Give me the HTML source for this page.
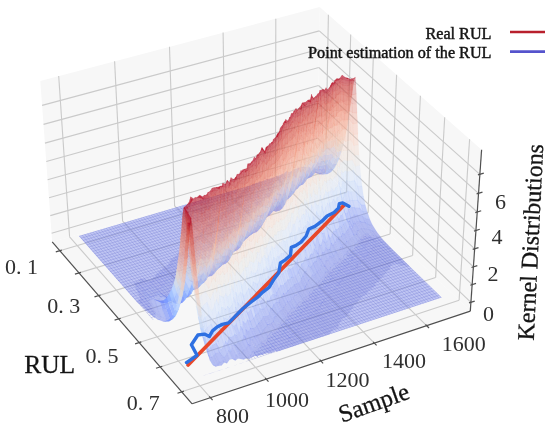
<!DOCTYPE html>
<html><head><meta charset="utf-8"><style>html,body{margin:0;padding:0;background:#fff;overflow:hidden}svg{display:block;filter:blur(0.35px)}</style></head>
<body><svg width="550" height="430" viewBox="0 0 550 430"><path d="M52.2 241.9 192.1 403.8 470.3 311.1 317.2 163.9Z" fill="#f7f7f7"/><path d="M52.2 241.9 317.2 163.9 319.7 7.1 40.3 80.9Z" fill="#f7f7f7"/><path d="M317.2 163.9 470.3 311.1 481.6 149.7 319.7 7.1Z" fill="#f7f7f7"/><g stroke="#cacaca" stroke-width="1.1"><path d="M69.6 236.8L210.4 397.7"/><path d="M69.6 236.8L58.7 76"/><path d="M122.6 221.2L266.2 379.1"/><path d="M122.6 221.2L114.6 61.3"/><path d="M174.6 205.9L320.8 360.9"/><path d="M174.6 205.9L169.5 46.8"/><path d="M225.5 190.9L374.3 343.1"/><path d="M225.5 190.9L223.1 32.6"/><path d="M275.5 176.2L426.6 325.6"/><path d="M275.5 176.2L275.8 18.7"/><path d="M59.8 250.7L325.6 171.9"/><path d="M325.6 171.9L328.4 14.8"/><path d="M79 272.9L346.6 192.1"/><path d="M346.6 192.1L350.7 34.4"/><path d="M98.6 295.6L368.1 212.8"/><path d="M368.1 212.8L373.4 54.4"/><path d="M118.7 318.8L390.1 233.9"/><path d="M390.1 233.9L396.6 74.8"/><path d="M139.2 342.6L412.6 255.5"/><path d="M412.6 255.5L420.4 95.8"/><path d="M160.2 366.9L435.6 277.6"/><path d="M435.6 277.6L444.7 117.2"/><path d="M181.8 391.8L459.1 300.2"/><path d="M459.1 300.2L469.6 139.1"/><path d="M51.6 233.2L317.4 155.3"/><path d="M317.4 155.3L470.9 302.3"/><path d="M50.3 215.6L317.6 138.2"/><path d="M317.6 138.2L472.2 284.7"/><path d="M49 197.8L317.9 120.8"/><path d="M317.9 120.8L473.4 266.9"/><path d="M47.6 179.8L318.2 103.2"/><path d="M318.2 103.2L474.7 248.8"/><path d="M46.3 161.5L318.5 85.5"/><path d="M318.5 85.5L475.9 230.5"/><path d="M44.9 143.1L318.8 67.5"/><path d="M318.8 67.5L477.2 212"/><path d="M43.5 124.4L319 49.3"/><path d="M319 49.3L478.5 193.3"/><path d="M42.1 105.4L319.3 30.9"/><path d="M319.3 30.9L479.9 174.3"/></g><g stroke="#505050" stroke-width="1.2"><path d="M52.2 241.9L192.1 403.8"/><path d="M192.1 403.8L470.3 311.1"/><path d="M470.3 311.1L481.6 149.7"/><path d="M61.8 250.1L55.8 251.9"/><path d="M81 272.3L74.9 274.1"/><path d="M100.6 295L94.5 296.9"/><path d="M120.7 318.2L114.6 320.1"/><path d="M141.3 341.9L135.1 343.9"/><path d="M162.3 366.2L156 368.3"/><path d="M183.9 391.1L177.5 393.2"/><path d="M209.3 396.4L212.6 400.2"/><path d="M265.1 377.9L268.5 381.6"/><path d="M319.7 359.7L323.1 363.3"/><path d="M373.1 341.9L376.6 345.4"/><path d="M425.5 324.5L429 328"/><path d="M469 302.9L474.7 301.1"/><path d="M470.3 285.3L476 283.4"/><path d="M471.5 267.5L477.3 265.6"/><path d="M472.7 249.4L478.5 247.6"/><path d="M474 231.1L479.8 229.3"/><path d="M475.3 212.6L481.2 210.8"/><path d="M476.6 193.9L482.5 192.1"/><path d="M477.9 174.9L483.8 173.1"/></g><defs><clipPath id="fc"><path d="M78.8 236.1 308.5 168.4 312.4 172.2 308.2 171.3 305 171.2 301.1 170.6 298.7 171.3 296.2 172 293.8 172.7 292.8 174.9 290.7 176 289.5 178 288 179.7 286.4 181.2 284.6 182.6 282.7 184 281.7 186.1 278.8 186.5 278.8 189.6 276.7 190.8 275 192.4 272.9 193.5 271.1 194.9 269.9 197 267.7 198 265.8 199.3 264.2 201 262.4 202.5 261.1 204.5 259.2 205.9 257.1 207.1 256.2 209.4 254.6 211.1 253.1 212.9 251.4 214.5 250.1 216.6 248.4 218.2 246 219.1 244.4 220.9 243 222.9 241.5 224.7 240.9 227.5 238.3 228.3 236 229.3 234.3 231 233 233.1 230.8 234.3 229.1 235.9 227.7 238 226.3 240 223.5 240.6 222 242.5 219.9 243.8 219.2 246.6 217.3 248.1 216 250.3 213.7 251.4 212.2 253.4 210.2 254.8 209.4 257.6 207.2 258.8 205.2 260.3 203.1 261.7 201.3 263.4 199.4 265 198.6 267.8 196.8 269.5 193.5 269.7 192.8 272.6 190.5 273.8 188.7 275.6 186.1 276.5 185.7 279.7 183.9 281.5 182.5 283.7 179.7 284.4 178 286.3 175.9 287.8 174.3 289.8 172.1 291.2 171 293.8 168.8 295.2 167.3 297.4 164.4 298 159.8 296.7 156 296.3 154.3 298.3 152 299.6 149.4 300.6 152.2 307.6 155.7 315.6 154.8 318.5 152.6 320ZM202.1 376.1 204.8 375.2 207.6 374.3 210.4 373.4 213.2 372.5 216 371.6 218.7 370.7 221.5 369.7 224.3 368.8 227.1 367.9 229.8 367 232.6 366.1 235.3 365.2 238.1 364.3 240.8 363.4 243.6 362.5 246.2 361.5 247.9 359.4 250.8 358.6 252.1 356.2 254 354.4 254.3 350.9 256.9 349.9 258.7 347.9 261.1 346.7 261.7 343.5 265.1 343.4 266.8 341.5 267.6 338.5 269.5 336.8 271.3 335 273.4 333.4 275.4 331.8 277.7 330.5 278.3 327.5 280.4 326 281.8 323.8 284.2 322.6 285.4 320.2 287.4 318.6 288 315.6 290.2 314.2 291.6 312.1 294.4 311.5 295.8 309.3 297.2 307.1 298.9 305.3 301.2 304.1 302.4 301.8 304.1 299.9 306.5 298.9 309.1 298 309.6 295 311.1 293 312.5 290.9 314 289 316.5 288 318.2 286.3 319.4 284.1 321.1 282.3 322.6 280.4 324.2 278.6 325.1 276 327.2 274.7 329.1 273.2 330.4 271.1 332.2 269.5 333.7 267.7 335.7 266.3 337.9 265.1 339.1 262.9 340.9 261.4 343 260.2 344.7 258.5 346.8 257.2 346.7 253.9 349.7 253.5 350.7 251.1 352.5 249.7 354.3 248.2 356 246.5 357.5 244.7 358.6 242.6 360.7 241.4 361.4 238.9 363 237.2 365 235.9 368.2 235.8 373.2 237.5 376.5 237.5 380.9 238.5 441.7 297.4 202.1 376.1Z"/></clipPath></defs><g fill="#7d8aee" fill-opacity="0.45"><path d="M78.8 236.1 308.5 168.4 308.5 168.4 306 169.1 303.6 169.8 301.1 170.6 298.7 171.3 296.2 172 293.8 172.7 291.3 173.5 288.9 174.2 286.4 174.9 283.9 175.6 281.5 176.4 279 177.1 276.5 177.8 274.1 178.6 271.6 179.3 269.1 180 266.6 180.7 264.1 181.5 261.7 182.2 259.2 182.9 256.7 183.7 254.2 184.4 251.7 185.2 249.2 185.9 246.8 186.7 245.5 188.7 243.6 190 241.5 191.2 240.6 193.5 238.9 195.2 237.4 197 235.7 198.5 234.4 200.6 232.7 202.1 230.3 203.1 228.8 204.8 227.4 206.7 225.8 208.5 225.2 211.3 222.7 212 220.3 213 218.6 214.7 217.3 216.8 215.2 217.9 213.4 219.6 212 221.6 210.6 223.5 207.9 224.1 206.4 226 204.3 227.3 203.5 230.1 201.6 231.5 200.3 233.7 198 234.7 196.6 236.8 194.5 238.1 193.7 240.9 191.5 242 189.5 243.5 187.5 244.9 185.6 246.6 183.7 248.1 182.9 250.9 181.1 252.6 177.9 252.7 177.2 255.6 174.8 256.7 173.1 258.5 170.5 259.4 170.1 262.6 168.2 264.3 166.8 266.5 164 267.1 162.3 269 160.3 270.5 158.6 272.4 156.5 273.8 155.4 276.4 153.2 277.8 151.6 279.9 148.8 280.5 144.2 279.2 140.4 278.8 138.8 280.8 136.4 282.1 133.8 283 136.6 290 140 297.8 139.1 300.7 136.9 302.1Z"/><path d="M202.1 376.1 204.8 375.2 207.6 374.3 210.4 373.4 213.2 372.5 216 371.6 218.7 370.7 221.5 369.7 224.3 368.8 227.1 367.9 229.8 367 232.6 366.1 235.3 365.2 238.1 364.3 240.8 363.4 243.6 362.5 246.3 361.6 249.1 360.7 251.8 359.8 254.5 358.9 257.3 358 260 357.1 262.7 356.2 265.5 355.3 268.2 354.4 270.9 353.5 273.6 352.6 276.3 351.7 279 350.8 281.7 349.9 284.5 349.1 287.2 348.2 289.9 347.3 292.5 346.4 295.2 345.5 297.9 344.6 300.6 343.7 303.3 342.9 306 342 308.7 341.1 311.3 340.2 314 339.3 316.7 338.5 319.4 337.6 322 336.7 324.7 335.8 327.3 335 329.9 334 331.1 331.6 332.8 329.7 335.2 328.6 337.8 327.7 338.3 324.6 339.8 322.6 341.2 320.4 342.7 318.5 345.2 317.4 346.9 315.7 348.1 313.3 349.8 311.6 351.3 309.6 352.9 307.7 353.7 305.1 355.8 303.7 357.7 302.2 359 300 360.8 298.4 362.4 296.5 364.3 295 366.6 293.8 367.7 291.6 369.5 290 371.7 288.7 373.3 286.9 375.4 285.7 375.3 282.2 378.3 281.8 379.2 279.4 381.1 277.9 382.9 276.4 384.6 274.7 386 272.8 387.1 270.6 389.3 269.4 389.9 266.8 391.5 265 393.6 263.8 396.8 263.6 401.9 265.3 405.2 265.3 409.6 266.3 441.7 297.4 202.1 376.1Z"/></g><g clip-path="url(#fc)" stroke="#5560c8" stroke-opacity="0.45" stroke-width="0.5"><path d="M78.8 236.1L308.5 168.4"/><path d="M80.8 238.3L310.6 170.4"/><path d="M82.7 240.5L312.6 172.4"/><path d="M84.6 242.7L314.7 174.5"/><path d="M86.5 244.9L316.8 176.5"/><path d="M88.5 247.1L318.9 178.5"/><path d="M90.4 249.3L321 180.6"/><path d="M92.4 251.5L323.1 182.6"/><path d="M94.3 253.7L325.3 184.6"/><path d="M96.3 255.9L327.4 186.7"/><path d="M98.2 258.2L329.5 188.7"/><path d="M100.2 260.4L331.6 190.8"/><path d="M102.2 262.6L333.7 192.9"/><path d="M104.1 264.9L335.9 194.9"/><path d="M106.1 267.1L338 197"/><path d="M108.1 269.4L340.2 199.1"/><path d="M110.1 271.6L342.3 201.2"/><path d="M112.1 273.9L344.5 203.2"/><path d="M114 276.1L346.6 205.3"/><path d="M116 278.4L348.8 207.4"/><path d="M118 280.7L351 209.5"/><path d="M120.1 283L353.1 211.6"/><path d="M122.1 285.3L355.3 213.7"/><path d="M124.1 287.5L357.5 215.8"/><path d="M126.1 289.8L359.7 218"/><path d="M128.1 292.1L361.9 220.1"/><path d="M130.2 294.5L364.1 222.2"/><path d="M132.2 296.8L366.3 224.3"/><path d="M134.2 299.1L368.5 226.5"/><path d="M136.3 301.4L370.7 228.6"/><path d="M138.3 303.7L372.9 230.8"/><path d="M140.4 306.1L375.1 232.9"/><path d="M142.4 308.4L377.3 235.1"/><path d="M144.5 310.7L379.6 237.2"/><path d="M146.6 313.1L381.8 239.4"/><path d="M148.6 315.5L384 241.6"/><path d="M150.7 317.8L386.3 243.7"/><path d="M152.8 320.2L388.5 245.9"/><path d="M154.9 322.5L390.8 248.1"/><path d="M157 324.9L393.1 250.3"/><path d="M159.1 327.3L395.3 252.5"/><path d="M161.2 329.7L397.6 254.7"/><path d="M163.3 332.1L399.9 256.9"/><path d="M165.4 334.5L402.1 259.1"/><path d="M167.5 336.9L404.4 261.3"/><path d="M169.6 339.3L406.7 263.5"/><path d="M171.8 341.7L409 265.7"/><path d="M173.9 344.1L411.3 268"/><path d="M176 346.6L413.6 270.2"/><path d="M178.2 349L415.9 272.4"/><path d="M180.3 351.4L418.2 274.7"/><path d="M182.5 353.9L420.6 276.9"/><path d="M184.6 356.3L422.9 279.2"/><path d="M186.8 358.8L425.2 281.4"/><path d="M189 361.2L427.6 283.7"/><path d="M191.1 363.7L429.9 286"/><path d="M193.3 366.2L432.2 288.2"/><path d="M195.5 368.7L434.6 290.5"/><path d="M197.7 371.2L437 292.8"/><path d="M199.9 373.6L439.3 295.1"/><path d="M202.1 376.1L441.7 297.4"/><path d="M76.7 236.8L199.8 376.9"/><path d="M79.4 236L202.6 376"/><path d="M82.1 235.2L205.4 375"/><path d="M84.7 234.4L208.2 374.1"/><path d="M87.4 233.6L211.1 373.2"/><path d="M90.1 232.8L213.9 372.3"/><path d="M92.8 232L216.7 371.3"/><path d="M95.5 231.2L219.5 370.4"/><path d="M98.1 230.5L222.3 369.5"/><path d="M100.8 229.7L225 368.6"/><path d="M103.5 228.9L227.8 367.7"/><path d="M106.1 228.1L230.6 366.8"/><path d="M108.8 227.3L233.4 365.8"/><path d="M111.5 226.5L236.2 364.9"/><path d="M114.1 225.7L239 364"/><path d="M116.8 225L241.7 363.1"/><path d="M119.4 224.2L244.5 362.2"/><path d="M122.1 223.4L247.3 361.3"/><path d="M124.7 222.6L250 360.4"/><path d="M127.3 221.8L252.8 359.5"/><path d="M130 221.1L255.6 358.6"/><path d="M132.6 220.3L258.3 357.6"/><path d="M135.3 219.5L261.1 356.7"/><path d="M137.9 218.7L263.8 355.8"/><path d="M140.5 217.9L266.6 354.9"/><path d="M143.1 217.2L269.3 354"/><path d="M145.8 216.4L272.1 353.1"/><path d="M148.4 215.6L274.8 352.2"/><path d="M151 214.9L277.5 351.3"/><path d="M153.6 214.1L280.3 350.4"/><path d="M156.2 213.3L283 349.5"/><path d="M158.9 212.5L285.7 348.6"/><path d="M161.5 211.8L288.5 347.7"/><path d="M164.1 211L291.2 346.9"/><path d="M166.7 210.2L293.9 346"/><path d="M169.3 209.5L296.6 345.1"/><path d="M171.9 208.7L299.3 344.2"/><path d="M174.5 207.9L302 343.3"/><path d="M177.1 207.2L304.7 342.4"/><path d="M179.7 206.4L307.4 341.5"/><path d="M182.2 205.6L310.1 340.6"/><path d="M184.8 204.9L312.8 339.7"/><path d="M187.4 204.1L315.5 338.8"/><path d="M190 203.4L318.2 338"/><path d="M192.6 202.6L320.9 337.1"/><path d="M195.1 201.8L323.6 336.2"/><path d="M197.7 201.1L326.3 335.3"/><path d="M200.3 200.3L329 334.4"/><path d="M202.9 199.6L331.7 333.5"/><path d="M205.4 198.8L334.3 332.7"/><path d="M208 198L337 331.8"/><path d="M210.5 197.3L339.7 330.9"/><path d="M213.1 196.5L342.3 330"/><path d="M215.7 195.8L345 329.2"/><path d="M218.2 195L347.7 328.3"/><path d="M220.8 194.3L350.3 327.4"/><path d="M223.3 193.5L353 326.5"/><path d="M225.9 192.8L355.6 325.7"/><path d="M228.4 192L358.3 324.8"/><path d="M230.9 191.3L360.9 323.9"/><path d="M233.5 190.5L363.6 323"/><path d="M236 189.8L366.2 322.2"/><path d="M238.5 189L368.9 321.3"/><path d="M241.1 188.3L371.5 320.4"/><path d="M243.6 187.5L374.1 319.6"/><path d="M246.1 186.8L376.8 318.7"/><path d="M248.7 186.1L379.4 317.8"/><path d="M251.2 185.3L382 317"/><path d="M253.7 184.6L384.7 316.1"/><path d="M256.2 183.8L387.3 315.3"/><path d="M258.7 183.1L389.9 314.4"/><path d="M261.2 182.3L392.5 313.5"/><path d="M263.7 181.6L395.1 312.7"/><path d="M266.2 180.9L397.7 311.8"/><path d="M268.7 180.1L400.3 311"/><path d="M271.2 179.4L402.9 310.1"/><path d="M273.7 178.6L405.5 309.3"/><path d="M276.2 177.9L408.1 308.4"/><path d="M278.7 177.2L410.7 307.5"/><path d="M281.2 176.4L413.3 306.7"/><path d="M283.7 175.7L415.9 305.8"/><path d="M286.2 175L418.5 305"/><path d="M288.7 174.2L421.1 304.1"/><path d="M291.2 173.5L423.7 303.3"/><path d="M293.7 172.8L426.3 302.4"/><path d="M296.1 172L428.8 301.6"/><path d="M298.6 171.3L431.4 300.8"/><path d="M301.1 170.6L434 299.9"/><path d="M303.5 169.9L436.6 299.1"/><path d="M306 169.1L439.1 298.2"/><path d="M308.5 168.4L441.7 297.4"/></g><g fill-opacity="0.45" stroke-opacity="0.12" stroke-width="0.5"><path d="M306.1 167.2l2.4-.7 4 2.9-4.2-.6z" fill="#5b6ae1" stroke="#5b6ae1"/><path d="M303.6 166.7l2.4 .5 2.2 1.6-3.2-1.2z" fill="#5c6ce2" stroke="#5c6ce2"/><path d="M301.2 167.4l2.5-.7 1.4 1-3.9-.3z" fill="#5d6de4" stroke="#5d6de4"/><path d="M298.7 167.9l2.5-.5 4.6 2.5-3.1 .2z" fill="#5e70e6" stroke="#5e70e6"/><path d="M291.3 171.5l2.5-2.2-0 .1-1 3.2z" fill="#5c6ce2" stroke="#5c6ce2"/><path d="M301.2 167.3l3.9 .3 5.5 2.9-4.8-.7z" fill="#6072e8" stroke="#6072e8"/><path d="M308.3 168.8l4.2 .6 5.5 3.2-4.2-.4z" fill="#5e6fe5" stroke="#5e6fe5"/><path d="M305.1 167.7l3.2 1.2 5.5 3.4-3.2-1.7z" fill="#5e70e6" stroke="#5e70e6"/><path d="M296.3 169.1l2.5-1.3 3.9 2.2-2 1.8z" fill="#5f70e6" stroke="#5f70e6"/><path d="M288.9 172l2.5-.5 1.5 1.1-2.2 .7z" fill="#5b6ae1" stroke="#5b6ae1"/><path d="M293.8 169.4l2.5-.3 4.4 2.7-1.6 .4z" fill="#5e70e6" stroke="#5e70e6"/><path d="M286.4 171.5l2.5 .5 1.8 1.4-1.1 .1z" fill="#5d6de4" stroke="#5d6de4"/><path d="M292.8 172.7l1-3.3 5.2 2.8-.7 4z" fill="#5d6fe5" stroke="#5d6fe5"/><path d="M284 173.6l2.5-2.1 3.1 2-1.5 3.1z" fill="#5d6de4" stroke="#5d6de4"/><path d="M290.7 173.4l2.1-.7 5.5 3.5-2.1 .6z" fill="#5c6de4" stroke="#5c6de4"/><path d="M281.5 174.4l2.5-.8 4.1 2.9-1.7 1.5z" fill="#5c6ce2" stroke="#5c6ce2"/><path d="M274.1 177.2l2.5-1.2-0-0-1.6 2z" fill="#5a69e0" stroke="#5a69e0"/><path d="M302.7 170.1l3.1-.2 5.3 1.7-3.1-.3z" fill="#647aee" stroke="#647aee"/><path d="M279 175.8l2.5-1.4 4.9 3.6-1.8 2.2z" fill="#5b6ae1" stroke="#5b6ae1"/><path d="M271.6 178l2.5-.8 .9 .8-2.9 .5z" fill="#5967de" stroke="#5967de"/><path d="M300.7 171.8l2-1.8 5.4 1.3-2.1 2.3z" fill="#6378ec" stroke="#6378ec"/><path d="M305.8 169.9l4.8 .6 5.4 1.1-4.9-0z" fill="#657bef" stroke="#657bef"/><path d="M313.8 172.2l4.2 .4 5.4 1.6-4.2-.1z" fill="#6276eb" stroke="#6276eb"/><path d="M310.6 170.5l3.2 1.7 5.4 2-3.2-2.6z" fill="#647aee" stroke="#647aee"/><path d="M276.5 176l2.5-.2 5.5 4.4-1.8 .4z" fill="#5b6ae1" stroke="#5b6ae1"/><path d="M269.1 178.9l2.5-.9 .5 .4-.1 3z" fill="#5967de" stroke="#5967de"/><path d="M289.6 173.5l1.1-.1 5.5 3.4-1.1-.8z" fill="#5f72e8" stroke="#5f72e8"/><path d="M299.1 172.2l1.6-.4 5.3 1.7-1.6 .1z" fill="#6378ec" stroke="#6378ec"/><path d="M275 177.9l1.6-2 6.2 4.6-1.1 2.6z" fill="#5b6ae1" stroke="#5b6ae1"/><path d="M266.6 179.2l2.5-.3 2.9 2.5-2.1 .6z" fill="#5a69e0" stroke="#5a69e0"/><path d="M288.1 176.5l1.5-3.1 5.5 2.5-1.5 3.6z" fill="#6073e9" stroke="#6073e9"/><path d="M272.1 178.4l2.8-.5 6.8 5.2-2.9 .6z" fill="#5b6ae1" stroke="#5b6ae1"/><path d="M298.3 176.2l.8-3.9 5.3 1.4-.8 4.5z" fill="#6378ec" stroke="#6378ec"/><path d="M264.1 180.5l2.5-1.2 3.3 2.7-1.6 2.2z" fill="#5967de" stroke="#5967de"/><path d="M286.4 178l1.6-1.5 5.5 3-1.6 1.6z" fill="#5e70e6" stroke="#5e70e6"/><path d="M261.7 181.6l2.5-1.1 4.2 3.7-2.1 1.5z" fill="#5967df" stroke="#5967df"/><path d="M254.2 184.4l2.5-.7-0-.5-2.4 .7z" fill="#5764dc" stroke="#5764dc"/><path d="M296.2 176.8l2.1-.6 5.4 2-2.2 .4z" fill="#6277eb" stroke="#6277eb"/><path d="M272 181.4l.1-3 6.7 5.3-.1 2.9z" fill="#5b6ae1" stroke="#5b6ae1"/><path d="M284.6 180.2l1.8-2.2 5.5 3.1-1.8 2.6z" fill="#5d6fe5" stroke="#5d6fe5"/><path d="M251.7 185.2l2.5-.7 .1-.5-1.9 .8z" fill="#5764dc" stroke="#5764dc"/><path d="M259.2 181.6l2.5-.1 4.6 4.2-1.9 .3z" fill="#5967df" stroke="#5967df"/><path d="M308 171.3l3.1 .2 4.1-.4-3.1 0z" fill="#6d86f6" stroke="#6d86f6" fill-opacity=".6"/><path d="M306 173.6l2-2.3 4.1-.2-2 2.4z" fill="#6b84f5" stroke="#6b84f5" fill-opacity=".6"/><path d="M319.2 174.2l4.2 .1 4.2-.3-4.3 0z" fill="#6a83f4" stroke="#6a83f4" fill-opacity=".5"/><path d="M249.2 185.9l2.5-.7 .7-.4-1.6 2.1z" fill="#5764dc" stroke="#5764dc"/><path d="M311.1 171.5l4.8 .1 4.2-.9-4.9 .4z" fill="#6d87f7" stroke="#6d87f7" fill-opacity=".6"/><path d="M282.7 180.5l1.8-.3 5.5 3.5-1.8-.2z" fill="#5d6fe5" stroke="#5d6fe5"/><path d="M256.7 183.2l2.5-1.5 5.2 4.4-1.2 3.1z" fill="#5967df" stroke="#5967df"/><path d="M316 171.6l3.2 2.6 4.1-.2-3.2-3.2z" fill="#6d85f6" stroke="#6d85f6" fill-opacity=".6"/><path d="M269.9 182l2.1-.6 6.7 5.2-2.1 .3z" fill="#5c6ce3" stroke="#5c6ce3"/><path d="M295.1 175.9l1.1 .8 5.4 1.8-1.2-1.8z" fill="#667df0" stroke="#667df0"/><path d="M254.3 183.9l2.4-.8 6.5 6-2.2 .9z" fill="#5865dd" stroke="#5865dd"/><path d="M246.8 186.7l2.4-.8 1.7 1-1.9 1.1z" fill="#5764dc" stroke="#5764dc"/><path d="M304.4 173.6l1.6-.1 4-.1-1.5-.5z" fill="#6b84f5" stroke="#6b84f5" fill-opacity=".6"/><path d="M281.7 183.1l1-2.6 5.5 3-1 2.8z" fill="#5e70e6" stroke="#5e70e6"/><path d="M268.3 184.1l1.6-2.1 6.8 4.8-1.7 2.5z" fill="#5c6ce3" stroke="#5c6ce3"/><path d="M252.4 184.8l1.9-.8 6.7 6.1-1.9 .4z" fill="#5967df" stroke="#5967df"/><path d="M245.5 188.7l1.3-1.9 2.2 1.3-1.3 2.6z" fill="#5764dc" stroke="#5764dc"/><path d="M293.5 179.5l1.5-3.5 5.4 .8-1.6 4.1z" fill="#677ef1" stroke="#677ef1"/><path d="M303.7 178.2l.8-4.5 4-.8-.7 5.5z" fill="#6b84f5" stroke="#6b84f5" fill-opacity=".6"/><path d="M266.2 185.7l2.1-1.6 6.7 5.2-2.1 2z" fill="#5a69e0" stroke="#5a69e0"/><path d="M278.9 183.7l2.8-.6 5.5 3.2-2.8 .6z" fill="#5d6fe5" stroke="#5d6fe5"/><path d="M291.9 181.1l1.6-1.6 5.4 1.4-1.7 1.6z" fill="#657bef" stroke="#657bef"/><path d="M250.8 186.9l1.6-2.2 6.6 5.7-1.5 2.6z" fill="#5967df" stroke="#5967df"/><path d="M301.5 178.6l2.1-.4 4.1 .2-2.1-.1z" fill="#6981f3" stroke="#6981f3" fill-opacity=".5"/><path d="M243.6 190l1.9-1.4 2.2 2.1-1.9 1z" fill="#5764dc" stroke="#5764dc"/><path d="M264.4 186l1.8-.3 6.8 5.5-1.9-.4z" fill="#5b6ae1" stroke="#5b6ae1"/><path d="M278.8 186.6l.1-2.9 5.5 3.1-.1 3z" fill="#5d6fe5" stroke="#5d6fe5"/><path d="M290 183.7l1.9-2.6 5.3 1.3-1.9 3.3z" fill="#6378ec" stroke="#6378ec"/><path d="M312.1 171.1l3.1-0 3.7-2-3.1-0z" fill="#7794ff" stroke="#7794ff" fill-opacity=".8"/><path d="M249 188l1.8-1.1 6.7 6.1-1.8 .8z" fill="#5967df" stroke="#5967df"/><path d="M241.5 191.2l2.1-1.2 2.2 1.7-2.1 .8z" fill="#5764dc" stroke="#5764dc"/><path d="M310.1 173.4l2-2.3 3.8-2.1-2.1 2.5z" fill="#7692fe" stroke="#7692fe" fill-opacity=".8"/><path d="M323.3 174l4.2 0 3.9-2.3-4.3 .5z" fill="#748ffc" stroke="#748ffc" fill-opacity=".7"/><path d="M315.2 171.1l4.9-.3 3.8-2.8-5 1.1z" fill="#7997ff" stroke="#7997ff" fill-opacity=".8"/><path d="M263.2 189.2l1.2-3.1 6.7 4.7-1.2 4z" fill="#5b6ae1" stroke="#5b6ae1"/><path d="M288.2 183.6l1.8 .2 5.3 2-1.8-.9z" fill="#6378ec" stroke="#6378ec"/><path d="M320.1 170.8l3.2 3.3 3.8-1.9-3.2-4.1z" fill="#7794ff" stroke="#7794ff" fill-opacity=".8"/><path d="M247.7 190.7l1.3-2.7 6.7 5.9-1.3 3.2z" fill="#5865dd" stroke="#5865dd"/><path d="M300.4 176.8l1.1 1.8 4.1-.3-1.1-2.6z" fill="#6e88f8" stroke="#6e88f8" fill-opacity=".6"/><path d="M276.7 186.9l2.1-.2 5.5 3.2-2.1-.3z" fill="#5f72e8" stroke="#5f72e8"/><path d="M308.5 172.9l1.6 .5 3.7-1.8-1.6-1z" fill="#7794ff" stroke="#7794ff" fill-opacity=".8"/><path d="M240.6 193.5l.9-2.3 2.3 1.2-1 2.8z" fill="#5764dc" stroke="#5764dc"/><path d="M261 190l2.2-.9 6.7 5.6-2.2 .7z" fill="#5a69e0" stroke="#5a69e0"/><path d="M245.8 191.7l1.9-1 6.7 6.4-1.9 .8z" fill="#5866dd" stroke="#5866dd"/><path d="M287.2 186.4l1-2.8 5.4 1.3-1.1 3.1z" fill="#6479ed" stroke="#6479ed"/><path d="M275.1 189.3l1.6-2.5 5.5 2.7-1.6 2.9z" fill="#5f72e8" stroke="#5f72e8"/><path d="M307.7 178.3l.8-5.4 3.7-2.4-.8 6.3z" fill="#7693fe" stroke="#7693fe" fill-opacity=".8"/><path d="M259.1 190.5l1.9-.4 6.7 5.4-1.9-.1z" fill="#5b6ae1" stroke="#5b6ae1"/><path d="M238.9 195.2l1.6-1.7 2.3 1.7-1.7 1.4z" fill="#5764dc" stroke="#5764dc"/><path d="M298.9 180.9l1.5-4.1 4.1-1.2-1.5 5z" fill="#718bfa" stroke="#718bfa" fill-opacity=".7"/><path d="M272.9 191.3l2.1-1.9 5.5 3.1-2.1 2.5z" fill="#5e6fe5" stroke="#5e6fe5"/><path d="M284.3 186.9l2.9-.5 5.3 1.6-2.9 .6z" fill="#6378ec" stroke="#6378ec"/><path d="M243.7 192.5l2.1-.8 6.7 6.2-2.1 .5z" fill="#5967df" stroke="#5967df"/><path d="M305.6 178.3l2.1 .1 3.7-1.6-2.1-.4z" fill="#738efb" stroke="#738efb" fill-opacity=".7"/><path d="M297.2 182.5l1.6-1.6 4.1-.3-1.6 1.4z" fill="#6e87f7" stroke="#6e87f7" fill-opacity=".6"/><path d="M257.5 193l1.6-2.6 6.7 4.9-1.6 3.2z" fill="#5b6ae1" stroke="#5b6ae1"/><path d="M237.4 197l1.5-1.8 2.2 1.5-1.5 1.6z" fill="#5764dc" stroke="#5764dc"/><path d="M271.1 190.8l1.8 .5 5.5 3.6-1.8-1.3z" fill="#5e70e6" stroke="#5e70e6"/><path d="M295.4 185.8l1.9-3.3 4-.5-1.9 3.7z" fill="#6b84f5" stroke="#6b84f5" fill-opacity=".6"/><path d="M315.8 169.1l3.1 .1 2.8-3.5-3.1-0z" fill="#87a7ff" stroke="#87a7ff" fill-opacity=".8"/><path d="M284.3 189.8l.1-3 5.3 1.8-.1 2.8z" fill="#6378ec" stroke="#6378ec"/><path d="M313.8 171.6l2.1-2.5 2.7-3.4-2 2.7z" fill="#84a4ff" stroke="#84a4ff" fill-opacity=".8"/><path d="M242.8 195.2l.9-2.8 6.7 5.9-.9 3.1z" fill="#5967df" stroke="#5967df"/><path d="M327 172.2l4.3-.5 2.8-3.4-4.3 .5z" fill="#83a3ff" stroke="#83a3ff" fill-opacity=".8"/><path d="M255.7 193.9l1.8-.8 6.7 5.4-1.8 .6z" fill="#5b6ae1" stroke="#5b6ae1"/><path d="M319 169.1l4.9-1.1 2.8-3.6-4.9 1.2z" fill="#8aabff" stroke="#8aabff" fill-opacity=".8"/><path d="M323.9 168.1l3.2 4.1 2.8-3.3-3.2-4.5z" fill="#88a8ff" stroke="#88a8ff" fill-opacity=".8"/><path d="M235.7 198.5l1.7-1.6 2.3 1.4-1.8 1.9z" fill="#5764dc" stroke="#5764dc"/><path d="M293.6 184.9l1.8 .9 4.1-.1-1.8-1.5z" fill="#6b84f5" stroke="#6b84f5" fill-opacity=".6"/><path d="M269.9 194.8l1.2-4 5.5 2.8-1.2 4.9z" fill="#5e70e6" stroke="#5e70e6"/><path d="M312.2 170.6l1.6 1 2.7-3.1-1.5-1.3z" fill="#87a7ff" stroke="#87a7ff" fill-opacity=".8"/><path d="M254.4 197.1l1.3-3.3 6.7 5.2-1.3 4.2z" fill="#5a69e0" stroke="#5a69e0"/><path d="M304.5 175.7l1.1 2.6 3.7-1.8-1.1-3.7z" fill="#7a98ff" stroke="#7a98ff" fill-opacity=".8"/><path d="M241.2 196.6l1.6-1.4 6.7 6.1-1.6 1.3z" fill="#5967df" stroke="#5967df"/><path d="M267.7 195.5l2.2-.7 5.5 3.7-2.2 .5z" fill="#5d6de4" stroke="#5d6de4"/><path d="M282.2 189.6l2.1 .3 5.3 1.6-2.1-.9z" fill="#657bef" stroke="#657bef"/><path d="M234.4 200.6l1.3-2.1 2.2 1.7-1.3 1.7z" fill="#5764dc" stroke="#5764dc"/><path d="M252.5 197.9l1.9-.7 6.7 6-1.9 .2z" fill="#5967de" stroke="#5967de"/><path d="M292.5 187.9l1-3.1 4.1-.7-1 3.4z" fill="#6c85f6" stroke="#6c85f6" fill-opacity=".6"/><path d="M311.4 176.8l.8-6.2 2.8-3.5-.8 6.6z" fill="#84a4ff" stroke="#84a4ff" fill-opacity=".8"/><path d="M280.5 192.5l1.6-2.9 5.4 1-1.7 3.6z" fill="#657bef" stroke="#657bef"/><path d="M239.7 198.3l1.5-1.7 6.7 6-1.5 1.6z" fill="#5967df" stroke="#5967df"/><path d="M265.8 195.4l1.9 .1 5.5 3.5-1.9-.8z" fill="#5e70e6" stroke="#5e70e6"/><path d="M278.4 194.9l2.1-2.5 5.3 1.8-2.1 2.8z" fill="#6276eb" stroke="#6276eb"/><path d="M289.7 188.6l2.9-.6 4-.5-2.9 1z" fill="#6b84f5" stroke="#6b84f5" fill-opacity=".6"/><path d="M302.9 180.6l1.5-4.9 3.8-3-1.6 5.7z" fill="#7c9bff" stroke="#7c9bff" fill-opacity=".8"/><path d="M309.3 176.4l2.1 .4 2.8-3.1-2.1-.6z" fill="#81a0ff" stroke="#81a0ff" fill-opacity=".8"/><path d="M232.7 202.1l1.7-1.6 2.3 1.4-1.8 .9z" fill="#5866dd" stroke="#5866dd"/><path d="M301.3 182l1.6-1.4 3.8-2.2-1.7 1.3z" fill="#7997ff" stroke="#7997ff" fill-opacity=".8"/><path d="M250.4 198.3l2.1-.4 6.7 5.5-2.1-.1z" fill="#5b6ae1" stroke="#5b6ae1"/><path d="M237.9 200.2l1.7-1.9 6.7 5.9-1.7 2.2z" fill="#5967df" stroke="#5967df"/><path d="M264.2 198.5l1.6-3.1 5.4 2.8-1.5 3.8z" fill="#5e70e6" stroke="#5e70e6"/><path d="M318.6 165.7l3.1-0 2.7-5-3.1 .2z" fill="#9bbcff" stroke="#9bbcff" fill-opacity=".8"/><path d="M299.4 185.6l1.9-3.7 3.7-2.3-1.9 4.6z" fill="#7693fe" stroke="#7693fe" fill-opacity=".8"/><path d="M230.3 203.1l2.4-.9 2.2 .7-2.4 1.8z" fill="#5866dd" stroke="#5866dd"/><path d="M289.6 191.5l.1-2.9 4-0-0 2.4z" fill="#6b84f5" stroke="#6b84f5" fill-opacity=".6"/><path d="M276.6 193.6l1.8 1.3 5.3 2.2-1.8-2.6z" fill="#647aed" stroke="#647aed"/><path d="M316.6 168.4l2.1-2.8 2.7-4.8-2.1 2.7z" fill="#99baff" stroke="#99baff" fill-opacity=".8"/><path d="M329.9 168.8l4.3-.6 2.8-4.7-4.4 .7z" fill="#97b7ff" stroke="#97b7ff" fill-opacity=".8"/><path d="M249.5 201.4l.9-3.1 6.7 5-.9 3.6z" fill="#5b6ae1" stroke="#5b6ae1"/><path d="M262.4 199l1.8-.5 5.5 3.5-1.8-0z" fill="#5d6fe5" stroke="#5d6fe5"/><path d="M321.7 165.6l4.9-1.3 2.8-5.1-5 1.5z" fill="#9fbfff" stroke="#9fbfff" fill-opacity=".8"/><path d="M326.7 164.4l3.2 4.5 2.7-4.6-3.1-5z" fill="#9dbdff" stroke="#9dbdff" fill-opacity=".8"/><path d="M228.8 204.8l1.6-1.7 2.2 1.5-1.6 1.6z" fill="#5764dc" stroke="#5764dc"/><path d="M236.7 201.9l1.3-1.7 6.6 6.2-1.2 1.5z" fill="#5967df" stroke="#5967df"/><path d="M297.6 184.2l1.8 1.5 3.7-1.4-1.8-2.8z" fill="#7692fe" stroke="#7692fe" fill-opacity=".8"/><path d="M275.4 198.5l1.2-4.9 5.3 .9-1.2 6.1z" fill="#647aee" stroke="#647aee"/><path d="M315 167.1l1.6 1.3 2.7-4.9-1.6-.9z" fill="#9abbff" stroke="#9abbff" fill-opacity=".8"/><path d="M308.2 172.7l1.1 3.7 2.7-3.3-1-4.2z" fill="#8bacff" stroke="#8bacff" fill-opacity=".8"/><path d="M261.1 203.2l1.3-4.2 5.5 3-1.3 5.4z" fill="#5d6de4" stroke="#5d6de4"/><path d="M273.2 198.9l2.2-.5 5.3 2.2-2.2 .3z" fill="#6175ea" stroke="#6175ea"/><path d="M247.8 202.6l1.6-1.2 6.7 5.5-1.6 .9z" fill="#5b6ae1" stroke="#5b6ae1"/><path d="M287.5 190.6l2.1 .9 4.1-.5-2.1-1.3z" fill="#6d87f7" stroke="#6d87f7" fill-opacity=".6"/><path d="M227.4 206.7l1.4-1.9 2.2 1.4-1.4 2.3z" fill="#5764dc" stroke="#5764dc"/><path d="M314.2 173.7l.8-6.6 2.7-4.4-.8 6.3z" fill="#98b8ff" stroke="#98b8ff" fill-opacity=".8"/><path d="M234.9 202.9l1.7-1 6.7 6-1.7 .5z" fill="#5a69e0" stroke="#5a69e0"/><path d="M259.2 203.4l1.9-.2 5.5 4.2-1.9-.4z" fill="#5c6ce3" stroke="#5c6ce3"/><path d="M296.6 187.5l1-3.3 3.8-2.7-1.1 3.5z" fill="#7895ff" stroke="#7895ff" fill-opacity=".8"/><path d="M285.9 194.2l1.6-3.6 4.1-1-1.7 4z" fill="#6f88f8" stroke="#6f88f8" fill-opacity=".6"/><path d="M312.1 173.2l2.1 .6 2.7-4.7-2.1-.5z" fill="#94b5ff" stroke="#94b5ff" fill-opacity=".8"/><path d="M283.7 197l2.1-2.8 4.1-.7-2.2 3.4z" fill="#6b83f4" stroke="#6b83f4" fill-opacity=".5"/><path d="M293.7 188.5l2.9-1 3.7-2.6-2.9 1.2z" fill="#7692fe" stroke="#7692fe" fill-opacity=".8"/><path d="M306.7 178.4l1.6-5.6 2.7-3.8-1.5 5.7z" fill="#8fafff" stroke="#8fafff" fill-opacity=".8"/><path d="M232.6 204.6l2.4-1.8 6.6 5.5-2.3 2.4z" fill="#5a69e0" stroke="#5a69e0"/><path d="M271.3 198.2l1.9 .8 5.3 2-1.9-1.8z" fill="#6479ed" stroke="#6479ed"/><path d="M225.8 208.5l1.6-1.8 2.2 1.8-1.6 1.8z" fill="#5764dc" stroke="#5764dc"/><path d="M246.3 204.3l1.5-1.6 6.7 5.2-1.5 1.5z" fill="#5b6ae1" stroke="#5b6ae1"/><path d="M305 179.7l1.6-1.3 2.8-3.7-1.6 1.7z" fill="#89a9ff" stroke="#89a9ff" fill-opacity=".8"/><path d="M231 206.2l1.6-1.6 6.6 6.2-1.5 1.4z" fill="#5967df" stroke="#5967df"/><path d="M257.1 203.3l2.1 .1 5.5 3.6-2.1-.8z" fill="#5f70e6" stroke="#5f70e6"/><path d="M303.1 184.2l1.9-4.6 2.8-3.3-1.9 4.5z" fill="#84a4ff" stroke="#84a4ff" fill-opacity=".8"/><path d="M269.7 202l1.6-3.9 5.3 1.1-1.6 4.6z" fill="#6479ed" stroke="#6479ed"/><path d="M244.6 206.4l1.7-2.1 6.7 5.1-1.7 2.5z" fill="#5b6ae1" stroke="#5b6ae1"/><path d="M293.6 191l0-2.4 3.8-2.5-.1 2.6z" fill="#7692fe" stroke="#7692fe" fill-opacity=".8"/><path d="M321.3 160.9l3.1-.2 2.6-5.7-3.1-.7z" fill="#b6d0ff" stroke="#b6d0ff" fill-opacity=".8"/><path d="M281.9 194.5l1.8 2.5 4-0-1.8-3.3z" fill="#6d86f6" stroke="#6d86f6" fill-opacity=".6"/><path d="M319.3 163.5l2.1-2.6 2.6-6.7-2.1 3z" fill="#b3cfff" stroke="#b3cfff" fill-opacity=".8"/><path d="M225.2 211.3l.6-2.8 2.2 1.8-.6 2.7z" fill="#5764dc" stroke="#5764dc"/><path d="M332.6 164.3l4.3-.7 2.7-5.8-4.4 .8z" fill="#b0ccff" stroke="#b0ccff" fill-opacity=".8"/><path d="M301.3 181.5l1.8 2.8 2.7-3.4-1.8-2.4z" fill="#86a5ff" stroke="#86a5ff" fill-opacity=".8"/><path d="M229.6 208.5l1.4-2.3 6.7 6-1.4 2.6z" fill="#5967df" stroke="#5967df"/><path d="M256.2 206.9l.9-3.6 5.5 3-.9 4.1z" fill="#5e70e6" stroke="#5e70e6"/><path d="M267.9 202l1.8 0 5.3 1.8-1.8-.7z" fill="#6378ec" stroke="#6378ec"/><path d="M329.4 159.3l3.2 5 2.6-5.7-3.2-5z" fill="#b6d0ff" stroke="#b6d0ff" fill-opacity=".8"/><path d="M324.5 160.7l5-1.4 2.6-5.8-5 1.5z" fill="#b9d2ff" stroke="#b9d2ff" fill-opacity=".8"/><path d="M243.4 207.9l1.3-1.5 6.7 5.6-1.3 1z" fill="#5b6ae1" stroke="#5b6ae1"/><path d="M280.7 200.6l1.2-6.1 4.1-.7-1.3 6.8z" fill="#6b84f5" stroke="#6b84f5" fill-opacity=".6"/><path d="M311 169l1.1 4.2 2.7-4.7-1.1-4.8z" fill="#a1c1ff" stroke="#a1c1ff" fill-opacity=".8"/><path d="M317.7 162.7l1.6 .8 2.6-6.3-1.6-.5z" fill="#b5cfff" stroke="#b5cfff" fill-opacity=".8"/><path d="M266.6 207.4l1.3-5.4 5.3 1.1-1.3 7.4z" fill="#6175ea" stroke="#6175ea"/><path d="M222.7 212l2.5-.8 2.3 1.7-2.6 1z" fill="#5764dc" stroke="#5764dc"/><path d="M278.5 200.9l2.2-.3 4.1-0-2.3 .1z" fill="#687ff2" stroke="#687ff2" fill-opacity=".5"/><path d="M228 210.3l1.6-1.8 6.6 6.3-1.5 1.8z" fill="#5865dd" stroke="#5865dd"/><path d="M254.6 207.8l1.6-.9 5.5 3.5-1.6 .6z" fill="#5d6fe5" stroke="#5d6fe5"/><path d="M291.5 189.6l2.1 1.3 3.7-2.3-2.1-1.7z" fill="#7a98ff" stroke="#7a98ff" fill-opacity=".8"/><path d="M220.3 213l2.3-1 2.3 1.9-2.4 1z" fill="#5764dc" stroke="#5764dc"/><path d="M264.7 207l1.9 .4 5.3 3.1-1.9-1.6z" fill="#5f72e8" stroke="#5f72e8"/><path d="M316.9 169l.8-6.4 2.6-6-.8 6.3z" fill="#b3ceff" stroke="#b3ceff" fill-opacity=".8"/><path d="M300.3 184.9l1-3.5 2.8-2.9-1.1 3.2z" fill="#88a8ff" stroke="#88a8ff" fill-opacity=".8"/><path d="M241.6 208.4l1.7-.5 6.8 5.1-1.8-0z" fill="#5d6de4" stroke="#5d6de4"/><path d="M297.4 186.1l2.9-1.1 2.7-3.2-2.9 1.3z" fill="#86a5ff" stroke="#86a5ff" fill-opacity=".8"/><path d="M287.8 197l2.1-3.4 3.7-2.2-2.1 3.9z" fill="#7490fc" stroke="#7490fc" fill-opacity=".8"/><path d="M309.4 174.7l1.6-5.7 2.7-5.3-1.6 6.8z" fill="#a5c4ff" stroke="#a5c4ff" fill-opacity=".8"/><path d="M289.9 193.6l1.6-3.9 3.8-2.7-1.7 4.4z" fill="#7a98ff" stroke="#7a98ff" fill-opacity=".8"/><path d="M218.6 214.7l1.7-1.7 2.2 1.9-1.7 1.5z" fill="#5764dc" stroke="#5764dc"/><path d="M314.8 168.5l2.1 .5 2.6-6.1-2.1-.9z" fill="#aecbff" stroke="#aecbff" fill-opacity=".8"/><path d="M307.8 176.3l1.7-1.7 2.6-4.2-1.6 1.3z" fill="#9ebeff" stroke="#9ebeff" fill-opacity=".8"/><path d="M276.6 199.2l1.9 1.7 4-.2-1.9-2.5z" fill="#6c85f6" stroke="#6c85f6" fill-opacity=".6"/><path d="M227.4 213l.6-2.7 6.7 6.4-.6 2.6z" fill="#5865dd" stroke="#5865dd"/><path d="M253.1 209.4l1.5-1.6 5.5 3.2-1.5 1.5z" fill="#5e70e6" stroke="#5e70e6"/><path d="M239.2 210.8l2.4-2.4 6.7 4.6-2.4 3.2z" fill="#5d6de4" stroke="#5d6de4"/><path d="M305.9 180.8l1.9-4.5 2.7-4.6-1.9 4.3z" fill="#98b8ff" stroke="#98b8ff" fill-opacity=".8"/><path d="M262.6 206.3l2.1 .7 5.3 2-2.1-1.4z" fill="#647aee" stroke="#647aee"/><path d="M297.4 188.7l0-2.6 2.8-3-.1 2.2z" fill="#86a5ff" stroke="#86a5ff" fill-opacity=".8"/><path d="M237.7 212.2l1.6-1.4 6.7 5.4-1.6 1.3z" fill="#5b6ae1" stroke="#5b6ae1"/><path d="M217.3 216.8l1.3-2.1 2.2 1.7-1.3 2.1z" fill="#5764dc" stroke="#5764dc"/><path d="M275 203.8l1.6-4.6 4-1-1.6 5.5z" fill="#6c85f6" stroke="#6c85f6" fill-opacity=".6"/><path d="M251.3 211.9l1.7-2.5 5.5 3-1.7 3.1z" fill="#5f70e6" stroke="#5f70e6"/><path d="M286 193.8l1.8 3.2 3.7-1.6-1.8-5z" fill="#7794ff" stroke="#7794ff" fill-opacity=".8"/><path d="M224.9 213.9l2.5-1 6.7 6.3-2.5 1.2z" fill="#5865dd" stroke="#5865dd"/><path d="M323.9 154.2l3.1 .7 2.2-6.7-3.2-.1z" fill="#cedbf3" stroke="#cedbf3" fill-opacity=".8"/><path d="M321.8 157.2l2.1-2.9 2.1-6.1-2.1 2.7z" fill="#cddbf4" stroke="#cddbf4" fill-opacity=".8"/><path d="M304.1 178.5l1.8 2.3 2.7-4.8-1.8-2.8z" fill="#99baff" stroke="#99baff" fill-opacity=".8"/><path d="M335.2 158.6l4.3-.9 2.2-7.3-4.3 1.6z" fill="#cadaf7" stroke="#cadaf7" fill-opacity=".8"/><path d="M222.6 214.9l2.3-1 6.7 6.5-2.3 .9z" fill="#5865dd" stroke="#5865dd"/><path d="M261.7 210.4l.9-4.2 5.3 1.3-.9 4.9z" fill="#647aee" stroke="#647aee"/><path d="M236.3 214.8l1.4-2.6 6.7 5.3-1.4 3z" fill="#5b6ae1" stroke="#5b6ae1"/><path d="M273.2 203.1l1.8 .7 4-.1-1.8-1.6z" fill="#6b84f5" stroke="#6b84f5" fill-opacity=".6"/><path d="M332 153.5l3.2 5.1 2.1-6.7-3.1-5.2z" fill="#cedbf3" stroke="#cedbf3" fill-opacity=".8"/><path d="M327.1 155l5-1.4 2.1-6.8-5 1.5z" fill="#d1dcef" stroke="#d1dcef" fill-opacity=".8"/><path d="M215.2 217.9l2.2-1.2 2.2 1.8-2.2 1z" fill="#5764dc" stroke="#5764dc"/><path d="M250.1 212.9l1.3-1 5.4 3.6-1.2 .5z" fill="#5f70e6" stroke="#5f70e6"/><path d="M284.7 200.6l1.2-6.8 3.7-3.5-1.2 8.5z" fill="#7794ff" stroke="#7794ff" fill-opacity=".8"/><path d="M271.9 210.5l1.3-7.4 4-1-1.3 9.3z" fill="#6880f2" stroke="#6880f2" fill-opacity=".5"/><path d="M282.5 200.7l2.2-.1 3.7-1.9-2.2 .1z" fill="#738efb" stroke="#738efb" fill-opacity=".7"/><path d="M320.3 156.7l1.6 .5 2.1-6.3-1.6-1.5z" fill="#cedbf3" stroke="#cedbf3" fill-opacity=".8"/><path d="M313.7 163.7l1.1 4.8 2.5-6.4-1-5.2z" fill="#bcd4ff" stroke="#bcd4ff" fill-opacity=".8"/><path d="M220.9 216.4l1.7-1.5 6.7 6.4-1.7 1.4z" fill="#5865dd" stroke="#5865dd"/><path d="M270 208.9l1.9 1.6 4 1-1.9-2.6z" fill="#657bef" stroke="#657bef"/><path d="M234.7 216.6l1.6-1.8 6.7 5.7-1.6 1.9z" fill="#5a69e0" stroke="#5a69e0"/><path d="M295.3 186.9l2.1 1.8 2.7-3.4-2.1-2.5z" fill="#8bacff" stroke="#8bacff" fill-opacity=".8"/><path d="M213.4 219.6l1.7-1.6 2.3 1.6-1.8 1.7z" fill="#5764dc" stroke="#5764dc"/><path d="M260 211l1.6-.6 5.3 2.1-1.6-.1z" fill="#6378ec" stroke="#6378ec"/><path d="M303 181.8l1-3.3 2.7-5.2-1 3.3z" fill="#9dbdff" stroke="#9dbdff" fill-opacity=".8"/><path d="M319.5 162.9l.8-6.3 2.1-7.3-.8 7.6z" fill="#ccdbf5" stroke="#ccdbf5" fill-opacity=".8"/><path d="M300.1 183.1l2.9-1.3 2.7-5.3-2.9 2.3z" fill="#99baff" stroke="#99baff" fill-opacity=".8"/><path d="M291.5 195.3l2.1-3.9 2.8-3.2-2.2 4.3z" fill="#82a2ff" stroke="#82a2ff" fill-opacity=".8"/><path d="M293.6 191.4l1.7-4.5 2.7-4-1.7 5.4z" fill="#8aaaff" stroke="#8aaaff" fill-opacity=".8"/><path d="M219.6 218.5l1.3-2.1 6.7 6.3-1.3 2.1z" fill="#5865dd" stroke="#5865dd"/><path d="M248.3 213l1.8-0 5.4 3.1-1.7-.5z" fill="#6175ea" stroke="#6175ea"/><path d="M212 221.6l1.4-2 2.2 1.7-1.4 1.8z" fill="#5764dc" stroke="#5764dc"/><path d="M312.1 170.5l1.6-6.8 2.6-6.8-1.6 6.9z" fill="#c0d6ff" stroke="#c0d6ff" fill-opacity=".8"/><path d="M280.6 198.2l1.9 2.5 3.7-1.9-1.9-3.3z" fill="#7895ff" stroke="#7895ff" fill-opacity=".8"/><path d="M317.3 162.1l2.1 .9 2.1-6-2.1-1.6z" fill="#c8d9f9" stroke="#c8d9f9" fill-opacity=".8"/><path d="M310.5 171.8l1.6-1.3 2.6-6.7-1.6 1.5z" fill="#b8d1ff" stroke="#b8d1ff" fill-opacity=".8"/><path d="M234.1 219.2l.6-2.6 6.7 5.8-.6 2.4z" fill="#5a69e0" stroke="#5a69e0"/><path d="M258.5 212.5l1.5-1.5 5.3 1.4-1.5 1.5z" fill="#6479ed" stroke="#6479ed"/><path d="M246 216.2l2.4-3.2 5.4 2.5-2.3 4.2z" fill="#6073e9" stroke="#6073e9"/><path d="M308.6 176l1.9-4.2 2.6-6.6-2 4.9z" fill="#b2ceff" stroke="#b2ceff" fill-opacity=".8"/><path d="M300.1 185.3l0-2.2 2.7-4.3-0 1.3z" fill="#99baff" stroke="#99baff" fill-opacity=".8"/><path d="M267.9 207.5l2.1 1.4 4 0-2.1-2.2z" fill="#6b84f5" stroke="#6b84f5" fill-opacity=".6"/><path d="M217.4 219.5l2.2-1 6.7 6.3-2.2 .9z" fill="#5967df" stroke="#5967df"/><path d="M354.1 214.9l3.1 .3 3 6.6-3.2-.2z" fill="#667df0" stroke="#667df0"/><path d="M244.4 217.5l1.6-1.3 5.4 3.6-1.5 .9z" fill="#5e70e6" stroke="#5e70e6"/><path d="M351.5 207l3.1 .6 2.6 7.6-3.1-.3z" fill="#6e88f8" stroke="#6e88f8" fill-opacity=".4"/><path d="M279 203.7l1.6-5.5 3.7-2.8-1.6 6.7z" fill="#7895ff" stroke="#7895ff" fill-opacity=".8"/><path d="M289.7 190.3l1.8 5 2.7-2.8-1.8-5.9z" fill="#87a7ff" stroke="#87a7ff" fill-opacity=".8"/><path d="M362.8 211.6l4.4-.1 2.6 7.7-4.4-.5z" fill="#6a82f4" stroke="#6a82f4" fill-opacity=".4"/><path d="M256.8 215.5l1.7-3 5.3 1.3-1.7 3.6z" fill="#6378ec" stroke="#6378ec"/><path d="M210.6 223.5l1.4-2 2.3 1.6-1.5 2z" fill="#5764dc" stroke="#5764dc"/><path d="M326 148.1l3.2 .1 1.8-7.6-3.2 .8z" fill="#e0dbd8" stroke="#e0dbd8" fill-opacity=".8"/><path d="M365.4 218.7l4.4 .5 2.9 6.2-4.4-.6z" fill="#6276eb" stroke="#6276eb"/><path d="M231.6 220.4l2.5-1.2 6.8 5.6-2.6 1.5z" fill="#5a69e0" stroke="#5a69e0"/><path d="M323.9 150.9l2.1-2.7 1.8-6.8-2.1 3.2z" fill="#dedcdb" stroke="#dedcdb" fill-opacity=".8"/><path d="M357.2 215.2l5 .7 2.9 6.7-5-.7z" fill="#667df0" stroke="#667df0"/><path d="M352 217l2.1-2.1 2.9 6.7-2.1 1.7z" fill="#657bef" stroke="#657bef"/><path d="M359.6 207.9l3.2 3.7 2.6 7.1-3.2-2.8z" fill="#6e87f7" stroke="#6e87f7" fill-opacity=".4"/><path d="M354.6 207.7l5 .2 2.6 8-5-.7z" fill="#708af9" stroke="#708af9" fill-opacity=".4"/><path d="M362.2 215.9l3.2 2.8 3 6.1-3.3-2.1z" fill="#6479ed" stroke="#6479ed"/><path d="M349.4 209.1l2.1-2.1 2.6 8-2.1 2z" fill="#6e88f8" stroke="#6e88f8" fill-opacity=".4"/><path d="M360.9 204.8l4.4 .1 1.8 6.5-4.3 .1z" fill="#7591fd" stroke="#7591fd" fill-opacity=".4"/><path d="M349.6 200l3.1 .5 1.9 7.2-3.1-.7z" fill="#7a98ff" stroke="#7a98ff" fill-opacity=".3"/><path d="M357 221.6l3.1 .2 4 6.7-3.1-.1z" fill="#5f72e8" stroke="#5f72e8"/><path d="M337.4 152l4.4-1.6 1.8-6.7-4.3 .8z" fill="#dcdddd" stroke="#dcdddd" fill-opacity=".8"/><path d="M215.7 221.3l1.7-1.8 6.7 6.2-1.7 2z" fill="#5967df" stroke="#5967df"/><path d="M306.8 173.2l1.8 2.8 2.5-5.9-1.8-3.2z" fill="#b4cfff" stroke="#b4cfff" fill-opacity=".8"/><path d="M229.2 221.3l2.3-.9 6.8 5.9-2.4 .9z" fill="#5967de" stroke="#5967de"/><path d="M277.2 202.1l1.8 1.6 3.7-1.6-1.8-2.3z" fill="#7794ff" stroke="#7794ff" fill-opacity=".8"/><path d="M357.8 200.3l3.2 4.5 1.8 6.7-3.2-3.6z" fill="#7895ff" stroke="#7895ff" fill-opacity=".3"/><path d="M267 212.5l.9-5 4-.8-.9 5.5z" fill="#6d86f6" stroke="#6d86f6" fill-opacity=".6"/><path d="M243 220.5l1.4-3.1 5.5 3.3-1.4 3.5z" fill="#5d6fe5" stroke="#5d6fe5"/><path d="M347.5 202.1l2.1-2.1 1.8 7-2 2z" fill="#7a98ff" stroke="#7a98ff" fill-opacity=".3"/><path d="M207.9 224.1l2.7-.6 2.2 1.6-2.7 .4z" fill="#5764dc" stroke="#5764dc"/><path d="M352.7 200.5l5-.2 1.9 7.6-5-.2z" fill="#7b99ff" stroke="#7b99ff" fill-opacity=".3"/><path d="M334.2 146.8l3.2 5.2 1.9-7.5-3.2-5.4z" fill="#e0dbd8" stroke="#e0dbd8" fill-opacity=".8"/><path d="M360.1 221.8l5 .8 4 6.9-5-1z" fill="#5f72e7" stroke="#5f72e7"/><path d="M329.2 148.3l5-1.5 1.9-7.7-5.1 1.6z" fill="#e3d9d4" stroke="#e3d9d4" fill-opacity=".7"/><path d="M275.9 211.5l1.3-9.3 3.7-2.3-1.3 10.7z" fill="#728dfb" stroke="#728dfb" fill-opacity=".7"/><path d="M354.9 223.3l2.1-1.7 3.9 6.8-2 1.6z" fill="#5f72e8" stroke="#5f72e8"/><path d="M368.4 224.8l4.4 .6 3.9 6.4-4.3-.8z" fill="#5e6fe5" stroke="#5e6fe5"/><path d="M286.2 198.8l2.2-0 2.8-2.9-2.3-0z" fill="#809fff" stroke="#809fff" fill-opacity=".8"/><path d="M288.4 198.8l1.2-8.4 2.8-3.8-1.3 9.3z" fill="#87a7ff" stroke="#87a7ff" fill-opacity=".8"/><path d="M365.1 222.6l3.2 2.2 4 6.2-3.2-1.4z" fill="#5e70e6" stroke="#5e70e6"/><path d="M255.6 216l1.3-.5 5.2 1.9-1.2-.2z" fill="#647aee" stroke="#647aee"/><path d="M350.4 216.7l1.5 .3 3 6.3-1.6 .2z" fill="#667cf0" stroke="#667cf0"/><path d="M322.4 149.4l1.6 1.5 1.8-6.3-1.6-2z" fill="#e0dbd8" stroke="#e0dbd8" fill-opacity=".8"/><path d="M274 208.9l1.9 2.5 3.7-.8-1.9-3.8z" fill="#6f88f8" stroke="#6f88f8" fill-opacity=".6"/><path d="M359.2 196.3l4.4 .2 1.7 8.4-4.4-.1z" fill="#83a3ff" stroke="#83a3ff" fill-opacity=".3"/><path d="M347.8 208.5l1.5 .6 2.6 7.9-1.5-.3z" fill="#6f8af9" stroke="#6f8af9" fill-opacity=".4"/><path d="M347.8 191.1l3.1 .6 1.8 8.8-3.2-.5z" fill="#8bacff" stroke="#8bacff" fill-opacity=".3"/><path d="M316.3 156.8l1 5.2 2.2-6.7-1.1-3.9z" fill="#d3dcec" stroke="#d3dcec" fill-opacity=".8"/><path d="M227.6 222.7l1.7-1.4 6.7 5.9-1.7 1.2z" fill="#5a69e0" stroke="#5a69e0"/><path d="M206.4 226l1.5-1.9 2.2 1.4-1.5 2.1z" fill="#5764dc" stroke="#5764dc"/><path d="M214.3 223.1l1.4-1.8 6.7 6.4-1.4 1.6z" fill="#5967df" stroke="#5967df"/><path d="M298 182.9l2.1 2.4 2.7-5.1-2.1-2.2z" fill="#a0c0ff" stroke="#a0c0ff" fill-opacity=".8"/><path d="M241.4 222.4l1.6-1.9 5.4 3.7-1.5 2z" fill="#5d6de4" stroke="#5d6de4"/><path d="M265.3 212.4l1.6 0 4-.3-1.6-.3z" fill="#6a82f4" stroke="#6a82f4" fill-opacity=".6"/><path d="M356 191.2l3.2 5.2 1.7 8.5-3.2-4.5z" fill="#89a9ff" stroke="#89a9ff" fill-opacity=".3"/><path d="M360.9 228.4l3.2 .1 4.1 5.6-3.1-0z" fill="#5c6ce3" stroke="#5c6ce3"/><path d="M345.8 193.4l2.1-2.3 1.7 8.8-2 2.2z" fill="#8bacff" stroke="#8bacff" fill-opacity=".3"/><path d="M353.4 223.5l1.6-.2 3.9 6.7-1.6 .7z" fill="#6073e9" stroke="#6073e9"/><path d="M346 200.7l1.5 1.5 1.9 6.9-1.5-.6z" fill="#7c9bff" stroke="#7c9bff" fill-opacity=".3"/><path d="M351 191.7l5-.5 1.8 9.1-5.1 .2z" fill="#8eaeff" stroke="#8eaeff" fill-opacity=".3"/><path d="M294.2 192.5l2.2-4.2 2.6-5.7-2.1 4.8z" fill="#96b6ff" stroke="#96b6ff" fill-opacity=".8"/><path d="M364.1 228.5l5 1.1 4.2 5.8-5-1.3z" fill="#5c6ce2" stroke="#5c6ce2"/><path d="M305.7 176.6l1-3.3 2.6-6.4-1.1 3.3z" fill="#b8d1ff" stroke="#b8d1ff" fill-opacity=".8"/><path d="M358.9 230l2.1-1.6 4.1 5.7-2 1.4z" fill="#5c6ce3" stroke="#5c6ce3"/><path d="M321.6 156.9l.8-7.6 1.8-6.7-.8 6.2z" fill="#dedcdb" stroke="#dedcdb" fill-opacity=".8"/><path d="M369.1 229.6l3.3 1.4 4.1 5.3-3.2-.9z" fill="#5b6ae1" stroke="#5b6ae1"/><path d="M372.3 231l4.4 .8 4.2 5.4-4.4-.9z" fill="#5a69e0" stroke="#5a69e0"/><path d="M296.3 188.3l1.7-5.4 2.6-4.9-1.6 4.7z" fill="#a0c0ff" stroke="#a0c0ff" fill-opacity=".8"/><path d="M349.7 221.2l.7-4.5 3 6.8-.8 4.2z" fill="#667cf0" stroke="#667cf0"/><path d="M204.3 227.3l2.1-1.3 2.2 1.7-2.1 1.5z" fill="#5764dc" stroke="#5764dc"/><path d="M347.1 213.7l.8-5.2 2.6 8.2-.8 4.5z" fill="#708af9" stroke="#708af9" fill-opacity=".4"/><path d="M302.8 178.8l2.9-2.3 2.6-6.4-3 1.8z" fill="#b4cfff" stroke="#b4cfff" fill-opacity=".8"/><path d="M226.3 224.8l1.3-2.1 6.7 5.6-1.3 2.2z" fill="#5a68e0" stroke="#5a68e0"/><path d="M284.3 195.5l1.9 3.3 2.7-2.9-1.9-4.1z" fill="#88a8ff" stroke="#88a8ff" fill-opacity=".8"/><path d="M212.8 225.1l1.4-2 6.7 6.2-1.4 2.1z" fill="#5967df" stroke="#5967df"/><path d="M319.4 155.3l2.1 1.6 1.8-8.1-2.1-.1z" fill="#dbdddf" stroke="#dbdddf" fill-opacity=".8"/><path d="M357.6 186.2l4.4-.1 1.5 10.4-4.3-.2z" fill="#9abbff" stroke="#9abbff" fill-opacity=".3"/><path d="M253.8 215.5l1.8 .5 5.3 1.2-1.8-1.2z" fill="#6880f2" stroke="#6880f2" fill-opacity=".5"/><path d="M240.9 224.8l.6-2.4 5.5 3.7-.6 2.3z" fill="#5d6de4" stroke="#5d6de4"/><path d="M314.7 163.8l1.6-6.9 2.1-5.4-1.6 4.9z" fill="#d7dde7" stroke="#d7dde7" fill-opacity=".8"/><path d="M344.2 192l1.5 1.4 1.8 8.7-1.5-1.5z" fill="#8fafff" stroke="#8fafff" fill-opacity=".3"/><path d="M352.6 227.7l.7-4.2 4 7.2-.7 3.6z" fill="#6073e9" stroke="#6073e9"/><path d="M345.2 206.6l.8-5.9 1.8 7.8-.7 5.2z" fill="#7d9bff" stroke="#7d9bff" fill-opacity=".3"/><path d="M346.3 180.5l3.1 .9 1.6 10.2-3.1-.6z" fill="#a5c4ff" stroke="#a5c4ff" fill-opacity=".3"/><path d="M357.3 230.6l1.6-.6 4.1 5.5-1.5 1.1z" fill="#5c6ce2" stroke="#5c6ce2"/><path d="M263.8 213.8l1.5-1.4 4-.6-1.5 1.2z" fill="#6e87f7" stroke="#6e87f7" fill-opacity=".6"/><path d="M313 165.2l1.7-1.5 2.1-7.4-1.7 1.9z" fill="#d1dcee" stroke="#d1dcee" fill-opacity=".8"/><path d="M347.6 221l2.1 .1 3 6.5-2.2 .2z" fill="#667df0" stroke="#667df0"/><path d="M345 213.2l2.1 .5 2.6 7.5-2.1-.1z" fill="#6e88f8" stroke="#6e88f8" fill-opacity=".4"/><path d="M251.4 219.7l2.4-4.2 5.3 .5-2.4 5.4z" fill="#667cf0" stroke="#667cf0"/><path d="M311.1 170.2l1.9-4.9 2.1-7-1.9 5.9z" fill="#ccdbf5" stroke="#ccdbf5" fill-opacity=".8"/><path d="M354.5 180.6l3.2 5.6 1.5 10.1-3.1-5.2z" fill="#a1c1ff" stroke="#a1c1ff" fill-opacity=".3"/><path d="M271.9 206.7l2.1 2.2 3.7-2.1-2.1-2.9z" fill="#7794ff" stroke="#7794ff" fill-opacity=".8"/><path d="M210.1 225.6l2.7-.5 6.7 6.3-2.7 .3z" fill="#5967df" stroke="#5967df"/><path d="M302.8 180.1l0-1.3 2.6-6.9-.1 1.8z" fill="#b4cfff" stroke="#b4cfff" fill-opacity=".8"/><path d="M292.4 186.6l1.8 5.9 2.6-5-1.7-5.8z" fill="#9cbcff" stroke="#9cbcff" fill-opacity=".8"/><path d="M344.2 183l2.1-2.4 1.6 10.5-2.1 2.4z" fill="#a5c4ff" stroke="#a5c4ff" fill-opacity=".3"/><path d="M203.5 230.1l.7-2.7 2.3 1.9-.8 2.7z" fill="#5764dc" stroke="#5764dc"/><path d="M282.7 202.1l1.6-6.6 2.7-3.7-1.6 6.7z" fill="#88a8ff" stroke="#88a8ff" fill-opacity=".8"/><path d="M224.1 225.7l2.2-.9 6.7 5.8-2.2 .6z" fill="#5b6ae1" stroke="#5b6ae1"/><path d="M349.4 181.4l5.1-.8 1.5 10.5-5 .5z" fill="#a7c6ff" stroke="#a7c6ff" fill-opacity=".3"/><path d="M327.8 141.4l3.2-.8 1.6-6.8-3.2-.3z" fill="#eed0c2" stroke="#eed0c2" fill-opacity=".6"/><path d="M365.1 234.1l3.2 0 5.2 6-3.2 .1z" fill="#5967df" stroke="#5967df"/><path d="M249.8 220.7l1.6-1 5.3 1.7-1.6 .5z" fill="#647aed" stroke="#647aed"/><path d="M325.7 144.6l2.1-3.2 1.6-7.9-2.1 3.7z" fill="#edd1c4" stroke="#edd1c4" fill-opacity=".6"/><path d="M262.1 217.5l1.7-3.6 4-.9-1.7 4.3z" fill="#6b84f5" stroke="#6b84f5" fill-opacity=".6"/><path d="M238.3 226.3l2.5-1.5 5.5 3.6-2.5 1.9z" fill="#5d6de4" stroke="#5d6de4"/><path d="M343.1 205.5l2.1 1.1 1.9 7.1-2.1-.5z" fill="#7a98ff" stroke="#7a98ff" fill-opacity=".3"/><path d="M350.5 227.9l2.1-.2 4 6.6-2.1 .5z" fill="#5f72e8" stroke="#5f72e8"/><path d="M368.3 234.2l5 1.2 5.2 6.3-5-1.5z" fill="#5967de" stroke="#5967de"/><path d="M339.3 144.5l4.4-.9 1.6-7.9-4.4 2.2z" fill="#ecd3c7" stroke="#ecd3c7" fill-opacity=".6"/><path d="M343.4 197.9l.8-5.9 1.7 8.7-.7 5.9z" fill="#8daeff" stroke="#8daeff" fill-opacity=".3"/><path d="M363.1 235.5l2-1.4 5.3 6.1-2.1 1.3z" fill="#5967df" stroke="#5967df"/><path d="M208.6 227.7l1.5-2.1 6.7 6.1-1.5 2.3z" fill="#5967df" stroke="#5967df"/><path d="M373.3 235.4l3.3 .9 5.2 5.8-3.3-.5z" fill="#5967df" stroke="#5967df"/><path d="M280.9 199.9l1.8 2.2 2.7-3.6-1.8-2.3z" fill="#85a5ff" stroke="#85a5ff" fill-opacity=".8"/><path d="M356.6 234.3l.7-3.6 4.2 6-.7 3.2z" fill="#5c6ce2" stroke="#5c6ce2"/><path d="M236 227.2l2.3-.9 5.5 4-2.3 .9z" fill="#5c6ce2" stroke="#5c6ce2"/><path d="M376.5 236.3l4.4 .9 5.2 5.8-4.4-.9z" fill="#5865dd" stroke="#5865dd"/><path d="M279.5 210.6l1.3-10.7 2.7-3.8-1.3 12.2z" fill="#7e9cff" stroke="#7e9cff" fill-opacity=".8"/><path d="M336.1 139.1l3.2 5.4 1.6-6.6-3.2-5.1z" fill="#eed0c2" stroke="#eed0c2" fill-opacity=".6"/><path d="M288.9 195.9l2.2 0 2.7-4.7-2.3-.1z" fill="#92b3ff" stroke="#92b3ff" fill-opacity=".8"/><path d="M222.3 227.7l1.7-1.9 6.7 5.5-1.7 2.1z" fill="#5b6ae1" stroke="#5b6ae1"/><path d="M331 140.6l5-1.6 1.6-6.3-5 1.1z" fill="#efcec0" stroke="#efcec0" fill-opacity=".6"/><path d="M309.3 166.9l1.8 3.3 2.1-6-1.8-4.9z" fill="#cddbf4" stroke="#cddbf4" fill-opacity=".8"/><path d="M291.2 195.9l1.3-9.3 2.6-4.9-1.3 9.5z" fill="#9abbff" stroke="#9abbff" fill-opacity=".8"/><path d="M271 212.1l.9-5.4 3.7-2.8-.9 6.5z" fill="#7794ff" stroke="#7794ff" fill-opacity=".8"/><path d="M248.5 224.2l1.4-3.5 5.3 1.2-1.4 4.4z" fill="#6378ec" stroke="#6378ec"/><path d="M277.7 206.8l1.9 3.8 2.7-2.3-1.9-4.4z" fill="#7997ff" stroke="#7997ff" fill-opacity=".8"/><path d="M201.6 231.5l2-1.4 2.2 1.8-2 1.3z" fill="#5764dc" stroke="#5764dc"/><path d="M342.7 180.9l1.5 2.1 1.6 10.5-1.5-1.5z" fill="#a8c6ff" stroke="#a8c6ff" fill-opacity=".3"/><path d="M324.2 142.6l1.6 2 1.6-7.4-1.6-3.1z" fill="#eed0c2" stroke="#eed0c2" fill-opacity=".6"/><path d="M260.9 217.2l1.3 .3 4-.2-1.3-.7z" fill="#6b84f5" stroke="#6b84f5" fill-opacity=".6"/><path d="M356.4 176l4.4-.3 1.2 10.4-4.4 .1z" fill="#b6d0ff" stroke="#b6d0ff" fill-opacity=".3"/><path d="M341.3 196.8l2.1 1.1 1.8 8.7-2.1-1.1z" fill="#8cadff" stroke="#8cadff" fill-opacity=".3"/><path d="M206.5 229.2l2.1-1.5 6.7 6.3-2.1 1.7z" fill="#5865dd" stroke="#5865dd"/><path d="M361.5 236.6l1.6-1.1 5.2 6-1.6 1.4z" fill="#5967de" stroke="#5967de"/><path d="M346.6 218.4l1 2.6 2.9 6.8-1-1.7z" fill="#6b84f5" stroke="#6b84f5" fill-opacity=".4"/><path d="M345 170.9l3.2 .5 1.2 10-3.2-.8z" fill="#c1d6ff" stroke="#c1d6ff" fill-opacity=".3"/><path d="M318.4 151.5l1.1 3.9 1.8-6.6-1.1-5.5z" fill="#e4d9d3" stroke="#e4d9d3" fill-opacity=".7"/><path d="M234.3 228.4l1.7-1.1 5.4 3.9-1.6 .8z" fill="#5d6de4" stroke="#5d6de4"/><path d="M354.5 234.8l2.1-.5 4.2 5.5-2.1 .8z" fill="#5c6ce3" stroke="#5c6ce3"/><path d="M246.9 226.2l1.6-2 5.2 2.1-1.5 2.2z" fill="#6175ea" stroke="#6175ea"/><path d="M344 209.3l1 3.9 2.6 7.9-1-2.7z" fill="#7692fe" stroke="#7692fe" fill-opacity=".3"/><path d="M220.9 229.3l1.4-1.6 6.7 5.7-1.4 1.4z" fill="#5b6ae1" stroke="#5b6ae1"/><path d="M269.4 211.8l1.6 .3 3.7-1.7-1.6-1.1z" fill="#7591fd" stroke="#7591fd" fill-opacity=".8"/><path d="M342.9 173l2.1-2.1 1.2 9.6-2.1 2.4z" fill="#c1d6ff" stroke="#c1d6ff" fill-opacity=".3"/><path d="M353.3 170.1l3.2 5.9 1.2 10.3-3.2-5.6z" fill="#bdd4ff" stroke="#bdd4ff" fill-opacity=".3"/><path d="M300.7 178l2.1 2.2 2.5-6.4-2.1-2.3z" fill="#bad3ff" stroke="#bad3ff" fill-opacity=".8"/><path d="M349.5 226.1l1 1.8 4 6.9-1.1-.4z" fill="#6378ec" stroke="#6378ec"/><path d="M348.2 171.4l5.1-1.3 1.2 10.6-5.1 .8z" fill="#c3d7fd" stroke="#c3d7fd" fill-opacity=".3"/><path d="M200.3 233.7l1.3-2.2 2.2 1.7-1.3 1.8z" fill="#5764dc" stroke="#5764dc"/><path d="M341.8 188.1l.8-7.2 1.6 11.1-.8 5.9z" fill="#a7c6ff" stroke="#a7c6ff" fill-opacity=".3"/><path d="M323.4 148.8l.8-6.2 1.6-8.5-.8 8.3z" fill="#edd1c4" stroke="#edd1c4" fill-opacity=".6"/><path d="M370.3 240.2l3.2-.1 5.2 5.6-3.2 .1z" fill="#5866dd" stroke="#5866dd"/><path d="M205.8 231.9l.7-2.7 6.7 6.5-.7 2.7z" fill="#5865dd" stroke="#5865dd"/><path d="M296.8 187.5l2.2-4.8 2.5-6.7-2.2 6z" fill="#afcbff" stroke="#afcbff" fill-opacity=".8"/><path d="M342.1 201.1l1 4.4 1.8 7.7-.9-3.9z" fill="#85a5ff" stroke="#85a5ff" fill-opacity=".3"/><path d="M360.8 239.9l.7-3.2 5.2 6.2-.7 3z" fill="#5967de" stroke="#5967de"/><path d="M308.3 170.1l1-3.3 2.2-7.6-1.1 4.1z" fill="#d1dcef" stroke="#d1dcef" fill-opacity=".8"/><path d="M287 191.8l1.9 4.1 2.6-4.8-1.9-4.6z" fill="#9dbdff" stroke="#9dbdff" fill-opacity=".8"/><path d="M373.5 240.2l5 1.5 5.3 5.6-5-1.6z" fill="#5866dd" stroke="#5866dd"/><path d="M233 230.6l1.3-2.2 5.5 3.6-1.3 2.3z" fill="#5e6fe5" stroke="#5e6fe5"/><path d="M299 182.6l1.7-4.7 2.5-6.5-1.7 4.6z" fill="#bad3ff" stroke="#bad3ff" fill-opacity=".8"/><path d="M321.2 148.7l2.2 .1 1.5-6.4-2.1-1.4z" fill="#ecd3c7" stroke="#ecd3c7" fill-opacity=".7"/><path d="M368.3 241.6l2-1.3 5.3 5.5-2.1 1.3z" fill="#5866dd" stroke="#5866dd"/><path d="M305.3 172l2.9-1.8 2.1-6.8-2.9 1.6z" fill="#cddbf4" stroke="#cddbf4" fill-opacity=".8"/><path d="M345 222.9l1.6-4.5 2.9 7.7-1.6 3.9z" fill="#6d87f7" stroke="#6d87f7" fill-opacity=".4"/><path d="M339.7 186.4l2.1 1.7 1.6 9.8-2.1-1.1z" fill="#a5c4ff" stroke="#a5c4ff" fill-opacity=".3"/><path d="M378.5 241.6l3.3 .5 5.3 5.4-3.3-.3z" fill="#5866dd" stroke="#5866dd"/><path d="M219.5 231.4l1.4-2.1 6.8 5.5-1.5 2.2z" fill="#5b6ae1" stroke="#5b6ae1"/><path d="M353.4 234.4l1 .4 4.2 5.8-1.1 .5z" fill="#5d6fe5" stroke="#5d6fe5"/><path d="M246.3 228.5l.6-2.3 5.3 2.3-.6 2.1z" fill="#6175ea" stroke="#6175ea"/><path d="M198 234.7l2.3-1.1 2.3 1.3-2.4 1.3z" fill="#5866dd" stroke="#5866dd"/><path d="M316.8 156.4l1.6-4.9 1.8-8.3-1.6 6.6z" fill="#e7d7cf" stroke="#e7d7cf" fill-opacity=".7"/><path d="M381.8 242.1l4.4 .9 5.3 5.5-4.4-1z" fill="#5764dc" stroke="#5764dc"/><path d="M341.4 170.4l1.5 2.6 1.3 9.9-1.6-2z" fill="#c5d8fb" stroke="#c5d8fb" fill-opacity=".3"/><path d="M342.4 214.5l1.6-5.2 2.6 9.2-1.6 4.5z" fill="#7997ff" stroke="#7997ff" fill-opacity=".3"/><path d="M347.9 230l1.6-3.9 3.9 8.2-1.5 3.3z" fill="#657bef" stroke="#657bef"/><path d="M259.1 216l1.8 1.2 4-.6-1.8-2.2z" fill="#728dfa" stroke="#728dfa" fill-opacity=".7"/><path d="M267.8 213l1.5-1.2 3.7-2.4-1.5 1z" fill="#7997ff" stroke="#7997ff" fill-opacity=".8"/><path d="M315.1 158.3l1.7-1.9 1.8-6.5-1.7 1.2z" fill="#e4d9d3" stroke="#e4d9d3" fill-opacity=".7"/><path d="M275.6 203.9l2.1 2.9 2.7-2.9-2.1-3.9z" fill="#87a7ff" stroke="#87a7ff" fill-opacity=".8"/><path d="M329.5 133.5l3.2 .3 1.4-7.9-3.2 1.1z" fill="#f5c1ad" stroke="#f5c1ad"/><path d="M285.4 198.5l1.6-6.7 2.6-5.4-1.6 8z" fill="#9dbdff" stroke="#9dbdff" fill-opacity=".8"/><path d="M343.4 224l1.6-1.1 3 7.2-1.7 1.3z" fill="#6b84f5" stroke="#6b84f5" fill-opacity=".4"/><path d="M358.6 240.6l2.1-.8 5.3 6.1-2.2 .9z" fill="#5967de" stroke="#5967de"/><path d="M355.4 166.4l4.4-1.1 1 10.5-4.4 .2z" fill="#d0dcf1" stroke="#d0dcf1" fill-opacity=".3"/><path d="M327.3 137.2l2.1-3.7 1.4-6.5-2.1 1.9z" fill="#f5c2ae" stroke="#f5c2ae"/><path d="M313.2 164.1l1.9-5.9 1.8-7.2-1.9 4.6z" fill="#dfdbd9" stroke="#dfdbd9" fill-opacity=".8"/><path d="M203.8 233.2l2-1.2 6.6 6.5-1.9 1.1z" fill="#5865dd" stroke="#5865dd"/><path d="M366.7 242.9l1.6-1.3 5.2 5.5-1.6 1.5z" fill="#5865dd" stroke="#5865dd"/><path d="M230.8 231.3l2.2-.7 5.5 3.7-2.2 .5z" fill="#5d6fe5" stroke="#5d6fe5"/><path d="M340.8 215.5l1.6-1 2.6 8.5-1.6 1z" fill="#7692fe" stroke="#7692fe" fill-opacity=".4"/><path d="M256.7 221.4l2.4-5.4 4-1.6-2.4 6.4z" fill="#718bfa" stroke="#718bfa" fill-opacity=".7"/><path d="M340.4 191.1l1 5.7 1.7 8.7-1-4.4z" fill="#9abbff" stroke="#9abbff" fill-opacity=".3"/><path d="M216.8 231.7l2.7-.3 6.8 5.6-2.8 .1z" fill="#5b6ae1" stroke="#5b6ae1"/><path d="M344 159.7l3.2 1.3 .9 10.3-3.1-.4z" fill="#d7dde6" stroke="#d7dde6" fill-opacity=".3"/><path d="M305.3 173.7l0-1.8 2.1-7-0 3.2z" fill="#ccdaf5" stroke="#ccdaf5" fill-opacity=".8"/><path d="M295.1 181.7l1.8 5.8 2.5-5.5-1.8-7.9z" fill="#b5cfff" stroke="#b5cfff" fill-opacity=".8"/><path d="M196.6 236.8l1.4-2 2.2 1.4-1.4 2.4z" fill="#5764dc" stroke="#5764dc"/><path d="M243.8 230.4l2.6-1.9 5.2 2.1-2.5 2.3z" fill="#6175ea" stroke="#6175ea"/><path d="M255.1 221.9l1.6-.5 4-.6-1.6 .6z" fill="#6c85f6" stroke="#6c85f6" fill-opacity=".6"/><path d="M346.3 231.4l1.6-1.3 4 7.6-1.6 1.3z" fill="#6378ec" stroke="#6378ec"/><path d="M266.1 217.3l1.7-4.3 3.7-2.6-1.7 4.5z" fill="#7794ff" stroke="#7794ff" fill-opacity=".8"/><path d="M340.9 137.8l4.4-2.2 1.5-7.1-4.4 .1z" fill="#f5c4af" stroke="#f5c4af"/><path d="M340.5 206.4l1.6-5.3 1.9 8.2-1.6 5.1z" fill="#8aaaff" stroke="#8aaaff" fill-opacity=".3"/><path d="M352.3 160l3.2 6.4 .9 9.6-3.1-5.9z" fill="#d5dde9" stroke="#d5dde9" fill-opacity=".3"/><path d="M282.2 208.3l1.3-12.2 2.7-4.8-1.4 12.9z" fill="#90b1ff" stroke="#90b1ff" fill-opacity=".8"/><path d="M341.5 227.4l1.9-3.4 2.9 7.4-1.9 3z" fill="#6981f3" stroke="#6981f3" fill-opacity=".4"/><path d="M341.9 162.5l2.1-2.7 1 11.1-2.1 2.2z" fill="#d7dde5" stroke="#d7dde5" fill-opacity=".3"/><path d="M283.6 196.1l1.8 2.4 2.6-4.1-1.8-3.2z" fill="#99baff" stroke="#99baff" fill-opacity=".8"/><path d="M351.9 237.7l1.5-3.3 4.2 6.7-1.5 2.8z" fill="#5e70e6" stroke="#5e70e6"/><path d="M340.6 177.4l.8-7 1.3 10.5-.9 7.1z" fill="#c4d8fc" stroke="#c4d8fc" fill-opacity=".3"/><path d="M241.4 231.2l2.3-.8 5.3 2.5-2.3 .8z" fill="#6073e9" stroke="#6073e9"/><path d="M332.6 133.8l5-1.1 1.5-8.5-5 1.7z" fill="#f6bfaa" stroke="#f6bfaa"/><path d="M337.7 132.7l3.2 5.1 1.5-9.2-3.2-4.4z" fill="#f5c1ad" stroke="#f5c1ad"/><path d="M347.2 161l5.1-1.1 1 10.1-5.1 1.3z" fill="#d8dde4" stroke="#d8dde4" fill-opacity=".3"/><path d="M338.9 219.1l1.9-3.7 2.6 8.6-1.9 3.4z" fill="#748ffc" stroke="#748ffc" fill-opacity=".4"/><path d="M280.4 203.9l1.9 4.4 2.6-4.1-1.9-5.1z" fill="#8aabff" stroke="#8aabff" fill-opacity=".8"/><path d="M215.3 234l1.5-2.3 6.7 5.4-1.5 2.6z" fill="#5b6ae1" stroke="#5b6ae1"/><path d="M338.9 207.4l1.6-.9 1.9 8-1.6 1z" fill="#85a5ff" stroke="#85a5ff" fill-opacity=".3"/><path d="M274.6 210.4l.9-6.5 2.7-3.9-.9 6.6z" fill="#87a7ff" stroke="#87a7ff" fill-opacity=".8"/><path d="M229.1 233.4l1.7-2.1 5.5 3.5-1.7 2.4z" fill="#5d6fe5" stroke="#5d6fe5"/><path d="M291.6 191.1l2.2 .1 2.5-5.6-2.2-.5z" fill="#abc8ff" stroke="#abc8ff" fill-opacity=".8"/><path d="M344.4 234.4l1.9-3 4 7.6-1.9 2.5z" fill="#6276eb" stroke="#6276eb"/><path d="M311.4 159.2l1.8 4.9 1.8-8.5-1.8-3z" fill="#dfdbd9" stroke="#dfdbd9" fill-opacity=".8"/><path d="M357.6 241l1.1-.4 5.2 6.2-1.1 1.1z" fill="#5b6ae1" stroke="#5b6ae1"/><path d="M253.7 226.3l1.4-4.4 4-.5-1.4 5.1z" fill="#6b84f5" stroke="#6b84f5" fill-opacity=".6"/><path d="M202.5 235l1.3-1.8 6.7 6.4-1.3 1.5z" fill="#5967de" stroke="#5967de"/><path d="M325.8 134.1l1.5 3.1 1.5-8.3-1.6-1.3z" fill="#f5c1ad" stroke="#f5c1ad"/><path d="M194.5 238.1l2.1-1.4 2.2 1.8-2.1 1.1z" fill="#5764dc" stroke="#5764dc"/><path d="M293.8 191.1l1.3-9.4 2.5-7.6-1.3 11.4z" fill="#b5cfff" stroke="#b5cfff" fill-opacity=".8"/><path d="M366 245.9l.7-3 5.2 5.7-.6 2.9z" fill="#5865dd" stroke="#5865dd"/><path d="M338.5 175.4l2.1 2.1 1.2 10.6-2.1-1.6z" fill="#c1d6ff" stroke="#c1d6ff" fill-opacity=".3"/><path d="M350.3 239l1.6-1.3 4.2 6.2-1.6 1.4z" fill="#5d6fe5" stroke="#5d6fe5"/><path d="M264.9 216.6l1.2 .7 3.7-2.4-1.2-1.3z" fill="#7794ff" stroke="#7794ff" fill-opacity=".8"/><path d="M337 211.7l1.9-4.3 1.9 8.1-1.9 3.7z" fill="#83a3ff" stroke="#83a3ff" fill-opacity=".3"/><path d="M320.2 143.2l1 5.5 1.6-7.7-1-4.5z" fill="#f1cdbd" stroke="#f1cdbd" fill-opacity=".6"/><path d="M339.7 225.8l1.8 1.7 2.9 7-1.8-1.2z" fill="#6a82f4" stroke="#6a82f4" fill-opacity=".4"/><path d="M213.2 235.8l2.1-1.7 6.7 5.6-2.1 2.1z" fill="#5a69e0" stroke="#5a69e0"/><path d="M239.7 232l1.7-.8 5.3 2.5-1.7 .4z" fill="#6175ea" stroke="#6175ea"/><path d="M252.2 228.5l1.6-2.2 4 .2-1.6 2.1z" fill="#6880f2" stroke="#6880f2" fill-opacity=".5"/><path d="M338.8 197.6l1.6-6.5 1.8 10-1.6 5.3z" fill="#a0c0ff" stroke="#a0c0ff" fill-opacity=".3"/><path d="M340.4 160.9l1.5 1.6 1 10.5-1.5-2.6z" fill="#dadde1" stroke="#dadde1" fill-opacity=".3"/><path d="M337.1 216.8l1.8 2.4 2.6 8.3-1.8-1.7z" fill="#7693fe" stroke="#7693fe" fill-opacity=".4"/><path d="M338.8 181.4l1 5 1.6 10.4-1-5.7z" fill="#b5cfff" stroke="#b5cfff" fill-opacity=".3"/><path d="M273 209.4l1.6 1.1 2.7-3.8-1.6-1.6z" fill="#84a4ff" stroke="#84a4ff" fill-opacity=".8"/><path d="M342.6 233.3l1.8 1.1 3.9 7.1-1.7-.3z" fill="#6378ec" stroke="#6378ec"/><path d="M227.7 234.8l1.4-1.4 5.5 3.7-1.4 1.1z" fill="#5d6fe5" stroke="#5d6fe5"/><path d="M200.2 236.2l2.3-1.2 6.7 6.1-2.3 1.3z" fill="#5967de" stroke="#5967de"/><path d="M325 142.5l.8-8.4 1.4-6.4-.8 6.2z" fill="#f5c2ae" stroke="#f5c2ae"/><path d="M348.4 241.5l1.9-2.5 4.1 6.3-1.8 2.2z" fill="#5e6fe5" stroke="#5e6fe5"/><path d="M337.1 197.6l1.6 .1 1.8 8.8-1.6 .9z" fill="#9cbcff" stroke="#9cbcff" fill-opacity=".3"/><path d="M303.2 171.5l2.1 2.3 2.1-5.7-2.1-4z" fill="#d1dcee" stroke="#d1dcee" fill-opacity=".8"/><path d="M363.8 246.8l2.1-.9 5.3 5.5-2.2 1.1z" fill="#5866dd" stroke="#5866dd"/><path d="M356.1 243.9l1.5-2.9 5.2 7-1.5 2.4z" fill="#5b6ae1" stroke="#5b6ae1"/><path d="M193.7 240.9l.8-2.8 2.2 1.5-.8 3.1z" fill="#5764dc" stroke="#5764dc"/><path d="M354.7 155.4l4.4-.2 .8 10.1-4.4 1.1z" fill="#e2dad6" stroke="#e2dad6" fill-opacity=".3"/><path d="M335.2 208.5l1.7 3.2 1.9 7.5-1.7-2.4z" fill="#84a4ff" stroke="#84a4ff" fill-opacity=".3"/><path d="M212.5 238.5l.7-2.7 6.7 6-.7 2.7z" fill="#5a69e0" stroke="#5a69e0"/><path d="M343.2 150.5l3.2-0 .8 10.6-3.2-1.3z" fill="#ead5cb" stroke="#ead5cb" fill-opacity=".3"/><path d="M322.8 141l2.1 1.5 1.5-8.7-2.2 .5z" fill="#f4c6b2" stroke="#f4c6b2" fill-opacity=".5"/><path d="M310.4 163.3l1.1-4.1 1.7-6.6-1 3.9z" fill="#e2dad6" stroke="#e2dad6" fill-opacity=".7"/><path d="M335.2 202.7l1.9-5.1 1.8 9.8-1.9 4.3z" fill="#97b7ff" stroke="#97b7ff" fill-opacity=".3"/><path d="M299.4 182l2.2-6 2.1-6.5-2.2 4.8z" fill="#cadaf7" stroke="#cadaf7" fill-opacity=".8"/><path d="M238.4 234.3l1.3-2.3 5.3 2.1-1.3 2.4z" fill="#6276eb" stroke="#6276eb"/><path d="M198.8 238.5l1.4-2.4 6.7 6.3-1.4 2.6z" fill="#5967df" stroke="#5967df"/><path d="M339.6 167.4l.8-6.5 1 9.6-.8 7z" fill="#d9dde3" stroke="#d9dde3" fill-opacity=".3"/><path d="M289.7 186.4l1.9 4.6 2.5-5.9-1.9-5z" fill="#b6d0ff" stroke="#b6d0ff" fill-opacity=".8"/><path d="M351.5 149.8l3.2 5.6 .8 10.9-3.2-6.4z" fill="#e7d7cf" stroke="#e7d7cf" fill-opacity=".3"/><path d="M338.7 228.5l1-2.7 2.9 7.5-1 2.9z" fill="#6c85f6" stroke="#6c85f6" fill-opacity=".4"/><path d="M341.1 152.4l2.1-2 .8 9.3-2.1 2.7z" fill="#ead5cb" stroke="#ead5cb" fill-opacity=".3"/><path d="M251.6 230.5l.6-2.1 4 .1-.6 2.1z" fill="#687ff2" stroke="#687ff2" fill-opacity=".5"/><path d="M307.4 164.9l2.9-1.6 1.8-6.8-2.9 1z" fill="#dfdbd9" stroke="#dfdbd9" fill-opacity=".8"/><path d="M318.6 149.8l1.6-6.6 1.6-6.7-1.6 5.6z" fill="#f2cab8" stroke="#f2cab8" fill-opacity=".6"/><path d="M346.6 241.2l1.8 .3 4.2 6-1.8 .3z" fill="#5d6fe5" stroke="#5d6fe5"/><path d="M354.4 245.3l1.6-1.4 5.2 6.4-1.6 1.6z" fill="#5b6ae1" stroke="#5b6ae1"/><path d="M346.4 150.4l5.1-.6 .8 10.1-5.1 1.1z" fill="#ead5cb" stroke="#ead5cb" fill-opacity=".3"/><path d="M226.2 237l1.4-2.2 5.5 3.5-1.4 2.3z" fill="#5e70e6" stroke="#5e70e6"/><path d="M301.5 176l1.7-4.5 2.1-7.4-1.7 5.4z" fill="#d2dced" stroke="#d2dced" fill-opacity=".8"/><path d="M316.9 151l1.7-1.2 1.5-7.7-1.6 2.1z" fill="#f0cdbe" stroke="#f0cdbe" fill-opacity=".6"/><path d="M341.6 236.2l1-2.9 4 7.9-1 2.8z" fill="#6479ed" stroke="#6479ed"/><path d="M362.8 248l1.1-1.2 5.2 5.7-1.1 1.6z" fill="#5967df" stroke="#5967df"/><path d="M330.9 127l3.2-1.1 1.3-8.5-3.2 1.4z" fill="#f7af96" stroke="#f7af96"/><path d="M336.1 219.8l1-3 2.6 9-1 2.7z" fill="#7895ff" stroke="#7895ff" fill-opacity=".3"/><path d="M191.5 242l2.3-1.2 2.2 1.9-2.3 1.3z" fill="#5764dc" stroke="#5764dc"/><path d="M278.3 200l2.1 3.9 2.6-4.7-2.1-3.7z" fill="#9abbff" stroke="#9abbff" fill-opacity=".8"/><path d="M328.8 128.9l2.1-2 1.3-8.1-2.1 2.4z" fill="#f7b097" stroke="#f7b097"/><path d="M337.2 186.8l1.6-5.4 1.6 9.7-1.6 6.5z" fill="#bad3ff" stroke="#bad3ff" fill-opacity=".3"/><path d="M271.5 210.4l1.5-1 2.7-4.3-1.5 1.7z" fill="#89a9ff" stroke="#89a9ff" fill-opacity=".8"/><path d="M335.8 229.5l2.9-1 3 7.7-3 .5z" fill="#6d86f6" stroke="#6d86f6" fill-opacity=".4"/><path d="M263.1 214.4l1.8 2.2 3.6-2.9-1.7-2.5z" fill="#809fff" stroke="#809fff" fill-opacity=".8"/><path d="M337.5 165.9l2.1 1.5 1 10.1-2.1-2.1z" fill="#d7dde5" stroke="#d7dde5" fill-opacity=".3"/><path d="M315 155.7l1.9-4.6 1.6-6.9-1.9 3.3z" fill="#eed0c2" stroke="#eed0c2" fill-opacity=".6"/><path d="M333.5 199l1.7 3.6 1.8 9-1.7-3.2z" fill="#99baff" stroke="#99baff" fill-opacity=".3"/><path d="M196.7 239.6l2.1-1.1 6.7 6.6-2.1 .8z" fill="#5967df" stroke="#5967df"/><path d="M288 194.4l1.6-8 2.5-6.2-1.6 7.2z" fill="#b6d0ff" stroke="#b6d0ff" fill-opacity=".8"/><path d="M210.5 239.6l2-1.1 6.7 6-2 .8z" fill="#5a69e0" stroke="#5a69e0"/><path d="M236.2 234.8l2.2-.5 5.3 2.2-2.2 .3z" fill="#6378ec" stroke="#6378ec"/><path d="M249.1 232.8l2.6-2.3 4 .1-2.6 2.6z" fill="#6880f2" stroke="#6880f2"/><path d="M335.5 187.5l1.6-.7 1.6 10.8-1.6-0z" fill="#b6d0ff" stroke="#b6d0ff" fill-opacity=".3"/><path d="M352.6 247.5l1.9-2.2 5.2 6.7-1.9 1.8z" fill="#5a69e0" stroke="#5a69e0"/><path d="M342.4 128.7l4.4-.1 1.4-8.5-4.5 1.6z" fill="#f7b199" stroke="#f7b199"/><path d="M333.1 220.4l2.9-.6 2.6 8.7-2.9 1z" fill="#7794ff" stroke="#7794ff" fill-opacity=".3"/><path d="M338.7 236.7l2.9-.5 4 7.8-2.9 .5z" fill="#6378ec" stroke="#6378ec"/><path d="M307.4 168.1l0-3.2 1.8-7.4-0 2.1z" fill="#dfdbd9" stroke="#dfdbd9" fill-opacity=".8"/><path d="M337.5 170l1 5.4 1.2 11-1-5z" fill="#cfdbf2" stroke="#cfdbf2" fill-opacity=".3"/><path d="M223.5 237.1l2.7-.1 5.5 3.6-2.8-.2z" fill="#5e70e6" stroke="#5e70e6"/><path d="M269.8 214.9l1.7-4.6 2.7-3.6-1.7 5.2z" fill="#85a5ff" stroke="#85a5ff" fill-opacity=".8"/><path d="M260.7 220.9l2.4-6.5 3.7-3.2-2.4 7.4z" fill="#7e9cff" stroke="#7e9cff" fill-opacity=".8"/><path d="M259.1 221.4l1.6-.5 3.6-2.3-1.6 .3z" fill="#7895ff" stroke="#7895ff" fill-opacity=".8"/><path d="M189.5 243.5l1.9-1.5 2.3 2-2 1.3z" fill="#5764dc" stroke="#5764dc"/><path d="M339.6 150.4l1.5 2.1 .9 10-1.6-1.6z" fill="#ead4c9" stroke="#ead4c9" fill-opacity=".3"/><path d="M246.7 233.6l2.4-.8 4 .4-2.4 .7z" fill="#677ef1" stroke="#677ef1"/><path d="M297.6 174.1l1.8 7.9 2-7.8-1.8-5.7z" fill="#cedbf3" stroke="#cedbf3" fill-opacity=".8"/><path d="M334.2 211.6l1-3.2 1.9 8.4-1 3z" fill="#89a9ff" stroke="#89a9ff" fill-opacity=".3"/><path d="M334.1 125.9l5.1-1.7 1.3-7.3-5.1 .5z" fill="#f7ac93" stroke="#f7ac93"/><path d="M339.2 124.2l3.2 4.5 1.4-7.1-3.3-4.8z" fill="#f7ad94" stroke="#f7ad94"/><path d="M375.6 245.8l3.2-.1 18 17.9-3.2 .2z" fill="#5764dc" stroke="#5764dc"/><path d="M345.6 244l1-2.8 4.2 6.6-1 2.6z" fill="#5e70e6" stroke="#5e70e6"/><path d="M284.9 204.2l1.4-12.9 2.5-7.2-1.4 14.4z" fill="#a8c6ff" stroke="#a8c6ff" fill-opacity=".8"/><path d="M361.3 250.4l1.5-2.4 5.3 6.1-1.6 2.2z" fill="#5967df" stroke="#5967df"/><path d="M333.6 191.4l1.9-3.9 1.7 10-2 5.1z" fill="#b1cdff" stroke="#b1cdff" fill-opacity=".3"/><path d="M378.7 245.7l5 1.6 18.1 18-5-1.7z" fill="#5764dc" stroke="#5764dc"/><path d="M277.3 206.6l.9-6.6 2.6-4.5-.9 6.4z" fill="#9cbcff" stroke="#9cbcff" fill-opacity=".8"/><path d="M327.2 127.6l1.6 1.3 1.3-7.7-1.6-1.8z" fill="#f7af96" stroke="#f7af96"/><path d="M286.2 191.3l1.8 3.1 2.5-7-1.8-3.2z" fill="#b4cfff" stroke="#b4cfff" fill-opacity=".8"/><path d="M283 199.2l1.9 5 2.5-5.6-1.9-6z" fill="#a1c1ff" stroke="#a1c1ff" fill-opacity=".8"/><path d="M234.5 237.2l1.7-2.4 5.3 2-1.7 2.5z" fill="#6378ec" stroke="#6378ec"/><path d="M335.8 231.8l-0-2.3 2.9 7.2 0 2.8z" fill="#6c85f6" stroke="#6c85f6" fill-opacity=".4"/><path d="M373.5 247.1l2-1.3 18.1 18-2.1 1.2z" fill="#5764dc" stroke="#5764dc"/><path d="M222 239.7l1.5-2.6 5.4 3.3-1.5 2.9z" fill="#5e70e6" stroke="#5e70e6"/><path d="M257.7 226.5l1.4-5.1 3.6-2.5-1.4 5.6z" fill="#7692fe" stroke="#7692fe" fill-opacity=".8"/><path d="M331.3 212.2l2.9-.6 1.9 8.2-2.9 .6z" fill="#88a8ff" stroke="#88a8ff" fill-opacity=".3"/><path d="M350.7 247.8l1.8-.3 5.2 6.3-1.8 .8z" fill="#5b6ae1" stroke="#5b6ae1"/><path d="M313.2 152.6l1.8 3 1.6-8.2-1.8-2.4z" fill="#eed0c2" stroke="#eed0c2" fill-opacity=".6"/><path d="M383.8 247.3l3.3 .2 18.2 17.8-3.4 0z" fill="#5764dc" stroke="#5764dc"/><path d="M321.8 136.5l1.1 4.5 1.4-6.7-1.1-4.7z" fill="#f6bea8" stroke="#f6bea8"/><path d="M196 242.7l.7-3.1 6.7 6.3-.7 3.4z" fill="#5967df" stroke="#5967df"/><path d="M187.5 244.9l2.1-1.4 2.2 1.9-2.1 1.1z" fill="#5764dc" stroke="#5764dc"/><path d="M354 145.4l4.4-.7 .7 10.4-4.4 .2z" fill="#f0cdbe" stroke="#f0cdbe" fill-opacity=".3"/><path d="M294.1 185.1l2.2 .4 2.1-7.1-2.2-1.1z" fill="#c5d8fb" stroke="#c5d8fb" fill-opacity=".8"/><path d="M342.7 244.5l2.9-.5 4.2 6.4-2.9 .5z" fill="#5f70e6" stroke="#5f70e6"/><path d="M387.1 247.5l4.4 1 18.2 17.9-4.5-1.1z" fill="#5764dc" stroke="#5764dc"/><path d="M333.2 222.8l-0-2.4 2.6 9.1 0 2.3z" fill="#7895ff" stroke="#7895ff" fill-opacity=".3"/><path d="M342.5 139.5l3.2 1.9 .7 9-3.2 0z" fill="#f3c8b5" stroke="#f3c8b5" fill-opacity=".3"/><path d="M338.7 239.5l-0-2.7 3.9 7.7 .1 3z" fill="#647aed" stroke="#647aed"/><path d="M268.5 213.6l1.2 1.3 2.7-3-1.2-1.6z" fill="#87a7ff" stroke="#87a7ff" fill-opacity=".8"/><path d="M209.2 241.1l1.3-1.5 6.7 5.7-1.3 1.2z" fill="#5c6ce3" stroke="#5c6ce3"/><path d="M296.3 185.5l1.3-11.4 2-5.6-1.2 9.9z" fill="#cddbf4" stroke="#cddbf4" fill-opacity=".8"/><path d="M256.2 228.6l1.6-2.1 3.6-2-1.6 2.3z" fill="#728dfb" stroke="#728dfb" fill-opacity=".7"/><path d="M245 234.1l1.7-.4 4 .3-1.7 .4z" fill="#687ff2" stroke="#687ff2" fill-opacity=".5"/><path d="M338.8 156.2l.8-5.8 .8 10.5-.8 6.5z" fill="#ead4c9" stroke="#ead4c9" fill-opacity=".3"/><path d="M219.9 241.8l2.1-2.1 5.4 3.6-2.1 2.5z" fill="#5c6de4" stroke="#5c6de4"/><path d="M359.6 252l1.6-1.6 5.3 5.9-1.6 1.6z" fill="#5967df" stroke="#5967df"/><path d="M350.8 139.8l3.2 5.6 .7 10-3.2-5.6z" fill="#f2cab8" stroke="#f2cab8" fill-opacity=".3"/><path d="M332.4 202.1l1-3 1.8 9.4-1 3.1z" fill="#9ebeff" stroke="#9ebeff" fill-opacity=".3"/><path d="M340.4 141.6l2.1-2.1 .7 11-2.1 1.9z" fill="#f3c7b4" stroke="#f3c7b4" fill-opacity=".3"/><path d="M326.4 133.8l.8-6.2 1.3-8.2-.8 7.4z" fill="#f7b097" stroke="#f7b097"/><path d="M371.9 248.6l1.6-1.5 18 17.9-1.6 1.7z" fill="#5764dc" stroke="#5764dc"/><path d="M275.7 205.1l1.6 1.6 2.6-4.8-1.6-1.4z" fill="#98b8ff" stroke="#98b8ff" fill-opacity=".8"/><path d="M335.9 176.5l1.6-6.5 1.3 11.4-1.6 5.5z" fill="#d3dcec" stroke="#d3dcec" fill-opacity=".3"/><path d="M345.7 141.4l5.1-1.6 .7 10-5.1 .7z" fill="#f3c7b4" stroke="#f3c7b4" fill-opacity=".3"/><path d="M331.8 187.8l1.8 3.6 1.6 11.2-1.8-3.6z" fill="#b3cfff" stroke="#b3cfff" fill-opacity=".3"/><path d="M233.1 238.3l1.4-1.1 5.3 2.1-1.4 .7z" fill="#6378ec" stroke="#6378ec"/><path d="M185.6 246.6l1.8-1.6 2.2 1.6-1.8 2z" fill="#5764dc" stroke="#5764dc"/><path d="M193.7 244.1l2.3-1.3 6.6 6.5-2.2 1.5z" fill="#5865dd" stroke="#5865dd"/><path d="M331.3 214.5l-0-2.3 1.8 8.2 .1 2.4z" fill="#89a9ff" stroke="#89a9ff" fill-opacity=".3"/><path d="M349.7 250.4l1-2.6 5.2 6.8-1 2.5z" fill="#5b6ae1" stroke="#5b6ae1"/><path d="M334.3 177.3l1.6-.9 1.3 10.4-1.6 .7z" fill="#cfdbf2" stroke="#cfdbf2" fill-opacity=".3"/><path d="M305.3 164.1l2.1 4 1.8-8.4-2.1-2.4z" fill="#e3d9d4" stroke="#e3d9d4" fill-opacity=".7"/><path d="M336.6 156.3l2.2-.2 .8 11.3-2.1-1.5z" fill="#e9d5cc" stroke="#e9d5cc" fill-opacity=".3"/><path d="M342.7 247.5l-0-3 4.1 6.4 .1 3.2z" fill="#5e70e6" stroke="#5e70e6"/><path d="M324.2 134.4l2.2-.5 1.3-7-2.2-1.2z" fill="#f7b49c" stroke="#f7b49c"/><path d="M206.9 242.4l2.3-1.3 6.7 5.3-2.3 1.5z" fill="#5c6ce2" stroke="#5c6ce2"/><path d="M329.5 202.9l2.9-.9 1.8 9.6-2.9 .6z" fill="#9dbdff" stroke="#9dbdff" fill-opacity=".3"/><path d="M357.8 253.8l1.9-1.9 5.2 5.9-1.8 1.7z" fill="#5865dd" stroke="#5865dd"/><path d="M312.1 156.5l1.1-3.9 1.5-7.5-1 3.3z" fill="#efcebf" stroke="#efcebf" fill-opacity=".6"/><path d="M219.2 244.5l.7-2.7 5.5 4-.7 2.7z" fill="#5d6de4" stroke="#5d6de4"/><path d="M336.5 160.3l1 5.6 1 9.4-1-5.3z" fill="#e2dad5" stroke="#e2dad5" fill-opacity=".3"/><path d="M320.2 142.2l1.6-5.6 1.4-6.9-1.6 5.8z" fill="#f7baa3" stroke="#f7baa3"/><path d="M333.7 230.8l2.1 1 2.9 7.7-2.1-.7z" fill="#708af9" stroke="#708af9" fill-opacity=".4"/><path d="M243.7 236.5l1.3-2.4 4 .3-1.3 2.2z" fill="#6a83f4" stroke="#6a83f4" fill-opacity=".5"/><path d="M301.4 174.3l2.2-4.8 1.8-7.3-2.2 5z" fill="#dcdddd" stroke="#dcdddd" fill-opacity=".8"/><path d="M332.3 181l1.9-3.6 1.3 10.1-1.9 4z" fill="#ccdaf5" stroke="#ccdaf5" fill-opacity=".3"/><path d="M255.6 230.6l.6-2 3.6-1.8-.6 1.6z" fill="#738efb" stroke="#738efb" fill-opacity=".7"/><path d="M336.7 238.8l2.1 .7 4 8-2.1-.2z" fill="#667df0" stroke="#667df0"/><path d="M191.8 245.4l2-1.3 6.6 6.7-1.9 1.2z" fill="#5865dd" stroke="#5865dd"/><path d="M183.7 248.1l1.9-1.6 2.2 2-1.9 1.5z" fill="#5764dc" stroke="#5764dc"/><path d="M332.2 118.8l3.2-1.4 1.2-6.9-3.2 .9z" fill="#f49a80" stroke="#f49a80"/><path d="M346.8 250.9l2.9-.5 5.2 6.7-2.9 .5z" fill="#5b6ae1" stroke="#5b6ae1"/><path d="M371.3 251.4l.7-2.8 18 18.1-.7 2.7z" fill="#5764dc" stroke="#5764dc"/><path d="M309.2 157.5l2.9-1 1.6-8.1-2.9 1.3z" fill="#eed0c2" stroke="#eed0c2" fill-opacity=".6"/><path d="M318.5 144.2l1.7-2 1.4-6.7-1.7 .9z" fill="#f6bea8" stroke="#f6bea8"/><path d="M330.1 121.3l2.1-2.5 1.2-7.3-2.1 2.1z" fill="#f59c82" stroke="#f59c82"/><path d="M205.5 245l1.4-2.6 6.7 5.5-1.4 2.9z" fill="#5b6ae1" stroke="#5b6ae1"/><path d="M338.9 139.7l1.6 1.9 .6 10.8-1.5-2.1z" fill="#f4c5b1" stroke="#f4c5b1" fill-opacity=".3"/><path d="M331.1 221.5l2.1 1.3 2.6 9-2.1-1z" fill="#7b99ff" stroke="#7b99ff" fill-opacity=".3"/><path d="M292.2 180.2l1.9 4.9 2.1-7.8-2-4.1z" fill="#cfdcf2" stroke="#cfdcf2" fill-opacity=".8"/><path d="M303.6 169.5l1.7-5.4 1.7-6.8-1.6 4.9z" fill="#e4d9d3" stroke="#e4d9d3" fill-opacity=".7"/><path d="M231.7 240.6l1.4-2.3 5.3 1.6-1.4 2.6z" fill="#6479ed" stroke="#6479ed"/><path d="M355.9 254.6l1.8-.8 5.3 5.7-1.9 1.1z" fill="#5865dd" stroke="#5865dd"/><path d="M274.2 206.8l1.5-1.7 2.6-4.6-1.5 .9z" fill="#9ebeff" stroke="#9ebeff" fill-opacity=".8"/><path d="M316.6 147.5l1.9-3.3 1.4-7.8-1.9 4.3z" fill="#f5c1ac" stroke="#f5c1ac"/><path d="M332 234.7l1.7-3.9 2.9 8-1.7 3.6z" fill="#708af9" stroke="#708af9" fill-opacity=".4"/><path d="M329.5 205.2l-0-2.2 1.8 9.3-0 2.3z" fill="#9ebeff" stroke="#9ebeff" fill-opacity=".3"/><path d="M340.5 116.8l3.2 4.8 1.3-7.5-3.3-3.1z" fill="#f59c82" stroke="#f59c82"/><path d="M343.7 121.6l4.4-1.6 1.3-8.3-4.5 2.3z" fill="#f59d83" stroke="#f59d83"/><path d="M329.9 238.3l2.2-3.6 2.9 7.7-2.1 3.1z" fill="#6c84f5" stroke="#6c84f5" fill-opacity=".4"/><path d="M335.4 117.3l5.1-.5 1.2-5.8-5.1-.6z" fill="#f4987f" stroke="#f4987f"/><path d="M280.9 195.5l2.1 3.6 2.5-6.6-2.1-4.2z" fill="#b5cfff" stroke="#b5cfff" fill-opacity=".8"/><path d="M330.8 191l1-3.2 1.7 11.3-1.1 3z" fill="#b9d2ff" stroke="#b9d2ff" fill-opacity=".3"/><path d="M253.1 233.2l2.6-2.6 3.6-2.2-2.6 3.4z" fill="#728dfb" stroke="#728dfb" fill-opacity=".7"/><path d="M266.8 211.1l1.8 2.5 2.6-3.3-1.7-3.1z" fill="#92b3ff" stroke="#92b3ff" fill-opacity=".8"/><path d="M335 242.3l1.7-3.6 3.9 8.5-1.6 3.1z" fill="#667df0" stroke="#667df0"/><path d="M340.6 247.3l2.1 .2 4.2 6.6-2.1 .2z" fill="#5f72e8" stroke="#5f72e8"/><path d="M189.7 246.5l2.1-1.2 6.7 6.6-2.1 1z" fill="#5967df" stroke="#5967df"/><path d="M241.5 236.7l2.2-.3 4 .1-2.2-0z" fill="#6c84f5" stroke="#6c84f5" fill-opacity=".5"/><path d="M272.5 211.9l1.7-5.1 2.7-5.4-1.8 5.9z" fill="#9abbff" stroke="#9abbff" fill-opacity=".8"/><path d="M217.2 245.2l2-.8 5.4 4-2 .5z" fill="#5e6fe5" stroke="#5e6fe5"/><path d="M353.4 134.4l4.4-.4 .6 10.7-4.5 .8z" fill="#f7bca5" stroke="#f7bca5" fill-opacity=".3"/><path d="M329.4 225.5l1.7-4 2.6 9.3-1.7 3.9z" fill="#7b99ff" stroke="#7b99ff" fill-opacity=".3"/><path d="M327.2 229.6l2.2-4.1 2.6 9.1-2.2 3.6z" fill="#7692fe" stroke="#7692fe" fill-opacity=".3"/><path d="M250.7 234l2.4-.7 3.6-1.4-2.4 .5z" fill="#718bfa" stroke="#718bfa" fill-opacity=".7"/><path d="M262.8 218.9l1.6-.3 2.7-2.7-1.6-.4z" fill="#87a7ff" stroke="#87a7ff" fill-opacity=".8"/><path d="M369.1 252.5l2.2-1 18 18-2.2 1.1z" fill="#5764dc" stroke="#5764dc"/><path d="M203.4 245.9l2.1-.9 6.7 5.9-2.1 .5z" fill="#5b6ae1" stroke="#5b6ae1"/><path d="M341.9 130l3.2-.9 .6 12.3-3.2-1.9z" fill="#f7b59d" stroke="#f7b59d" fill-opacity=".3"/><path d="M346.9 254.1l-0-3.2 5.2 6.7 0 3.3z" fill="#5b6ae1" stroke="#5b6ae1"/><path d="M332.8 245.5l2.2-3.1 3.9 7.9-2.1 2.6z" fill="#6378ec" stroke="#6378ec"/><path d="M264.4 218.6l2.4-7.4 2.7-3.9-2.4 8.6z" fill="#8fafff" stroke="#8fafff" fill-opacity=".8"/><path d="M309.2 159.6l0-2.1 1.6-7.8-0 2.3z" fill="#eed0c2" stroke="#eed0c2" fill-opacity=".6"/><path d="M329.2 212.8l2.1 1.7 1.9 8.3-2.1-1.3z" fill="#8eaeff" stroke="#8eaeff" fill-opacity=".3"/><path d="M330.6 178l1.8 3 1.2 10.5-1.7-3.6z" fill="#cfdcf2" stroke="#cfdcf2" fill-opacity=".3"/><path d="M228.9 240.4l2.8 .2 5.2 1.9-2.7-.5z" fill="#6479ed" stroke="#6479ed"/><path d="M182.9 250.9l.8-2.7 2.3 1.9-.9 2.5z" fill="#5764dc" stroke="#5764dc"/><path d="M328.5 119.4l1.6 1.8 1.2-7.7-1.6-.9z" fill="#f49a80" stroke="#f49a80"/><path d="M334.9 166.5l1.6-6.2 1.1 9.6-1.7 6.5z" fill="#e5d8d2" stroke="#e5d8d2" fill-opacity=".3"/><path d="M327.8 192.2l3-1.2 1.6 11-3 .9z" fill="#b7d1ff" stroke="#b7d1ff" fill-opacity=".3"/><path d="M338 146.7l.8-6.9 .7 10.6-.8 5.8z" fill="#f4c5b1" stroke="#f4c5b1" fill-opacity=".3"/><path d="M290.5 187.4l1.6-7.2 2.1-7-1.7 6.4z" fill="#d0dcf1" stroke="#d0dcf1" fill-opacity=".8"/><path d="M350.2 130.8l3.3 3.5 .5 11.1-3.2-5.6z" fill="#f7b8a0" stroke="#f7b8a0" fill-opacity=".3"/><path d="M339.8 133.8l2.1-3.8 .7 9.5-2.1 2.1z" fill="#f7b59d" stroke="#f7b59d" fill-opacity=".3"/><path d="M299.6 168.5l1.8 5.8 1.7-7.1-1.7-7.2z" fill="#e0dbd8" stroke="#e0dbd8" fill-opacity=".7"/><path d="M323.2 129.7l1 4.7 1.3-8.7-1-2.2z" fill="#f7ac93" stroke="#f7ac93"/><path d="M355 257.2l1-2.5 5.2 6-.9 2.5z" fill="#5967df" stroke="#5967df"/><path d="M345.1 129.1l5 1.7 .7 9-5.2 1.6z" fill="#f7b59d" stroke="#f7b59d" fill-opacity=".3"/><path d="M333.2 167.1l1.6-.6 1.1 9.9-1.7 .9z" fill="#e1dad7" stroke="#e1dad7" fill-opacity=".3"/><path d="M187.9 248.5l1.8-2 6.7 6.4-1.8 2.3z" fill="#5865dd" stroke="#5865dd"/><path d="M339 250.3l1.6-3 4.2 7-1.6 2.6z" fill="#5f72e8" stroke="#5f72e8"/><path d="M314.8 145.1l1.8 2.4 1.4-6.8-1.8-3.6z" fill="#f5c0ab" stroke="#f5c0ab"/><path d="M261.4 224.5l1.4-5.6 2.7-3.4-1.4 6.1z" fill="#84a4ff" stroke="#84a4ff" fill-opacity=".8"/><path d="M239.8 239.2l1.7-2.5 4-.2-1.7 2.9z" fill="#6b84f5" stroke="#6b84f5" fill-opacity=".5"/><path d="M287.3 198.5l1.4-14.4 2-7.3-1.4 15.1z" fill="#c3d7fd" stroke="#c3d7fd" fill-opacity=".8"/><path d="M325.3 222.1l2.2-4.7 1.9 8-2.2 4.2z" fill="#86a5ff" stroke="#86a5ff" fill-opacity=".3"/><path d="M335.6 150.7l1 5.6 .8 9.6-.9-5.6z" fill="#efcfc1" stroke="#efcfc1" fill-opacity=".3"/><path d="M280 201.9l.9-6.4 2.5-7.1-.9 7.3z" fill="#b5cfff" stroke="#b5cfff" fill-opacity=".8"/><path d="M285.5 192.5l1.9 6 2-6.6-1.9-5.7z" fill="#bbd3ff" stroke="#bbd3ff" fill-opacity=".8"/><path d="M328.1 234.6l1.7 3.7 3 7.2-1.8-2.6z" fill="#6e87f7" stroke="#6e87f7" fill-opacity=".4"/><path d="M227.4 243.3l1.5-2.9 5.2 1.6-1.4 3.4z" fill="#6479ed" stroke="#6479ed"/><path d="M335.9 145.1l2.1 1.6 .8 9.5-2.2 .2z" fill="#f3c7b4" stroke="#f3c7b4" fill-opacity=".3"/><path d="M327.5 217.4l1.7-4.7 1.9 8.8-1.7 3.9z" fill="#8eaeff" stroke="#8eaeff" fill-opacity=".3"/><path d="M271.2 210.4l1.2 1.5 2.6-4.6-1.2-2.1z" fill="#9abbff" stroke="#9abbff" fill-opacity=".8"/><path d="M368 254.1l1.1-1.6 18 18.1-1.1 2.2z" fill="#5764dc" stroke="#5764dc"/><path d="M259.8 226.8l1.6-2.3 2.6-2.8-1.5 2.2z" fill="#7f9dff" stroke="#7f9dff" fill-opacity=".8"/><path d="M249 234.3l1.7-.4 3.6-1.5-1.7-0z" fill="#738efb" stroke="#738efb" fill-opacity=".7"/><path d="M288.7 184.1l1.8 3.3 2.1-7.9-1.9-2.7z" fill="#cedbf3" stroke="#cedbf3" fill-opacity=".8"/><path d="M336.8 252.9l2.2-2.5 4.1 6.6-2.1 2.1z" fill="#5d6fe5" stroke="#5d6fe5"/><path d="M331.1 242.9l1.7 2.6 4 7.4-1.7-1.4z" fill="#6479ed" stroke="#6479ed"/><path d="M202.7 249.3l.7-3.4 6.7 5.6-.7 3.8z" fill="#5b6ae1" stroke="#5b6ae1"/><path d="M327.7 126.9l.8-7.4 1.2-6.8-.8 5.3z" fill="#f59c82" stroke="#f59c82"/><path d="M331.3 170.9l1.9-3.7 1.1 10.2-2 3.6z" fill="#dfdbd9" stroke="#dfdbd9" fill-opacity=".3"/><path d="M352 257.6l2.9-.4 5.3 5.9-3 .5z" fill="#5967df" stroke="#5967df"/><path d="M296.1 177.3l2.2 1.1 1.8-7.7-2.3-1z" fill="#dadde1" stroke="#dadde1" fill-opacity=".8"/><path d="M325.5 224.7l1.7 4.9 2.7 8.7-1.8-3.8z" fill="#7997ff" stroke="#7997ff" fill-opacity=".3"/><path d="M215.9 246.5l1.3-1.2 5.4 3.6-1.3 .7z" fill="#5f72e8" stroke="#5f72e8"/><path d="M298.4 178.4l1.3-9.9 1.7-8.5-1.3 10.7z" fill="#dfdbd9" stroke="#dfdbd9" fill-opacity=".7"/><path d="M225.3 245.8l2.1-2.5 5.3 2.1-2.1 3z" fill="#6277eb" stroke="#6277eb"/><path d="M327.9 194.4l-0-2.1 1.6 10.7 0 2.2z" fill="#b8d1ff" stroke="#b8d1ff" fill-opacity=".3"/><path d="M181.1 252.6l1.8-1.7 2.2 1.6-1.8 1.9z" fill="#5764dc" stroke="#5764dc"/><path d="M344.8 254.3l2.1-.2 5.2 6.8-2.1 .6z" fill="#5c6ce2" stroke="#5c6ce2"/><path d="M327.4 202.9l2.1 2.2 1.8 9.4-2.1-1.8z" fill="#a4c3ff" stroke="#a4c3ff" fill-opacity=".3"/><path d="M186 250.1l1.9-1.5 6.7 6.7-1.9 1.5z" fill="#5865dd" stroke="#5865dd"/><path d="M338.2 130.2l1.5 3.6 .7 7.7-1.6-1.8z" fill="#f7b39a" stroke="#f7b39a" fill-opacity=".3"/><path d="M321.6 135.5l1.6-5.8 1.3-6.3-1.6 6z" fill="#f7aa91" stroke="#f7aa91"/><path d="M325.5 125.7l2.2 1.2 1.2-8.9-2.2 .6z" fill="#f59f85" stroke="#f59f85"/><path d="M238.4 239.9l1.4-.7 4 .2-1.4 .3z" fill="#6b84f5" stroke="#6b84f5" fill-opacity=".6"/><path d="M326.9 242l1.3-7.4 2.9 8.3-1.2 6.5z" fill="#6e87f7" stroke="#6e87f7" fill-opacity=".4"/><path d="M278.3 200.5l1.6 1.4 2.5-6.2-1.6-2.3z" fill="#b1cdff" stroke="#b1cdff" fill-opacity=".8"/><path d="M177.9 252.7l3.3-.1 2.2 1.8-3.3 .4z" fill="#5764dc" stroke="#5764dc"/><path d="M329.5 180.3l1-2.3 1.3 9.9-1 3.1z" fill="#d2dced" stroke="#d2dced" fill-opacity=".3"/><path d="M200.4 250.8l2.3-1.5 6.7 6-2.3 1.7z" fill="#5a69e0" stroke="#5a69e0"/><path d="M307.1 157.3l2.1 2.4 1.6-7.6-2.1-2.6z" fill="#f0cdbe" stroke="#f0cdbe" fill-opacity=".6"/><path d="M323.5 212.4l2.2-5 1.8 10.1-2.2 4.7z" fill="#99baff" stroke="#99baff" fill-opacity=".3"/><path d="M324.6 242.3l2.2-.3 3 7.4-2.2 .2z" fill="#6981f3" stroke="#6981f3" fill-opacity=".4"/><path d="M335 251.5l1.8 1.4 4.1 6.2-1.7-.5z" fill="#5e70e6" stroke="#5e70e6"/><path d="M366.5 256.2l1.5-2.2 18 18.8-1.5 1.8z" fill="#5764dc" stroke="#5764dc"/><path d="M329.8 249.4l1.3-6.5 3.9 8.6-1.2 5.2z" fill="#6479ed" stroke="#6479ed"/><path d="M333.4 111.4l3.2-1 1.2-7.8-3.3 .7z" fill="#ee846c" stroke="#ee846c"/><path d="M323.6 216l1.7 6.1 1.9 7.5-1.7-4.9z" fill="#8aaaff" stroke="#8aaaff" fill-opacity=".3"/><path d="M319.9 136.4l1.7-.9 1.2-6.1-1.6-.1z" fill="#f7ad94" stroke="#f7ad94"/><path d="M224.6 248.5l.7-2.7 5.3 2.6-.7 2.6z" fill="#6073e9" stroke="#6073e9"/><path d="M331.3 113.5l2.1-2.1 1.1-8.2-2.1 3.2z" fill="#ee866e" stroke="#ee866e"/><path d="M352.1 260.9l-.1-3.3 5.3 6 .1 3.3z" fill="#5967df" stroke="#5967df"/><path d="M324.2 233.5l1.3-8.8 2.6 9.8-1.3 7.4z" fill="#7997ff" stroke="#7997ff" fill-opacity=".3"/><path d="M343.1 257l1.6-2.7 5.2 7.2-1.6 2.4z" fill="#5c6ce2" stroke="#5c6ce2"/><path d="M213.6 248l2.3-1.5 5.5 3.1-2.4 1.7z" fill="#5f72e7" stroke="#5f72e7"/><path d="M325.7 207.4l1.7-4.5 1.8 9.9-1.7 4.6z" fill="#a4c3ff" stroke="#a4c3ff" fill-opacity=".3"/><path d="M313.7 148.4l1.1-3.4 1.4-8-1.1 2.1z" fill="#f6bfaa" stroke="#f6bfaa"/><path d="M322 233.3l2.2 .3 2.7 8.4-2.3 .3z" fill="#7490fc" stroke="#7490fc" fill-opacity=".4"/><path d="M247.7 236.5l1.3-2.2 3.6-1.9-1.3 2.4z" fill="#7490fc" stroke="#7490fc" fill-opacity=".7"/><path d="M329.5 167.1l1.8 3.8 1 10.1-1.8-3z" fill="#e1dad7" stroke="#e1dad7" fill-opacity=".3"/><path d="M259.3 228.4l.6-1.6 2.6-2.9-.5 1.6z" fill="#809fff" stroke="#809fff" fill-opacity=".8"/><path d="M334 156.3l1.6-5.6 .9 9.6-1.6 6.3z" fill="#f1ccbb" stroke="#f1ccbb" fill-opacity=".3"/><path d="M326.6 180.7l2.9-.5 1.3 10.8-2.9 1.2z" fill="#d0dcef" stroke="#d0dcef" fill-opacity=".3"/><path d="M327.6 249.5l2.2-.2 4 7.3-2.2 .6z" fill="#6277eb" stroke="#6277eb"/><path d="M303.2 167.2l2.2-5 1.6-8.6-2.3 6.8z" fill="#ecd3c7" stroke="#ecd3c7" fill-opacity=".6"/><path d="M310.7 149.7l3-1.3 1.4-9.3-3 4.1z" fill="#f5c1ad" stroke="#f5c1ad"/><path d="M177.2 255.6l.7-2.9 2.2 2.1-.7 2.5z" fill="#5764dc" stroke="#5764dc"/><path d="M185.1 252.5l.8-2.4 6.7 6.6-.8 2.3z" fill="#5865dd" stroke="#5865dd"/><path d="M341.4 120l3.2-.6 .6 9.7-3.3 .9z" fill="#f59f85" stroke="#f59f85" fill-opacity=".3"/><path d="M339.2 122.7l2.1-2.7 .6 9.9-2.2 3.9z" fill="#f6a288" stroke="#f6a288" fill-opacity=".3"/><path d="M337.4 136.3l.8-6 .6 9.5-.8 6.9z" fill="#f7b39a" stroke="#f7b39a" fill-opacity=".3"/><path d="M336.6 110.4l5.1 .5 1.1-8.6-5.1 .3z" fill="#ed836b" stroke="#ed836b"/><path d="M318 140.7l1.9-4.3 1.3-7-1.9 4.4z" fill="#f7b199" stroke="#f7b199"/><path d="M198.4 251.9l2-1.2 6.7 6.2-2 1z" fill="#5a69e0" stroke="#5a69e0"/><path d="M353 124l4.5-1.2 .4 11.2-4.4 .4z" fill="#f7a68d" stroke="#f7a68d" fill-opacity=".3"/><path d="M341 259.1l2.2-2.1 5.2 6.9-2.2 1.7z" fill="#5b6ae1" stroke="#5b6ae1"/><path d="M341.7 111l3.3 3.1 1.2-9.1-3.3-2.7z" fill="#ee846c" stroke="#ee846c"/><path d="M332.4 157.3l1.7-1 .8 10.3-1.6 .6z" fill="#efcec0" stroke="#efcec0" fill-opacity=".3"/><path d="M212.2 250.9l1.4-2.9 5.4 3.3-1.4 3.5z" fill="#5e70e6" stroke="#5e70e6"/><path d="M344.9 114.1l4.5-2.4 1.1-7-4.4 .3z" fill="#ee866e" stroke="#ee866e"/><path d="M305.4 162.2l1.7-4.9 1.5-7.9-1.6 4.2z" fill="#f1cdbd" stroke="#f1cdbd" fill-opacity=".6"/><path d="M349.7 119.4l3.2 4.5 .5 10.4-3.2-3.5z" fill="#f6a389" stroke="#f6a389" fill-opacity=".3"/><path d="M236.9 242.5l1.4-2.6 4-.2-1.4 2.7z" fill="#6c85f6" stroke="#6c85f6" fill-opacity=".6"/><path d="M364.9 257.9l1.6-1.6 18.1 18.4-1.7 1.7z" fill="#5764dc" stroke="#5764dc"/><path d="M333.8 256.7l1.2-5.2 4.2 7.1-1.2 4.2z" fill="#5e70e6" stroke="#5e70e6"/><path d="M320.1 225.4l2.2 .5 1.9 7.6-2.2-.2z" fill="#82a1ff" stroke="#82a1ff" fill-opacity=".3"/><path d="M322.3 225.9l1.3-9.9 1.9 8.7-1.3 8.8z" fill="#8aabff" stroke="#8aabff" fill-opacity=".3"/><path d="M294.2 173.2l1.9 4.1 1.8-7.6-2-3.8z" fill="#e1dad7" stroke="#e1dad7" fill-opacity=".7"/><path d="M329.7 112.6l1.6 .9 1.1-7-1.6-.6z" fill="#ee866e" stroke="#ee866e"/><path d="M256.7 231.9l2.6-3.5 2.6-2.8-2.5 3.4z" fill="#7f9dff" stroke="#7f9dff" fill-opacity=".8"/><path d="M344.6 119.4l5.1 0 .5 11.4-5.1-1.7z" fill="#f59f85" stroke="#f59f85" fill-opacity=".3"/><path d="M334.9 141.1l1 4 .7 11.2-1-5.6z" fill="#f6bfa9" stroke="#f6bfa9" fill-opacity=".3"/><path d="M254.3 232.4l2.4-.5 2.6-2.9-2.3 1.3z" fill="#7d9bff" stroke="#7d9bff" fill-opacity=".8"/><path d="M325.8 190.6l2.1 3.8 1.6 10.8-2.1-2.2z" fill="#bed5ff" stroke="#bed5ff" fill-opacity=".3"/><path d="M335.3 136.6l2.2-.3 .6 10.4-2.1-1.6z" fill="#f7b59d" stroke="#f7b59d" fill-opacity=".3"/><path d="M269.5 207.3l1.8 3.1 2.6-5.2-1.8-3.3z" fill="#a8c6ff" stroke="#a8c6ff" fill-opacity=".8"/><path d="M276.8 201.4l1.5-.9 2.5-7.1-1.5 2.1z" fill="#b8d1ff" stroke="#b8d1ff" fill-opacity=".8"/><path d="M245.5 236.5l2.2 0 3.6-1.7-2.2-.3z" fill="#7692fe" stroke="#7692fe" fill-opacity=".8"/><path d="M330.4 160.5l1.9-3.2 .9 9.9-1.9 3.7z" fill="#eed0c2" stroke="#eed0c2" fill-opacity=".3"/><path d="M321.8 205.7l1.7 6.7 1.8 9.8-1.7-6.1z" fill="#a0c0ff" stroke="#a0c0ff" fill-opacity=".3"/><path d="M350 261.5l2.1-.6 5.3 6-2.2 .9z" fill="#5967de" stroke="#5967de"/><path d="M322.8 239.4l1.9 2.9 2.9 7.2-1.8-1.8z" fill="#6d87f7" stroke="#6d87f7" fill-opacity=".4"/><path d="M310.7 152l0-2.3 1.4-6.5-0 .5z" fill="#f5c1ac" stroke="#f5c1ac"/><path d="M265.5 215.5l1.6 .3 2.6-5.7-1.6 .3z" fill="#9cbcff" stroke="#9cbcff" fill-opacity=".8"/><path d="M222.7 248.9l2-.5 5.3 2.6-2-.1z" fill="#6276eb" stroke="#6276eb"/><path d="M326.6 182.9l-0-2.1 1.2 11.5 .1 2.1z" fill="#d1dcee" stroke="#d1dcee" fill-opacity=".3"/><path d="M324.4 123.4l1.1 2.3 1.2-7.1-1.1-3.2z" fill="#f4987f" stroke="#f4987f"/><path d="M331.6 257.2l2.2-.5 4.2 6.1-2.2 .7z" fill="#5c6de4" stroke="#5c6de4"/><path d="M267 215.8l2.4-8.6 2.6-5.4-2.4 8.3z" fill="#a3c3ff" stroke="#a3c3ff" fill-opacity=".8"/><path d="M283.4 188.4l2.1 4.2 2-6.4-2.1-5.1z" fill="#cedbf3" stroke="#cedbf3" fill-opacity=".8"/><path d="M196.4 253l2.1-1 6.7 6-2.1 .7z" fill="#5b6ae1" stroke="#5b6ae1"/><path d="M339.2 258.6l1.8 .5 5.2 6.4-1.8 .4z" fill="#5b6ae1" stroke="#5b6ae1"/><path d="M316.2 137.1l1.8 3.6 1.3-6.8-1.9-2.7z" fill="#f7b097" stroke="#f7b097"/><path d="M174.8 256.7l2.3-1.1 2.3 1.7-2.4 .9z" fill="#5764dc" stroke="#5764dc"/><path d="M275.1 207.3l1.8-5.9 2.4-5.9-1.7 5.4z" fill="#b4cfff" stroke="#b4cfff" fill-opacity=".8"/><path d="M325.7 247.7l1.9 1.9 4 7.6-1.9-.8z" fill="#657bef" stroke="#657bef"/><path d="M210.1 251.4l2.1-.5 5.4 3.8-2.1-.1z" fill="#5e70e6" stroke="#5e70e6"/><path d="M234.2 242l2.8 .5 3.9-.1-2.7-.7z" fill="#6e87f7" stroke="#6e87f7" fill-opacity=".6"/><path d="M337.7 120.9l1.6 1.8 .5 11.1-1.5-3.6z" fill="#f59f85" stroke="#f59f85" fill-opacity=".3"/><path d="M363 259.6l1.9-1.7 18 18.5-1.8 1.5z" fill="#5764dc" stroke="#5764dc"/><path d="M301.4 160l1.8 7.1 1.5-6.8-1.8-6.9z" fill="#eed0c2" stroke="#eed0c2" fill-opacity=".6"/><path d="M183.3 254.4l1.8-1.9 6.7 6.5-1.8 2z" fill="#5967df" stroke="#5967df"/><path d="M320.1 230.5l1.9 2.7 2.6 9-1.8-2.8z" fill="#7997ff" stroke="#7997ff" fill-opacity=".3"/><path d="M321.9 201.6l2.2-5.6 1.7 11.4-2.3 5z" fill="#b5cfff" stroke="#b5cfff" fill-opacity=".3"/><path d="M292.6 179.6l1.6-6.4 1.8-7.3-1.7 6.7z" fill="#e2dad5" stroke="#e2dad5" fill-opacity=".7"/><path d="M328.5 169.3l1-2.3 1.1 10.9-1.1 2.3z" fill="#e5d8d2" stroke="#e5d8d2" fill-opacity=".3"/><path d="M264.1 221.7l1.4-6.1 2.6-5.1-1.4 6.6z" fill="#98b9ff" stroke="#98b9ff" fill-opacity=".8"/><path d="M243.8 239.5l1.7-3 3.7-2-1.8 3.4z" fill="#7692fe" stroke="#7692fe" fill-opacity=".8"/><path d="M328.9 118l.8-5.4 1.1-6.6-.8 4.4z" fill="#ee866e" stroke="#ee866e"/><path d="M324.1 196l1.7-5.4 1.6 12.3-1.7 4.5z" fill="#c1d6ff" stroke="#c1d6ff" fill-opacity=".3"/><path d="M348.3 263.8l1.6-2.3 5.3 6.3-1.6 2.1z" fill="#5967de" stroke="#5967de"/><path d="M318.3 215.5l2.2 .7 1.8 9.7-2.2-.5z" fill="#96b6ff" stroke="#96b6ff" fill-opacity=".3"/><path d="M180.1 254.8l3.2-.4 6.7 6.6-3.2 .7z" fill="#5865dd" stroke="#5865dd"/><path d="M262.5 223.9l1.6-2.3 2.5-4.6-1.5 2.5z" fill="#91b2ff" stroke="#91b2ff" fill-opacity=".8"/><path d="M321.1 245.2l1.6-5.8 3 8.2-1.6 5.2z" fill="#6f88f8" stroke="#6f88f8" fill-opacity=".4"/><path d="M252.6 232.4l1.7 0 2.7-2.1-1.7-.8z" fill="#809fff" stroke="#809fff" fill-opacity=".8"/><path d="M320.5 216.2l1.3-10.5 1.8 10.3-1.3 9.9z" fill="#9fbfff" stroke="#9fbfff" fill-opacity=".3"/><path d="M194.5 255.2l1.8-2.3 6.7 5.7-1.8 2.8z" fill="#5a69e0" stroke="#5a69e0"/><path d="M232.7 245.4l1.5-3.4 4-.3-1.5 3.4z" fill="#6c85f6" stroke="#6c85f6" fill-opacity=".6"/><path d="M289.4 191.9l1.4-15.1 1.7-7.1-1.4 13.8z" fill="#d8dde4" stroke="#d8dde4" fill-opacity=".8"/><path d="M173.1 258.5l1.8-1.8 2.2 1.5-1.8 2.1z" fill="#5764dc" stroke="#5764dc"/><path d="M287.5 186.2l1.9 5.7 1.7-8.3-1.9-5z" fill="#d3dcec" stroke="#d3dcec" fill-opacity=".8"/><path d="M324.1 252.8l1.6-5.1 4 8.7-1.6 4z" fill="#657bef" stroke="#657bef"/><path d="M361.2 260.7l1.8-1.1 18.1 18.3-1.9 1.5z" fill="#5764dc" stroke="#5764dc"/><path d="M338 262.8l1.2-4.2 5.2 7.3-1.2 3.4z" fill="#5b6ae1" stroke="#5b6ae1"/><path d="M328.6 157.7l1.8 2.8 .9 10.4-1.8-3.8z" fill="#efcfc1" stroke="#efcfc1" fill-opacity=".3"/><path d="M329.7 256.4l1.9 .8 4.2 6.4-1.9-.1z" fill="#6072e8" stroke="#6072e8"/><path d="M322.8 129.4l1.6-5.9 1.2-8-1.6 5.9z" fill="#f3977d" stroke="#f3977d"/><path d="M318.5 236.5l1.6-6 2.7 8.9-1.6 5.8z" fill="#7a98ff" stroke="#7a98ff" fill-opacity=".3"/><path d="M333.3 145.9l1.6-4.8 .7 9.6-1.6 5.5z" fill="#f7bca5" stroke="#f7bca5" fill-opacity=".3"/><path d="M318.2 221.4l1.9 4 1.9 7.8-1.9-2.7z" fill="#8aaaff" stroke="#8aaaff" fill-opacity=".3"/><path d="M325.5 170.6l3-1.3 1 10.9-2.9 .5z" fill="#e4d9d3" stroke="#e4d9d3" fill-opacity=".3"/><path d="M230.6 248.4l2.1-3 4-.3-2.1 3.8z" fill="#6981f3" stroke="#6981f3" fill-opacity=".5"/><path d="M209.4 255.2l.7-3.8 5.5 3.2-.7 4.6z" fill="#5f70e6" stroke="#5f70e6"/><path d="M290.8 176.9l1.8 2.7 1.7-7.1-1.8-2.8z" fill="#e0dbd8" stroke="#e0dbd8" fill-opacity=".7"/><path d="M282.4 195.7l.9-7.3 2.1-7.3-1 6.8z" fill="#cedbf3" stroke="#cedbf3" fill-opacity=".8"/><path d="M273.8 205.2l1.2 2.1 2.5-6.4-1.2-2.8z" fill="#b5cfff" stroke="#b5cfff" fill-opacity=".8"/><path d="M297.9 169.7l2.3 1 1.5-8.3-2.3-.7z" fill="#ebd3c8" stroke="#ebd3c8" fill-opacity=".6"/><path d="M346.2 265.5l2.1-1.7 5.3 6-2.1 1.5z" fill="#5865dd" stroke="#5865dd"/><path d="M300.1 170.7l1.3-10.6 1.5-6.6-1.3 9z" fill="#eed0c2" stroke="#eed0c2" fill-opacity=".6"/><path d="M332.4 106.5l2.1-3.2 1-5.8-2.1 2.1z" fill="#e5705c" stroke="#e5705c"/><path d="M221.4 249.6l1.3-.7 5.2 2-1.2 .1z" fill="#657bef" stroke="#657bef"/><path d="M326.7 118.6l2.2-.6 1.1-7.7-2.2-.9z" fill="#ef886f" stroke="#ef886f"/><path d="M321.2 129.4l1.7 0 1.1-7.9-1.7 2.3z" fill="#f59c82" stroke="#f59c82"/><path d="M319.3 244.2l1.8 1.1 3 7.5-1.8-.7z" fill="#6c85f6" stroke="#6c85f6" fill-opacity=".4"/><path d="M334.5 103.3l3.2-.6 1.1-8.6-3.3 3.4z" fill="#e36c59" stroke="#e36c59"/><path d="M340.9 110.5l3.2-.4 .5 9.4-3.2 .6z" fill="#ef886f" stroke="#ef886f" fill-opacity=".3"/><path d="M179.4 257.3l.7-2.5 6.7 6.8-.7 2.2z" fill="#5865dd" stroke="#5865dd"/><path d="M336.9 125.6l.8-4.6 .5 9.3-.8 6z" fill="#f59d83" stroke="#f59d83" fill-opacity=".3"/><path d="M192.6 256.7l1.9-1.5 6.7 6.2-1.9 1.5z" fill="#5a69e0" stroke="#5a69e0"/><path d="M331.6 147.5l1.7-1.5 .7 10.3-1.7 1z" fill="#f6bfaa" stroke="#f6bfaa" fill-opacity=".3"/><path d="M242.4 239.7l1.4-.3 3.6-1.6-1.4-.2z" fill="#7692fe" stroke="#7692fe" fill-opacity=".8"/><path d="M170.5 259.4l2.6-.9 2.2 1.8-2.6 .3z" fill="#5764dc" stroke="#5764dc"/><path d="M320.2 195l1.7 6.6 1.7 10.8-1.7-6.8z" fill="#bad3ff" stroke="#bad3ff" fill-opacity=".3"/><path d="M335.7 263.5l2.2-.8 5.3 6.6-2.3 .9z" fill="#5a69e0" stroke="#5a69e0"/><path d="M338.8 112.1l2.1-1.6 .5 9.5-2.1 2.8z" fill="#ef886f" stroke="#ef886f" fill-opacity=".3"/><path d="M322.3 252.1l1.8 .7 4 7.7-1.8 .1z" fill="#6479ed" stroke="#6479ed"/><path d="M317.9 253.4l1.4-9.2 3 7.9-1.4 7.7z" fill="#687ff2" stroke="#687ff2" fill-opacity=".4"/><path d="M316.7 234.7l1.8 1.9 2.6 8.7-1.8-1.1z" fill="#7895ff" stroke="#7895ff" fill-opacity=".3"/><path d="M308.6 149.4l2.1 2.6 1.4-8.3-2.1-1.5z" fill="#f6bea8" stroke="#f6bea8"/><path d="M315.1 139.1l1-2.1 1.3-5.8-1.1 1.9z" fill="#f7ad94" stroke="#f7ad94"/><path d="M352.6 112.5l4.4 .5 .5 9.8-4.5 1.2z" fill="#f18d74" stroke="#f18d74" fill-opacity=".3"/><path d="M328.1 260.4l1.6-4 4.2 7.1-1.6 3.3z" fill="#6072e8" stroke="#6072e8"/><path d="M207.1 257l2.3-1.7 5.4 3.9-2.2 2.1z" fill="#5d6de4" stroke="#5d6de4"/><path d="M324.5 180.2l2.1 2.6 1.3 11.5-2.1-3.8z" fill="#d7dde7" stroke="#d7dde7" fill-opacity=".3"/><path d="M334.3 130.3l1 6.3 .6 8.5-1-4z" fill="#f7ac93" stroke="#f7ac93" fill-opacity=".3"/><path d="M316.6 228.5l1.7-7.1 1.8 9.1-1.6 6z" fill="#8aaaff" stroke="#8aaaff" fill-opacity=".3"/><path d="M315.3 245.6l1.4-11 2.7 9.5-1.4 9.2z" fill="#738efb" stroke="#738efb" fill-opacity=".4"/><path d="M229.9 251l.7-2.6 4 .5-.7 2.5z" fill="#677ef1" stroke="#677ef1"/><path d="M344.1 110.1l5.1 .6 .5 8.8-5.1-0z" fill="#ef886f" stroke="#ef886f" fill-opacity=".3"/><path d="M349.2 110.7l3.3 1.8 .4 11.5-3.2-4.5z" fill="#f08a71" stroke="#f08a71" fill-opacity=".3"/><path d="M360.2 263.1l1-2.4 18 18.7-.9 2.4z" fill="#5764dc" stroke="#5764dc"/><path d="M319.2 133.8l1.9-4.5 1.2-5.6-1.9 1.9z" fill="#f59f85" stroke="#f59f85"/><path d="M251.3 234.8l1.3-2.4 2.7-2.9-1.3 2.6z" fill="#82a1ff" stroke="#82a1ff" fill-opacity=".8"/><path d="M344.4 265.9l1.8-.4 5.3 5.9-1.9 .9z" fill="#5967df" stroke="#5967df"/><path d="M261.9 225.5l.6-1.6 2.5-4.5-.5 .9z" fill="#92b3ff" stroke="#92b3ff" fill-opacity=".8"/><path d="M280.8 193.4l1.6 2.3 2-7.8-1.6-1.7z" fill="#ccdbf5" stroke="#ccdbf5" fill-opacity=".8"/><path d="M330.8 105.9l1.6 .5 1-6.9-1.6 .4z" fill="#e5705c" stroke="#e5705c"/><path d="M329.7 150.1l1.9-2.6 .8 9.8-2 3.2z" fill="#f5c0ab" stroke="#f5c0ab" fill-opacity=".3"/><path d="M325.5 173.2l-0-2.5 1 10.1 .1 2.1z" fill="#e4d9d3" stroke="#e4d9d3" fill-opacity=".3"/><path d="M312.1 143.2l3-4 1.2-6-2.9 1.8z" fill="#f7b097" stroke="#f7b097"/><path d="M337.7 102.6l5.1-.3 1.1-7.7-5.1-.5z" fill="#e36b58" stroke="#e36b58"/><path d="M334.7 125.3l2.2 .3 .5 10.7-2.2 .3z" fill="#f5a086" stroke="#f5a086" fill-opacity=".3"/><path d="M320.9 259.7l1.4-7.7 3.9 8.5-1.3 5.8z" fill="#6175ea" stroke="#6175ea"/><path d="M316.1 250.7l1.8 2.6 3 6.4-1.8-1.6z" fill="#667df0" stroke="#667df0"/><path d="M320.6 191.7l2.2-6.2 1.3 10.5-2.2 5.6z" fill="#cfdcf2" stroke="#cfdcf2" fill-opacity=".3"/><path d="M346.1 105l4.4-.3 1.1-7.7-4.4-0z" fill="#e46e5b" stroke="#e46e5b"/><path d="M313.4 241.9l1.8 3.7 2.7 7.7-1.8-2.6z" fill="#708af9" stroke="#708af9" fill-opacity=".4"/><path d="M342.8 102.3l3.3 2.7 1.1-8.1-3.3-2.3z" fill="#e36b58" stroke="#e36b58"/><path d="M304.7 160.4l2.2-6.8 1.4-7.7-2.2 6.1z" fill="#f5c4af" stroke="#f5c4af"/><path d="M316.6 204.7l2.2 .9 1.7 10.6-2.2-.6z" fill="#b0ccff" stroke="#b0ccff" fill-opacity=".3"/><path d="M219 251.3l2.3-1.7 5.3 1.4-2.3 2.1z" fill="#667df0" stroke="#667df0"/><path d="M316.4 211.4l1.9 4.1 1.8 9.9-1.9-4z" fill="#a1c1ff" stroke="#a1c1ff" fill-opacity=".3"/><path d="M318.8 205.6l1.3-10.6 1.7 10.6-1.3 10.6z" fill="#bad3ff" stroke="#bad3ff" fill-opacity=".3"/><path d="M333.8 263.5l1.9 .1 5.2 6.6-1.9 .5z" fill="#5c6ce3" stroke="#5c6ce3"/><path d="M205.1 257.9l2-.9 5.4 4.2-2 .7z" fill="#5d6de4" stroke="#5d6de4"/><path d="M337.2 112.9l1.6-.9 .5 10.7-1.6-1.8z" fill="#ef886f" stroke="#ef886f" fill-opacity=".3"/><path d="M177 258.2l2.3-.9 6.7 6.6-2.3 .7z" fill="#5967df" stroke="#5967df"/><path d="M170.1 262.6l.4-3.2 2.2 1.2-.4 3.9z" fill="#5764dc" stroke="#5764dc"/><path d="M326.3 260.5l1.8-.1 4.2 6.4-1.8 .5z" fill="#5e70e6" stroke="#5e70e6"/><path d="M314.8 225.6l1.8 2.9 1.9 8.1-1.8-1.9z" fill="#89a9ff" stroke="#89a9ff" fill-opacity=".3"/><path d="M313.3 238.4l1.4-12.9 2 9.1-1.5 11z" fill="#81a0ff" stroke="#81a0ff" fill-opacity=".3"/><path d="M357.3 263.6l2.9-.4 18.1 18.6-3 .5z" fill="#5764dc" stroke="#5764dc"/><path d="M306.9 153.6l1.7-4.1 1.4-7.3-1.7 3.7z" fill="#f6bda6" stroke="#f6bda6"/><path d="M191.8 259l.8-2.3 6.7 6.2-.8 1.8z" fill="#5a69e0" stroke="#5a69e0"/><path d="M327.6 159.4l1-1.7 .9 9.4-1 2.2z" fill="#f1ccbb" stroke="#f1ccbb" fill-opacity=".3"/><path d="M322.8 185.5l1.7-5.2 1.3 10.3-1.7 5.4z" fill="#d7dde6" stroke="#d7dde6" fill-opacity=".3"/><path d="M319.1 258.1l1.9 1.6 4 6.6-1.9-.5z" fill="#5f72e7" stroke="#5f72e7"/><path d="M259.4 229l2.6-3.5 2.6-5.1-2.6 4.5z" fill="#91b2ff" stroke="#91b2ff" fill-opacity=".8"/><path d="M257 230.3l2.4-1.3 2.5-4-2.3 .9z" fill="#8eaeff" stroke="#8eaeff" fill-opacity=".8"/><path d="M217.6 254.8l1.4-3.5 5.2 1.8-1.3 3.9z" fill="#647aed" stroke="#647aed"/><path d="M240.9 242.5l1.4-2.7 3.6-2.1-1.4 2.7z" fill="#7895ff" stroke="#7895ff" fill-opacity=".8"/><path d="M325.6 115.5l1.1 3.1 1.1-9.2-1.2 1z" fill="#ed836b" stroke="#ed836b"/><path d="M311.5 233.8l1.8 4.6 2 7.2-1.9-3.7z" fill="#7b99ff" stroke="#7b99ff" fill-opacity=".3"/><path d="M295.9 165.9l1.9 3.8 1.5-8-1.9-3.2z" fill="#efcfc1" stroke="#efcfc1" fill-opacity=".6"/><path d="M343.2 269.3l1.2-3.4 5.2 6.4-1.1 2.9z" fill="#5967df" stroke="#5967df"/><path d="M317.4 131.2l1.8 2.6 1.2-8.2-1.8-2.4z" fill="#f59d83" stroke="#f59d83"/><path d="M312.1 143.8l-0-.6 1.2-8.2 .1 1.4z" fill="#f7b097" stroke="#f7b097"/><path d="M249.1 234.4l2.2 .4 2.7-2.7-2.2-1z" fill="#84a4ff" stroke="#84a4ff" fill-opacity=".8"/><path d="M327.9 148.6l1.8 1.5 .8 10.3-1.8-2.7z" fill="#f5c0ab" stroke="#f5c0ab" fill-opacity=".3"/><path d="M314.7 218.7l1.7-7.3 1.8 10-1.7 7.1z" fill="#a1c1ff" stroke="#a1c1ff" fill-opacity=".3"/><path d="M330 110.4l.8-4.4 1-6.1-.8 3.3z" fill="#e5705c" stroke="#e5705c"/><path d="M324.9 266.3l1.3-5.8 4.2 6.8-1.3 4.6z" fill="#5d6de4" stroke="#5d6de4"/><path d="M227.9 250.9l2 .1 4 .4-2-.6z" fill="#6981f3" stroke="#6981f3" fill-opacity=".5"/><path d="M175.3 260.2l1.8-2 6.6 6.3-1.7 2.3z" fill="#5967df" stroke="#5967df"/><path d="M332.3 266.8l1.6-3.4 5.2 7.3-1.6 2.8z" fill="#5c6ce3" stroke="#5c6ce3"/><path d="M324.6 160.4l3-1 .9 9.9-3 1.3z" fill="#f1cdbd" stroke="#f1cdbd" fill-opacity=".3"/><path d="M332.6 136.4l1.6-6.1 .6 10.8-1.6 4.8z" fill="#f7a88e" stroke="#f7a88e" fill-opacity=".3"/><path d="M203.1 258.6l2.1-.7 5.4 4-2.1 .3z" fill="#5d6fe5" stroke="#5d6fe5"/><path d="M272.1 201.9l1.8 3.3 2.4-7.1-1.7-3z" fill="#c3d7fd" stroke="#c3d7fd" fill-opacity=".8"/><path d="M318.9 183.8l1.7 7.9 1.3 9.9-1.7-6.6z" fill="#d2dced" stroke="#d2dced" fill-opacity=".3"/><path d="M285.4 181.1l2.1 5.1 1.7-7.6-2.1-5z" fill="#e0dbd8" stroke="#e0dbd8" fill-opacity=".7"/><path d="M279.3 195.4l1.5-2 2-7.2-1.5 1.2z" fill="#d1dcef" stroke="#d1dcef" fill-opacity=".8"/><path d="M357.3 266.9l-.1-3.3 18.1 18.6 .1 3.5z" fill="#5764dc" stroke="#5764dc"/><path d="M302.9 153.5l1.8 6.9 1.4-8.4-1.8-9z" fill="#f5c1ad" stroke="#f5c1ad"/><path d="M238.1 241.7l2.8 .8 3.6-2.1-2.8-1.1z" fill="#7997ff" stroke="#7997ff" fill-opacity=".8"/><path d="M215.5 254.7l2.1 .1 5.3 2.2-2.2-.5z" fill="#647aed" stroke="#647aed"/><path d="M294.3 172.5l1.6-6.6 1.5-7.4-1.6 7.4z" fill="#efcfc1" stroke="#efcfc1" fill-opacity=".6"/><path d="M341 270.2l2.2-.9 5.3 5.8-2.2 1.1z" fill="#5865dd" stroke="#5865dd"/><path d="M268.1 210.5l1.6-.3 2.4-6.6-1.6-.5z" fill="#b6d0ff" stroke="#b6d0ff" fill-opacity=".8"/><path d="M340.5 99.9l3.2 1.5 .4 8.6-3.2 .4z" fill="#e46e5b" stroke="#e46e5b" fill-opacity=".3"/><path d="M336.4 115.8l.7-2.9 .6 8-.8 4.6z" fill="#ef886f" stroke="#ef886f" fill-opacity=".3"/><path d="M311.5 230.2l1.5-14.5 1.8 9.9-1.5 12.8z" fill="#93b4ff" stroke="#93b4ff" fill-opacity=".3"/><path d="M324 121.4l1.6-5.9 1.1-5.1-1.6 4.5z" fill="#ed836b" stroke="#ed836b"/><path d="M331 137.5l1.7-1.1 .6 9.5-1.7 1.6z" fill="#f7ac93" stroke="#f7ac93" fill-opacity=".3"/><path d="M168.2 264.3l1.9-1.7 2.2 1.9-1.9 1z" fill="#5764dc" stroke="#5764dc"/><path d="M247.4 237.9l1.7-3.4 2.7-3.3-1.8 3.7z" fill="#84a4ff" stroke="#84a4ff" fill-opacity=".8"/><path d="M190 261l1.8-2 6.7 5.7-1.8 2.3z" fill="#5b6ae1" stroke="#5b6ae1"/><path d="M269.6 210.1l2.4-8.3 2.5-6.8-2.5 8.6z" fill="#bfd5ff" stroke="#bfd5ff" fill-opacity=".8"/><path d="M255.3 229.5l1.7 .7 2.6-4.3-1.7-.8z" fill="#92b3ff" stroke="#92b3ff" fill-opacity=".8"/><path d="M323.1 265.8l1.9 .5 4.2 5.5-1.9 .3z" fill="#5c6ce2" stroke="#5c6ce2"/><path d="M313 215.7l1.8 3 1.8 9.8-1.8-2.9z" fill="#9fbfff" stroke="#9fbfff" fill-opacity=".3"/><path d="M309.7 224.1l1.8 6.1 1.9 8.2-1.9-4.6z" fill="#8cadff" stroke="#8cadff" fill-opacity=".3"/><path d="M277.5 200.8l1.8-5.4 2-8-1.8 5.8z" fill="#cddbf4" stroke="#cddbf4" fill-opacity=".8"/><path d="M335.5 97.5l3.3-3.4 .9-5.5-3.2 2z" fill="#d85649" stroke="#d85649"/><path d="M333.4 99.5l2.1-2.1 1-6.8-2.1 .5z" fill="#d9584b" stroke="#d9584b"/><path d="M314 248.4l2.1 2.3 2.9 7.4-2-1.7z" fill="#6e87f7" stroke="#6e87f7" fill-opacity=".4"/><path d="M323.4 170.5l2.1 2.7 1.1 9.7-2.1-2.6z" fill="#e8d6cd" stroke="#e8d6cd" fill-opacity=".3"/><path d="M338.3 103.7l2.2-3.8 .4 10.5-2.1 1.6z" fill="#e46e5b" stroke="#e46e5b" fill-opacity=".3"/><path d="M172.7 260.6l2.6-.4 6.7 6.6-2.6 0z" fill="#5967de" stroke="#5967de"/><path d="M322.3 123.7l1.7-2.3 1.1-6.6-1.7 1.4z" fill="#ef886f" stroke="#ef886f"/><path d="M330.5 267.3l1.8-.4 5.2 6.6-1.8 1z" fill="#5b6ae1" stroke="#5b6ae1"/><path d="M333.7 122.7l1.1 2.6 .5 11.3-1-6.3z" fill="#f3977d" stroke="#f3977d" fill-opacity=".3"/><path d="M186.8 261.7l3.3-.6 6.7 6-3.3 1z" fill="#5a69e0" stroke="#5a69e0"/><path d="M327.8 109.4l2.2 1 1-7.2-2.2 .4z" fill="#e5705c" stroke="#e5705c"/><path d="M343.7 101.5l5.2-1.3 .3 10.5-5.1-.6z" fill="#e46e5b" stroke="#e46e5b" fill-opacity=".3"/><path d="M314.7 199.5l1.9 5.1 1.6 10.9-1.8-4.1z" fill="#bcd4ff" stroke="#bcd4ff" fill-opacity=".3"/><path d="M266.7 217.1l1.4-6.6 2.4-7.4-1.4 7.9z" fill="#b3ceff" stroke="#b3ceff" fill-opacity=".8"/><path d="M352.2 103.7l4.5 .2 .4 9.1-4.5-.5z" fill="#e7745f" stroke="#e7745f" fill-opacity=".3"/><path d="M201.3 261.4l1.8-2.8 5.4 3.6-1.8 3.4z" fill="#5e6fe5" stroke="#5e6fe5"/><path d="M317 256.4l2.1 1.7 3.9 7.7-2-.9z" fill="#6479ed" stroke="#6479ed"/><path d="M236.7 245.1l1.5-3.4 3.6-2.4-1.5 4z" fill="#7895ff" stroke="#7895ff" fill-opacity=".8"/><path d="M265.1 219.5l1.6-2.4 2.4-6.2-1.6 2.5z" fill="#a9c7ff" stroke="#a9c7ff" fill-opacity=".8"/><path d="M311.4 239.2l2.1 2.8 2.6 8.7-2-2.3z" fill="#7895ff" stroke="#7895ff" fill-opacity=".3"/><path d="M315.3 194.2l2.2 .8 1.4 10.6-2.3-.9z" fill="#cbdaf6" stroke="#cbdaf6" fill-opacity=".3"/><path d="M324.7 162l-0-1.6 .9 10.2-0 2.6z" fill="#f1cdbd" stroke="#f1cdbd" fill-opacity=".3"/><path d="M348.9 100.2l3.3 3.5 .4 8.8-3.3-1.8z" fill="#e5705c" stroke="#e5705c" fill-opacity=".3"/><path d="M319.5 180.9l2.3-6.1 1 10.6-2.2 6.3z" fill="#e1dad7" stroke="#e1dad7" fill-opacity=".3"/><path d="M291.1 183.6l1.4-13.9 1.5-8.3-1.4 14.5z" fill="#ead5cb" stroke="#ead5cb" fill-opacity=".6"/><path d="M329 140.6l1.9-3.1 .7 10-1.9 2.6z" fill="#f7ad94" stroke="#f7ad94" fill-opacity=".3"/><path d="M234.6 248.9l2.1-3.8 3.6-1.8-2.1 4.4z" fill="#738efb" stroke="#738efb" fill-opacity=".7"/><path d="M289.2 178.6l1.9 5 1.5-7.7-1.9-5.4z" fill="#e5d8d2" stroke="#e5d8d2" fill-opacity=".7"/><path d="M317.5 195l1.3-11.2 1.3 11.3-1.3 10.6z" fill="#d2dced" stroke="#d2dced" fill-opacity=".3"/><path d="M339 270.7l1.9-.5 5.3 6-1.9 .9z" fill="#5967de" stroke="#5967de"/><path d="M292.5 169.7l1.8 2.8 1.5-6.6-1.8-4.5z" fill="#eed0c2" stroke="#eed0c2" fill-opacity=".6"/><path d="M299.4 161.7l2.3 .8 1.3-7.8-2.3 0z" fill="#f4c6b2" stroke="#f4c6b2"/><path d="M334.2 117.1l2.2-1.3 .5 9.7-2.2-.2z" fill="#ef886f" stroke="#ef886f" fill-opacity=".3"/><path d="M316.4 133.1l1-2 1.2-8-1 2.3z" fill="#f59c82" stroke="#f59c82"/><path d="M214.8 259.2l.7-4.5 5.3 1.8-.7 5z" fill="#6378ec" stroke="#6378ec"/><path d="M301.6 162.5l1.3-9 1.4-10.5-1.3 11.7z" fill="#f5c0ab" stroke="#f5c0ab"/><path d="M166.8 266.5l1.4-2.2 2.2 1.2-1.4 2.8z" fill="#5764dc" stroke="#5764dc"/><path d="M338.8 94.1l5.1 .5 1-5.8-5.2-.2z" fill="#d65247" stroke="#d65247"/><path d="M355.2 267.8l2.1-.9 18.1 18.8-2.1 1.3z" fill="#5764dc" stroke="#5764dc"/><path d="M284.4 187.9l.9-6.8 1.8-7.5-1 7.2z" fill="#e0dbd8" stroke="#e0dbd8" fill-opacity=".7"/><path d="M321.7 174.8l1.7-4.4 1.1 9.8-1.7 5.2z" fill="#e9d5cc" stroke="#e9d5cc" fill-opacity=".3"/><path d="M331.7 99.9l1.6-.4 1-8.3-1.6 .8z" fill="#d9584b" stroke="#d9584b"/><path d="M226.6 251l1.3-.1 4-.1-1.3-.1z" fill="#6f88f8" stroke="#6f88f8" fill-opacity=".6"/><path d="M320.4 125.6l1.9-1.9 1.1-7.5-1.9 1z" fill="#f08a71" stroke="#f08a71"/><path d="M326.9 148.6l1 0 .8 9.1-1.1 1.7z" fill="#f6bda7" stroke="#f6bda7" fill-opacity=".3"/><path d="M246 237.6l1.4 .2 2.7-3-1.5-1z" fill="#85a5ff" stroke="#85a5ff" fill-opacity=".8"/><path d="M329.1 271.9l1.3-4.6 5.2 7.2-1.3 3.5z" fill="#5a69e0" stroke="#5a69e0"/><path d="M199.3 262.9l1.9-1.5 5.5 4.2-2 1.4z" fill="#5c6ce2" stroke="#5c6ce2"/><path d="M336.8 101.1l1.6 2.7 .4 8.3-1.6 .9z" fill="#e46e5a" stroke="#e46e5a" fill-opacity=".3"/><path d="M310 142.2l2.1 1.6 1.3-7.5-2.2-1.8z" fill="#f7ac93" stroke="#f7ac93"/><path d="M276.3 198l1.2 2.8 2-7.6-1.2-1.2z" fill="#cedbf3" stroke="#cedbf3" fill-opacity=".8"/><path d="M343.9 94.6l3.3 2.4 1-6.4-3.3-1.8z" fill="#d75448" stroke="#d75448"/><path d="M347.2 97l4.5 0 1-7.2-4.5 .8z" fill="#d85649" stroke="#d85649"/><path d="M186.1 263.9l.7-2.2 6.7 6.4-.7 1.7z" fill="#5a69e0" stroke="#5a69e0"/><path d="M313.1 254l.9-5.5 3 8-.9 5.1z" fill="#6e87f7" stroke="#6e87f7" fill-opacity=".4"/><path d="M313.1 207.7l1.7-8.1 1.6 11.8-1.6 7.3z" fill="#bcd4ff" stroke="#bcd4ff" fill-opacity=".3"/><path d="M172.3 264.5l.4-3.9 6.7 6.2-.4 4.4z" fill="#5967df" stroke="#5967df"/><path d="M233.9 251.4l.7-2.5 3.6-1.2-.7 2.4z" fill="#718bfa" stroke="#718bfa" fill-opacity=".7"/><path d="M309.5 230.7l2.1 3.1 1.9 8.2-2.1-2.8z" fill="#89a9ff" stroke="#89a9ff" fill-opacity=".3"/><path d="M321 265l2.1 .9 4.2 6.2-2.1 0z" fill="#5e70e6" stroke="#5e70e6"/><path d="M254 232.2l1.3-2.6 2.6-4.5-1.3 2.5z" fill="#96b6ff" stroke="#96b6ff" fill-opacity=".8"/><path d="M313.4 134.9l3-1.8 1.1-7.7-2.9 1.2z" fill="#f59d83" stroke="#f59d83"/><path d="M212.6 261.2l2.3-2 5.2 2.3-2.2 2.5z" fill="#6073e9" stroke="#6073e9"/><path d="M316.1 261.5l.9-5.1 4 8.5-.9 4.4z" fill="#6479ed" stroke="#6479ed"/><path d="M337.5 273.5l1.6-2.8 5.2 6.4-1.5 2.4z" fill="#5967de" stroke="#5967de"/><path d="M310.4 245.2l.9-6 2.7 9.2-.9 5.5z" fill="#7997ff" stroke="#7997ff" fill-opacity=".3"/><path d="M164 267.1l2.8-.7 2.2 1.9-2.8 .8z" fill="#5764dc" stroke="#5764dc"/><path d="M309.8 218.8l1.5-14.4 1.6 11.3-1.4 14.5z" fill="#adcaff" stroke="#adcaff" fill-opacity=".3"/><path d="M327.2 137.9l1.8 2.7 .7 9.6-1.9-1.5z" fill="#f7ad94" stroke="#f7ad94" fill-opacity=".3"/><path d="M332 128.1l1.6-5.5 .6 7.6-1.6 6.2z" fill="#f3947a" stroke="#f3947a" fill-opacity=".3"/><path d="M306.1 151.9l2.2-6.1 1.3-7.1-2.3 5.1z" fill="#f7b39a" stroke="#f7b39a"/><path d="M353.6 269.9l1.6-2.1 18.1 19.2-1.6 1.8z" fill="#5764dc" stroke="#5764dc"/><path d="M308 213.4l1.8 5.4 1.7 11.4-1.8-6.1z" fill="#a6c5ff" stroke="#a6c5ff" fill-opacity=".3"/><path d="M323.9 150.9l3-2.3 .7 10.8-2.9 1z" fill="#f6bda7" stroke="#f6bda7" fill-opacity=".3"/><path d="M326.7 110.4l1.2-1 .9-5.9-1.1-2.4z" fill="#e36c59" stroke="#e36c59"/><path d="M264.5 220.4l.6-.9 2.4-6.1-.6 1.4z" fill="#acc9ff" stroke="#acc9ff" fill-opacity=".8"/><path d="M327.3 272.1l1.9-.2 5.2 6-1.9 .9z" fill="#5967de" stroke="#5967de"/><path d="M311.3 204.4l1.8 3.3 1.7 11-1.8-3z" fill="#b9d2ff" stroke="#b9d2ff" fill-opacity=".3"/><path d="M282.8 186.3l1.6 1.6 1.7-7.1-1.6-2.5z" fill="#dedcdb" stroke="#dedcdb" fill-opacity=".7"/><path d="M308.3 145.8l1.7-3.6 1.2-7.7-1.7 4.2z" fill="#f7ac93" stroke="#f7ac93"/><path d="M317.8 172.8l1.7 8.1 1.1 10.8-1.7-8z" fill="#e5d8d2" stroke="#e5d8d2" fill-opacity=".3"/><path d="M210.6 261.9l2-.7 5.2 2.8-1.9 .4z" fill="#6073e9" stroke="#6073e9"/><path d="M224.3 253l2.3-2 4-.4-2.3 2.2z" fill="#708af9" stroke="#708af9" fill-opacity=".6"/><path d="M311.5 253.7l1.6 .3 3 7.6-1.6 .2z" fill="#6d86f6" stroke="#6d86f6" fill-opacity=".4"/><path d="M340.1 91.9l3.2 .5 .4 9.1-3.2-1.5z" fill="#d85649" stroke="#d85649" fill-opacity=".3"/><path d="M331 103.2l.7-3.3 1-7.9-.7 2.9z" fill="#d9584b" stroke="#d9584b"/><path d="M330.4 127.5l1.6 .6 .6 8.3-1.6 1.1z" fill="#f3977d" stroke="#f3977d" fill-opacity=".3"/><path d="M318.6 123.2l1.8 2.4 1.1-8.3-1.8-.6z" fill="#ef886f" stroke="#ef886f"/><path d="M162.3 269l1.7-1.9 2.2 2-1.7 1.6z" fill="#5764dc" stroke="#5764dc"/><path d="M320.1 269.4l.9-4.4 4.2 7.1-.9 3.8z" fill="#5e70e6" stroke="#5e70e6"/><path d="M308.5 237.3l.9-6.7 2 8.6-1 6z" fill="#89a9ff" stroke="#89a9ff" fill-opacity=".3"/><path d="M335.7 274.5l1.8-.9 5.3 5.9-1.8 1.3z" fill="#5967df" stroke="#5967df"/><path d="M313.4 136.3l-0-1.4 1.1-8.3 0 2.5z" fill="#f59c82" stroke="#f59c82"/><path d="M336 106.1l.8-5 .4 11.9-.8 2.9z" fill="#e46e5a" stroke="#e46e5a" fill-opacity=".3"/><path d="M333.1 115.3l1.1 1.8 .5 8.2-1.1-2.6z" fill="#ed836b" stroke="#ed836b" fill-opacity=".3"/><path d="M244.5 240.4l1.4-2.7 2.7-3.8-1.5 3.6z" fill="#88a8ff" stroke="#88a8ff" fill-opacity=".8"/><path d="M198.5 264.7l.8-1.9 5.5 4.2-.9 1.4z" fill="#5e6fe5" stroke="#5e6fe5"/><path d="M337.9 95l2.2-3.1 .4 8.1-2.2 3.8z" fill="#d85649" stroke="#d85649" fill-opacity=".3"/><path d="M322.6 159.9l2.1 2.1 .9 11.2-2.1-2.7z" fill="#f2c9b7" stroke="#f2c9b7" fill-opacity=".3"/><path d="M314.5 261.7l1.6-.2 4 7.8-1.6 .6z" fill="#647aee" stroke="#647aee"/><path d="M297.4 158.5l1.9 3.2 1.4-7-1.9-4.8z" fill="#f5c0ab" stroke="#f5c0ab"/><path d="M222.9 257l1.4-4 3.9-.2-1.3 4.4z" fill="#6d86f6" stroke="#6d86f6" fill-opacity=".6"/><path d="M183.7 264.6l2.4-.7 6.7 5.9-2.4 .4z" fill="#5b6ae1" stroke="#5b6ae1"/><path d="M308.9 244.5l1.6 .7 2.7 8.7-1.6-.3z" fill="#7794ff" stroke="#7794ff" fill-opacity=".3"/><path d="M170.4 265.5l1.9-1 6.7 6.7-1.9 .6z" fill="#5967df" stroke="#5967df"/><path d="M313.4 189l1.9 5.2 1.3 10.5-1.9-5.1z" fill="#d4dceb" stroke="#d4dceb" fill-opacity=".3"/><path d="M351.5 271.4l2.1-1.5 18.1 18.9-2.1 1.2z" fill="#5764dc" stroke="#5764dc"/><path d="M259.6 225.9l2.4-1 2.4-6.2-2.4 1.8z" fill="#a6c5ff" stroke="#a6c5ff" fill-opacity=".8"/><path d="M251.8 231.2l2.2 1 2.6-4.6-2.2-.7z" fill="#98b8ff" stroke="#98b8ff" fill-opacity=".8"/><path d="M343.3 92.3l5.1 .8 .4 7-5.1 1.3z" fill="#d85649" stroke="#d85649" fill-opacity=".3"/><path d="M261.9 224.9l2.6-4.6 2.4-5.6-2.6 4z" fill="#a9c7ff" stroke="#a9c7ff" fill-opacity=".8"/><path d="M307.6 220.8l2.1 3.3 1.8 9.7-2.1-3.1z" fill="#9ebeff" stroke="#9ebeff" fill-opacity=".3"/><path d="M336.5 90.6l3.3-2.1 .9-6.6-3.3 1.7z" fill="#cc403c" stroke="#cc403c"/><path d="M351.8 95.1l4.5-1.4 .3 10.1-4.4-.1z" fill="#dc5d4d" stroke="#dc5d4d" fill-opacity=".3"/><path d="M348.4 93.1l3.3 2 .4 8.6-3.3-3.6z" fill="#d9584b" stroke="#d9584b" fill-opacity=".3"/><path d="M314.2 182.9l2.2 2 1.1 10-2.2-.8z" fill="#dedcdb" stroke="#dedcdb" fill-opacity=".3"/><path d="M334.4 91.1l2.1-.5 .9-7-2.1 1.6z" fill="#cc403c" stroke="#cc403c"/><path d="M231.9 250.8l2 .6 3.6-1.3-2-.8z" fill="#7490fc" stroke="#7490fc" fill-opacity=".7"/><path d="M325.1 114.9l1.6-4.5 1-9.3-1.6 4.9z" fill="#e36b58" stroke="#e36b58"/><path d="M323.9 152.1l-0-1.2 .7 9.5 .1 1.6z" fill="#f7bca5" stroke="#f7bca5" fill-opacity=".3"/><path d="M325.2 272.1l2.1 0 5.2 6.7-2.1 .5z" fill="#5b6ae1" stroke="#5b6ae1"/><path d="M316.4 184.9l1.4-12.1 1 11-1.3 11.1z" fill="#e4d9d3" stroke="#e4d9d3" fill-opacity=".3"/><path d="M318.6 169.4l2.2-5 .9 10.5-2.2 6.1z" fill="#efcec0" stroke="#efcec0" fill-opacity=".3"/><path d="M304.3 143l1.8 8.9 1.2-8.1-1.8-4.6z" fill="#f7b097" stroke="#f7b097"/><path d="M333.8 107.8l2.2-1.8 .5 9.8-2.3 1.3z" fill="#e5705c" stroke="#e5705c" fill-opacity=".3"/><path d="M328.5 129.7l1.9-2.2 .6 10-1.9 3.1z" fill="#f4987f" stroke="#f4987f" fill-opacity=".3"/><path d="M328.8 103.5l2.2-.3 1-8.3-2.2 .6z" fill="#d9584b" stroke="#d9584b"/><path d="M241.8 239.3l2.8 1.1 2.6-3-2.8-1.2z" fill="#89a9ff" stroke="#89a9ff" fill-opacity=".8"/><path d="M160.3 270.5l2.1-1.5 2.2 1.7-2.1 1.6z" fill="#5764dc" stroke="#5764dc"/><path d="M295.8 165.9l1.6-7.4 1.4-8.6-1.7 7.9z" fill="#f5c0ab" stroke="#f5c0ab"/><path d="M334.4 278l1.3-3.5 5.3 6.3-1.3 2.9z" fill="#5865dd" stroke="#5865dd"/><path d="M181.9 266.8l1.8-2.3 6.6 5.6-1.7 2.6z" fill="#5b6ae1" stroke="#5b6ae1"/><path d="M339.7 88.5l5.1 .3 .9-5.1-5.1-1.9z" fill="#cb3e3a" stroke="#cb3e3a"/><path d="M208.5 262.3l2.1-.4 5.3 2.5-2.2-.1z" fill="#6378ec" stroke="#6378ec"/><path d="M349.6 272.3l1.8-.9 18.1 18.6-1.8 1.6z" fill="#5764dc" stroke="#5764dc"/><path d="M250 234.9l1.7-3.7 2.6-4.3-1.7 3.8z" fill="#99baff" stroke="#99baff" fill-opacity=".8"/><path d="M306.9 235.7l1.6 1.6 1.9 7.9-1.6-.7z" fill="#87a7ff" stroke="#87a7ff" fill-opacity=".3"/><path d="M323.4 116.2l1.7-1.3 1-9-1.7 1.7z" fill="#e46e5b" stroke="#e46e5b"/><path d="M320.9 164.4l1.7-4.6 .9 10.7-1.7 4.3z" fill="#f2c9b7" stroke="#f2c9b7" fill-opacity=".3"/><path d="M287.1 173.6l2.1 5 1.5-8.1-2.1-5z" fill="#eed0c2" stroke="#eed0c2" fill-opacity=".6"/><path d="M336.3 94.1l1.6 .8 .4 8.8-1.6-2.6z" fill="#d85649" stroke="#d85649" fill-opacity=".3"/><path d="M318.5 270l1.6-.6 4.2 6.5-1.6 1.1z" fill="#5f70e6" stroke="#5f70e6"/><path d="M220.8 256.5l2.1 .5 4 .2-2.1-1z" fill="#6d86f6" stroke="#6d86f6" fill-opacity=".6"/><path d="M311.7 197l1.7-8 1.3 10.6-1.7 8.1z" fill="#d4dcea" stroke="#d4dcea" fill-opacity=".3"/><path d="M310 254.9l1.5-1.2 3 8-1.5 1.4z" fill="#6f88f8" stroke="#6f88f8" fill-opacity=".4"/><path d="M169 268.3l1.4-2.8 6.7 6.3-1.4 3.2z" fill="#5967de" stroke="#5967de"/><path d="M281.3 187.4l1.5-1.1 1.7-8-1.5 2.1z" fill="#e2dad6" stroke="#e2dad6" fill-opacity=".7"/><path d="M326.2 138.3l1-.4 .6 10.8-.9-0z" fill="#f7a990" stroke="#f7a990" fill-opacity=".3"/><path d="M344.9 88.8l3.3 1.8 1-7.4-3.4 .5z" fill="#cb3e3a" stroke="#cb3e3a"/><path d="M274.5 195l1.8 3 2-6-1.8-4z" fill="#d7dde5" stroke="#d7dde5" fill-opacity=".8"/><path d="M196.7 267.1l1.8-2.3 5.4 3.7-1.8 2.5z" fill="#5d6fe5" stroke="#5d6fe5"/><path d="M257.9 225.1l1.7 .8 2.4-5.4-1.7-1.8z" fill="#acc9ff" stroke="#acc9ff" fill-opacity=".8"/><path d="M306.7 227.1l.9-6.3 1.9 9.9-1 6.6z" fill="#9ebeff" stroke="#9ebeff" fill-opacity=".3"/><path d="M313 263.1l1.5-1.3 4 8.2-1.5 1.7z" fill="#657bef" stroke="#657bef"/><path d="M332.7 92l1.6-.9 .9-5.8-1.6-.1z" fill="#cc403c" stroke="#cc403c"/><path d="M331.6 116.9l1.5-1.6 .6 7.4-1.6 5.4z" fill="#eb7d66" stroke="#eb7d66" fill-opacity=".3"/><path d="M270.5 203.1l1.6 .5 2-7.5-1.6 .5z" fill="#cfdbf2" stroke="#cfdbf2" fill-opacity=".8"/><path d="M279.5 193.2l1.8-5.8 1.7-7-1.8 6.2z" fill="#dfdbd9" stroke="#dfdbd9" fill-opacity=".7"/><path d="M308.5 208.2l1.5-15 1.3 11.2-1.5 14.4z" fill="#c9daf8" stroke="#c9daf8" fill-opacity=".3"/><path d="M317.5 125.4l1-2.2 1.1-6.5-1 .4z" fill="#ee866e" stroke="#ee866e"/><path d="M348.2 90.6l4.5-.9 .9-6.9-4.4 .4z" fill="#cb3e3a" stroke="#cb3e3a"/><path d="M193.5 268.1l3.3-1 5.4 3.9-3.3 1.6z" fill="#5c6ce2" stroke="#5c6ce2"/><path d="M240.3 243.3l1.5-4.1 2.6-3.1-1.5 4.1z" fill="#88a8ff" stroke="#88a8ff" fill-opacity=".8"/><path d="M238.2 247.7l2.1-4.4 2.6-3-2.1 4.8z" fill="#81a0ff" stroke="#81a0ff" fill-opacity=".8"/><path d="M272.1 203.6l2.5-8.5 2-7-2.5 8.1z" fill="#d5dde9" stroke="#d5dde9" fill-opacity=".8"/><path d="M324.3 275.9l.9-3.8 5.2 7.2-.9 3.3z" fill="#5b6ae1" stroke="#5b6ae1"/><path d="M307.4 245.4l1.5-.8 2.7 9.1-1.5 1.3z" fill="#7a98ff" stroke="#7a98ff" fill-opacity=".3"/><path d="M306.7 201.8l1.8 6.5 1.4 10.5-1.9-5.4z" fill="#c3d7fd" stroke="#c3d7fd" fill-opacity=".3"/><path d="M206.7 265.6l1.8-3.3 5.2 2-1.7 4.1z" fill="#6276eb" stroke="#6276eb"/><path d="M300.7 154.7l2.3-0 1.2-7.4-2.3-.8z" fill="#f7b59d" stroke="#f7b59d"/><path d="M292.6 175.8l1.4-14.5 1.3-7.5-1.4 14.2z" fill="#f3c8b5" stroke="#f3c8b5"/><path d="M179.3 266.8l2.6-0 6.7 5.9-2.6-.5z" fill="#5c6ce2" stroke="#5c6ce2"/><path d="M310 193.2l1.8 3.7 1.3 10.7-1.8-3.2z" fill="#d2dced" stroke="#d2dced" fill-opacity=".3"/><path d="M294 161.4l1.8 4.5 1.4-8-1.9-4z" fill="#f5c2ae" stroke="#f5c2ae"/><path d="M303 154.7l1.3-11.7 1.2-3.8-1.3 8.1z" fill="#f7b097" stroke="#f7b097"/><path d="M166.2 269.2l2.8-.9 6.6 6.7-2.7 1z" fill="#5865dd" stroke="#5865dd"/><path d="M332.5 278.8l1.9-.8 5.3 5.6-1.9 1.2z" fill="#5865dd" stroke="#5865dd"/><path d="M308.3 259.5l1.8-4.6 3 8.2-1.8 3.9z" fill="#6c85f6" stroke="#6c85f6" fill-opacity=".4"/><path d="M158.6 272.4l1.7-1.9 2.2 1.8-1.7 1.7z" fill="#5764dc" stroke="#5764dc"/><path d="M290.7 170.5l1.9 5.4 1.3-7.8-1.9-5.5z" fill="#f1ccbb" stroke="#f1ccbb" fill-opacity=".5"/><path d="M326.6 129.1l1.9 .6 .5 10.9-1.8-2.7z" fill="#f3977d" stroke="#f3977d" fill-opacity=".3"/><path d="M311.2 134.5l2.1 1.8 1.2-7.2-2.2-1.7z" fill="#f4987f" stroke="#f4987f"/><path d="M321.5 117.2l1.9-1 1-8.6-1.9 1.5z" fill="#e5705c" stroke="#e5705c"/><path d="M269.1 210.9l1.4-7.8 2-6.5-1.4 7.4z" fill="#ccdbf5" stroke="#ccdbf5" fill-opacity=".8"/><path d="M348.5 275.2l1.2-2.9 18 19.3-1.1 2.3z" fill="#5764dc" stroke="#5764dc"/><path d="M339.7 83l3.2 2.3 .4 7-3.2-.4z" fill="#ca3b39" stroke="#ca3b39" fill-opacity=".3"/><path d="M323.2 141.1l3-2.8 .7 10.4-3 2.2z" fill="#f7a990" stroke="#f7a990" fill-opacity=".3"/><path d="M267.5 213.3l1.6-2.4 1.9-6.9-1.5 2.1z" fill="#c4d7fc" stroke="#c4d7fc" fill-opacity=".8"/><path d="M311.3 267.1l1.8-4 4 8.6-1.8 3.2z" fill="#6479ed" stroke="#6479ed"/><path d="M220.1 261.5l.7-5 3.9-.2-.6 5.7z" fill="#6b84f5" stroke="#6b84f5" fill-opacity=".6"/><path d="M316.9 163.2l1.8 6.1 .8 11.6-1.7-8.1z" fill="#f1ccbb" stroke="#f1ccbb" fill-opacity=".3"/><path d="M305.9 209.1l2.1 4.3 1.7 10.7-2.1-3.3z" fill="#b9d2ff" stroke="#b9d2ff" fill-opacity=".3"/><path d="M342.9 85.3l5.1 .5 .4 7.3-5.1-.8z" fill="#cc403c" stroke="#cc403c" fill-opacity=".3"/><path d="M248.6 233.9l1.4 1 2.6-4.3-1.4-1z" fill="#9abbff" stroke="#9abbff" fill-opacity=".8"/><path d="M305.6 250.6l1.8-5.2 2.7 9.5-1.8 4.6z" fill="#7895ff" stroke="#7895ff" fill-opacity=".3"/><path d="M332.7 105.6l1.1 2.2 .4 9.4-1.1-1.9z" fill="#e36c59" stroke="#e36c59" fill-opacity=".3"/><path d="M327.7 101.1l1.1 2.4 1-7.9-1.2 1.3z" fill="#d75448" stroke="#d75448"/><path d="M237.5 250.1l.7-2.4 2.6-2.6-.7 2.3z" fill="#7e9cff" stroke="#7e9cff" fill-opacity=".8"/><path d="M204.8 267l1.9-1.5 5.3 2.8-2 1.5z" fill="#6073e9" stroke="#6073e9"/><path d="M317 271.7l1.5-1.7 4.2 7-1.5 1.6z" fill="#5f72e8" stroke="#5f72e8"/><path d="M314.5 126.6l3-1.2 1.1-8.3-3 1.8z" fill="#ee866e" stroke="#ee866e"/><path d="M286.2 180.8l.9-7.2 1.5-8.1-.9 7.1z" fill="#efcfc1" stroke="#efcfc1" fill-opacity=".6"/><path d="M230.6 250.7l1.3 .1 3.6-1.4-1.3-1.5z" fill="#7a98ff" stroke="#7a98ff" fill-opacity=".8"/><path d="M329.9 118.7l1.7-1.8 .5 11.3-1.7-.6z" fill="#ec7f68" stroke="#ec7f68" fill-opacity=".3"/><path d="M335.6 98.6l.8-4.5 .4 7-.8 5z" fill="#d75448" stroke="#d75448" fill-opacity=".3"/><path d="M305.1 225.6l1.6 1.5 1.8 10.2-1.6-1.6z" fill="#9bbcff" stroke="#9bbcff" fill-opacity=".3"/><path d="M337.4 83.6l3.3-1.7 .7-3.3-3.3 1z" fill="#c02830" stroke="#c02830"/><path d="M337.6 84.6l2.1-1.6 .4 8.9-2.2 3.1z" fill="#c83838" stroke="#c83838" fill-opacity=".3"/><path d="M312.3 179l1.9 4 1.1 11.2-1.9-5.2z" fill="#e6d7d0" stroke="#e6d7d0" fill-opacity=".3"/><path d="M192.8 269.8l.7-1.7 5.5 4.5-.8 1z" fill="#5d6de4" stroke="#5d6de4"/><path d="M278.3 192l1.2 1.2 1.7-6.6-1.2-2.3z" fill="#dfdbd9" stroke="#dfdbd9" fill-opacity=".7"/><path d="M321.8 151l2.1 1.1 .8 9.9-2.1-2.2z" fill="#f7b8a0" stroke="#f7b8a0" fill-opacity=".3"/><path d="M217.8 264l2.3-2.5 3.9 .4-2.2 2.8z" fill="#677ef1" stroke="#677ef1"/><path d="M164.5 270.7l1.7-1.5 6.7 6.8-1.7 1.3z" fill="#5865dd" stroke="#5865dd"/><path d="M332 94.9l.7-2.9 .9-6.8-.7 4.5z" fill="#cc403c" stroke="#cc403c"/><path d="M305.4 236.9l1.5-1.1 1.9 8.8-1.5 .8z" fill="#8cadff" stroke="#8cadff" fill-opacity=".3"/><path d="M348.1 85.8l3.5-2.3 .2 11.6-3.3-2z" fill="#cb3e3a" stroke="#cb3e3a" fill-opacity=".3"/><path d="M335.2 85.3l2.1-1.7 .7-4-2.1 .2z" fill="#c02830" stroke="#c02830"/><path d="M322.7 277l1.6-1.1 5.2 6.8-1.6 1.3z" fill="#5b6ae1" stroke="#5b6ae1"/><path d="M330.4 279.3l2.1-.5 5.3 6-2.1 .8z" fill="#5967df" stroke="#5967df"/><path d="M156.5 273.8l2.1-1.4 2.2 1.6-2.1 1.1z" fill="#5764dc" stroke="#5764dc"/><path d="M179 271.2l.4-4.4 6.7 5.4-.4 5.1z" fill="#5b6ae1" stroke="#5b6ae1"/><path d="M346.2 276.2l2.3-1 18 18.6-2.2 1.2z" fill="#5764dc" stroke="#5764dc"/><path d="M313.3 173.2l2.3 1 .9 10.7-2.3-1.9z" fill="#edd1c4" stroke="#edd1c4" fill-opacity=".3"/><path d="M307.1 259l1.2 .6 3 7.5-1.2-0z" fill="#6c85f6" stroke="#6c85f6" fill-opacity=".4"/><path d="M256.6 227.6l1.3-2.5 2.4-6.3-1.3 2.5z" fill="#b0ccff" stroke="#b0ccff" fill-opacity=".8"/><path d="M307.3 143.8l2.2-5.1 1.2-8.5-2.2 4.1z" fill="#f59d83" stroke="#f59d83"/><path d="M309.5 138.8l1.7-4.3 1.1-7.1-1.7 2.8z" fill="#f4987f" stroke="#f4987f"/><path d="M340.6 81.9l5.1 1.8 .7-3.7-5.1-1.3z" fill="#c02830" stroke="#c02830"/><path d="M351.5 83.5l4.4 1.5 .4 8.8-4.6 1.4z" fill="#cb3e3a" stroke="#cb3e3a" fill-opacity=".3"/><path d="M323.2 142.2l-0-1.1 .6 9.8 .1 1.2z" fill="#f7a990" stroke="#f7a990" fill-opacity=".3"/><path d="M315.5 174.2l1.3-11 1 9.6-1.4 12.1z" fill="#f1cdbd" stroke="#f1cdbd" fill-opacity=".3"/><path d="M319.6 116.7l1.9 .5 1-8.1-1.9-.1z" fill="#e5705c" stroke="#e5705c"/><path d="M315.3 274.9l1.8-3.2 4.1 6.9-1.7 2.7z" fill="#5e70e6" stroke="#5e70e6"/><path d="M333.4 98.5l2.2 0 .4 7.5-2.2 1.8z" fill="#d9584b" stroke="#d9584b" fill-opacity=".3"/><path d="M345.7 83.7l3.4-.5 .6-1.3-3.3-2z" fill="#c12b31" stroke="#c12b31"/><path d="M327.9 122.3l2-3.7 .5 8.9-1.9 2.2z" fill="#ec8169" stroke="#ec8169" fill-opacity=".3"/><path d="M335.9 88l1.7-3.4 .3 10.4-1.6-.9z" fill="#cb3e3a" stroke="#cb3e3a" fill-opacity=".3"/><path d="M303.6 242.4l1.8-5.6 1.9 8.5-1.8 5.3z" fill="#89a9ff" stroke="#89a9ff" fill-opacity=".3"/><path d="M310.1 267.1l1.2-0 4 7.8-1.2 .5z" fill="#6479ed" stroke="#6479ed"/><path d="M304.4 249.4l1.2 1.2 2.7 8.9-1.2-.5z" fill="#7895ff" stroke="#7895ff" fill-opacity=".3"/><path d="M314.5 129.1l0-2.5 1.1-7.8-0 2.6z" fill="#ee866e" stroke="#ee866e"/><path d="M317.8 158.8l2.2-3.9 .8 9.5-2.2 5z" fill="#f6bea8" stroke="#f6bea8" fill-opacity=".3"/><path d="M215.8 264.4l2-.3 3.9 .7-1.9-.2z" fill="#677ef1" stroke="#677ef1"/><path d="M284.5 178.3l1.6 2.5 1.5-8.2-1.6-1.9z" fill="#edd1c4" stroke="#edd1c4" fill-opacity=".6"/><path d="M326.1 106l1.6-4.8 .9-4.2-1.6 3.7z" fill="#d75448" stroke="#d75448"/><path d="M305 215.8l.9-6.7 1.7 11.7-.9 6.3z" fill="#b9d2ff" stroke="#b9d2ff" fill-opacity=".3"/><path d="M310.6 186.3l1.7-7.3 1.1 10-1.7 8z" fill="#e6d7d0" stroke="#e6d7d0" fill-opacity=".3"/><path d="M320.1 154.9l1.7-3.9 .8 8.8-1.7 4.6z" fill="#f7b8a0" stroke="#f7b8a0" fill-opacity=".3"/><path d="M339.3 81.4l3.3-1.9 .3 5.8-3.2-2.3z" fill="#c02830" stroke="#c02830" fill-opacity=".3"/><path d="M338 79.6l3.3-1 .4-.8-3.3 2.2z" fill="#bb1b2c" stroke="#bb1b2c"/><path d="M298.8 149.9l1.9 4.8 1.2-8.2-1.9-2.9z" fill="#f7af96" stroke="#f7af96"/><path d="M349.1 83.2l4.5-.4 .7-2.6-4.6 1.7z" fill="#c12b31" stroke="#c12b31"/><path d="M267 214.7l.6-1.4 1.9-7.2-.5 1.1z" fill="#c6d8fb" stroke="#c6d8fb" fill-opacity=".8"/><path d="M162.5 272.4l2.1-1.7 6.6 6.6-2 1.8z" fill="#5967df" stroke="#5967df"/><path d="M329.8 95.6l2.2-.6 .9-5.3-2.2 .5z" fill="#cd423d" stroke="#cd423d"/><path d="M247.2 237.4l1.4-3.5 2.6-4.4-1.5 3.2z" fill="#9ebeff" stroke="#9ebeff" fill-opacity=".8"/><path d="M228.2 252.8l2.3-2.1 3.6-2.8-2.3 2.3z" fill="#7d9bff" stroke="#7d9bff" fill-opacity=".8"/><path d="M344.3 277.1l1.9-.9 18.1 18.8-1.9 1.5z" fill="#5764dc" stroke="#5764dc"/><path d="M333.6 85.2l1.6 .1 .7-5.5-1.6 2.2z" fill="#c02830" stroke="#c02830"/><path d="M325.6 129l1 .1 .6 8.8-1 .4z" fill="#f3947a" stroke="#f3947a" fill-opacity=".3"/><path d="M331.1 110.5l1.6-4.9 .5 9.7-1.6 1.6z" fill="#e16755" stroke="#e16755" fill-opacity=".3"/><path d="M203.9 268.5l.8-1.5 5.3 2.8-.9 .7z" fill="#6276eb" stroke="#6276eb"/><path d="M342.6 79.5l5.1 1.4 .3 4.9-5.1-.5z" fill="#c12b31" stroke="#c12b31" fill-opacity=".3"/><path d="M335.9 79.8l2.1-.2 .4 .5-2.1 .2z" fill="#ba162b" stroke="#ba162b"/><path d="M226.9 257.2l1.4-4.4 3.6-2.6-1.4 5.3z" fill="#7794ff" stroke="#7794ff" fill-opacity=".8"/><path d="M155.4 276.4l1.1-2.6 2.2 1.3-1.1 3.2z" fill="#5764dc" stroke="#5764dc"/><path d="M329.5 282.6l.9-3.3 5.2 6.3-.8 3z" fill="#5967df" stroke="#5967df"/><path d="M307.4 198.1l1.5-15.1 1.1 10.2-1.5 15z" fill="#dcdddd" stroke="#dcdddd" fill-opacity=".3"/><path d="M321.2 278.6l1.5-1.6 5.2 7-1.5 1.8z" fill="#5c6ce3" stroke="#5c6ce3"/><path d="M235.5 249.3l2 .8 2.6-2.8-2-1.1z" fill="#81a0ff" stroke="#81a0ff" fill-opacity=".8"/><path d="M324.4 107.6l1.7-1.7 .9-5.2-1.7 1z" fill="#d9584b" stroke="#d9584b"/><path d="M339.1 78.7l3.2 .3 .4 .5-3.3 1.8z" fill="#bb1b2c" stroke="#bb1b2c" fill-opacity=".3"/><path d="M305.5 139.2l1.8 4.7 1.2-9.5-1.9-3.7z" fill="#f59d83" stroke="#f59d83"/><path d="M190.4 270.2l2.4-.4 5.4 3.8-2.4 .1z" fill="#5e70e6" stroke="#5e70e6"/><path d="M305.5 191.6l1.8 6.5 1.1 10.2-1.8-6.5z" fill="#d8dde4" stroke="#d8dde4" fill-opacity=".3"/><path d="M254.3 226.8l2.2 .8 2.4-6.3-2.2-.6z" fill="#b2ceff" stroke="#b2ceff" fill-opacity=".8"/><path d="M338.5 80.1l3.3-2.2 .4-2.8-3.4 4.1z" fill="#b8122a" stroke="#b8122a"/><path d="M303.6 227l1.5-1.4 1.8 10.1-1.5 1.2z" fill="#a3c2ff" stroke="#a3c2ff" fill-opacity=".3"/><path d="M337.3 80l2.1 1.4 .4 1.6-2.2 1.6z" fill="#bd1f2e" stroke="#bd1f2e" fill-opacity=".3"/><path d="M262 220.5l2.4-1.8 1.9-6.7-2.3 1.3z" fill="#c1d6ff" stroke="#c1d6ff" fill-opacity=".8"/><path d="M341.3 78.7l5.1 1.3 .5-2.3-5.1 .2z" fill="#ba162b" stroke="#ba162b"/><path d="M177.1 271.8l1.9-.6 6.7 6.2-1.9-.2z" fill="#5b6ae1" stroke="#5b6ae1"/><path d="M314.1 275.4l1.2-.5 4.2 6.4-1.2 1.1z" fill="#5e70e6" stroke="#5e70e6"/><path d="M308.8 183l1.8 3.2 1.1 10.7-1.8-3.7z" fill="#e4d9d3" stroke="#e4d9d3" fill-opacity=".3"/><path d="M302.5 240.8l1.2 1.6 1.9 8.2-1.2-1.2z" fill="#89a9ff" stroke="#89a9ff" fill-opacity=".3"/><path d="M264.4 218.7l2.6-4 2-7.5-2.6 4.8z" fill="#c5d8fb" stroke="#c5d8fb" fill-opacity=".8"/><path d="M336.4 80.3l2.1-.2 .3-.9-2-.8z" fill="#b8122a" stroke="#b8122a"/><path d="M335.2 90.2l.7-2.2 .4 6.1-.7 4.5z" fill="#cb3e3a" stroke="#cb3e3a" fill-opacity=".3"/><path d="M338.8 79.2l3.3-4.1 .2 3.9-3.3-.2z" fill="#b8122a" stroke="#b8122a" fill-opacity=".3"/><path d="M326.1 118.7l1.8 3.6 .6 7.4-1.9-.6z" fill="#ec8169" stroke="#ec8169" fill-opacity=".3"/><path d="M346.4 80l3.3 2 .6-2.8-3.4-1.5z" fill="#bb1b2c" stroke="#bb1b2c"/><path d="M297.2 157.8l1.7-7.9 1.2-6.4-1.7 5.7z" fill="#f7af96" stroke="#f7af96"/><path d="M303.4 214.1l1.6 1.7 1.7 11.3-1.6-1.5z" fill="#b7d1ff" stroke="#b7d1ff" fill-opacity=".3"/><path d="M347.8 80.9l3.4-.8 .4 3.3-3.5 2.4z" fill="#be242f" stroke="#be242f" fill-opacity=".3"/><path d="M322.6 131.8l3-2.8 .6 9.3-3 2.8z" fill="#f3947a" stroke="#f3947a" fill-opacity=".3"/><path d="M160.8 274l1.7-1.7 6.6 6.7-1.6 1.6z" fill="#5967df" stroke="#5967df"/><path d="M304.6 198.3l2.1 3.5 1.3 11.6-2-4.2z" fill="#d2dced" stroke="#d2dced" fill-opacity=".3"/><path d="M244.4 236.1l2.8 1.3 2.5-4.8-2.8-2z" fill="#9fbfff" stroke="#9fbfff" fill-opacity=".8"/><path d="M342.7 279.5l1.6-2.4 18 19.4-1.5 1.9z" fill="#5764dc" stroke="#5764dc"/><path d="M301.8 232.4l1.8-5.4 1.8 9.9-1.8 5.5z" fill="#9ebeff" stroke="#9ebeff" fill-opacity=".3"/><path d="M342.3 79l5.2-.7 .2 2.7-5.1-1.5z" fill="#ba162b" stroke="#ba162b" fill-opacity=".3"/><path d="M329.4 110.6l1.7-.1 .5 6.4-1.7 1.8z" fill="#e26956" stroke="#e26956" fill-opacity=".3"/><path d="M349.8 81.9l4.5-1.7 .5-2-4.5 1z" fill="#bb1b2c" stroke="#bb1b2c"/><path d="M337 78.5l2.1 .2 .3 2.7-2.1-1.4z" fill="#b8122a" stroke="#b8122a" fill-opacity=".3"/><path d="M332.2 97.7l1.1 .8 .4 9.3-1.1-2.2z" fill="#d65246" stroke="#d65246" fill-opacity=".3"/><path d="M213.7 264.3l2.1 .1 4 .1-2.2-.5z" fill="#6c84f5" stroke="#6c84f5" fill-opacity=".5"/><path d="M336.8 78.4l2.1 .7 .2-.4-2.1-.2z" fill="#b70d29" stroke="#b70d29" fill-opacity=".3"/><path d="M288.6 165.4l2.1 5 1.3-7.9-2.1-4.6z" fill="#f5c1ad" stroke="#f5c1ad"/><path d="M332.8 89.7l.8-4.5 .6-3.2-.7 3.3z" fill="#c12b31" stroke="#c12b31"/><path d="M224.7 256.3l2.1 1 3.6-1.7-2.1-1.5z" fill="#7794ff" stroke="#7794ff" fill-opacity=".8"/><path d="M328.6 96.9l1.2-1.4 .8-5.4-1.1 .6z" fill="#cc403c" stroke="#cc403c"/><path d="M319.5 281.3l1.7-2.7 5.3 7.2-1.8 2.3z" fill="#5b6ae1" stroke="#5b6ae1"/><path d="M318.6 117.1l1-.4 1-7.7-1-1z" fill="#e46e5a" stroke="#e46e5a"/><path d="M341.8 77.9l5.2-.2 .3 1.2-5.1-3.8z" fill="#b70d29" stroke="#b70d29"/><path d="M188.6 272.7l1.7-2.6 5.5 3.5-1.8 2.9z" fill="#5e70e6" stroke="#5e70e6"/><path d="M252.6 230.6l1.7-3.8 2.4-6.1-1.7 3.7z" fill="#b2ceff" stroke="#b2ceff" fill-opacity=".8"/><path d="M316.1 151.8l1.7 7 .8 10.6-1.7-6.1z" fill="#f7baa3" stroke="#f7baa3" fill-opacity=".3"/><path d="M351.2 80.2l4.5 .4 .3 4.4-4.5-1.5z" fill="#be242f" stroke="#be242f" fill-opacity=".3"/><path d="M342.2 75.1l5.1 3.8 .2-.6-5.2 .7z" fill="#b70d29" stroke="#b70d29" fill-opacity=".3"/><path d="M334.3 82l1.7-2.2 .4 .5-1.6-.2z" fill="#ba162b" stroke="#ba162b"/><path d="M153.2 277.8l2.2-1.4 2.2 1.9-2.2 .9z" fill="#5764dc" stroke="#5764dc"/><path d="M335.6 82.6l1.7-2.6 .3 4.6-1.7 3.3z" fill="#be242f" stroke="#be242f" fill-opacity=".3"/><path d="M321.1 141.4l2.2 .7 .6 10-2.1-1.1z" fill="#f7a68d" stroke="#f7a68d" fill-opacity=".3"/><path d="M311.4 168.5l1.9 4.7 .9 9.8-1.9-4z" fill="#f2cbba" stroke="#f2cbba" fill-opacity=".3"/><path d="M305.4 256.8l1.7 2.2 3 8.1-1.7-1.6z" fill="#738efb" stroke="#738efb" fill-opacity=".4"/><path d="M346.9 77.7l3.4 1.5 .3-.1-3.4-.2z" fill="#b8122a" stroke="#b8122a"/><path d="M327.9 284l1.6-1.4 5.3 6.1-1.6 1.5z" fill="#5967df" stroke="#5967df"/><path d="M304.2 147.3l1.3-8.1 1.1-8.6-1.3 8z" fill="#f59d83" stroke="#f59d83"/><path d="M347.5 78.3l3.3 2.3 .4-.4-3.4 .8z" fill="#ba162b" stroke="#ba162b" fill-opacity=".3"/><path d="M283 180.4l1.5-2.2 1.5-7.6-1.5 1.8z" fill="#efcebf" stroke="#efcebf" fill-opacity=".5"/><path d="M347.2 78.8l3.4 .2 .2 1.5-3.3-2.3z" fill="#b8122a" stroke="#b8122a" fill-opacity=".3"/><path d="M312.4 127.4l2.1 1.7 1.1-7.7-2.2-.9z" fill="#ee846c" stroke="#ee846c"/><path d="M276.5 188l1.8 4 1.6-7.7-1.7-3.2z" fill="#e8d6cd" stroke="#e8d6cd" fill-opacity=".7"/><path d="M308.4 265.5l1.7 1.5 4 8.4-1.7-.5z" fill="#6981f3" stroke="#6981f3" fill-opacity=".4"/><path d="M322.5 109.1l1.9-1.5 .9-5.9-1.8-1z" fill="#d9584b" stroke="#d9584b"/><path d="M240.8 245.1l2.1-4.9 2.5-4.2-2.1 4.9z" fill="#93b4ff" stroke="#93b4ff" fill-opacity=".8"/><path d="M202.2 271l1.8-2.5 5.2 2-1.8 2.9z" fill="#6378ec" stroke="#6378ec"/><path d="M301.9 146.5l2.3 .8 1.1-8.7-2.3 .6z" fill="#f6a288" stroke="#f6a288"/><path d="M242.9 240.3l1.5-4.1 2.5-5.5-1.5 5.4z" fill="#9dbdff" stroke="#9dbdff" fill-opacity=".8"/><path d="M333 91.9l2.2-1.7 .4 8.3-2.2 0z" fill="#cc403c" stroke="#cc403c" fill-opacity=".3"/><path d="M198.9 272.6l3.3-1.6 5.2 2.5-3.3 2.2z" fill="#6073e9" stroke="#6073e9"/><path d="M175.7 275l1.4-3.2 6.7 5.4-1.4 3.9z" fill="#5c6ce3" stroke="#5c6ce3"/><path d="M281.2 186.6l1.8-6.2 1.5-8-1.8 5.6z" fill="#edd1c4" stroke="#edd1c4" fill-opacity=".6"/><path d="M350.3 79.2l4.5-1 .4-.2-4.6 1.1z" fill="#b8122a" stroke="#b8122a"/><path d="M260.3 218.7l1.7 1.7 2-7.2-1.7-1.2z" fill="#c6d8fa" stroke="#c6d8fa" fill-opacity=".8"/><path d="M293.9 168l1.4-14.1 1.2-8.4-1.4 13.6z" fill="#f7b79f" stroke="#f7b79f"/><path d="M212 268.3l1.8-4 3.9-.3-1.7 5z" fill="#6981f3" stroke="#6981f3" fill-opacity=".5"/><path d="M272.5 196.6l1.6-.5 1.7-7.1-1.6-.4z" fill="#e1dad7" stroke="#e1dad7" fill-opacity=".7"/><path d="M302.9 263.4l2.5-6.6 3 8.7-2.5 5.7z" fill="#718bfa" stroke="#718bfa" fill-opacity=".4"/><path d="M322.6 133.6l-0-1.8 .6 9.3 0 1.1z" fill="#f3957c" stroke="#f3957c" fill-opacity=".3"/><path d="M295.3 153.9l1.8 4 1.2-8.7-1.8-3.7z" fill="#f7b097" stroke="#f7b097"/><path d="M350.8 80.6l4.6-3.5 .2 3.5-4.5-.4z" fill="#ba162b" stroke="#ba162b" fill-opacity=".3"/><path d="M334.8 80.2l1.6 .1 .4-1.8-1.7 1.6z" fill="#b70d29" stroke="#b70d29"/><path d="M340.9 280.7l1.8-1.2 18.1 18.8-1.8 1.7z" fill="#5764dc" stroke="#5764dc"/><path d="M327.5 111.3l1.9-.7 .5 8-2 3.7z" fill="#e36b58" stroke="#e36b58" fill-opacity=".3"/><path d="M312.5 162.7l2.3 .3 .7 11.2-2.2-1z" fill="#f5c1ac" stroke="#f5c1ac" fill-opacity=".3"/><path d="M274.1 196.1l2.5-8.1 1.7-6.9-2.5 7.9z" fill="#e6d7d0" stroke="#e6d7d0" fill-opacity=".7"/><path d="M350.6 79.1l4.5-1.1 .3-.9-4.6 3.5z" fill="#b8122a" stroke="#b8122a" fill-opacity=".3"/><path d="M335.3 82.4l1.7-3.9 .3 1.5-1.7 2.6z" fill="#b8122a" stroke="#b8122a" fill-opacity=".3"/><path d="M292 162.6l1.9 5.4 1.2-8.9-1.9-5z" fill="#f7bca5" stroke="#f7bca5"/><path d="M158.7 275.2l2.2-1.1 6.6 6.5-2.2 1z" fill="#5967de" stroke="#5967de"/><path d="M301.3 263.9l1.5-.5 3 7.8-1.5 .8z" fill="#6e87f7" stroke="#6e87f7" fill-opacity=".4"/><path d="M305.9 271.2l2.5-5.7 4 9.4-2.5 4.3z" fill="#677ef1" stroke="#677ef1" fill-opacity=".4"/><path d="M302.7 246.3l1.7 3.1 2.7 9.6-1.7-2.2z" fill="#82a2ff" stroke="#82a2ff" fill-opacity=".3"/><path d="M335.1 80l1.7-1.6 .2 .1-1.7 3.8z" fill="#b70d29" stroke="#b70d29" fill-opacity=".3"/><path d="M315.6 118.8l3-1.8 1-9.1-3 3.4z" fill="#e46e5a" stroke="#e46e5a"/><path d="M300.6 230.5l1.2 1.9 1.8 10.1-1.1-1.6z" fill="#9ebeff" stroke="#9ebeff" fill-opacity=".3"/><path d="M303.6 205.5l1-7.2 1.3 10.8-.9 6.7z" fill="#d2dced" stroke="#d2dced" fill-opacity=".3"/><path d="M319.4 145.7l1.7-4.3 .7 9.6-1.7 3.9z" fill="#f7a68d" stroke="#f7a68d" fill-opacity=".3"/><path d="M186 272.2l2.6 .5 5.5 3.9-2.7-1.2z" fill="#5f72e8" stroke="#5f72e8"/><path d="M172.9 276l2.8-1 6.7 6-2.8 1.3z" fill="#5a69e0" stroke="#5a69e0"/><path d="M330.6 90.1l2.2-.4 .7-4.4-2.2-.6z" fill="#c32e33" stroke="#c32e33"/><path d="M240.1 247.4l.7-2.3 2.5-4.2-.7 2.2z" fill="#90b1ff" stroke="#90b1ff" fill-opacity=".8"/><path d="M314.8 163l1.3-11.2 .8 11.4-1.3 11z" fill="#f7bca5" stroke="#f7bca5" fill-opacity=".3"/><path d="M317.2 149l2.2-3.3 .7 9.2-2.2 3.9z" fill="#f7ac93" stroke="#f7ac93" fill-opacity=".3"/><path d="M327 100.7l1.6-3.8 .9-6.2-1.6 2.7z" fill="#cc403c" stroke="#cc403c"/><path d="M271.1 204l1.4-7.4 1.7-8-1.4 8.4z" fill="#dedcdb" stroke="#dedcdb" fill-opacity=".7"/><path d="M312.4 274.9l1.7 .5 4.2 7-1.7 .1z" fill="#6175ea" stroke="#6175ea"/><path d="M224 262l.7-5.7 3.6-2.2-.7 6z" fill="#7794ff" stroke="#7794ff" fill-opacity=".8"/><path d="M151.6 279.9l1.5-2.1 2.2 1.4-1.5 2.3z" fill="#5764dc" stroke="#5764dc"/><path d="M304.3 272l1.5-.8 4.1 8-1.6 1.1z" fill="#6479ed" stroke="#6479ed"/><path d="M318.3 282.4l1.2-1.1 5.2 6.8-1.2 1.5z" fill="#5b6ae1" stroke="#5b6ae1"/><path d="M210 269.8l1.9-1.5 4 .7-2 1z" fill="#677ef1" stroke="#677ef1"/><path d="M269.5 206.2l1.6-2.1 1.6-7-1.5 1.9z" fill="#d8dde4" stroke="#d8dde4" fill-opacity=".8"/><path d="M334.9 84.7l.7-2 .3 5.3-.7 2.2z" fill="#c02830" stroke="#c02830" fill-opacity=".3"/><path d="M309.7 175.5l1.7-7 .9 10.5-1.7 7.3z" fill="#f2cbba" stroke="#f2cbba" fill-opacity=".3"/><path d="M330.7 101.2l1.6-3.5 .4 7.8-1.6 4.9z" fill="#d55045" stroke="#d55045" fill-opacity=".3"/><path d="M234.2 247.9l1.3 1.4 2.6-3-1.3-1.5z" fill="#8aaaff" stroke="#8aaaff" fill-opacity=".8"/><path d="M300.2 254.2l2.5-7.9 2.7 10.5-2.5 6.7z" fill="#7f9dff" stroke="#7f9dff" fill-opacity=".3"/><path d="M333.5 85.3l.8-3.3 .4-1.8-.7 3.2z" fill="#ba162b" stroke="#ba162b"/><path d="M298.6 254.2l1.5-.1 2.7 9.3-1.5 .5z" fill="#7997ff" stroke="#7997ff" fill-opacity=".3"/><path d="M251.2 229.5l1.4 1.1 2.4-6.2-1.4-.8z" fill="#b4cfff" stroke="#b4cfff" fill-opacity=".8"/><path d="M326.4 285.7l1.5-1.7 5.2 6.2-1.4 1.8z" fill="#5967de" stroke="#5967de"/><path d="M287.6 172.5l1-7.1 1.3-7.5-1 6.2z" fill="#f5c0ab" stroke="#f5c0ab"/><path d="M310.7 130.2l1.7-2.8 1-6.9-1.7 2.4z" fill="#ed836b" stroke="#ed836b"/><path d="M221.8 264.8l2.3-2.8 3.5-1.9-2.2 3.7z" fill="#718bfa" stroke="#718bfa" fill-opacity=".7"/><path d="M325.1 120.7l1-2 .5 10.3-1-.1z" fill="#eb7d66" stroke="#eb7d66" fill-opacity=".3"/><path d="M301.9 215.1l1.5-1 1.7 11.5-1.5 1.3z" fill="#bed5ff" stroke="#bed5ff" fill-opacity=".3"/><path d="M198.2 273.5l.7-1 5.3 3.2-.8-0z" fill="#6175ea" stroke="#6175ea"/><path d="M140.4 278.8l3.8 .4 2.2 1.4-3.8-0z" fill="#5764dc" stroke="#5764dc"/><path d="M320.6 109l1.9 .1 .9-8.4-1.9 .4z" fill="#d85649" stroke="#d85649"/><path d="M308.5 134.4l2.2-4.2 1.1-7.2-2.2 3.3z" fill="#ef886f" stroke="#ef886f"/><path d="M299.9 269.2l1.4-5.3 3 8.1-1.4 4.6z" fill="#6b84f5" stroke="#6b84f5" fill-opacity=".4"/><path d="M309.9 279.2l2.5-4.3 4.2 7.6-2.5 3.4z" fill="#6073e9" stroke="#6073e9"/><path d="M280 184.3l1.2 2.3 1.5-8.6-1.2-3z" fill="#eed0c2" stroke="#eed0c2" fill-opacity=".6"/><path d="M339.6 283.6l1.3-2.9 18 19.3-1.2 2.2z" fill="#5764dc" stroke="#5764dc"/><path d="M315.6 121.4l0-2.5 1-7.5-0 2z" fill="#e46e5b" stroke="#e46e5b"/><path d="M306.4 187.1l1.5-15.7 .9 11.7-1.5 15.1z" fill="#edd2c5" stroke="#edd2c5" fill-opacity=".3"/><path d="M144.2 279.2l4.6 1.3 2.2 2.1-4.6-2z" fill="#5764dc" stroke="#5764dc"/><path d="M171.2 277.3l1.7-1.3 6.7 6.3-1.7 .9z" fill="#5a69e0" stroke="#5a69e0"/><path d="M304.6 181.3l1.9 5.8 .9 11.1-1.9-6.6z" fill="#ead5cb" stroke="#ead5cb" fill-opacity=".3"/><path d="M157.6 278.3l1.1-3.2 6.6 6.4-1 3.6z" fill="#5967df" stroke="#5967df"/><path d="M300.1 221.5l1.8-6.3 1.7 11.8-1.8 5.4z" fill="#b9d2ff" stroke="#b9d2ff" fill-opacity=".3"/><path d="M148.8 280.5l2.9-.6 2.2 1.6-2.9 1.1z" fill="#5764dc" stroke="#5764dc"/><path d="M334 83.4l.8-3.3 .3-.1-.8 3.8z" fill="#b8122a" stroke="#b8122a"/><path d="M325.3 101.7l1.7-1 .9-7.4-1.7 .8z" fill="#cc403c" stroke="#cc403c"/><path d="M334.6 82.5l.7-.1 .3 .2-.7 2z" fill="#ba162b" stroke="#ba162b" fill-opacity=".3"/><path d="M138.8 280.8l1.6-2 2.2 1.8-1.6 2z" fill="#5764dc" stroke="#5764dc"/><path d="M329 102.2l1.7-.9 .4 9.2-1.7 .1z" fill="#d65246" stroke="#d65246" fill-opacity=".3"/><path d="M300.8 237.4l1.7 3.4 1.9 8.6-1.7-3.2z" fill="#96b6ff" stroke="#96b6ff" fill-opacity=".3"/><path d="M331.9 90.2l1.1 1.8 .4 6.6-1.1-.9z" fill="#ca3b39" stroke="#ca3b39" fill-opacity=".3"/><path d="M334.3 83.8l.8-3.8 .2 2.4-.7 .1z" fill="#b8122a" stroke="#b8122a" fill-opacity=".3"/><path d="M325.6 110.6l1.9 .7 .4 11-1.8-3.6z" fill="#e26956" stroke="#e26956" fill-opacity=".3"/><path d="M302.9 276.6l1.4-4.6 4 8.3-1.4 3.9z" fill="#6378ec" stroke="#6378ec"/><path d="M185.7 277.4l.3-5.2 5.5 3.3-.4 6z" fill="#5e70e6" stroke="#5e70e6"/><path d="M297.2 260.4l1.4-6.2 2.7 9.7-1.4 5.3z" fill="#7794ff" stroke="#7794ff" fill-opacity=".3"/><path d="M302 202.6l1.6 2.9 1.3 10.4-1.5-1.7z" fill="#d1dcef" stroke="#d1dcef" fill-opacity=".3"/><path d="M300 143.6l1.9 2.9 1.1-7.3-1.9-3.9z" fill="#f59c82" stroke="#f59c82"/><path d="M307.9 171.3l1.8 4.1 .9 10.8-1.8-3.2z" fill="#f1ccbb" stroke="#f1ccbb" fill-opacity=".3"/><path d="M259 221.3l1.3-2.6 1.9-6.6-1.2 3.2z" fill="#cadaf7" stroke="#cadaf7" fill-opacity=".8"/><path d="M322.1 122.1l3-1.3 .6 8.2-3.1 2.8z" fill="#ec7f68" stroke="#ec7f68" fill-opacity=".3"/><path d="M308.3 280.3l1.5-1 4.2 6.6-1.5 1.4z" fill="#5e70e6" stroke="#5e70e6"/><path d="M219.8 264.5l2 .2 3.6-1-2-.8z" fill="#718bfa" stroke="#718bfa" fill-opacity=".7"/><path d="M329.5 90.7l1.1-.6 .7-5.4-1.1 2.7z" fill="#c12b31" stroke="#c12b31"/><path d="M303.5 188.2l2.1 3.4 1.1 10.2-2.1-3.5z" fill="#e4d9d3" stroke="#e4d9d3" fill-opacity=".3"/><path d="M298.4 271.4l1.5-2.2 3.1 7.4-1.6 2.1z" fill="#6981f3" stroke="#6981f3" fill-opacity=".4"/><path d="M332.6 85.6l2.2-.9 .3 5.5-2.2 1.7z" fill="#c02830" stroke="#c02830" fill-opacity=".3"/><path d="M324.7 288.1l1.7-2.4 5.3 6.4-1.7 2.1z" fill="#5967df" stroke="#5967df"/><path d="M296.7 245.5l1.6-0 1.9 8.6-1.5 .1z" fill="#8aaaff" stroke="#8aaaff" fill-opacity=".3"/><path d="M298.2 245.5l2.5-8.1 2 8.9-2.6 7.9z" fill="#92b3ff" stroke="#92b3ff" fill-opacity=".3"/><path d="M286 170.7l1.6 1.8 1.4-8.4-1.7-1.8z" fill="#f5c2ae" stroke="#f5c2ae"/><path d="M295.7 262.8l1.6-2.4 2.7 8.8-1.6 2.2z" fill="#738efb" stroke="#738efb" fill-opacity=".4"/><path d="M331.3 84.7l2.2 .6 .5-1.9-2.2-.5z" fill="#ba162b" stroke="#ba162b"/><path d="M310.6 160.3l1.9 2.4 .8 10.5-1.9-4.7z" fill="#f7bca5" stroke="#f7bca5" fill-opacity=".3"/><path d="M231.8 250.2l2.4-2.3 2.6-3.1-2.4 2.9z" fill="#8daeff" stroke="#8daeff" fill-opacity=".8"/><path d="M316.6 282.5l1.7-.1 5.2 7.3-1.7 .7z" fill="#5c6de4" stroke="#5c6de4"/><path d="M320.5 131.5l2.1 2.1 .6 8.6-2.1-.7z" fill="#f29077" stroke="#f29077" fill-opacity=".3"/><path d="M337.7 284.8l1.9-1.2 18.1 18.6-1.9 1.5z" fill="#5764dc" stroke="#5764dc"/><path d="M315.4 143.4l1.8 5.6 .7 9.7-1.8-7z" fill="#f7a88e" stroke="#f7a88e" fill-opacity=".3"/><path d="M230.4 255.6l1.4-5.4 2.6-2.5-1.4 5z" fill="#87a7ff" stroke="#87a7ff" fill-opacity=".8"/><path d="M301.4 278.7l1.5-2.1 4.1 7.6-1.6 2.1z" fill="#6175ea" stroke="#6175ea"/><path d="M268.9 207.2l.6-1.1 1.6-7.2-.5 1.4z" fill="#dadde1" stroke="#dadde1" fill-opacity=".8"/><path d="M238.1 246.3l2 1.1 2.5-4.3-2-1.4z" fill="#94b5ff" stroke="#94b5ff" fill-opacity=".8"/><path d="M249.7 232.7l1.4-3.1 2.4-5.9-1.4 3.4z" fill="#b7d1ff" stroke="#b7d1ff" fill-opacity=".8"/><path d="M209.2 270.5l.8-.7 4 .2-.9 .5z" fill="#6981f3" stroke="#6981f3" fill-opacity=".5"/><path d="M306.6 130.6l1.8 3.7 1.1-8-1.9-3.5z" fill="#ee866e" stroke="#ee866e"/><path d="M169.2 279.1l2.1-1.8 6.6 5.9-2 2z" fill="#5b6ae1" stroke="#5b6ae1"/><path d="M136.4 282.1l2.3-1.2 2.2 1.8-2.3 1.2z" fill="#5764dc" stroke="#5764dc"/><path d="M155.4 279.2l2.2-.9 6.7 6.8-2.2 .6z" fill="#5967df" stroke="#5967df"/><path d="M298.9 219.5l1.2 2 1.7 10.9-1.2-1.9z" fill="#b9d2ff" stroke="#b9d2ff" fill-opacity=".3"/><path d="M331.8 83l2.2 .5 .3 .3-2.2 .8z" fill="#b8122a" stroke="#b8122a"/><path d="M295.3 252.4l1.4-6.9 2 8.8-1.4 6.2z" fill="#88a8ff" stroke="#88a8ff" fill-opacity=".3"/><path d="M306.9 284.2l1.4-3.9 4.2 7-1.4 3.3z" fill="#5f70e6" stroke="#5f70e6"/><path d="M327.1 103.4l1.9-1.2 .4 8.4-1.9 .7z" fill="#d65246" stroke="#d65246" fill-opacity=".3"/><path d="M322.1 124.1l-0-2 .5 9.7 0 1.8z" fill="#ec7f68" stroke="#ec7f68" fill-opacity=".3"/><path d="M323.4 100.7l1.9 1 .9-7.6-1.9 .5z" fill="#cc403c" stroke="#cc403c"/><path d="M319.6 108l1 1 .9-7.9-1 .9z" fill="#d85649" stroke="#d85649"/><path d="M327.9 93.3l1.6-2.6 .6-3.4-1.5 2.9z" fill="#c12b31" stroke="#c12b31"/><path d="M195.8 273.6l2.4-.1 5.2 2.2-2.4-.5z" fill="#6479ed" stroke="#6479ed"/><path d="M298.4 149.2l1.6-5.6 1.2-8.3-1.7 4.6z" fill="#f49a80" stroke="#f49a80"/><path d="M293.7 254.7l1.6-2.3 1.9 8-1.5 2.4z" fill="#81a0ff" stroke="#81a0ff" fill-opacity=".3"/><path d="M256.7 220.7l2.2 .6 2-6-2.3-.5z" fill="#ccdbf5" stroke="#ccdbf5" fill-opacity=".8"/><path d="M314.1 285.9l2.5-3.4 5.2 7.9-2.5 2.5z" fill="#5d6de4" stroke="#5d6de4"/><path d="M332.1 84.5l2.2-.7 .3-1.3-2.2-.6z" fill="#b70d29" stroke="#b70d29" fill-opacity=".3"/><path d="M332.4 81.9l2.2 .6 .3 2.1-2.2 .9z" fill="#b70d29" stroke="#b70d29" fill-opacity=".3"/><path d="M263.9 213.2l2.4-1.2 1.6-8-2.4 2z" fill="#d7dde6" stroke="#d7dde6" fill-opacity=".8"/><path d="M330.3 93.5l1.6-3.3 .4 7.5-1.6 3.5z" fill="#c73636" stroke="#c73636" fill-opacity=".3"/><path d="M323.5 289.7l1.2-1.6 5.3 6.1-1.2 1.9z" fill="#5967df" stroke="#5967df"/><path d="M183.8 277.2l1.9 .2 5.5 4.1-2-1.2z" fill="#5e70e6" stroke="#5e70e6"/><path d="M302.5 193.6l.9-5.4 1.2 10.1-1 7.2z" fill="#e4d9d3" stroke="#e4d9d3" fill-opacity=".3"/><path d="M331.5 87.5l1.2-2 .3 6.4-1.1-1.8z" fill="#be242f" stroke="#be242f" fill-opacity=".3"/><path d="M266.3 212l2.6-4.7 1.7-7-2.6 3.8z" fill="#dadde2" stroke="#dadde2" fill-opacity=".8"/><path d="M318.8 136l1.7-4.5 .6 10-1.7 4.3z" fill="#f29279" stroke="#f29279" fill-opacity=".3"/><path d="M298.9 227.4l1.7 3.1 1.9 10.3-1.7-3.4z" fill="#adcaff" stroke="#adcaff" fill-opacity=".3"/><path d="M313.4 120.5l2.2 .9 1-8-2.2-.9z" fill="#e36c59" stroke="#e36c59"/><path d="M133.8 283l2.6-1 2.2 1.8-2.6 .5z" fill="#5764dc" stroke="#5764dc"/><path d="M289.9 157.9l2.1 4.6 1.2-8.5-2.1-3.5z" fill="#f7af96" stroke="#f7af96"/><path d="M335.6 285.6l2.1-.9 18.1 19-2.1 1.3z" fill="#5764dc" stroke="#5764dc"/><path d="M311.8 152.1l2.3 .2 .7 10.7-2.3-.3z" fill="#f7af96" stroke="#f7af96" fill-opacity=".3"/><path d="M316.6 138.7l2.2-2.8 .6 9.8-2.2 3.3z" fill="#f3977d" stroke="#f3977d" fill-opacity=".3"/><path d="M330.1 87.4l1.2-2.7 .5-1.7-1.2 2.2z" fill="#b8122a" stroke="#b8122a"/><path d="M228.3 254l2.1 1.5 2.6-2.8-2.1-1.2z" fill="#87a7ff" stroke="#87a7ff" fill-opacity=".8"/><path d="M305.4 138.6l1.3-8 1-7.8-1.3 8.7z" fill="#ef886f" stroke="#ef886f"/><path d="M297.9 273.3l.5-1.9 3 7.2-.5 2z" fill="#6981f3" stroke="#6981f3" fill-opacity=".4"/><path d="M308.9 164.6l1.6-4.3 .9 8.2-1.7 7z" fill="#f7baa3" stroke="#f7baa3" fill-opacity=".3"/><path d="M217.7 264l2.1 .5 3.6-1.6-2.1-.6z" fill="#7692fe" stroke="#7692fe" fill-opacity=".8"/><path d="M314.1 152.3l1.3-8.9 .7 8.4-1.3 11.2z" fill="#f7a88e" stroke="#f7a88e" fill-opacity=".3"/><path d="M303.1 139.2l2.3-.6 1-7.1-2.3-.6z" fill="#f18d74" stroke="#f18d74"/><path d="M246.9 230.6l2.8 2 2.4-5.5-2.8-2.3z" fill="#b9d2ff" stroke="#b9d2ff" fill-opacity=".8"/><path d="M312.5 287.3l1.5-1.4 5.3 7-1.6 1.6z" fill="#5b6ae1" stroke="#5b6ae1"/><path d="M324.6 111.1l1-.5 .5 8.1-1 2z" fill="#e16755" stroke="#e16755" fill-opacity=".3"/><path d="M167.5 280.6l1.7-1.5 6.7 6-1.7 1.2z" fill="#5b6ae1" stroke="#5b6ae1"/><path d="M294.8 235.5l1.6-.1 1.8 10.1-1.5 0z" fill="#a0c0ff" stroke="#a0c0ff" fill-opacity=".3"/><path d="M300.5 204.3l1.5-1.7 1.4 11.5-1.5 1.1z" fill="#d5dde9" stroke="#d5dde9" fill-opacity=".3"/><path d="M295.2 264.5l.5-1.7 2.7 8.6-.5 1.9z" fill="#7490fc" stroke="#7490fc" fill-opacity=".4"/><path d="M305.4 286.2l1.5-2 4.2 6.3-1.5 2z" fill="#5d6de4" stroke="#5d6de4"/><path d="M296.4 235.3l2.5-7.9 1.9 10-2.5 8.1z" fill="#a9c7ff" stroke="#a9c7ff" fill-opacity=".3"/><path d="M153.9 281.5l1.5-2.3 6.7 6.4-1.5 2.5z" fill="#5967de" stroke="#5967de"/><path d="M316.6 111.3l3-3.4 .9-6-3 2.4z" fill="#d85649" stroke="#d85649"/><path d="M330.6 85.1l1.2-2.2 .3 1.6-1.2 2.5z" fill="#b8122a" stroke="#b8122a"/><path d="M194.1 276.6l1.7-2.9 5.3 1.5-1.8 3.7z" fill="#6479ed" stroke="#6479ed"/><path d="M284.5 172.4l1.5-1.8 1.4-8.4-1.6 1.9z" fill="#f6bfa9" stroke="#f6bfa9"/><path d="M326.2 94.1l1.7-.7 .6-3.1-1.7 2z" fill="#c12b31" stroke="#c12b31"/><path d="M328.5 95.6l1.7-2.1 .4 7.7-1.7 .9z" fill="#c83838" stroke="#c83838" fill-opacity=".3"/><path d="M204.2 275.7l3.3-2.3 3.9 .2-3.3 2.9z" fill="#677ef1" stroke="#677ef1"/><path d="M300.9 280.7l.5-2 4 7.5-.5 2.5z" fill="#6276eb" stroke="#6276eb"/><path d="M255 224.4l1.8-3.7 1.9-5.9-1.8 2.4z" fill="#ccdaf5" stroke="#ccdaf5" fill-opacity=".8"/><path d="M207.4 273.4l1.8-2.9 3.9-.1-1.8 3.2z" fill="#6a82f4" stroke="#6a82f4" fill-opacity=".5"/><path d="M295.1 159.1l1.4-13.6 1.1-7.4-1.4 13z" fill="#f6a389" stroke="#f6a389"/><path d="M325.2 104.3l1.9-.9 .4 7.9-1.8-.7z" fill="#d65246" stroke="#d65246" fill-opacity=".3"/><path d="M298.7 209.7l1.8-5.4 1.4 10.8-1.8 6.4z" fill="#d2dced" stroke="#d2dced" fill-opacity=".3"/><path d="M142.6 280.6l3.8 .1 6.6 6.4-3.8 .2z" fill="#5967df" stroke="#5967df"/><path d="M330.9 87.1l1.2-2.5 .3-2.6-1.2 3.3z" fill="#b70d29" stroke="#b70d29" fill-opacity=".3"/><path d="M278.2 181.1l1.8 3.2 1.4-9.4-1.7-2.1z" fill="#f2c9b7" stroke="#f2c9b7"/><path d="M243.3 240.9l2.1-4.9 2.4-6.5-2.1 5.5z" fill="#adcaff" stroke="#adcaff" fill-opacity=".8"/><path d="M215.9 269l1.8-5 3.5-1.7-1.7 5.3z" fill="#7490fc" stroke="#7490fc" fill-opacity=".7"/><path d="M296.5 145.5l1.8 3.7 1.1-9.3-1.8-1.8z" fill="#f59c82" stroke="#f59c82"/><path d="M331.2 85.3l1.2-3.3 .3 3.6-1.2 1.9z" fill="#b70d29" stroke="#b70d29" fill-opacity=".3"/><path d="M293.4 242.8l1.4-7.3 1.9 10-1.4 6.9z" fill="#9dbdff" stroke="#9dbdff" fill-opacity=".3"/><path d="M282.7 178l1.8-5.5 1.3-8.4-1.8 6z" fill="#f5c1ac" stroke="#f5c1ac"/><path d="M293.2 154l1.9 5.1 1.1-8.1-1.9-4.5z" fill="#f7a88e" stroke="#f7a88e"/><path d="M303.8 171.1l1.9 6.1 .8 9.8-1.9-5.7z" fill="#f3c8b5" stroke="#f3c8b5" fill-opacity=".3"/><path d="M328.5 90.3l1.6-2.9 .5-2.2-1.6 3.7z" fill="#ba162b" stroke="#ba162b"/><path d="M321.5 101.1l1.9-.4 .8-6-1.9 .9z" fill="#cb3e3a" stroke="#cb3e3a"/><path d="M305.6 177.2l1.5-15.6 .8 9.8-1.5 15.7z" fill="#f5c4b0" stroke="#f5c4b0" fill-opacity=".3"/><path d="M311.7 122.9l1.7-2.5 1-8-1.7 3.2z" fill="#e36c59" stroke="#e36c59"/><path d="M146.4 280.6l4.6 2 6.7 6.9-4.7-2.4z" fill="#5967df" stroke="#5967df"/><path d="M321.6 113.8l3-2.7 .5 9.6-3 1.3z" fill="#e16755" stroke="#e16755" fill-opacity=".3"/><path d="M182.4 281l1.4-3.9 5.4 3.1-1.4 4.7z" fill="#6072e8" stroke="#6072e8"/><path d="M245.4 236l1.5-5.4 2.4-5.8-1.5 4.7z" fill="#b7d1ff" stroke="#b7d1ff" fill-opacity=".8"/><path d="M151 282.6l2.9-1.1 6.6 6.7-2.8 1.4z" fill="#5865dd" stroke="#5865dd"/><path d="M262.2 212.1l1.7 1.1 1.7-7.2-1.8-.8z" fill="#dbdde0" stroke="#dbdde0" fill-opacity=".8"/><path d="M291.8 245.2l1.6-2.4 1.8 9.6-1.5 2.3z" fill="#94b5ff" stroke="#94b5ff" fill-opacity=".3"/><path d="M295.2 276.4l2.6-3 3 7.3-2.6 2.5z" fill="#6981f3" stroke="#6981f3" fill-opacity=".4"/><path d="M275.7 189.1l2.5-7.9 1.4-8.3-2.4 8.3z" fill="#f1ccbb" stroke="#f1ccbb" fill-opacity=".5"/><path d="M274.2 188.7l1.6 .4 1.4-7.9-1.5-.5z" fill="#efcfc1" stroke="#efcfc1" fill-opacity=".6"/><path d="M329.9 91.3l1.6-3.8 .4 2.6-1.6 3.4z" fill="#bd1f2e" stroke="#bd1f2e" fill-opacity=".3"/><path d="M334.8 288.7l.9-3 18 19.4-.8 2.6z" fill="#5764dc" stroke="#5764dc"/><path d="M300.9 191.6l1.6 2 1.1 11.9-1.6-2.9z" fill="#e3d9d4" stroke="#e3d9d4" fill-opacity=".3"/><path d="M302.5 177.7l2.1 3.6 .9 10.3-2-3.3z" fill="#f1cdbd" stroke="#f1cdbd" fill-opacity=".3"/><path d="M141 282.6l1.6-2 6.6 6.7-1.6 2z" fill="#5967df" stroke="#5967df"/><path d="M321.8 290.4l1.7-.7 5.3 6.4-1.7 1.1z" fill="#5a69e0" stroke="#5a69e0"/><path d="M293.2 256.4l.5-1.7 2 8.1-.5 1.7z" fill="#82a1ff" stroke="#82a1ff" fill-opacity=".3"/><path d="M227.6 260.1l.7-6 2.6-2.5-.7 6.2z" fill="#86a5ff" stroke="#86a5ff" fill-opacity=".8"/><path d="M292.5 268l2.6-3.5 2.8 8.8-2.7 3.1z" fill="#738efb" stroke="#738efb" fill-opacity=".4"/><path d="M214 270l1.9-1 3.6-1.3-1.9 1.1z" fill="#718bfa" stroke="#718bfa" fill-opacity=".7"/><path d="M309.5 126.3l2.2-3.4 1-7.2-2.2 3.5z" fill="#e5705c" stroke="#e5705c"/><path d="M316.6 113.4l-0-2 .9-7 0 2.1z" fill="#d9584b" stroke="#d9584b"/><path d="M311.1 290.6l1.4-3.3 5.2 7.2-1.4 2.8z" fill="#5b6ae1" stroke="#5b6ae1"/><path d="M307.1 161.5l1.8 3.1 .8 10.8-1.8-4.1z" fill="#f7baa3" stroke="#f7baa3" fill-opacity=".3"/><path d="M292.9 277l2.4-.6 3 6.8-2.4 1z" fill="#677ef1" stroke="#677ef1" fill-opacity=".4"/><path d="M179.6 282.3l2.8-1.3 5.4 3.9-2.8 1.7z" fill="#5d6de4" stroke="#5d6de4"/><path d="M225.4 263.8l2.3-3.7 2.6-2.3-2.3 3.7z" fill="#7e9cff" stroke="#7e9cff" fill-opacity=".8"/><path d="M242.6 243.1l.7-2.2 2.4-6-.7 2.5z" fill="#a8c6ff" stroke="#a8c6ff" fill-opacity=".8"/><path d="M236.8 244.8l1.3 1.5 2.5-4.6-1.3-1.8z" fill="#a0c0ff" stroke="#a0c0ff" fill-opacity=".8"/><path d="M289 164.1l.9-6.2 1.2-7.3-.9 5.4z" fill="#f7af96" stroke="#f7af96"/><path d="M290.1 268.9l2.4-.9 2.7 8.3-2.4 .6z" fill="#718bfa" stroke="#718bfa" fill-opacity=".4"/><path d="M165.3 281.6l2.2-1 6.6 5.8-2.1 .7z" fill="#5c6ce2" stroke="#5c6ce2"/><path d="M326.6 97.4l1.9-1.7 .5 6.5-2 1.2z" fill="#ca3b39" stroke="#ca3b39" fill-opacity=".3"/><path d="M329 88.9l1.6-3.7 .3 1.9-1.5 .3z" fill="#b8122a" stroke="#b8122a"/><path d="M191.4 275.4l2.6 1.1 5.3 2.3-2.7-2.1z" fill="#657bef" stroke="#657bef"/><path d="M319.9 123.5l2.2 .6 .5 9.5-2.1-2.2z" fill="#ea7b65" stroke="#ea7b65" fill-opacity=".3"/><path d="M272.7 197l1.4-8.3 1.5-8.1-1.5 7.8z" fill="#edd1c4" stroke="#edd1c4" fill-opacity=".6"/><path d="M271.2 198.9l1.6-1.9 1.4-8.6-1.6 2.7z" fill="#ead5cb" stroke="#ead5cb" fill-opacity=".6"/><path d="M314.7 135.2l1.8 3.5 .6 10.3-1.8-5.6z" fill="#f3947a" stroke="#f3947a" fill-opacity=".3"/><path d="M329.6 89l1.6-3.7 .3 2.2-1.6 3.8z" fill="#ba162b" stroke="#ba162b" fill-opacity=".3"/><path d="M298.3 283.2l2.6-2.5 4.1 8-2.7 2z" fill="#6175ea" stroke="#6175ea"/><path d="M324.3 94.6l1.9-.5 .6-1.8-1.9 1.1z" fill="#c32e33" stroke="#c32e33"/><path d="M203.4 275.7l.7 0 4 .8-.8-.8z" fill="#6880f2" stroke="#6880f2"/><path d="M329.4 87.4l1.5-.3 .3-1.8-1.6 3.7z" fill="#b70d29" stroke="#b70d29" fill-opacity=".3"/><path d="M326.8 92.3l1.7-2 .5-1.4-1.7 .9z" fill="#bb1b2c" stroke="#bb1b2c"/><path d="M309.9 148.1l1.9 4 .7 10.6-1.9-2.4z" fill="#f7a88e" stroke="#f7a88e" fill-opacity=".3"/><path d="M304.9 288.7l.5-2.4 4.2 6.3-.5 2.7z" fill="#5c6de4" stroke="#5c6de4"/><path d="M328.2 92.2l1.7-.9 .4 2.2-1.7 2.1z" fill="#c02830" stroke="#c02830" fill-opacity=".3"/><path d="M297.5 206.9l1.2 2.8 1.4 11.7-1.2-2z" fill="#d2dced" stroke="#d2dced" fill-opacity=".3"/><path d="M319.3 292.9l2.5-2.5 5.2 6.8-2.4 1.9z" fill="#5a69e0" stroke="#5a69e0"/><path d="M253.6 223.7l1.4 .8 2-7.3-1.5-0z" fill="#cddbf4" stroke="#cddbf4" fill-opacity=".8"/><path d="M281.5 175l1.2 3 1.3-7.9-1.2-.7z" fill="#f5c1ac" stroke="#f5c1ac"/><path d="M295.9 284.1l2.4-.9 4 7.4-2.4 .9z" fill="#6073e9" stroke="#6073e9"/><path d="M301.1 135.3l1.9 3.9 1.1-8.3-2-3.2z" fill="#ee866e" stroke="#ee866e"/><path d="M290.5 260.1l2.6-3.7 2 8.1-2.6 3.5z" fill="#81a0ff" stroke="#81a0ff" fill-opacity=".3"/><path d="M321.6 115.9l-0-2.1 .5 8.3 0 2z" fill="#e26956" stroke="#e26956" fill-opacity=".3"/><path d="M297.2 215.9l1.7 3.6 1.7 11-1.7-3.1z" fill="#c7d9fa" stroke="#c7d9fa" fill-opacity=".3"/><path d="M138.6 283.9l2.3-1.3 6.7 6.8-2.4 1.3z" fill="#5967df" stroke="#5967df"/><path d="M136.6 290l-2.7-7 2.1 1.3 2.8 7.3z" fill="#5866dd" stroke="#5866dd"/><path d="M223.4 262.9l2 .9 2.6-2.3-2-.9z" fill="#7e9cff" stroke="#7e9cff" fill-opacity=".8"/><path d="M288.2 260.7l2.4-.6 2 7.9-2.4 .9z" fill="#7f9eff" stroke="#7f9eff" fill-opacity=".3"/><path d="M177.9 283.2l1.7-.8 5.4 4.2-1.7 .3z" fill="#5c6de4" stroke="#5c6de4"/><path d="M309.6 292.6l1.5-2 5.3 6.7-1.6 2z" fill="#5a69e0" stroke="#5a69e0"/><path d="M327.9 90.5l1.7-1.4 .3 2.2-1.7 .9z" fill="#bb1b2c" stroke="#bb1b2c" fill-opacity=".3"/><path d="M333.2 290.2l1.6-1.6 18.1 19.1-1.6 1.8z" fill="#5764dc" stroke="#5764dc"/><path d="M320.5 102l1-.9 .9-5.5-1.1 1.1z" fill="#cc403c" stroke="#cc403c"/><path d="M293.1 224l1.6 .2 1.7 11.1-1.6 .2z" fill="#bbd3ff" stroke="#bbd3ff" fill-opacity=".3"/><path d="M294.6 224.2l2.5-8.4 1.8 11.6-2.6 7.9z" fill="#c4d8fc" stroke="#c4d8fc" fill-opacity=".3"/><path d="M164.3 285.1l1.1-3.6 6.6 5.6-1 4.2z" fill="#5b6ae1" stroke="#5b6ae1"/><path d="M327.3 89.7l1.7-.9 .3-1.4-1.7 2.3z" fill="#b8122a" stroke="#b8122a"/><path d="M291.2 277.2l1.7-.2 3 7.2-1.7 .5z" fill="#6981f3" stroke="#6981f3" fill-opacity=".4"/><path d="M324.7 97.4l1.9 0 .4 6-1.9 .9z" fill="#cb3e3a" stroke="#cb3e3a" fill-opacity=".3"/><path d="M324.2 102.3l1 1.9 .5 6.4-1.1 .5z" fill="#d55045" stroke="#d55045" fill-opacity=".3"/><path d="M191.1 281.5l.3-6 5.2 1.3-.3 7.2z" fill="#6479ed" stroke="#6479ed"/><path d="M301.6 183.2l.9-5.6 1 10.6-.9 5.4z" fill="#f1cdbd" stroke="#f1cdbd" fill-opacity=".3"/><path d="M313.4 143.5l1.3-8.3 .6 8.2-1.3 8.9z" fill="#f3957c" stroke="#f3957c" fill-opacity=".3"/><path d="M318.2 125.4l1.7-1.9 .5 8-1.7 4.5z" fill="#ea7b65" stroke="#ea7b65" fill-opacity=".3"/><path d="M260.9 215.3l1.3-3.3 1.6-6.8-1.3 1.6z" fill="#dddcdc" stroke="#dddcdc" fill-opacity=".8"/><path d="M317.8 294.5l1.5-1.6 5.3 6.2-1.5 1.7z" fill="#5967df" stroke="#5967df"/><path d="M291.3 246.1l.5-.9 1.9 9.5-.5 1.7z" fill="#97b7ff" stroke="#97b7ff" fill-opacity=".3"/><path d="M327.7 89.7l1.7-2.3 .2 1.6-1.7 1.5z" fill="#b8122a" stroke="#b8122a" fill-opacity=".3"/><path d="M307.7 122.8l1.8 3.5 1-7.1-1.8-5.1z" fill="#e46e5a" stroke="#e46e5a"/><path d="M288.5 268.1l1.7 .9 2.7 8-1.7 .2z" fill="#7490fc" stroke="#7490fc" fill-opacity=".4"/><path d="M316 130l2.3-4.6 .5 10.6-2.2 2.8z" fill="#ec7f68" stroke="#ec7f68" fill-opacity=".3"/><path d="M234.4 247.7l2.4-2.9 2.5-4.9-2.4 2.9z" fill="#a2c2ff" stroke="#a2c2ff" fill-opacity=".8"/><path d="M287.3 162.2l1.6 1.9 1.2-8.1-1.6-3z" fill="#f7b097" stroke="#f7b097"/><path d="M308.2 155.8l1.7-7.7 .7 12.2-1.7 4.3z" fill="#f7a88e" stroke="#f7a88e" fill-opacity=".3"/><path d="M311.2 141.4l2.3 2.1 .6 8.8-2.3-.2z" fill="#f4987f" stroke="#f4987f" fill-opacity=".3"/><path d="M302.3 290.7l2.6-2 4.2 6.6-2.6 1.5z" fill="#5d6de4" stroke="#5d6de4"/><path d="M324.9 93.4l1.9-1.1 .5-2.5-1.9-.2z" fill="#bd1f2e" stroke="#bd1f2e"/><path d="M233.1 252.7l1.4-5 2.5-5-1.4 6z" fill="#9abbff" stroke="#9abbff" fill-opacity=".8"/><path d="M291.6 232.2l1.4-8.2 1.8 11.4-1.5 7.4z" fill="#b7d1ff" stroke="#b7d1ff" fill-opacity=".3"/><path d="M326.3 92.2l1.9-0 .4 3.4-2 1.7z" fill="#c12b31" stroke="#c12b31" fill-opacity=".3"/><path d="M136 284.3l2.6-.4 6.6 6.7-2.6 .1z" fill="#5967de" stroke="#5967de"/><path d="M322.4 95.5l1.9-.9 .6-1.3-1.8-2.2z" fill="#c12b31" stroke="#c12b31"/><path d="M290.1 233.6l1.6-1.4 1.7 10.6-1.6 2.4z" fill="#afccff" stroke="#afccff" fill-opacity=".3"/><path d="M294.2 284.7l1.7-.5 4 7.3-1.7 1z" fill="#6276eb" stroke="#6276eb"/><path d="M299.4 192.6l1.5-1 1.1 10.9-1.5 1.8z" fill="#e7d7cf" stroke="#e7d7cf" fill-opacity=".3"/><path d="M270.6 200.3l.6-1.4 1.4-7.8-.6 1.7z" fill="#ead4c9" stroke="#ead4c9" fill-opacity=".6"/><path d="M213.1 270.5l.8-.5 3.6-1.2-.8-.4z" fill="#7490fc" stroke="#7490fc" fill-opacity=".7"/><path d="M299.5 139.9l1.6-4.6 1.1-7.6-1.7 5.8z" fill="#ee846c" stroke="#ee846c"/><path d="M314.4 112.4l2.2 .9 .9-6.9-2.2-1.4z" fill="#d75448" stroke="#d75448"/><path d="M317.5 104.4l3-2.4 .9-5.3-3 .1z" fill="#cc403c" stroke="#cc403c"/><path d="M299.9 291.5l2.4-.8 4.2 6.1-2.4 1z" fill="#5c6ce2" stroke="#5c6ce2"/><path d="M252.1 227.1l1.4-3.4 2-6.5-1.5 3.8z" fill="#cfdbf2" stroke="#cfdbf2" fill-opacity=".8"/><path d="M240.6 241.7l2 1.4 2.4-5.7-2-1.7z" fill="#afccff" stroke="#afccff" fill-opacity=".8"/><path d="M175.9 285.1l2.1-1.9 5.4 3.7-2.1 2.2z" fill="#5d6fe5" stroke="#5d6fe5"/><path d="M321.1 105.8l3.1-3.4 .4 8.7-3 2.7z" fill="#d55045" stroke="#d55045" fill-opacity=".3"/><path d="M288.7 250.5l2.6-4.4 1.9 10.3-2.6 3.7z" fill="#94b5ff" stroke="#94b5ff" fill-opacity=".3"/><path d="M286.3 252l2.4-1.5 1.9 9.7-2.4 .5z" fill="#91b2ff" stroke="#91b2ff" fill-opacity=".3"/><path d="M331.7 292.1l1.5-1.9 18.1 19.4-1.5 2z" fill="#5764dc" stroke="#5764dc"/><path d="M297.6 198.8l1.8-6.2 1.1 11.6-1.8 5.5z" fill="#e5d8d2" stroke="#e5d8d2" fill-opacity=".3"/><path d="M286.5 260.3l1.7 .4 1.9 8.2-1.6-.8z" fill="#83a3ff" stroke="#83a3ff" fill-opacity=".3"/><path d="M162 285.7l2.2-.6 6.7 6.2-2.2-0z" fill="#5b6ae1" stroke="#5b6ae1"/><path d="M265.6 206l2.4-2 1.4-6.4-2.4 1.5z" fill="#e8d6ce" stroke="#e8d6ce" fill-opacity=".7"/><path d="M291.1 150.6l2.1 3.4 1.1-7.4-2.1-4.7z" fill="#f59c82" stroke="#f59c82"/><path d="M316.4 297.3l1.4-2.8 5.3 6.4-1.4 2.5z" fill="#5967df" stroke="#5967df"/><path d="M309.1 295.2l.5-2.7 5.2 6.7-.4 2.9z" fill="#5a69e0" stroke="#5a69e0"/><path d="M325.4 89.5l1.9 .2 .3-0-1.9-.6z" fill="#b8122a" stroke="#b8122a"/><path d="M304.9 164.7l1.4-12.5 .8 9.3-1.5 15.6z" fill="#f7b199" stroke="#f7b199" fill-opacity=".3"/><path d="M258.7 214.8l2.2 .5 1.7-8.5-2.3 .4z" fill="#dedcdb" stroke="#dedcdb" fill-opacity=".8"/><path d="M306.4 131.5l1.3-8.7 1-8.7-1.3 7z" fill="#e46e5b" stroke="#e46e5b"/><path d="M201 275.2l2.4 .5 3.9 .1-2.4-1z" fill="#6e87f7" stroke="#6e87f7" fill-opacity=".6"/><path d="M268 204l2.6-3.8 1.5-7.5-2.7 4.8z" fill="#ead5cb" stroke="#ead5cb" fill-opacity=".7"/><path d="M326 87.6l1.9 2.9 .2 1.7-1.9 0z" fill="#ba162b" stroke="#ba162b" fill-opacity=".3"/><path d="M319.4 115.3l2.2 .6 .5 8.2-2.2-.6z" fill="#e16755" stroke="#e16755" fill-opacity=".3"/><path d="M230.9 251.6l2.1 1.1 2.5-3.9-2.1-2.9z" fill="#9abbff" stroke="#9abbff" fill-opacity=".8"/><path d="M289.9 279.7l1.3-2.5 3 7.5-1.3 2.3z" fill="#6c84f5" stroke="#6c84f5" fill-opacity=".4"/><path d="M221.2 262.3l2.1 .5 2.6-2.3-2.1-1.1z" fill="#84a4ff" stroke="#84a4ff" fill-opacity=".8"/><path d="M303.1 160.1l1.9 4.6 .7 12.4-1.9-6z" fill="#f7b59d" stroke="#f7b59d" fill-opacity=".3"/><path d="M299.9 181.7l1.6 1.5 1 10.4-1.6-2z" fill="#f0cdbe" stroke="#f0cdbe" fill-opacity=".3"/><path d="M306.4 152.2l1.8 3.6 .7 8.8-1.8-3.1z" fill="#f7a990" stroke="#f7a990" fill-opacity=".3"/><path d="M301.7 166.3l2.1 4.8 .8 10.1-2.1-3.6z" fill="#f6bda7" stroke="#f6bda7" fill-opacity=".3"/><path d="M189.2 280.3l1.9 1.2 5.3 2.5-2-2.3z" fill="#6479ed" stroke="#6479ed"/><path d="M324.4 93.2l1.9-.9 .3 5.1-1.8-0z" fill="#c12b31" stroke="#c12b31" fill-opacity=".3"/><path d="M304.1 130.9l2.3 .6 1-10.4-2.3-.3z" fill="#e7745f" stroke="#e7745f"/><path d="M325.8 89.1l1.9 .6 .2 .7-1.8-2.8z" fill="#b70d29" stroke="#b70d29" fill-opacity=".3"/><path d="M314.2 124.7l1.8 5.2 .6 8.8-1.9-3.5z" fill="#eb7d66" stroke="#eb7d66" fill-opacity=".3"/><path d="M287.2 270.9l1.3-2.8 2.7 9.1-1.3 2.5z" fill="#7692fe" stroke="#7692fe" fill-opacity=".4"/><path d="M297.6 138.1l1.9 1.8 1-6.5-1.9-2.2z" fill="#ee866e" stroke="#ee866e"/><path d="M323.1 91.2l1.8 2.2 .6-3.8-1.9 .8z" fill="#bb1b2c" stroke="#bb1b2c"/><path d="M312.7 115.7l1.7-3.3 .9-7.4-1.7 2.5z" fill="#d75448" stroke="#d75448"/><path d="M298.2 292.4l1.7-.9 4.2 6.2-1.7 1.3z" fill="#5c6de4" stroke="#5c6de4"/><path d="M208.1 276.6l3.3-2.9 3.5-1.4-3.2 3.6z" fill="#6f8af9" stroke="#6f8af9" fill-opacity=".7"/><path d="M296.2 151l1.4-12.9 1-6.9-1.4 9.4z" fill="#f18f76" stroke="#f18f76"/><path d="M321.2 107l-0-1.2 .4 8 0 2.1z" fill="#d65246" stroke="#d65246" fill-opacity=".3"/><path d="M279.7 172.9l1.8 2.1 1.3-5.6-1.8-1.4z" fill="#f7baa4" stroke="#f7baa4"/><path d="M292.9 287l1.3-2.4 4 7.8-1.3 2.4z" fill="#6378ec" stroke="#6378ec"/><path d="M249.3 224.8l2.8 2.3 2-6.1-2.9-2.7z" fill="#d1dcef" stroke="#d1dcef" fill-opacity=".8"/><path d="M174.2 286.3l1.7-1.2 5.4 4-1.7 .8z" fill="#5d6fe5" stroke="#5d6fe5"/><path d="M310.5 119.2l2.2-3.5 1-8.2-2.3 4.9z" fill="#da5a4c" stroke="#da5a4c"/><path d="M285.8 164.1l1.5-1.9 1.2-9.2-1.5 3.4z" fill="#f7ac93" stroke="#f7ac93"/><path d="M330 294.2l1.7-2.1 18.1 19.5-1.7 1.8z" fill="#5764dc" stroke="#5764dc"/><path d="M317.5 106.5l-0-2.1 .9-7.6-0 1.1z" fill="#cb3e3a" stroke="#cb3e3a"/><path d="M219.5 267.7l1.8-5.3 2.6-3-1.8 5.9z" fill="#82a2ff" stroke="#82a2ff" fill-opacity=".8"/><path d="M323.8 94.7l1 2.6 .4 7-1-2z" fill="#c83838" stroke="#c83838" fill-opacity=".3"/><path d="M211.4 273.6l1.8-3.2 3.5-2-1.7 3.8z" fill="#7591fd" stroke="#7591fd" fill-opacity=".8"/><path d="M321.4 96.6l1-1.1 .7-4.4-1 1z" fill="#c12b31" stroke="#c12b31"/><path d="M294.3 146.6l1.9 4.5 1-10.5-1.9-1.8z" fill="#f29279" stroke="#f29279"/><path d="M199.3 278.8l1.7-3.7 3.9-.3-1.7 3.9z" fill="#6c85f6" stroke="#6c85f6" fill-opacity=".6"/><path d="M256.9 217.2l1.8-2.4 1.6-7.6-1.8 3.6z" fill="#dfdbd9" stroke="#dfdbd9" fill-opacity=".8"/><path d="M289.6 235.4l.5-1.8 1.8 11.6-.5 .9z" fill="#b1cdff" stroke="#b1cdff" fill-opacity=".3"/><path d="M295.8 204.5l1.7 2.5 1.4 12.5-1.7-3.6z" fill="#dcdddd" stroke="#dcdddd" fill-opacity=".3"/><path d="M284 170.1l1.8-6 1.2-7.6-1.8 5.4z" fill="#f7b097" stroke="#f7b097"/><path d="M277.2 181.1l2.5-8.3 1.3-4.9-2.5 5.9z" fill="#f6bda6" stroke="#f6bda6"/><path d="M160.5 288.2l1.5-2.5 6.7 5.6-1.5 2.8z" fill="#5c6ce3" stroke="#5c6ce3"/><path d="M296.4 196.5l1.2 2.3 1.1 10.9-1.2-2.8z" fill="#e6d7d0" stroke="#e6d7d0" fill-opacity=".3"/><path d="M309.2 139.7l1.9 1.8 .7 10.6-2-4z" fill="#f29279" stroke="#f29279" fill-opacity=".3"/><path d="M314.9 299.3l1.5-2 5.3 6.1-1.5 2z" fill="#5865dd" stroke="#5865dd"/><path d="M284.6 251.1l1.7 .9 1.9 8.7-1.7-.4z" fill="#97b7ff" stroke="#97b7ff" fill-opacity=".3"/><path d="M306.5 296.8l2.6-1.6 5.3 6.9-2.6 1.3z" fill="#5a69e0" stroke="#5a69e0"/><path d="M291.7 212.8l1.6 .5 1.4 10.9-1.6-.2z" fill="#d4ddeb" stroke="#d4ddeb" fill-opacity=".3"/><path d="M263.9 205.2l1.7 .8 1.4-6.9-1.7-1.3z" fill="#ead4c9" stroke="#ead4c9" fill-opacity=".7"/><path d="M317.7 117.9l1.7-2.6 .5 8.2-1.7 1.8z" fill="#e06553" stroke="#e06553" fill-opacity=".3"/><path d="M217.5 268.8l1.9-1.1 2.6-2.4-1.9 .7z" fill="#7e9cff" stroke="#7e9cff" fill-opacity=".8"/><path d="M293.3 213.4l2.5-8.9 1.4 11.4-2.5 8.3z" fill="#d9dde3" stroke="#d9dde3" fill-opacity=".3"/><path d="M323.5 90.4l1.9-.9 .3-.4-1.9 1.4z" fill="#b8122a" stroke="#b8122a"/><path d="M228 261.4l2.3-3.7 2.5-4.5-2.3 4.4z" fill="#8fafff" stroke="#8fafff" fill-opacity=".8"/><path d="M230.3 257.7l.7-6.2 2.5-5.6-.7 7.3z" fill="#99baff" stroke="#99baff" fill-opacity=".8"/><path d="M245.7 234.9l2.1-5.4 1.9-6.5-2.1 5.8z" fill="#c8d9f9" stroke="#c8d9f9" fill-opacity=".8"/><path d="M285.2 262.9l1.3-2.6 2 7.8-1.3 2.8z" fill="#85a5ff" stroke="#85a5ff" fill-opacity=".3"/><path d="M275.6 180.6l1.6 .5 1.3-7.3-1.6-1.9z" fill="#f5c0ab" stroke="#f5c0ab"/><path d="M149.2 287.3l3.8-.1 6.6 5.6-3.8 .5z" fill="#5b6ae1" stroke="#5b6ae1"/><path d="M287.7 279.6l2.2 .1 3 7.3-2.2 .3z" fill="#6d86f6" stroke="#6d86f6" fill-opacity=".4"/><path d="M324.1 90.5l1.9-2.9 .3 4.6-1.9 1z" fill="#ba162b" stroke="#ba162b" fill-opacity=".3"/><path d="M138.8 291.6l-2.8-7.3 6.6 6.4 2.8 7.6z" fill="#5a69e0" stroke="#5a69e0"/><path d="M312.9 134l1.3-9.3 .6 10.5-1.3 8.3z" fill="#ec7f68" stroke="#ec7f68" fill-opacity=".3"/><path d="M290.2 156l.9-5.4 1.1-8.7-.9 6z" fill="#f49a80" stroke="#f49a80"/><path d="M187.8 285l1.3-4.7 5.2 1.4-1.3 5.7z" fill="#657bef" stroke="#657bef"/><path d="M157.7 289.6l2.9-1.4 6.6 5.9-2.8 2z" fill="#5a69e0" stroke="#5a69e0"/><path d="M290.2 221.8l1.5-8.9 1.3 11.2-1.4 8.2z" fill="#cfdcf0" stroke="#cfdcf0" fill-opacity=".3"/><path d="M153 287.1l4.7 2.5 6.7 6.4-4.8-3.3z" fill="#5b6ae1" stroke="#5b6ae1"/><path d="M247.8 229.5l1.5-4.7 1.9-6.5-1.5 4.7z" fill="#d0dcf1" stroke="#d0dcf1" fill-opacity=".8"/><path d="M284.5 241.7l2.4-2 1.8 10.9-2.4 1.4z" fill="#aac8ff" stroke="#aac8ff" fill-opacity=".3"/><path d="M304.1 297.8l2.4-1 5.2 6.6-2.3 1z" fill="#5a69e0" stroke="#5a69e0"/><path d="M323.9 90.6l1.9-1.4 .3-1.5-2 2.9z" fill="#b70d29" stroke="#b70d29" fill-opacity=".3"/><path d="M185 286.6l2.8-1.7 5.2 2.5-2.8 1.9z" fill="#6175ea" stroke="#6175ea"/><path d="M315.5 120.1l2.2-2.1 .5 7.4-2.2 4.6z" fill="#e26956" stroke="#e26956" fill-opacity=".3"/><path d="M288.7 222.8l1.6-1.1 1.4 10.5-1.6 1.4z" fill="#cadaf7" stroke="#cadaf7" fill-opacity=".3"/><path d="M310.6 133.5l2.3 .5 .5 9.5-2.2-2.1z" fill="#ee846c" stroke="#ee846c" fill-opacity=".3"/><path d="M285 270.4l2.2 .5 2.7 8.8-2.2-.1z" fill="#7895ff" stroke="#7895ff" fill-opacity=".3"/><path d="M318.4 96.8l3-.2 .7-4.5-3.1 3.3z" fill="#c12b31" stroke="#c12b31"/><path d="M147.6 289.3l1.6-2.1 6.7 6.1-1.7 2.1z" fill="#5b6ae1" stroke="#5b6ae1"/><path d="M286.9 239.7l2.7-4.3 1.7 10.7-2.6 4.4z" fill="#b0ccff" stroke="#b0ccff" fill-opacity=".3"/><path d="M207.4 275.7l.8 .8 3.5-.7-.8-2z" fill="#728dfb" stroke="#728dfb" fill-opacity=".7"/><path d="M300.7 172l.9-5.6 .9 11.3-1 5.6z" fill="#f7bca5" stroke="#f7bca5" fill-opacity=".3"/><path d="M290.7 287.4l2.2-.3 4 7.8-2.2 .6z" fill="#647aee" stroke="#647aee"/><path d="M245 237.4l.7-2.5 1.9-6.1-.7 2.2z" fill="#c3d7fd" stroke="#c3d7fd" fill-opacity=".8"/><path d="M297 294.8l1.3-2.4 4.2 6.6-1.3 2.3z" fill="#5d6fe5" stroke="#5d6fe5"/><path d="M274.2 188.4l1.4-7.7 1.3-8.8-1.4 9z" fill="#f5c2ae" stroke="#f5c2ae"/><path d="M272.6 191.1l1.6-2.7 1.3-7.5-1.6 1.5z" fill="#f3c7b4" stroke="#f3c7b4"/><path d="M307.6 144.9l1.7-5.2 .6 8.4-1.7 7.7z" fill="#f29279" stroke="#f29279" fill-opacity=".3"/><path d="M239.3 239.9l1.3 1.8 2.4-6-1.3-1.6z" fill="#bad3ff" stroke="#bad3ff" fill-opacity=".8"/><path d="M282.8 169.4l1.2 .7 1.2-8.2-1.2-1z" fill="#f7b199" stroke="#f7b199"/><path d="M320.7 98.5l3.1-3.8 .4 7.7-3.1 3.4z" fill="#c73636" stroke="#c73636" fill-opacity=".3"/><path d="M328.8 296.1l1.2-1.9 18.1 19.2-1.2 2.3z" fill="#5764dc" stroke="#5764dc"/><path d="M302.2 127.7l1.9 3.2 1-10.2-1.9-.9z" fill="#e46e5a" stroke="#e46e5a"/><path d="M196.6 276.7l2.7 2.1 3.9-.1-2.7-2.5z" fill="#6f88f8" stroke="#6f88f8" fill-opacity=".6"/><path d="M298.4 183.1l1.5-1.4 1 9.9-1.5 1z" fill="#f2cab8" stroke="#f2cab8" fill-opacity=".3"/><path d="M172 287.1l2.2-.8 5.4 3.6-2.2 .3z" fill="#5f72e8" stroke="#5f72e8"/><path d="M226 260.6l2 .9 2.5-3.9-2-1.4z" fill="#8fafff" stroke="#8fafff" fill-opacity=".8"/><path d="M308.7 114.1l1.8 5.2 .9-6.9-1.8-5.2z" fill="#d85649" stroke="#d85649"/><path d="M286 282.6l1.7-3 3.1 7.8-1.8 2.7z" fill="#6d85f6" stroke="#6d85f6" fill-opacity=".4"/><path d="M140 297.8l-3.4-7.8 2.2 1.6 3.4 8.1z" fill="#5764dc" stroke="#5764dc"/><path d="M322 92.1l1-.9 .5-.8-1-.6z" fill="#ba162b" stroke="#ba162b"/><path d="M255.5 217.2l1.4 0 1.6-6.3-1.4-1.6z" fill="#e0dbd8" stroke="#e0dbd8" fill-opacity=".8"/><path d="M296.6 189.2l1.8-6.1 1 9.5-1.8 6.3z" fill="#f1ccbb" stroke="#f1ccbb" fill-opacity=".3"/><path d="M315.3 105l2.2 1.4 .9-8.6-2.3 3.4z" fill="#cb3e3a" stroke="#cb3e3a"/><path d="M314.4 302.1l.5-2.8 5.3 6.1-.5 2.9z" fill="#5865dd" stroke="#5865dd"/><path d="M283 263l2.2-.1 2 8-2.2-.5z" fill="#88a8ff" stroke="#88a8ff" fill-opacity=".3"/><path d="M323.4 89.3l.9 3.9 .4 4.2-1-2.7z" fill="#bd1f2e" stroke="#bd1f2e" fill-opacity=".3"/><path d="M319 106.4l2.2 .6 .4 8.9-2.2-.6z" fill="#d44e44" stroke="#d44e44" fill-opacity=".3"/><path d="M302.4 299l1.7-1.2 5.2 6.6-1.6 1.5z" fill="#5a69e0" stroke="#5a69e0"/><path d="M283.3 253.7l1.3-2.6 1.9 9.2-1.3 2.5z" fill="#99baff" stroke="#99baff" fill-opacity=".3"/><path d="M283.2 274l1.8-3.6 2.7 9.3-1.8 2.9z" fill="#7895ff" stroke="#7895ff" fill-opacity=".3"/><path d="M183.3 286.9l1.7-.3 5.3 2.7-1.8-.5z" fill="#6277eb" stroke="#6277eb"/><path d="M145.2 290.6l2.3-1.3 6.7 6.1-2.4 1.3z" fill="#5b6ae1" stroke="#5b6ae1"/><path d="M289 290.1l1.7-2.7 4.1 8.1-1.8 2.4z" fill="#6378ec" stroke="#6378ec"/><path d="M288.5 153l1.6 3 1.1-8.2-1.6-1.3z" fill="#f59d83" stroke="#f59d83"/><path d="M320.7 100l-0-1.5 .4 7.3 0 1.2z" fill="#c83838" stroke="#c83838" fill-opacity=".3"/><path d="M305.7 142.5l1.8 2.4 .7 10.9-1.9-3.6z" fill="#f3947a" stroke="#f3947a" fill-opacity=".3"/><path d="M282.8 239.6l1.7 2 1.7 10.3-1.6-.8z" fill="#b0ccff" stroke="#b0ccff" fill-opacity=".3"/><path d="M304.3 155.2l1.4-12.7 .7 9.8-1.5 12.5z" fill="#f59c82" stroke="#f59c82" fill-opacity=".3"/><path d="M262.5 206.8l1.3-1.6 1.4-7.4-1.3 1.7z" fill="#edd2c5" stroke="#edd2c5" fill-opacity=".6"/><path d="M322.5 89.9l1 .6 .3 .1-1-1.1z" fill="#b8122a" stroke="#b8122a"/><path d="M319 95.4l3.1-3.3 .5-2.3-3.1 4.1z" fill="#bb1b2c" stroke="#bb1b2c"/><path d="M294.8 295.5l2.2-.7 4.2 6.6-2.2 .8z" fill="#5f70e6" stroke="#5f70e6"/><path d="M300.5 133.5l1.7-5.8 .9-7.8-1.6 3.9z" fill="#e36c59" stroke="#e36c59"/><path d="M299.1 171.1l1.6 .8 .9 11.3-1.7-1.5z" fill="#f6bea8" stroke="#f6bea8" fill-opacity=".3"/><path d="M170.9 291.3l1-4.2 5.4 3.1-1 5.2z" fill="#5e70e6" stroke="#5e70e6"/><path d="M196.3 283.9l.3-7.2 3.9-.5-.3 7.9z" fill="#6c85f6" stroke="#6c85f6" fill-opacity=".6"/><path d="M318.4 97.9l-0-1.1 .6-1.3 0-.8z" fill="#c02830" stroke="#c02830"/><path d="M327.1 297.2l1.7-1.1 18.1 19.6-1.7 1.8z" fill="#5866dd" stroke="#5866dd"/><path d="M313.7 115.6l1.8 4.5 .5 9.9-1.8-5.3z" fill="#e06553" stroke="#e06553" fill-opacity=".3"/><path d="M216.7 268.4l.9 .4 2.5-2.8-.8-.3z" fill="#82a1ff" stroke="#82a1ff" fill-opacity=".8"/><path d="M301 155.9l2.1 4.3 .7 10.9-2.1-4.8z" fill="#f7a88e" stroke="#f7a88e" fill-opacity=".3"/><path d="M322.9 89.4l1 1.1 .2 0-1-1.5z" fill="#b70d29" stroke="#b70d29" fill-opacity=".3"/><path d="M302.4 149.9l1.9 5.3 .6 9.6-1.9-4.7z" fill="#f59f85" stroke="#f59f85" fill-opacity=".3"/><path d="M323.1 89l1 1.6 .3 2.6-1-3.9z" fill="#b8122a" stroke="#b8122a" fill-opacity=".3"/><path d="M235.6 248.7l1.4-6 2.3-6-1.4 6.3z" fill="#b5cfff" stroke="#b5cfff" fill-opacity=".8"/><path d="M237 242.7l2.4-2.8 2.3-5.8-2.3 2.6z" fill="#bed5ff" stroke="#bed5ff" fill-opacity=".8"/><path d="M288.1 225l.5-2.1 1.4 10.8-.5 1.7z" fill="#ccdbf5" stroke="#ccdbf5" fill-opacity=".3"/><path d="M313.6 107.5l1.7-2.5 .8-3.8-1.7 1z" fill="#cb3e3a" stroke="#cb3e3a"/><path d="M281.2 265.9l1.8-2.9 1.9 7.4-1.7 3.6z" fill="#88a8ff" stroke="#88a8ff" fill-opacity=".3"/><path d="M307.4 121.1l1.3-7.1 .9-6.9-1.3 8.7z" fill="#d85649" stroke="#d85649"/><path d="M284.6 283.1l1.4-.5 3 7.6-1.4 .7z" fill="#6c85f6" stroke="#6c85f6" fill-opacity=".4"/><path d="M272 192.8l.6-1.7 1.2-8.7-.5 .9z" fill="#f4c6b2" stroke="#f4c6b2"/><path d="M292.2 141.9l2.1 4.7 1-7.8-2.1-4.4z" fill="#ee866e" stroke="#ee866e"/><path d="M142.6 290.7l2.6-0 6.7 6.1-2.7-.6z" fill="#5c6ce2" stroke="#5c6ce2"/><path d="M311.7 303.3l2.6-1.3 5.3 6.2-2.6 1.1z" fill="#5865dd" stroke="#5865dd"/><path d="M317.3 108.6l1.7-2.2 .4 8.9-1.7 2.6z" fill="#d44e44" stroke="#d44e44" fill-opacity=".3"/><path d="M308.7 129.1l1.9 4.4 .6 7.9-1.9-1.8z" fill="#ea7b65" stroke="#ea7b65" fill-opacity=".3"/><path d="M295.4 185.6l1.2 3.6 1 9.7-1.2-2.4z" fill="#f1ccbb" stroke="#f1ccbb" fill-opacity=".3"/><path d="M311.4 112.4l2.3-4.9 .8-5.3-2.3 4z" fill="#cd423d" stroke="#cd423d"/><path d="M320.3 93.4l3.1-4.1 .3 5.4-3.1 3.7z" fill="#bb1b2c" stroke="#bb1b2c" fill-opacity=".3"/><path d="M254.1 221l1.4-3.8 1.7-7.9-1.5 4.1z" fill="#e1dad7" stroke="#e1dad7" fill-opacity=".8"/><path d="M267 199.1l2.4-1.6 1.3-8.1-2.4 2.2z" fill="#f2cab8" stroke="#f2cab8" fill-opacity=".5"/><path d="M294.6 193.4l1.7 3.1 1.2 10.4-1.8-2.4z" fill="#edd2c5" stroke="#edd2c5" fill-opacity=".3"/><path d="M243 235.7l2 1.7 1.9-6.4-2-1.4z" fill="#c8d9f9" stroke="#c8d9f9" fill-opacity=".8"/><path d="M281.8 274l1.4-0 2.7 8.6-1.4 .5z" fill="#7895ff" stroke="#7895ff" fill-opacity=".3"/><path d="M301.2 301.4l1.3-2.4 5.2 6.9-1.2 2.3z" fill="#5b6ae1" stroke="#5b6ae1"/><path d="M290.5 202.8l1.6-.8 1.1 11.4-1.5-.6z" fill="#e6d7d0" stroke="#e6d7d0" fill-opacity=".3"/><path d="M281.1 253.2l2.2 .5 1.9 9.2-2.2 .1z" fill="#9bbcff" stroke="#9bbcff" fill-opacity=".3"/><path d="M181.3 289.1l2-2.3 5.2 1.9-2 2.7z" fill="#6378ec" stroke="#6378ec"/><path d="M293 298l1.7-2.5 4.3 6.7-1.8 2.3z" fill="#5f70e6" stroke="#5f70e6"/><path d="M283.1 230.5l2.4-1 1.4 10.2-2.4 2z" fill="#c7d9fa" stroke="#c7d9fa" fill-opacity=".3"/><path d="M287.6 290.8l1.4-.7 4 7.8-1.4 1.1z" fill="#647aed" stroke="#647aed"/><path d="M223.8 259.4l2.1 1.2 2.5-4.5-2.1-1.2z" fill="#97b7ff" stroke="#97b7ff" fill-opacity=".8"/><path d="M319.4 94l3.1-4.1 .3-.5-3 .9z" fill="#b70d29" stroke="#b70d29"/><path d="M324.6 299.1l2.5-1.9 18.1 20.2-2.5 1.1z" fill="#5866dd" stroke="#5866dd"/><path d="M292.1 202l2.5-8.6 1.2 11.1-2.5 8.9z" fill="#ead4c9" stroke="#ead4c9" fill-opacity=".3"/><path d="M285.5 229.4l2.7-4.5 1.4 10.5-2.7 4.3z" fill="#cadaf7" stroke="#cadaf7" fill-opacity=".3"/><path d="M298.6 131.2l1.8 2.3 1-9.7-1.8-1.4z" fill="#e46e5b" stroke="#e46e5b"/><path d="M305.1 120.8l2.3 .3 .9-5.3-2.3-4.7z" fill="#d9584b" stroke="#d9584b"/><path d="M269.4 197.6l2.6-4.8 1.3-9.5-2.6 6.1z" fill="#f3c7b4" stroke="#f3c7b4" fill-opacity=".5"/><path d="M315 111.9l2.2-3.3 .5 9.3-2.2 2.1z" fill="#d55045" stroke="#d55045" fill-opacity=".3"/><path d="M168.7 291.2l2.2 .1 5.5 4.1-2.3-.8z" fill="#5e70e6" stroke="#5e70e6"/><path d="M309.4 304.4l2.4-1 5.3 6-2.4 1z" fill="#5865dd" stroke="#5865dd"/><path d="M260.3 207.2l2.2-.4 1.5-7.3-2.3 1.1z" fill="#eed0c2" stroke="#eed0c2" fill-opacity=".6"/><path d="M281 168l1.8 1.4 1.1-8.5-1.7-1.6z" fill="#f7a990" stroke="#f7a990"/><path d="M289.1 210.3l1.4-7.4 1.2 10-1.4 8.9z" fill="#e2dad6" stroke="#e2dad6" fill-opacity=".3"/><path d="M319 94.7l-.1 .8 .5-1.5 .1-.4z" fill="#bb1b2c" stroke="#bb1b2c"/><path d="M204.9 274.8l2.4 .9 3.6-1.9-2.5-1.4z" fill="#7997ff" stroke="#7997ff" fill-opacity=".8"/><path d="M287.5 212.7l1.6-2.5 1.1 11.5-1.5 1.1z" fill="#dddcdc" stroke="#dddcdc" fill-opacity=".3"/><path d="M312.4 123.1l1.3-7.5 .5 9.1-1.3 9.3z" fill="#e16755" stroke="#e16755" fill-opacity=".3"/><path d="M211.7 275.9l3.3-3.6 2.5-3-3.2 4.1z" fill="#7d9bff" stroke="#7d9bff" fill-opacity=".8"/><path d="M287 156.5l1.6-3.4 1-6.5-1.5 2.6z" fill="#f49a80" stroke="#f49a80"/><path d="M233.4 245.9l2.2 2.8 2.3-5.6-2.2-3z" fill="#b5cfff" stroke="#b5cfff" fill-opacity=".8"/><path d="M320 92.3l3.1-3.3 .3 .3-3.1 4.2z" fill="#b70d29" stroke="#b70d29" fill-opacity=".3"/><path d="M320.3 96.1l-0-2.7 .3 5 .1 1.6z" fill="#be242f" stroke="#be242f" fill-opacity=".3"/><path d="M310.1 123.4l2.3-.3 .5 10.9-2.3-.5z" fill="#e36c59" stroke="#e36c59" fill-opacity=".3"/><path d="M319.8 90.2l3-.8 .3-.5-3.1 3.3z" fill="#b50928" stroke="#b50928" fill-opacity=".3"/><path d="M194.4 281.6l2 2.3 3.9 .3-2-3.4z" fill="#6e87f7" stroke="#6e87f7" fill-opacity=".6"/><path d="M222.1 265.2l1.8-5.8 2.5-4.5-1.8 6.3z" fill="#94b5ff" stroke="#94b5ff" fill-opacity=".8"/><path d="M318.5 101.8l2.2-1.8 .5 7-2.2-.6z" fill="#c83838" stroke="#c83838" fill-opacity=".3"/><path d="M281.5 242.1l1.3-2.5 1.8 11.5-1.3 2.6z" fill="#b5cfff" stroke="#b5cfff" fill-opacity=".3"/><path d="M307 136.7l1.7-7.6 .5 10.6-1.6 5.2z" fill="#ea7b65" stroke="#ea7b65" fill-opacity=".3"/><path d="M297.3 140.6l1.4-9.4 1-8.8-1.4 7.4z" fill="#e7745f" stroke="#e7745f"/><path d="M279.3 256.9l1.8-3.7 1.9 9.8-1.8 2.9z" fill="#9bbcff" stroke="#9bbcff" fill-opacity=".3"/><path d="M279.9 265.5l1.4 .3 2 8.1-1.4 0z" fill="#88a8ff" stroke="#88a8ff" fill-opacity=".3"/><path d="M278.5 173.8l2.5-5.9 1.2-8.7-2.5 5.5z" fill="#f7ac93" stroke="#f7ac93"/><path d="M316.1 101.2l2.2-3.3 .7-3.2-2.2 2.4z" fill="#c02830" stroke="#c02830"/><path d="M285.2 161.8l1.8-5.4 1.1-7.3-1.8 3.7z" fill="#f59c82" stroke="#f59c82"/><path d="M297.6 172.2l1.5-1 .9 10.5-1.6 1.4z" fill="#f7baa4" stroke="#f7baa4" fill-opacity=".3"/><path d="M214.9 272.2l1.8-3.8 2.5-2.7-1.7 3.6z" fill="#83a3ff" stroke="#83a3ff" fill-opacity=".8"/><path d="M251.2 218.3l2.8 2.6 1.6-7.6-2.8-2.2z" fill="#e2dad6" stroke="#e2dad6" fill-opacity=".8"/><path d="M323 300.8l1.5-1.8 18.2 19.4-1.6 2z" fill="#5764dc" stroke="#5764dc"/><path d="M300 161.5l1-5.7 .7 10.5-1 5.6z" fill="#f7a68d" stroke="#f7a68d" fill-opacity=".3"/><path d="M258.5 210.8l1.8-3.6 1.4-6.7-1.8 2.9z" fill="#edd1c4" stroke="#edd1c4" fill-opacity=".6"/><path d="M299 302.2l2.2-.8 5.3 6.8-2.2 1z" fill="#5b6ae1" stroke="#5b6ae1"/><path d="M283.2 285.8l1.4-2.7 3.1 7.8-1.5 2.6z" fill="#6d87f7" stroke="#6d87f7" fill-opacity=".4"/><path d="M220.1 266l1.9-.7 2.5-4-1.9 1.1z" fill="#8fafff" stroke="#8fafff" fill-opacity=".8"/><path d="M179.6 289.9l1.7-.8 5.2 2.3-1.7 .3z" fill="#6378ec" stroke="#6378ec"/><path d="M295.3 138.8l1.9 1.8 1-10.8-2-.2z" fill="#e97862" stroke="#e97862"/><path d="M265.3 197.8l1.7 1.3 1.3-7.5-1.7-1.8z" fill="#f4c6b2" stroke="#f4c6b2" fill-opacity=".5"/><path d="M203.2 278.8l1.7-4 3.6-2.4-1.8 4.8z" fill="#7895ff" stroke="#7895ff" fill-opacity=".8"/><path d="M307.7 305.9l1.7-1.5 5.2 6-1.6 1.7z" fill="#5865dd" stroke="#5865dd"/><path d="M291.7 299l1.4-1.1 4.2 6.5-1.4 1.5z" fill="#5e70e6" stroke="#5e70e6"/><path d="M309.6 107.1l1.8 5.3 .8-6.3-1.8-4.6z" fill="#cc403c" stroke="#cc403c"/><path d="M319.5 93.5l-.1 .4 .4-3.7 0 2.1z" fill="#b70d29" stroke="#b70d29"/><path d="M291.2 147.9l1-6 1-7.5-1 4.5z" fill="#ee846c" stroke="#ee846c"/><path d="M139.1 300.7l.9-2.9 2.2 1.9-.9 2.8z" fill="#5764dc" stroke="#5764dc"/><path d="M295.8 177.5l1.8-5.3 .8 10.9-1.8 6.1z" fill="#f7bca5" stroke="#f7bca5" fill-opacity=".3"/><path d="M276.9 171.9l1.6 1.9 1.2-9.1-1.6 .1z" fill="#f7af96" stroke="#f7af96"/><path d="M280.4 276.9l1.4-2.9 2.8 9.1-1.5 2.7z" fill="#7997ff" stroke="#7997ff" fill-opacity=".3"/><path d="M142.2 299.6l-3.5-8.1 6.7 6.7 3.5 8.3z" fill="#5967df" stroke="#5967df"/><path d="M286.2 293.5l1.4-2.7 4.1 8.2-1.5 2.6z" fill="#657bef" stroke="#657bef"/><path d="M281.4 229.4l1.7 1.1 1.4 11.2-1.7-2z" fill="#ccdbf5" stroke="#ccdbf5" fill-opacity=".3"/><path d="M320.1 91.6l-.1 .7 .4 1.2-0 2.7z" fill="#b70d29" stroke="#b70d29" fill-opacity=".3"/><path d="M167.2 294.1l1.5-2.8 5.4 3.4-1.5 3z" fill="#5f72e8" stroke="#5f72e8"/><path d="M247.6 228.8l2.1-5.8 1.6-7.3-2.1 6.1z" fill="#dbdde0" stroke="#dbdde0" fill-opacity=".8"/><path d="M314.5 102.2l1.7-1 .6-4.1-1.6-0z" fill="#c12b31" stroke="#c12b31"/><path d="M313.2 109.9l1.9 2 .4 8.1-1.8-4.4z" fill="#d44e44" stroke="#d44e44" fill-opacity=".3"/><path d="M230.5 257.6l2.3-4.3 2.3-6.2-2.3 4.2z" fill="#a8c6ff" stroke="#a8c6ff" fill-opacity=".8"/><path d="M210.9 273.8l.8 2 2.6-2.5-.8-2.1z" fill="#7e9cff" stroke="#7e9cff" fill-opacity=".8"/><path d="M305.2 133.5l1.8 3.2 .6 8.2-1.8-2.4z" fill="#eb7d66" stroke="#eb7d66" fill-opacity=".3"/><path d="M303.1 119.9l2 .9 .9-9.7-2 2.6z" fill="#d75448" stroke="#d75448"/><path d="M155.8 293.3l3.8-.6 5.4 3.5-3.8 1z" fill="#5e70e6" stroke="#5e70e6"/><path d="M232.8 253.3l.7-7.4 2.3-5.8-.7 7z" fill="#b5cfff" stroke="#b5cfff" fill-opacity=".8"/><path d="M249.7 223l1.5-4.7 1.6-7.1-1.5 4.5z" fill="#e1dad7" stroke="#e1dad7" fill-opacity=".8"/><path d="M303.7 144.7l1.4-11.2 .6 9-1.4 12.7z" fill="#ee866e" stroke="#ee866e" fill-opacity=".3"/><path d="M275.5 180.9l1.4-9 1.2-7.1-1.5 8.6z" fill="#f7b199" stroke="#f7b199"/><path d="M190.3 289.3l2.8-1.9 3.9-.1-2.8 2.4z" fill="#6880f2" stroke="#6880f2" fill-opacity=".5"/><path d="M319.8 92.3l-0-2.1 .2 2.1 .1-.7z" fill="#b40426" stroke="#b40426" fill-opacity=".3"/><path d="M164.4 296l2.8-2 5.4 3.7-2.8 2.7z" fill="#5c6de4" stroke="#5c6de4"/><path d="M316.8 101.3l1.7 .5 .4 4.6-1.7 2.2z" fill="#c73636" stroke="#c73636" fill-opacity=".3"/><path d="M159.6 292.7l4.7 3.3 5.4 4.4-4.7-4.2z" fill="#5d6fe5" stroke="#5d6fe5"/><path d="M273.9 182.4l1.6-1.5 1.1-7.5-1.6 .9z" fill="#f7b79f" stroke="#f7b79f"/><path d="M297.2 304.5l1.7-2.3 5.3 7.1-1.7 2z" fill="#5b6ae1" stroke="#5b6ae1"/><path d="M193 287.4l1.3-5.8 3.9-.7-1.3 6.4z" fill="#6d87f7" stroke="#6d87f7" fill-opacity=".6"/><path d="M279.3 242.6l2.2-.4 1.8 11.6-2.2-.6z" fill="#b7d1ff" stroke="#b7d1ff" fill-opacity=".3"/><path d="M280.4 285l2.8 .8 3 7.7-2.8-.4z" fill="#6f88f8" stroke="#6f88f8" fill-opacity=".4"/><path d="M145.4 298.2l-2.8-7.6 6.6 5.5 2.9 8z" fill="#5c6ce2" stroke="#5c6ce2"/><path d="M287 214.5l.5-1.8 1.2 10.2-.5 2.1z" fill="#dedcdb" stroke="#dedcdb" fill-opacity=".3"/><path d="M283.9 160.9l1.2 .9 1.1-8.9-1.2-.7z" fill="#f59c82" stroke="#f59c82"/><path d="M321.7 303.3l1.4-2.5 18.1 19.6-1.4 2.2z" fill="#5764dc" stroke="#5764dc"/><path d="M316.8 97.1l2.2-2.4 .5-1.2-2.2 2.6z" fill="#bb1b2c" stroke="#bb1b2c"/><path d="M154.2 295.4l1.6-2.1 5.4 3.9-1.6 2.1z" fill="#5d6fe5" stroke="#5d6fe5"/><path d="M318.2 96.2l2.2-0 .4 3.8-2.3 1.8z" fill="#be242f" stroke="#be242f" fill-opacity=".3"/><path d="M277.9 256.3l1.4 .6 1.9 9-1.4-.3z" fill="#9dbdff" stroke="#9dbdff" fill-opacity=".3"/><path d="M298.4 160.2l1.6 1.3 .8 10.4-1.7-.8z" fill="#f7a990" stroke="#f7a990" fill-opacity=".3"/><path d="M246.9 231l.7-2.2 1.6-7-.7 1z" fill="#d8dde4" stroke="#d8dde4" fill-opacity=".8"/><path d="M300.3 147.2l2.1 2.6 .7 10.3-2.1-4.3z" fill="#f29279" stroke="#f29279" fill-opacity=".3"/><path d="M308.1 122.7l2 .7 .5 10.1-1.9-4.4z" fill="#e06553" stroke="#e06553" fill-opacity=".3"/><path d="M278.4 269l1.4-3.4 2 8.4-1.4 2.9z" fill="#8aaaff" stroke="#8aaaff" fill-opacity=".3"/><path d="M200.5 276.3l2.7 2.5 3.5-1.6-2.7-3.9z" fill="#7a98ff" stroke="#7a98ff" fill-opacity=".8"/><path d="M301.8 139.7l1.9 4.9 .6 10.5-1.9-5.2z" fill="#ef886f" stroke="#ef886f" fill-opacity=".3"/><path d="M283.4 293.2l2.8 .3 4 8.1-2.8-.1z" fill="#657bef" stroke="#657bef"/><path d="M312.2 106.1l2.3-4 .6-5.1-2.2 3.2z" fill="#c32e33" stroke="#c32e33"/><path d="M257.1 209.3l1.4 1.6 1.4-7.5-1.4-.2z" fill="#eed0c2" stroke="#eed0c2" fill-opacity=".6"/><path d="M277.6 275.7l2.8 1.2 2.7 8.9-2.8-.8z" fill="#7a98ff" stroke="#7a98ff" fill-opacity=".3"/><path d="M241.7 234.1l1.3 1.5 1.9-6.1-1.3-2.9z" fill="#d1dcee" stroke="#d1dcee" fill-opacity=".8"/><path d="M306.4 308.2l1.3-2.3 5.2 6.2-1.2 2.3z" fill="#5967df" stroke="#5967df"/><path d="M293.6 186l1.8-.4 .9 10.9-1.7-3.1z" fill="#f5c4af" stroke="#f5c4af" fill-opacity=".3"/><path d="M228.5 256.1l2 1.5 2.3-6.4-2-1.1z" fill="#a8c6ff" stroke="#a8c6ff" fill-opacity=".8"/><path d="M301.5 123.8l1.6-3.9 .9-6.2-1.6 3.2z" fill="#d75448" stroke="#d75448"/><path d="M290.2 301.6l1.4-2.5 4.2 6.8-1.4 2.5z" fill="#5e70e6" stroke="#5e70e6"/><path d="M281.9 220.4l2.4-1.4 1.2 10.4-2.4 1.1z" fill="#dbdde0" stroke="#dbdde0" fill-opacity=".3"/><path d="M177.4 290.2l2.2-.3 5.2 1.8-2.2 0z" fill="#667df0" stroke="#667df0"/><path d="M308.3 115.8l1.3-8.7 .8-5.5-1.2 5.2z" fill="#cc403c" stroke="#cc403c"/><path d="M314.6 103.8l2.2-2.5 .5 7.3-2.3 3.3z" fill="#c83838" stroke="#c83838" fill-opacity=".3"/><path d="M136.9 302.1l2.2-1.5 2.2 1.8-2.2 1.2z" fill="#5764dc" stroke="#5764dc"/><path d="M294.5 176.1l1.2 1.4 .9 11.7-1.2-3.6z" fill="#f7bca5" stroke="#f7bca5" fill-opacity=".3"/><path d="M284.3 219l2.7-4.5 1.1 10.4-2.6 4.5z" fill="#dddcdc" stroke="#dddcdc" fill-opacity=".3"/><path d="M289.6 146.6l1.6 1.3 1.1-9-1.7-1.6z" fill="#ee866e" stroke="#ee866e"/><path d="M291.1 191.4l2.5-5.4 1 7.5-2.5 8.5z" fill="#f3c7b4" stroke="#f3c7b4" fill-opacity=".3"/><path d="M289.5 191.5l1.6-.2 1 10.6-1.6 .9z" fill="#f2cbba" stroke="#f2cbba" fill-opacity=".3"/><path d="M277.5 245.9l1.8-3.3 1.7 10.6-1.7 3.7z" fill="#b7d1ff" stroke="#b7d1ff" fill-opacity=".3"/><path d="M278.9 288.6l1.5-3.6 3 8.2-1.5 3.4z" fill="#6d87f7" stroke="#6d87f7" fill-opacity=".4"/><path d="M264 199.5l1.3-1.7 1.3-8-1.3 4.2z" fill="#f5c4af" stroke="#f5c4af" fill-opacity=".5"/><path d="M188.5 288.8l1.8 .6 3.9 .4-1.8-1.3z" fill="#6981f3" stroke="#6981f3" fill-opacity=".5"/><path d="M317.3 96.2l2.2-2.6 .4-1.3-2.2 1.5z" fill="#b70d29" stroke="#b70d29"/><path d="M311.9 113.1l1.2-3.2 .5 5.7-1.2 7.5z" fill="#d44e44" stroke="#d44e44" fill-opacity=".3"/><path d="M151.9 296.7l2.3-1.3 5.4 3.9-2.3 1.4z" fill="#5d6fe5" stroke="#5d6fe5"/><path d="M315.1 97.1l1.7 .1 .4-1-1.6 .1z" fill="#bb1b2c" stroke="#bb1b2c"/><path d="M317.8 95.6l2.3-4 .2 4.5-2.2 .1z" fill="#b8122a" stroke="#b8122a" fill-opacity=".3"/><path d="M288.1 200.3l1.5-8.8 1 11.3-1.5 7.4z" fill="#f0cdbe" stroke="#f0cdbe" fill-opacity=".3"/><path d="M295.9 305.9l1.4-1.4 5.2 6.8-1.3 1.8z" fill="#5b6ae1" stroke="#5b6ae1"/><path d="M276.7 292.6l2.1-4 3.1 7.9-2.2 3.3z" fill="#6a82f4" stroke="#6a82f4" fill-opacity=".4"/><path d="M219.3 265.7l.9 .2 2.4-3.6-.8-1.2z" fill="#94b5ff" stroke="#94b5ff" fill-opacity=".8"/><path d="M281.9 296.5l1.5-3.4 4 8.3-1.5 3.1z" fill="#657bef" stroke="#657bef"/><path d="M286.5 202l1.6-1.7 1 10-1.6 2.4z" fill="#edd2c5" stroke="#edd2c5" fill-opacity=".3"/><path d="M306.5 127.3l1.7-4.6 .5 6.4-1.7 7.6z" fill="#e06553" stroke="#e06553" fill-opacity=".3"/><path d="M276.1 279.9l1.5-4.2 2.7 9.3-1.4 3.6z" fill="#7a98ff" stroke="#7a98ff" fill-opacity=".3"/><path d="M293.2 134.4l2.1 4.4 1-9.2-2.2-1.9z" fill="#e46e5a" stroke="#e46e5a"/><path d="M280.1 231.4l1.3-2.1 1.4 10.3-1.3 2.5z" fill="#d0dcf0" stroke="#d0dcf0" fill-opacity=".3"/><path d="M320.1 305.3l1.5-2 18.2 19.3-1.6 2z" fill="#5764dc" stroke="#5764dc"/><path d="M306 111.1l2.3 4.7 .8-9-2.3 1.5z" fill="#cd423d" stroke="#cd423d"/><path d="M316.5 97.8l1.7-1.6 .3 5.6-1.6-.4z" fill="#be242f" stroke="#be242f" fill-opacity=".3"/><path d="M200.3 284.2l.3-7.9 3.5-3-.3 9.5z" fill="#7895ff" stroke="#7895ff" fill-opacity=".8"/><path d="M274 284.1l2.1-4.2 2.8 8.6-2.1 4.1z" fill="#7591fd" stroke="#7591fd" fill-opacity=".4"/><path d="M275.6 266.9l2.8 2.1 2 7.9-2.8-1.2z" fill="#8cadff" stroke="#8cadff" fill-opacity=".3"/><path d="M317.6 93.8l2.2-1.5 .3-.7-2.3 4z" fill="#b50928" stroke="#b50928" fill-opacity=".3"/><path d="M287.4 301.5l2.8 .1 4.2 6.7-2.8 .2z" fill="#5f72e8" stroke="#5f72e8"/><path d="M176.4 295.4l1-5.2 5.2 1.6-1 6z" fill="#6479ed" stroke="#6479ed"/><path d="M304.2 309.2l2.2-1 5.3 6.2-2.2 1.1z" fill="#5967df" stroke="#5967df"/><path d="M309.6 113.8l2.3-.7 .5 10-2.3 .3z" fill="#d55045" stroke="#d55045" fill-opacity=".3"/><path d="M312.7 104.1l1.9-.2 .4 8.1-1.8-2z" fill="#ca3b39" stroke="#ca3b39" fill-opacity=".3"/><path d="M310.4 101.5l1.8 4.6 .7-5.9-1.9-1.7z" fill="#c32e33" stroke="#c32e33"/><path d="M279.8 299.8l2.1-3.2 4.1 8-2.2 2.7z" fill="#6276eb" stroke="#6276eb"/><path d="M276.5 259.1l1.4-2.9 2 9.3-1.5 3.5z" fill="#a0c0ff" stroke="#a0c0ff" fill-opacity=".3"/><path d="M273.3 183.3l.6-.9 1.1-8.1-.6 1.9z" fill="#f7b49c" stroke="#f7b49c"/><path d="M315.6 96.3l1.7-.1 .3-2.3-1.7 2.4z" fill="#b8122a" stroke="#b8122a"/><path d="M268.2 191.6l2.4-2.2 1.2-8.2-2.5 2.6z" fill="#f7b9a2" stroke="#f7b9a2"/><path d="M296.8 162.8l1.5-2.5 .8 10.9-1.5 1z" fill="#f7a68d" stroke="#f7a68d" fill-opacity=".3"/><path d="M299.3 150.7l.9-3.4 .7 8.6-.9 5.7z" fill="#f29077" stroke="#f29077" fill-opacity=".3"/><path d="M299.6 122.4l1.9 1.4 .8-6.9-1.8-2.5z" fill="#d85649" stroke="#d85649"/><path d="M237.9 243.1l1.4-6.3 1.9-6.9-1.4 5.9z" fill="#cedbf3" stroke="#cedbf3" fill-opacity=".8"/><path d="M316.2 97l1.7-1.4 .3 .6-1.7 1.6z" fill="#ba162b" stroke="#ba162b" fill-opacity=".3"/><path d="M312.9 100.2l2.2-3.1 .5-.8-2.2 3.4z" fill="#bb1b2c" stroke="#bb1b2c"/><path d="M255.7 213.3l1.4-4 1.5-6.1-1.5 3z" fill="#efcebf" stroke="#efcebf" fill-opacity=".6"/><path d="M239.3 236.8l2.4-2.6 1.9-7.5-2.4 3.2z" fill="#d4dcea" stroke="#d4dcea" fill-opacity=".8"/><path d="M261.7 200.6l2.2-1.1 1.3-5.5-2.3-1.1z" fill="#f5c2ae" stroke="#f5c2ae" fill-opacity=".5"/><path d="M315.9 96.3l1.7-2.5 .2 1.8-1.7 1.4z" fill="#b8122a" stroke="#b8122a" fill-opacity=".3"/><path d="M280.2 219.1l1.7 1.3 1.2 10.1-1.7-1.1z" fill="#dfdbd9" stroke="#dfdbd9" fill-opacity=".3"/><path d="M276.1 295.2l.6-2.6 3.1 7.2-.7 2.6z" fill="#687ff2" stroke="#687ff2" fill-opacity=".4"/><path d="M149.2 296.2l2.6 .6 5.4 3.9-2.7-1.2z" fill="#5f72e8" stroke="#5f72e8"/><path d="M272 276.7l2.1-5 2.1 8.2-2.2 4.3z" fill="#83a3ff" stroke="#83a3ff" fill-opacity=".3"/><path d="M314.2 100.1l2.2-2.3 .4 3.5-2.2 2.5z" fill="#be242f" stroke="#be242f" fill-opacity=".3"/><path d="M244.9 229.6l2 1.4 1.6-8.2-2-.7z" fill="#dcdddd" stroke="#dcdddd" fill-opacity=".8"/><path d="M273.3 286.8l.6-2.7 2.8 8.5-.6 2.6z" fill="#738efb" stroke="#738efb" fill-opacity=".4"/><path d="M274.1 271.6l1.5-4.7 2 8.8-1.5 4.2z" fill="#8bacff" stroke="#8bacff" fill-opacity=".3"/><path d="M276.1 244.2l1.4 1.7 1.8 11-1.4-.6z" fill="#b9d2ff" stroke="#b9d2ff" fill-opacity=".3"/><path d="M288 149.2l1.6-2.6 1-9.3-1.6 2.8z" fill="#ee846c" stroke="#ee846c"/><path d="M186.5 291.4l2-2.6 3.9-.3-2 3z" fill="#6a82f4" stroke="#6a82f4" fill-opacity=".6"/><path d="M286 304.5l1.5-3.1 4.2 7-1.5 2.8z" fill="#5e70e6" stroke="#5e70e6"/><path d="M214.3 273.3l3.3-4.1 2.4-4.4-3.2 4.9z" fill="#8daeff" stroke="#8daeff" fill-opacity=".8"/><path d="M270.7 189.4l2.7-6.1 1.1-7.1-2.7 5z" fill="#f7b59d" stroke="#f7b59d"/><path d="M141.3 302.4l.9-2.8 6.7 6.9-.9 2.7z" fill="#5967df" stroke="#5967df"/><path d="M295 167.7l1.8-4.9 .8 9.4-1.8 5.3z" fill="#f7a990" stroke="#f7a990" fill-opacity=".3"/><path d="M208.5 272.4l2.4 1.4 2.6-2.6-2.4-1.5z" fill="#89a9ff" stroke="#89a9ff" fill-opacity=".8"/><path d="M282.2 159.3l1.8 1.6 1-8.6-1.7-1.9z" fill="#f3947a" stroke="#f3947a"/><path d="M304.6 123.3l1.8 4 .6 9.3-1.9-3.2z" fill="#e16755" stroke="#e16755" fill-opacity=".3"/><path d="M302.5 311.3l1.7-2.1 5.3 6.3-1.7 2z" fill="#5967df" stroke="#5967df"/><path d="M294.5 308.3l1.4-2.4 5.3 7.2-1.4 2.3z" fill="#5b6ae1" stroke="#5b6ae1"/><path d="M298.2 129.8l1.4-7.5 .9-7.9-1.4 9.2z" fill="#da5a4c" stroke="#da5a4c"/><path d="M226.3 254.9l2.1 1.2 2.4-6-2.2-1.9z" fill="#b1cdff" stroke="#b1cdff" fill-opacity=".8"/><path d="M277.9 231.2l2.2 .2 1.5 10.7-2.3 .5z" fill="#d1dcee" stroke="#d1dcee" fill-opacity=".3"/><path d="M313.3 99.7l2.2-3.4 .4 0-2.3 1.8z" fill="#b8122a" stroke="#b8122a"/><path d="M174.1 294.6l2.3 .7 5.2 2.4-2.3-1.5z" fill="#647aee" stroke="#647aee"/><path d="M313.9 98.7l2.2-1.7 .3 .8-2.2 2.3z" fill="#ba162b" stroke="#ba162b" fill-opacity=".3"/><path d="M304 113.7l2-2.6 .8-2.8-2-1.7z" fill="#cb3e3a" stroke="#cb3e3a"/><path d="M279.1 302.4l.6-2.6 4.1 7.4-.6 2.7z" fill="#6175ea" stroke="#6175ea"/><path d="M319.7 308.3l.5-2.9 18.1 19.2-.4 3.2z" fill="#5764dc" stroke="#5764dc"/><path d="M307.6 114.8l2-.9 .5 9.6-2-.8z" fill="#d44e44" stroke="#d44e44" fill-opacity=".3"/><path d="M313.7 98.1l2.2-1.8 .3 .7-2.3 1.7z" fill="#b8122a" stroke="#b8122a" fill-opacity=".3"/><path d="M286.3 152.9l1.8-3.7 1-9.1-1.8 4.2z" fill="#ee866e" stroke="#ee866e"/><path d="M217.5 269.3l1.8-3.5 2.4-4.6-1.7 3.7z" fill="#97b7ff" stroke="#97b7ff" fill-opacity=".8"/><path d="M286 203l.5-1 1 10.7-.5 1.8z" fill="#edd1c4" stroke="#edd1c4" fill-opacity=".3"/><path d="M292.3 138.9l.9-4.5 1-6.7-1 3.7z" fill="#e36c59" stroke="#e36c59"/><path d="M273.7 257.3l2.8 1.8 1.9 9.9-2.8-2.1z" fill="#a2c2ff" stroke="#a2c2ff" fill-opacity=".3"/><path d="M198.3 280.8l2 3.3 3.5-1.4-2-4.6z" fill="#7895ff" stroke="#7895ff" fill-opacity=".8"/><path d="M299.7 138.8l2.1 1 .6 10.1-2.1-2.6z" fill="#eb7d66" stroke="#eb7d66" fill-opacity=".3"/><path d="M311.5 107.8l1.3-3.8 .4 5.9-1.2 3.1z" fill="#c83838" stroke="#c83838" fill-opacity=".3"/><path d="M235.8 240.1l2.2 3 1.8-7.3-2.1-1.7z" fill="#cddbf4" stroke="#cddbf4" fill-opacity=".8"/><path d="M296.3 129.6l2 .2 .8-6.2-1.9-2.2z" fill="#dd5f4f" stroke="#dd5f4f"/><path d="M271.3 279l.6-2.3 2.1 7.5-.7 2.6z" fill="#809fff" stroke="#809fff" fill-opacity=".3"/><path d="M283.8 307.2l2.1-2.7 4.3 6.7-2.2 2.2z" fill="#5e6fe5" stroke="#5e6fe5"/><path d="M279.7 164.7l2.5-5.5 1.1-8.8-2.5 5.6z" fill="#f3957c" stroke="#f3957c"/><path d="M303.2 132.2l1.4-8.9 .5 10.2-1.4 11.2z" fill="#e36c59" stroke="#e36c59" fill-opacity=".3"/><path d="M292.8 175.4l1.8 .6 .8 9.6-1.7 .4z" fill="#f7b49c" stroke="#f7b49c" fill-opacity=".3"/><path d="M259.9 203.4l1.8-2.8 1.2-7.7-1.8 1.7z" fill="#f5c2ae" stroke="#f5c2ae"/><path d="M252.8 211.2l2.8 2.1 1.4-7.1-2.8-2.3z" fill="#efcec0" stroke="#efcec0" fill-opacity=".6"/><path d="M224.6 261.2l1.8-6.3 2.3-6.6-1.8 7z" fill="#afccff" stroke="#afccff" fill-opacity=".8"/><path d="M266.5 189.8l1.7 1.8 1.1-7.8-1.7-1.9z" fill="#f7b49c" stroke="#f7b49c"/><path d="M206.8 277.2l1.7-4.7 2.6-2.8-1.7 4.6z" fill="#88a8ff" stroke="#88a8ff" fill-opacity=".8"/><path d="M309.1 106.8l1.3-5.3 .6-3-1.2 2.9z" fill="#c02830" stroke="#c02830"/><path d="M278 164.8l1.6-.1 1.1-8.7-1.7 1.4z" fill="#f49a80" stroke="#f49a80"/><path d="M276.1 235.3l1.8-4.1 1.4 11.3-1.8 3.3z" fill="#d0dcef" stroke="#d0dcef" fill-opacity=".3"/><path d="M297.7 149.9l1.6 .7 .7 10.9-1.6-1.3z" fill="#f3947a" stroke="#f3947a" fill-opacity=".3"/><path d="M311 98.5l1.9 1.7 .4-.5-1.8-5.6z" fill="#ba162b" stroke="#ba162b"/><path d="M222.6 262.3l1.9-1.1 2.4-5.8-2 .7z" fill="#a7c5ff" stroke="#a7c5ff" fill-opacity=".8"/><path d="M280.9 210.9l2.4-3.3 1 11.4-2.4 1.4z" fill="#ebd3c8" stroke="#ebd3c8" fill-opacity=".3"/><path d="M291.7 308.5l2.8-.2 5.3 7.1-2.8 .4z" fill="#5c6ce3" stroke="#5c6ce3"/><path d="M312.4 96.8l1.8 3.3 .4 3.7-1.9 .2z" fill="#be242f" stroke="#be242f" fill-opacity=".3"/><path d="M293.8 167.8l1.2-.1 .8 9.8-1.2-1.4z" fill="#f7a990" stroke="#f7a990" fill-opacity=".3"/><path d="M290.3 180.4l2.5-5 .9 10.5-2.5 5.4z" fill="#f7b79f" stroke="#f7b79f" fill-opacity=".3"/><path d="M184.8 291.7l1.7-.3 3.9 0-1.7-.1z" fill="#6b84f5" stroke="#6b84f5" fill-opacity=".6"/><path d="M306 119.4l1.7-4.6 .4 7.9-1.6 4.6z" fill="#d55045" stroke="#d55045" fill-opacity=".3"/><path d="M213.5 271.2l.8 2.1 2.4-3.5-.7-2.9z" fill="#90b1ff" stroke="#90b1ff" fill-opacity=".8"/><path d="M270 267.8l2.1-5.7 2 9.5-2.2 5z" fill="#97b7ff" stroke="#97b7ff" fill-opacity=".3"/><path d="M301.3 130.7l1.9 1.5 .5 12.5-1.9-5z" fill="#e46e5a" stroke="#e46e5a" fill-opacity=".3"/><path d="M302.3 116.9l1.6-3.2 .9-7-1.7 3.9z" fill="#cb3e3a" stroke="#cb3e3a"/><path d="M276.6 173.3l1.4-8.5 1.1-7.4-1.5 7.3z" fill="#f59d83" stroke="#f59d83"/><path d="M283.3 207.5l2.7-4.5 1 11.5-2.7 4.5z" fill="#edd1c4" stroke="#edd1c4" fill-opacity=".3"/><path d="M249.2 221.8l2.1-6.1 1.4-6.8-2.1 5.2z" fill="#ebd3c8" stroke="#ebd3c8" fill-opacity=".7"/><path d="M288.7 182.8l1.6-2.4 .9 10.9-1.6 .2z" fill="#f7baa3" stroke="#f7baa3" fill-opacity=".3"/><path d="M301.1 313.1l1.4-1.8 5.2 6.2-1.3 2z" fill="#5967df" stroke="#5967df"/><path d="M272.2 262.1l1.5-4.8 1.9 9.6-1.5 4.7z" fill="#a1c1ff" stroke="#a1c1ff" fill-opacity=".3"/><path d="M139.1 303.6l2.2-1.2 6.7 6.8-2.2 1z" fill="#5967de" stroke="#5967de"/><path d="M278.9 222.1l1.3-3 1.2 10.3-1.3 2.1z" fill="#e2dad5" stroke="#e2dad5" fill-opacity=".3"/><path d="M274.1 294.7l2 .5 3 7.2-2 .1z" fill="#6a82f4" stroke="#6a82f4" fill-opacity=".4"/><path d="M306.8 108.3l2.3-1.5 .7-5.4-2.3 1.9z" fill="#c12b31" stroke="#c12b31"/><path d="M309.1 108l2.3-.2 .5 5.3-2.3 .7z" fill="#c83838" stroke="#c83838" fill-opacity=".3"/><path d="M274.7 248.6l1.4-4.4 1.8 12.1-1.4 2.8z" fill="#bcd4ff" stroke="#bcd4ff" fill-opacity=".3"/><path d="M317 309.3l2.6-1.1 18.2 19.5-2.7 .9z" fill="#5764dc" stroke="#5764dc"/><path d="M148.9 306.5l-3.5-8.3 6.6 5.9 3.6 8.7z" fill="#5b6ae1" stroke="#5b6ae1"/><path d="M251.3 215.7l1.5-4.5 1.4-7.3-1.5 5z" fill="#efcfc1" stroke="#efcfc1" fill-opacity=".6"/><path d="M275 174.2l1.6-.9 1-8.6-1.6 .6z" fill="#f6a288" stroke="#f6a288"/><path d="M311.5 94.1l1.8 5.6 .4-1.6-1.9-.9z" fill="#b8122a" stroke="#b8122a"/><path d="M194.2 289.8l2.8-2.4 3.5-2-2.8 3.1z" fill="#728dfb" stroke="#728dfb" fill-opacity=".7"/><path d="M172.6 297.7l1.5-3.1 5.2 1.6-1.5 3.5z" fill="#657bef" stroke="#657bef"/><path d="M271.3 286.1l2 .7 2.7 8.4-1.9-.5z" fill="#7591fd" stroke="#7591fd" fill-opacity=".4"/><path d="M232.8 251.3l2.3-4.2 1.9-6.4-2.3 5.2z" fill="#c3d7fd" stroke="#c3d7fd" fill-opacity=".8"/><path d="M311.8 97.3l1.9 .8 .2 .7-1.9-2.1z" fill="#b8122a" stroke="#b8122a" fill-opacity=".3"/><path d="M285 152.2l1.3 .6 .9-8.6-1.2-.7z" fill="#ee846c" stroke="#ee846c"/><path d="M287.2 187.8l1.4-4.9 .9 8.7-1.4 8.8z" fill="#f6bea8" stroke="#f6bea8" fill-opacity=".3"/><path d="M283.2 309.9l.6-2.7 4.3 6.2-.7 2.9z" fill="#5d6de4" stroke="#5d6de4"/><path d="M169.8 300.5l2.8-2.8 5.2 2-2.8 3.6z" fill="#6175ea" stroke="#6175ea"/><path d="M312.1 96.6l1.9 2.1 .3 1.4-1.9-3.3z" fill="#b8122a" stroke="#b8122a" fill-opacity=".3"/><path d="M269.4 269.8l.7-2 1.9 8.8-.7 2.3z" fill="#92b3ff" stroke="#92b3ff" fill-opacity=".3"/><path d="M290.2 311.2l1.5-2.7 5.2 7.3-1.4 2.5z" fill="#5b6ae1" stroke="#5b6ae1"/><path d="M235.1 247.1l.7-7 1.9-6-.7 6.5z" fill="#cddbf4" stroke="#cddbf4" fill-opacity=".8"/><path d="M285.6 192l1.6-4.2 .9 12.5-1.6 1.7z" fill="#f5c2ae" stroke="#f5c2ae" fill-opacity=".3"/><path d="M161.2 297.2l3.8-1 5.1 1.5-3.8 1.6z" fill="#6479ed" stroke="#6479ed"/><path d="M165 296.2l4.8 4.2 5.2 2.9-4.9-5.6z" fill="#6276eb" stroke="#6276eb"/><path d="M197 287.3l1.3-6.5 3.5-2.7-1.3 7.2z" fill="#7997ff" stroke="#7997ff" fill-opacity=".8"/><path d="M277.2 302.5l2-.1 4 7.5-1.9 .6z" fill="#6378ec" stroke="#6378ec"/><path d="M248.5 222.7l.7-1 1.4-7.7-.7 1.8z" fill="#ead5cb" stroke="#ead5cb" fill-opacity=".7"/><path d="M159.6 299.3l1.6-2.1 5.2 2.1-1.7 2.2z" fill="#6378ec" stroke="#6378ec"/><path d="M298.7 142.3l.9-3.5 .6 8.4-.9 3.5z" fill="#ea7b65" stroke="#ea7b65" fill-opacity=".3"/><path d="M290.6 137.3l1.6 1.6 1-7.5-1.7-1.5z" fill="#e46e5b" stroke="#e46e5b"/><path d="M204 273.3l2.7 3.9 2.6-2.9-2.7-4.2z" fill="#8bacff" stroke="#8bacff" fill-opacity=".8"/><path d="M258.5 203.2l1.4 .2 1.3-8.8-1.5 0z" fill="#f5c1ad" stroke="#f5c1ad"/><path d="M314.6 310.4l2.4-1.1 18.1 19.3-2.4 1.1z" fill="#5764dc" stroke="#5764dc"/><path d="M311.1 103.5l1.3-6.7 .3 7.2-1.2 3.8z" fill="#be242f" stroke="#be242f" fill-opacity=".3"/><path d="M279.2 209.9l1.7 1 1 9.5-1.7-1.3z" fill="#edd1c4" stroke="#edd1c4" fill-opacity=".3"/><path d="M152.1 304.1l-2.8-7.9 5.3 3.3 2.9 8.3z" fill="#6073e9" stroke="#6073e9"/><path d="M265.2 194l1.3-4.2 1.1-7.8-1.3 3.4z" fill="#f7b39a" stroke="#f7b39a"/><path d="M274.7 234.3l1.4 1 1.4 10.5-1.4-1.6z" fill="#d2dced" stroke="#d2dced" fill-opacity=".3"/><path d="M243.6 226.7l1.3 2.9 1.6-7.5-1.3-2.3z" fill="#e4d9d3" stroke="#e4d9d3" fill-opacity=".7"/><path d="M294.1 127.7l2.1 1.9 .9-8.2-2.1-.7z" fill="#d85649" stroke="#d85649"/><path d="M296.2 152.5l1.6-2.6 .6 10.3-1.5 2.5z" fill="#f29077" stroke="#f29077" fill-opacity=".3"/><path d="M269.3 278l2 .9 2 7.9-2-.7z" fill="#84a4ff" stroke="#84a4ff" fill-opacity=".3"/><path d="M304.8 106.6l2 1.6 .6-4.9-2 .8z" fill="#c12b31" stroke="#c12b31"/><path d="M300.5 114.4l1.9 2.5 .8-6.4-1.9-.7z" fill="#cc403c" stroke="#cc403c"/><path d="M230.8 250.1l2 1.1 1.9-5.4-2-2z" fill="#c3d7fd" stroke="#c3d7fd" fill-opacity=".8"/><path d="M271.9 246.4l2.8 2.2 1.8 10.5-2.8-1.8z" fill="#bed5ff" stroke="#bed5ff" fill-opacity=".3"/><path d="M299.7 315.4l1.4-2.3 5.3 6.4-1.4 2.3z" fill="#5967df" stroke="#5967df"/><path d="M309.8 101.4l1.2-2.9 .6-4.4-1.3 5.5z" fill="#b8122a" stroke="#b8122a"/><path d="M304.1 115.3l1.8 4.1 .5 7.9-1.8-3.9z" fill="#d55045" stroke="#d55045" fill-opacity=".3"/><path d="M288 313.4l2.1-2.2 5.3 7-2.1 1.9z" fill="#5a69e0" stroke="#5a69e0"/><path d="M307.2 106.9l2 1.2 .5 5.8-2 .9z" fill="#c73636" stroke="#c73636" fill-opacity=".3"/><path d="M192.4 288.5l1.8 1.3 3.5-1.3-1.8-2.2z" fill="#7490fc" stroke="#7490fc" fill-opacity=".8"/><path d="M276.7 220.5l2.2 1.6 1.2 9.3-2.2-.2z" fill="#e4d9d3" stroke="#e4d9d3" fill-opacity=".3"/><path d="M182.5 291.8l2.2-0 3.9-.5-2.2-.2z" fill="#6e88f8" stroke="#6e88f8" fill-opacity=".7"/><path d="M308.8 103.7l2.3-.2 .4 4.3-2.3 .2z" fill="#c02830" stroke="#c02830" fill-opacity=".3"/><path d="M310.5 102.3l1.3-5 .2-.6-1.2 4.2z" fill="#b8122a" stroke="#b8122a" fill-opacity=".3"/><path d="M294.4 156.5l1.8-3.9 .7 10.2-1.8 4.9z" fill="#f3947a" stroke="#f3947a" fill-opacity=".3"/><path d="M310.3 99.7l1.3-5.5 .3 3.1-1.3 5z" fill="#b70d29" stroke="#b70d29"/><path d="M157.2 300.7l2.4-1.4 5.1 2.2-2.4 1.4z" fill="#6378ec" stroke="#6378ec"/><path d="M313 312.1l1.7-1.7 18.1 19.3-1.7 1.9z" fill="#5764dc" stroke="#5764dc"/><path d="M310.8 100.8l1.3-4.2 .3 .2-1.3 6.7z" fill="#b8122a" stroke="#b8122a" fill-opacity=".3"/><path d="M203.8 282.8l.2-9.5 2.6-3.2-.2 9.6z" fill="#88a8ff" stroke="#88a8ff" fill-opacity=".8"/><path d="M268.2 256.1l2.2-5 1.8 11-2.2 5.7z" fill="#b3ceff" stroke="#b3ceff" fill-opacity=".3"/><path d="M299.1 123.6l1.4-9.2 .8-4.6-1.4 6.1z" fill="#cf453e" stroke="#cf453e"/><path d="M221.8 261.1l.9 1.2 2.3-6.2-.9-1.2z" fill="#aecbff" stroke="#aecbff" fill-opacity=".8"/><path d="M281.2 310.5l2-.6 4.2 6.4-2 .9z" fill="#5e6fe5" stroke="#5e6fe5"/><path d="M307.4 103.3l2.3-1.9 .5-1.7-2.3 .2z" fill="#b8122a" stroke="#b8122a"/><path d="M299.1 129.5l2.2 1.2 .5 9-2.2-1z" fill="#e06553" stroke="#e06553" fill-opacity=".3"/><path d="M274.5 176.2l.6-2 1-8.9-.6 3.1z" fill="#f5a086" stroke="#f5a086"/><path d="M292 165.3l1.8 2.5 .7 8.2-1.7-.6z" fill="#f5a086" stroke="#f5a086" fill-opacity=".3"/><path d="M285.1 194.1l.5-2.1 .9 10-.5 1z" fill="#f5c1ac" stroke="#f5c1ac" fill-opacity=".3"/><path d="M270.4 251.2l1.5-4.8 1.8 10.9-1.5 4.8z" fill="#bbd3ff" stroke="#bbd3ff" fill-opacity=".3"/><path d="M263 192.9l2.3 1 1.1-8.5-2.3-.1z" fill="#f7b199" stroke="#f7b199"/><path d="M269.4 183.8l2.4-2.6 1.1-9-2.5 4z" fill="#f6a58b" stroke="#f6a58b"/><path d="M272.9 294.1l1.2 .6 3.1 7.8-1.2 0z" fill="#708af9" stroke="#708af9" fill-opacity=".4"/><path d="M296.9 315.8l2.8-.4 5.3 6.3-2.8 .5z" fill="#5967de" stroke="#5967de"/><path d="M257.1 206.2l1.5-3 1.2-8.6-1.5 4.1z" fill="#f5c0ab" stroke="#f5c0ab"/><path d="M181.6 297.8l1-6 3.9-.7-1 6.9z" fill="#6c85f6" stroke="#6c85f6" fill-opacity=".6"/><path d="M305.5 109.9l1.6-3 .5 7.8-1.7 4.7z" fill="#c73636" stroke="#c73636" fill-opacity=".3"/><path d="M303.2 110.5l1.6-3.9 .7-2.5-1.7 2.2z" fill="#c02830" stroke="#c02830"/><path d="M289 140l1.6-2.8 .9-7.4-1.6 3.3z" fill="#e36c59" stroke="#e36c59"/><path d="M274.9 224.5l1.8-4 1.2 10.7-1.8 4.1z" fill="#e4d9d3" stroke="#e4d9d3" fill-opacity=".3"/><path d="M297.1 141.8l1.6 .5 .7 8.4-1.7-.7z" fill="#eb7d66" stroke="#eb7d66" fill-opacity=".3"/><path d="M307.9 99.9l2.3-.3 .3 2.6-2.3-.7z" fill="#b8122a" stroke="#b8122a"/><path d="M283.2 150.4l1.8 1.8 1-8.6-1.8 1.6z" fill="#eb7d66" stroke="#eb7d66"/><path d="M308.5 100.7l2.3 .1 .3 2.7-2.3 .2z" fill="#ba162b" stroke="#ba162b" fill-opacity=".3"/><path d="M297.1 121.4l1.9 2.1 .9-7.6-2-.2z" fill="#d04740" stroke="#d04740"/><path d="M275.9 302.5l1.2-0 4.1 8-1.2 .7z" fill="#667df0" stroke="#667df0"/><path d="M302.7 121.7l1.4-6.4 .5 8-1.4 8.9z" fill="#d55045" stroke="#d55045" fill-opacity=".3"/><path d="M308.2 101.6l2.3 .7 .3-1.5-2.4-0z" fill="#b8122a" stroke="#b8122a" fill-opacity=".3"/><path d="M267.4 268.5l2 1.4 1.9 9.1-2-.9z" fill="#98b8ff" stroke="#98b8ff" fill-opacity=".3"/><path d="M267.6 258.6l.7-2.5 1.8 11.7-.7 2z" fill="#adcaff" stroke="#adcaff" fill-opacity=".3"/><path d="M287.4 316.3l.6-2.9 5.3 6.7-.6 3z" fill="#5a69e0" stroke="#5a69e0"/><path d="M293.2 131.4l.9-3.7 .9-7-.9 3z" fill="#d85649" stroke="#d85649"/><path d="M271.8 181.2l2.7-5 1-7.8-2.7 3.8z" fill="#f6a288" stroke="#f6a288"/><path d="M280 200.9l2.4-3.8 .9 10.5-2.4 3.3z" fill="#f4c5b1" stroke="#f4c5b1" fill-opacity=".3"/><path d="M270.1 284.4l1.2 1.7 2.8 8.6-1.2-.6z" fill="#7d9bff" stroke="#7d9bff" fill-opacity=".3"/><path d="M239.8 235.8l1.4-6 1.6-7.1-1.4 6.3z" fill="#e0dbd8" stroke="#e0dbd8" fill-opacity=".8"/><path d="M273.2 237.7l1.4-3.4 1.5 9.9-1.4 4.4z" fill="#d4dcea" stroke="#d4dcea" fill-opacity=".3"/><path d="M241.2 229.8l2.4-3.2 1.6-6.9-2.4 3z" fill="#e6d7d0" stroke="#e6d7d0" fill-opacity=".7"/><path d="M293.1 156.7l1.2-.2 .7 11.2-1.2 .2z" fill="#f3947a" stroke="#f3947a" fill-opacity=".3"/><path d="M289.5 170.9l2.5-5.6 .8 10.1-2.5 5.1z" fill="#f6a389" stroke="#f6a389" fill-opacity=".3"/><path d="M277.9 210.8l1.3-.9 1 9.2-1.3 3z" fill="#efcec0" stroke="#efcec0" fill-opacity=".3"/><path d="M211.1 269.7l2.4 1.5 2.5-4.3-2.5-2.5z" fill="#9dbdff" stroke="#9dbdff" fill-opacity=".8"/><path d="M246.5 222.1l2 .6 1.4-6.9-2-.7z" fill="#edd2c5" stroke="#edd2c5" fill-opacity=".7"/><path d="M306.8 104.2l2-.5 .4 4.3-2-1.2z" fill="#be242f" stroke="#be242f" fill-opacity=".3"/><path d="M305.4 104.1l2-.8 .5-3.4-2 2.3z" fill="#ba162b" stroke="#ba162b"/><path d="M300.8 123.3l2-1.6 .5 10.5-2-1.5z" fill="#d75448" stroke="#d75448" fill-opacity=".3"/><path d="M287.9 171.4l1.6-.5 .8 9.5-1.6 2.4z" fill="#f7a88e" stroke="#f7a88e" fill-opacity=".3"/><path d="M280.7 156l2.5-5.6 1-5.3-2.5 4.3z" fill="#ec8169" stroke="#ec8169"/><path d="M190.4 291.4l2-3 3.5-2.2-2 3.2z" fill="#7693fe" stroke="#7693fe" fill-opacity=".8"/><path d="M282.4 197.1l2.7-3 .9 9-2.7 4.5z" fill="#f5c1ac" stroke="#f5c1ac" fill-opacity=".3"/><path d="M154.5 299.5l2.7 1.2 5.1 2.2-2.7-2.1z" fill="#657bef" stroke="#657bef"/><path d="M311.7 314.4l1.3-2.3 18.1 19.5-1.3 2.4z" fill="#5764dc" stroke="#5764dc"/><path d="M216.7 269.8l3.3-4.9 2.3-6.3-3.3 5.3z" fill="#a6c5ff" stroke="#a6c5ff" fill-opacity=".8"/><path d="M295.4 318.3l1.5-2.5 5.3 6.4-1.5 2.4z" fill="#5967df" stroke="#5967df"/><path d="M267.6 181.9l1.7 1.9 1-7.6-1.7 .3z" fill="#f6a288" stroke="#f6a288"/><path d="M287.2 144.3l1.8-4.2 .9-6.9-1.8 .2z" fill="#e36c59" stroke="#e36c59"/><path d="M261.2 194.6l1.8-1.7 1.1-7.6-1.8 4z" fill="#f7b097" stroke="#f7b097"/><path d="M148 309.2l.9-2.7 6.7 6.3-.9 2.5z" fill="#5b6ae1" stroke="#5b6ae1"/><path d="M279.1 157.4l1.6-1.4 1-6.5-1.6 .4z" fill="#ee866e" stroke="#ee866e"/><path d="M254.2 203.9l2.8 2.3 1.3-7.5-2.9-1.3z" fill="#f6bfa9" stroke="#f6bfa9"/><path d="M306.4 104.5l2-3.8 .3 3-2 .5z" fill="#ba162b" stroke="#ba162b" fill-opacity=".3"/><path d="M228.6 248.3l2.2 1.8 1.8-6.3-2.1-1.3z" fill="#cbdaf6" stroke="#cbdaf6" fill-opacity=".8"/><path d="M298.2 133.6l.9-4.1 .6 9.3-.9 3.5z" fill="#e16755" stroke="#e16755" fill-opacity=".3"/><path d="M179.3 296.2l2.3 1.5 3.9 .2-2.3-2.3z" fill="#6d86f6" stroke="#6d86f6" fill-opacity=".6"/><path d="M286.4 179l1.5-7.6 .7 11.5-1.4 4.9z" fill="#f7aa91" stroke="#f7aa91" fill-opacity=".3"/><path d="M201.8 278.1l2 4.7 2.6-3.1-2-4.9z" fill="#88a8ff" stroke="#88a8ff" fill-opacity=".8"/><path d="M270.5 296.7l2.4-2.7 3 8.5-2.3 2.2z" fill="#718bfa" stroke="#718bfa" fill-opacity=".4"/><path d="M306.2 101.4l2 .1 .2-.8-2 3.8z" fill="#b8122a" stroke="#b8122a" fill-opacity=".3"/><path d="M268.1 276.6l1.2 1.4 2.1 8.1-1.3-1.7z" fill="#8eaeff" stroke="#8eaeff" fill-opacity=".3"/><path d="M305.9 102.2l2-2.2 .3 1.6-2-.1z" fill="#b70d29" stroke="#b70d29"/><path d="M303.6 110.6l1.9-.7 .4 9.5-1.8-4.1z" fill="#c83838" stroke="#c83838" fill-opacity=".3"/><path d="M280 311.2l1.2-.7 4.3 6.7-1.3 1.3z" fill="#5f72e8" stroke="#5f72e8"/><path d="M273.5 224.8l1.4-.2 1.2 10.8-1.4-1z" fill="#e4d9d3" stroke="#e4d9d3" fill-opacity=".3"/><path d="M278.3 199.2l1.7 1.7 .9 10-1.7-1z" fill="#f5c2ae" stroke="#f5c2ae" fill-opacity=".3"/><path d="M209.3 274.2l1.7-4.5 2.5-5.3-1.7 5.6z" fill="#9dbdff" stroke="#9dbdff" fill-opacity=".8"/><path d="M284.8 180.7l1.6-1.7 .8 8.8-1.6 4.2z" fill="#f7af96" stroke="#f7af96" fill-opacity=".3"/><path d="M237.7 234.1l2.1 1.7 1.6-6.8-2.1-3z" fill="#e0dbd8" stroke="#e0dbd8" fill-opacity=".8"/><path d="M270.4 236.2l2.8 1.5 1.5 10.9-2.8-2.2z" fill="#d5dde9" stroke="#d5dde9" fill-opacity=".3"/><path d="M277.6 164.8l1.4-7.4 1-7.5-1.4 7z" fill="#ef886f" stroke="#ef886f"/><path d="M220 264.9l1.8-3.7 2.3-6.2-1.8 3.6z" fill="#b1cdff" stroke="#b1cdff" fill-opacity=".8"/><path d="M301.3 109.8l1.9 .7 .6-4.1-1.8-3z" fill="#c12b31" stroke="#c12b31"/><path d="M273.5 304.8l2.4-2.2 4.1 8.7-2.4 1.8z" fill="#677ef1" stroke="#677ef1"/><path d="M295.5 144.6l1.6-2.9 .6 8.2-1.6 2.6z" fill="#ea7b65" stroke="#ea7b65" fill-opacity=".3"/><path d="M269.1 301.3l1.4-4.5 3.1 8-1.4 4z" fill="#6e87f7" stroke="#6e87f7" fill-opacity=".4"/><path d="M303.8 106.3l1.6-2.2 .5-2-1.6 .2z" fill="#ba162b" stroke="#ba162b"/><path d="M293.3 320.2l2.1-1.9 5.3 6.3-2.1 1.7z" fill="#5865dd" stroke="#5865dd"/><path d="M226.9 255.4l1.8-7.1 1.8-5.8-1.8 5.6z" fill="#c9daf8" stroke="#c9daf8" fill-opacity=".8"/><path d="M267.7 287.4l2.4-3 2.8 9.6-2.4 2.7z" fill="#7f9eff" stroke="#7f9eff" fill-opacity=".3"/><path d="M285.4 317.2l2-.9 5.2 6.8-1.9 1.2z" fill="#5a68e0" stroke="#5a68e0"/><path d="M305.1 105.7l1.6-1.5 .4 2.7-1.6 3z" fill="#bd1f2e" stroke="#bd1f2e" fill-opacity=".3"/><path d="M250.6 214l2.1-5.1 1.3-8.8-2.2 7.1z" fill="#f4c6b2" stroke="#f4c6b2" fill-opacity=".5"/><path d="M309.5 315.5l2.2-1.1 18.2 19.5-2.6 1z" fill="#5764dc" stroke="#5764dc"/><path d="M295 120.7l2.2 .7 .8-5.7-2.2 .4z" fill="#cc403c" stroke="#cc403c"/><path d="M188.6 291.3l1.7 .2 3.5-2-1.7-.4z" fill="#7692fe" stroke="#7692fe" fill-opacity=".8"/><path d="M275.6 211.3l2.3-.5 1 11.3-2.3-1.5z" fill="#f1cdbd" stroke="#f1cdbd" fill-opacity=".3"/><path d="M276.1 165.3l1.6-.5 1-7.9-1.6 .5z" fill="#f18d74" stroke="#f18d74"/><path d="M266.3 292.6l1.4-5.1 2.8 9.3-1.4 4.5z" fill="#7997ff" stroke="#7997ff" fill-opacity=".3"/><path d="M252.7 208.9l1.5-5 1.2-6.5-1.5 2.7z" fill="#f5c0ab" stroke="#f5c0ab"/><path d="M304.6 105.8l1.7-4.4 .2 3.1-1.7 1.5z" fill="#ba162b" stroke="#ba162b" fill-opacity=".3"/><path d="M304.8 106l1.6-1.5 .4-.2-1.7 1.4z" fill="#ba162b" stroke="#ba162b" fill-opacity=".3"/><path d="M224.9 256.1l1.9-.7 1.9-7.3-2 1.5z" fill="#c4d8fc" stroke="#c4d8fc" fill-opacity=".8"/><path d="M216 266.9l.8 2.9 2.3-5.9-.8-3.7z" fill="#a9c7ff" stroke="#a9c7ff" fill-opacity=".8"/><path d="M293.7 149.7l1.8-5 .6 7.8-1.8 4z" fill="#ec7f68" stroke="#ec7f68" fill-opacity=".3"/><path d="M272.1 308.8l1.4-4.1 4.1 8.3-1.4 3.7z" fill="#6479ed" stroke="#6479ed"/><path d="M286 143.6l1.3 .7 .9-10.9-1.3 4.5z" fill="#e36c59" stroke="#e36c59"/><path d="M266.7 246.3l2.2-5.4 1.4 10.2-2.1 5z" fill="#cddbf4" stroke="#cddbf4" fill-opacity=".3"/><path d="M197.7 288.5l2.8-3.1 2.5-3-2.7 3.3z" fill="#7f9dff" stroke="#7f9dff" fill-opacity=".8"/><path d="M291.5 129.9l1.6 1.5 .9-7.7-1.6-2.2z" fill="#d9584b" stroke="#d9584b"/><path d="M298.6 122.6l2.2 .7 .5 7.4-2.2-1.2z" fill="#d55045" stroke="#d55045" fill-opacity=".3"/><path d="M268.9 240.9l1.5-4.7 1.5 10.2-1.5 4.8z" fill="#d3dcec" stroke="#d3dcec" fill-opacity=".3"/><path d="M265.6 258l2 .6 1.8 11.3-2-1.4z" fill="#b2ceff" stroke="#b2ceff" fill-opacity=".3"/><path d="M304.3 102.4l1.6-.2 .3-.8-1.6 4.4z" fill="#b70d29" stroke="#b70d29"/><path d="M302.3 114.9l1.4-4.3 .5 4.7-1.4 6.4z" fill="#ca3b39" stroke="#ca3b39" fill-opacity=".3"/><path d="M145.8 310.2l2.2-1 6.7 6.1-2.2 .8z" fill="#5c6ce3" stroke="#5c6ce3"/><path d="M234.7 245.8l2.3-5.2 1.5-7.3-2.3 4.7z" fill="#d8dde4" stroke="#d8dde4" fill-opacity=".8"/><path d="M155.6 312.8l-3.6-8.7 5.4 3.7 3.6 9z" fill="#5f70e6" stroke="#5f70e6"/><path d="M249.9 215.8l.7-1.8 1.2-6.8-.7 1.4z" fill="#f3c8b5" stroke="#f3c8b5" fill-opacity=".6"/><path d="M259.8 194.6l1.4-0 1.1-5.4-1.4-1.7z" fill="#f7b097" stroke="#f7b097"/><path d="M291.3 157.5l1.8-.8 .7 11.1-1.8-2.5z" fill="#f18d74" stroke="#f18d74" fill-opacity=".3"/><path d="M299.9 115.9l1.4-6.1 .6-6.4-1.3 5.7z" fill="#c32e33" stroke="#c32e33"/><path d="M277.6 313.1l2.4-1.8 4.2 7.2-2.4 1.7z" fill="#6073e9" stroke="#6073e9"/><path d="M175 303.3l2.8-3.6 3.9-.5-2.8 4.7z" fill="#6981f3" stroke="#6981f3" fill-opacity=".5"/><path d="M307.8 317.5l1.7-2 17.9 19.4-2.7 .9z" fill="#5764dc" stroke="#5764dc"/><path d="M266.3 185.4l1.3-3.5 1-5.4-1.3 .1z" fill="#f59f85" stroke="#f59f85"/><path d="M177.8 299.7l1.5-3.5 3.9-.5-1.5 3.5z" fill="#6d87f7" stroke="#6d87f7" fill-opacity=".6"/><path d="M200.5 285.3l1.3-7.2 2.5-3.4-1.2 7.7z" fill="#89a9ff" stroke="#89a9ff" fill-opacity=".8"/><path d="M237 240.6l.7-6.6 1.5-8.1-.6 7.4z" fill="#e0dbd8" stroke="#e0dbd8" fill-opacity=".8"/><path d="M206.6 270.1l2.7 4.2 2.5-4.3-2.8-5.1z" fill="#a0c0ff" stroke="#a0c0ff" fill-opacity=".8"/><path d="M267 300.3l2.1 1 3.1 7.6-2.1-.5z" fill="#6e87f7" stroke="#6e87f7" fill-opacity=".4"/><path d="M266.1 266.4l1.3 2 1.9 9.6-1.2-1.5z" fill="#a4c3ff" stroke="#a4c3ff" fill-opacity=".3"/><path d="M170.1 297.7l4.8 5.6 3.9 .6-4.9-7z" fill="#6a82f4" stroke="#6a82f4" fill-opacity=".6"/><path d="M266.1 248.5l.7-2.1 1.4 9.7-.6 2.5z" fill="#c9daf8" stroke="#c9daf8" fill-opacity=".3"/><path d="M265.7 278.9l2.4-2.3 2 7.8-2.4 3.1z" fill="#91b2ff" stroke="#91b2ff" fill-opacity=".3"/><path d="M166.3 299.3l3.8-1.6 3.8-.7-3.7 2.5z" fill="#6e87f7" stroke="#6e87f7" fill-opacity=".6"/><path d="M296.6 130.4l1.6 3.2 .6 8.7-1.7-.5z" fill="#e26956" stroke="#e26956" fill-opacity=".3"/><path d="M273.8 214.1l1.8-2.9 1 9.3-1.8 4z" fill="#f1cdbd" stroke="#f1cdbd" fill-opacity=".3"/><path d="M272 228l1.4-3.2 1.3 9.6-1.5 3.4z" fill="#e6d7d0" stroke="#e6d7d0" fill-opacity=".3"/><path d="M164.7 301.5l1.6-2.2 3.9 .2-1.7 2.1z" fill="#6a82f4" stroke="#6a82f4" fill-opacity=".6"/><path d="M264.3 284.5l1.4-5.6 2 8.6-1.4 5.1z" fill="#8aabff" stroke="#8aabff" fill-opacity=".3"/><path d="M284.3 181.8l.5-1.1 .8 11.3-.5 2.1z" fill="#f7af96" stroke="#f7af96" fill-opacity=".3"/><path d="M303.3 106l1.9-.3 .4 4.2-1.9 .7z" fill="#be242f" stroke="#be242f" fill-opacity=".3"/><path d="M245.2 219.7l1.3 2.4 1.4-7.1-1.3-2.1z" fill="#f1cdbd" stroke="#f1cdbd" fill-opacity=".6"/><path d="M292.7 323.1l.6-2.9 5.3 6.1-.6 3z" fill="#5865dd" stroke="#5865dd"/><path d="M264.2 291.2l2.1 1.3 2.8 8.7-2.1-1z" fill="#7997ff" stroke="#7997ff" fill-opacity=".3"/><path d="M270.1 308.4l2.1 .4 4.1 7.9-2.1 .2z" fill="#6479ed" stroke="#6479ed"/><path d="M292.5 148.9l1.2 .7 .7 6.8-1.3 .2z" fill="#ec7f68" stroke="#ec7f68" fill-opacity=".3"/><path d="M297.9 115.7l2 .2 .6-6.8-1.9 0z" fill="#c32e33" stroke="#c32e33"/><path d="M232.7 243.8l2 2 1.6-7.8-2-1z" fill="#d7dde5" stroke="#d7dde5" fill-opacity=".8"/><path d="M284.2 318.5l1.2-1.2 5.3 7-1.2 1.7z" fill="#5c6ce2" stroke="#5c6ce2"/><path d="M276.2 316.7l1.4-3.6 4.2 7.1-1.4 3.1z" fill="#5e70e6" stroke="#5e70e6"/><path d="M288.8 159.8l2.5-2.3 .7 7.8-2.5 5.5z" fill="#f18f76" stroke="#f18f76" fill-opacity=".3"/><path d="M300.3 113.1l1.9 1.8 .5 6.8-2 1.6z" fill="#ca3b39" stroke="#ca3b39" fill-opacity=".3"/><path d="M277 201.8l1.3-2.6 .9 10.7-1.3 .9z" fill="#f6bfaa" stroke="#f6bfaa" fill-opacity=".3"/><path d="M157.4 307.8l-2.9-8.3 5.1 1.3 2.9 8.9z" fill="#667cf0" stroke="#667cf0"/><path d="M301.9 103.4l1.9 2.9 .5-3.9-1.9 .3z" fill="#b8122a" stroke="#b8122a"/><path d="M294 123.7l.9-3 .8-4.6-.9 1.3z" fill="#cd423d" stroke="#cd423d"/><path d="M195.9 286.2l1.8 2.2 2.5-2.7-1.8-2.7z" fill="#81a0ff" stroke="#81a0ff" fill-opacity=".8"/><path d="M279.2 190.3l2.4-3.9 .8 10.7-2.4 3.8z" fill="#f7b199" stroke="#f7b199" fill-opacity=".3"/><path d="M284.2 145.2l1.8-1.6 .9-5.7-1.8 1z" fill="#e26956" stroke="#e26956"/><path d="M297.7 126.5l.9-3.9 .6 6.9-1 4.1z" fill="#d65246" stroke="#d65246" fill-opacity=".3"/><path d="M306.4 319.5l1.4-2 16.9 18.4-2.7 .8z" fill="#5764dc" stroke="#5764dc"/><path d="M302.7 103.5l1.9 2.3 .2 .2-1.9-2.4z" fill="#b8122a" stroke="#b8122a" fill-opacity=".3"/><path d="M303 103.6l1.9 2.4 .3-.3-1.9 .3z" fill="#ba162b" stroke="#ba162b" fill-opacity=".3"/><path d="M290 133.1l1.6-3.3 .8-8.3-1.5 3.3z" fill="#d75448" stroke="#d75448"/><path d="M302.4 102.7l1.9-.3 .3 3.4-1.9-2.4z" fill="#b70d29" stroke="#b70d29"/><path d="M186.4 291.1l2.2 .2 3.5-2.2-2.2-.6z" fill="#7c99ff" stroke="#7c99ff" fill-opacity=".8"/><path d="M275.5 168.4l.6-3 .9-7.9-.5 2z" fill="#f08a71" stroke="#f08a71"/><path d="M287.2 161.4l1.6-1.6 .7 11-1.6 .6z" fill="#f29279" stroke="#f29279" fill-opacity=".3"/><path d="M206.4 279.7l.2-9.6 2.5-5.2-.3 10.3z" fill="#9dbdff" stroke="#9dbdff" fill-opacity=".8"/><path d="M281.6 186.4l2.7-4.6 .8 12.4-2.7 2.9z" fill="#f7af96" stroke="#f7af96" fill-opacity=".3"/><path d="M301.9 110.5l1.4-4.5 .3 4.5-1.3 4.4z" fill="#c12b31" stroke="#c12b31" fill-opacity=".3"/><path d="M162.4 302.9l2.4-1.4 3.8 .1-2.4 1.5z" fill="#6a82f4" stroke="#6a82f4" fill-opacity=".6"/><path d="M264.1 185.3l2.3 .1 1-8.8-2.3 .7z" fill="#f59c82" stroke="#f59c82"/><path d="M269.2 226.3l2.8 1.7 1.3 9.7-2.9-1.5z" fill="#e6d7d0" stroke="#e6d7d0" fill-opacity=".3"/><path d="M266.3 306.1l.7-5.8 3 8.1-.6 5.3z" fill="#6c85f6" stroke="#6c85f6" fill-opacity=".4"/><path d="M281.7 149.5l2.5-4.3 .9-6.3-2.5 1.4z" fill="#e36c59" stroke="#e36c59"/><path d="M270.4 176.2l2.4-4 1-8.2-2.5 2.5z" fill="#f18d74" stroke="#f18d74"/><path d="M258.3 198.7l1.5-4.1 1.1-7.1-1.5 3.4z" fill="#f7ad94" stroke="#f7ad94"/><path d="M262.2 282.7l2.1 1.8 2 8.1-2.1-1.4z" fill="#89a9ff" stroke="#89a9ff" fill-opacity=".3"/><path d="M272.4 213.7l1.4 .4 1.1 10.5-1.5 .2z" fill="#f1cdbd" stroke="#f1cdbd" fill-opacity=".3"/><path d="M285.7 168.4l1.5-6.9 .7 9.9-1.5 7.6z" fill="#f3957c" stroke="#f3957c" fill-opacity=".3"/><path d="M300.6 109.1l1.4-5.7 .4-.7-1.4 7z" fill="#bb1b2c" stroke="#bb1b2c"/><path d="M295 135.8l1.6-5.4 .5 11.3-1.5 2.9z" fill="#e16755" stroke="#e16755" fill-opacity=".3"/><path d="M263.5 297.7l.7-6.4 2.8 9-.7 5.8z" fill="#7895ff" stroke="#7895ff" fill-opacity=".3"/><path d="M224.1 255l.9 1.1 1.8-6.5-.9-1.7z" fill="#c9daf8" stroke="#c9daf8" fill-opacity=".8"/><path d="M263.7 268.9l2.4-2.5 2 10.2-2.4 2.2z" fill="#a7c5ff" stroke="#a7c5ff" fill-opacity=".3"/><path d="M274.1 316.9l2.1-.2 4.2 6.6-2.1 .5z" fill="#5e70e6" stroke="#5e70e6"/><path d="M272.8 172.2l2.7-3.9 .9-8.9-2.7 4.6z" fill="#f08b72" stroke="#f08b72"/><path d="M284.1 171.1l1.6-2.7 .7 10.6-1.6 1.7z" fill="#f49a80" stroke="#f49a80" fill-opacity=".3"/><path d="M277.5 188.8l1.7 1.5 .8 10.6-1.7-1.7z" fill="#f7af96" stroke="#f7af96" fill-opacity=".3"/><path d="M298.1 116.5l2.2-3.4 .5 10.2-2.2-.7z" fill="#c83838" stroke="#c83838" fill-opacity=".3"/><path d="M269.4 313.7l.7-5.3 4 8.5-.6 4.5z" fill="#6479ed" stroke="#6479ed"/><path d="M290.7 324.3l2-1.2 5.3 6.2-2 1.4z" fill="#5865dd" stroke="#5865dd"/><path d="M281.8 320.2l2.4-1.7 5.3 7.5-2.4 1.5z" fill="#5c6ce2" stroke="#5c6ce2"/><path d="M185.5 298l1-6.9 3.4-2.6-.9 7.7z" fill="#7895ff" stroke="#7895ff" fill-opacity=".8"/><path d="M264 309.1l2.3-3 3.1 7.5-2.3 2.7z" fill="#687ff2" stroke="#687ff2" fill-opacity=".4"/><path d="M262.3 274.8l1.4-5.9 2 9.9-1.4 5.6z" fill="#a0c0ff" stroke="#a0c0ff" fill-opacity=".3"/><path d="M295.8 116.1l2.2-.3 .6-6.6-2.2 1.6z" fill="#c12b31" stroke="#c12b31"/><path d="M305 321.7l1.4-2.3 15.6 17.3-2.7 .9z" fill="#5764dc" stroke="#5764dc"/><path d="M241.4 229l1.4-6.3 1.4-6.3-1.4 5z" fill="#eed0c2" stroke="#eed0c2" fill-opacity=".6"/><path d="M242.8 222.7l2.4-3 1.4-6.7-2.4 3.3z" fill="#f1ccbb" stroke="#f1ccbb" fill-opacity=".6"/><path d="M288.2 133.4l1.8-.3 .8-8.3-1.8 3.7z" fill="#d75448" stroke="#d75448"/><path d="M247.9 215.1l2 .8 1.2-7.2-2-1.5z" fill="#f4c5b1" stroke="#f4c5b1" fill-opacity=".5"/><path d="M261.2 301l2.3-3.3 2.8 8.4-2.3 3z" fill="#738efb" stroke="#738efb" fill-opacity=".4"/><path d="M293.2 137.9l1.8-2.1 .6 8.8-1.9 5.1z" fill="#e26956" stroke="#e26956" fill-opacity=".3"/><path d="M301.6 109.1l1.4-5.5 .3 2.4-1.4 4.5z" fill="#bb1b2c" stroke="#bb1b2c" fill-opacity=".3"/><path d="M274.7 201.2l2.3 .6 .9 9-2.3 .5z" fill="#f6bda7" stroke="#f6bda7" fill-opacity=".3"/><path d="M262.3 189.3l1.8-4 1-8-1.8 3z" fill="#f59d83" stroke="#f59d83"/><path d="M264.1 246.9l2 1.5 1.5 10.2-2-.7z" fill="#cedbf3" stroke="#cedbf3" fill-opacity=".3"/><path d="M265.5 235.5l2.2-5.8 1.2 11.2-2.2 5.5z" fill="#e0dbd8" stroke="#e0dbd8" fill-opacity=".3"/><path d="M280.1 149.9l1.6-.4 .9-9.3-1.6 .8z" fill="#e46e5a" stroke="#e46e5a"/><path d="M299.9 112l2-1.5 .4 4.4-2-1.9z" fill="#c02830" stroke="#c02830" fill-opacity=".3"/><path d="M264.3 255l1.3 3 1.8 10.5-1.3-2.1z" fill="#bfd5ff" stroke="#bfd5ff" fill-opacity=".3"/><path d="M268.7 176.6l1.7-.3 1-9.8-1.8-.9z" fill="#f08b72" stroke="#f08b72"/><path d="M267.7 229.7l1.5-3.4 1.2 9.9-1.5 4.7z" fill="#e5d8d2" stroke="#e5d8d2" fill-opacity=".3"/><path d="M193.9 289.5l2-3.3 2.6-3.2-2.1 3.9z" fill="#84a4ff" stroke="#84a4ff" fill-opacity=".8"/><path d="M301 109.7l1.4-7 .3 .7-1.3 1.7z" fill="#b8122a" stroke="#b8122a"/><path d="M255.5 197.4l2.9 1.3 1-7.8-2.8-1.2z" fill="#f7ad94" stroke="#f7ad94"/><path d="M298.6 109.2l2-0 .4 .6-1.9-1.9z" fill="#bb1b2c" stroke="#bb1b2c"/><path d="M290.7 149.6l1.8-.6 .6 7.7-1.8 .8z" fill="#e97862" stroke="#e97862" fill-opacity=".3"/><path d="M267.1 316.3l2.3-2.6 4.1 7.7-2.3 2.2z" fill="#6175ea" stroke="#6175ea"/><path d="M213.5 264.4l2.5 2.4 2.2-6.6-2.4-1.7z" fill="#b8d2ff" stroke="#b8d2ff" fill-opacity=".8"/><path d="M301.4 105.1l1.3-1.6 .3 .1-1.4 5.5z" fill="#b8122a" stroke="#b8122a" fill-opacity=".3"/><path d="M302.2 322.2l2.8-.5 14.4 15.9-2.7 .8z" fill="#5764dc" stroke="#5764dc"/><path d="M280.4 323.3l1.4-3.1 5.3 7.3-1.4 2.8z" fill="#5b6ae1" stroke="#5b6ae1"/><path d="M261.5 289.2l.7-6.5 2 8.6-.7 6.4z" fill="#89a9ff" stroke="#89a9ff" fill-opacity=".3"/><path d="M159.6 300.8l2.7 2.1 3.9 .2-2.8-2.7z" fill="#6f88f8" stroke="#6f88f8" fill-opacity=".6"/><path d="M230.5 242.5l2.2 1.3 1.5-6.8-2.2-1.4z" fill="#dddcdc" stroke="#dddcdc" fill-opacity=".8"/><path d="M262 309.1l2 0 3 7.2-1.9 .1z" fill="#687ff2" stroke="#687ff2" fill-opacity=".4"/><path d="M292.4 121.5l1.6 2.2 .8-6.3-1.6-1z" fill="#cc403c" stroke="#cc403c"/><path d="M259.2 293.3l2.3-4.2 2 8.5-2.3 3.4z" fill="#809fff" stroke="#809fff" fill-opacity=".3"/><path d="M296 123.6l1.6 2.9 .6 7.1-1.7-3.2z" fill="#d65246" stroke="#d65246" fill-opacity=".3"/><path d="M204.3 274.8l2 4.9 2.5-4.5-2.1-5.6z" fill="#9dbdff" stroke="#9dbdff" fill-opacity=".8"/><path d="M272.9 206.4l1.8-5.2 .9 10.1-1.8 2.8z" fill="#f6bda6" stroke="#f6bda6" fill-opacity=".3"/><path d="M271 219.4l1.5-5.7 1 11-1.4 3.2z" fill="#f1ccbb" stroke="#f1ccbb" fill-opacity=".3"/><path d="M154.7 315.3l.9-2.5 5.4 4-.9 2.3z" fill="#5d6fe5" stroke="#5d6fe5"/><path d="M219 263.8l3.3-5.3 1.8-6.6-3.3 4.8z" fill="#c2d7fe" stroke="#c2d7fe" fill-opacity=".8"/><path d="M259.2 300.4l2 .6 2.8 8.1-2-0z" fill="#738efb" stroke="#738efb" fill-opacity=".4"/><path d="M299.6 108.1l2 1 .3 1.4-2 1.5z" fill="#bb1b2c" stroke="#bb1b2c" fill-opacity=".3"/><path d="M260.2 273.2l2.1 1.6 2 9.7-2.1-1.8z" fill="#9fbfff" stroke="#9fbfff" fill-opacity=".3"/><path d="M278.6 156.9l1.5-7 .8-8.9-1.4 5.1z" fill="#e46e5b" stroke="#e46e5b"/><path d="M286.9 137.9l1.3-4.5 .8-4.9-1.3 1.6z" fill="#d85649" stroke="#d85649"/><path d="M264.8 236.4l.7-.9 1.2 10.8-.7 2.2z" fill="#dddcdc" stroke="#dddcdc" fill-opacity=".3"/><path d="M183.2 295.7l2.3 2.3 3.5-1.8-2.3-3z" fill="#7794ff" stroke="#7794ff" fill-opacity=".8"/><path d="M239.2 225.9l2.2 3 1.3-7.5-2.1-1.7z" fill="#eed0c2" stroke="#eed0c2" fill-opacity=".6"/><path d="M273.4 321.4l.7-4.4 4.2 6.9-.7 4.1z" fill="#5e70e6" stroke="#5e70e6"/><path d="M297.2 116.7l.9-.2 .5 6.1-.9 3.9z" fill="#ca3b39" stroke="#ca3b39" fill-opacity=".3"/><path d="M294.8 117.4l.9-1.3 .7-5.3-1 3.2z" fill="#c32e33" stroke="#c32e33"/><path d="M289.5 326l1.2-1.7 5.3 6.3-1.2 2z" fill="#5967de" stroke="#5967de"/><path d="M288.2 151.6l2.5-2.1 .6 8-2.5 2.3z" fill="#e97a63" stroke="#e97a63" fill-opacity=".3"/><path d="M291.9 139.6l1.3-1.7 .5 11.7-1.2-.7z" fill="#e26956" stroke="#e26956" fill-opacity=".3"/><path d="M297.7 113.5l2.2-1.5 .4 1.1-2.2 3.4z" fill="#c02830" stroke="#c02830" fill-opacity=".3"/><path d="M299.1 107.8l2 1.9 .3-4.6-2 2.3z" fill="#b70d29" stroke="#b70d29"/><path d="M251.8 207.3l2.1-7.1 1.1-6.6-2.1 4.6z" fill="#f7b49c" stroke="#f7b49c"/><path d="M253.9 200.1l1.5-2.7 1.1-7.7-1.5 3.8z" fill="#f7af96" stroke="#f7af96"/><path d="M300.7 324.6l1.5-2.4 14.5 16.3-2.7 .8z" fill="#5764dc" stroke="#5764dc"/><path d="M211.8 270l1.7-5.6 2.3-5.9-1.7 5.2z" fill="#b6d0ff" stroke="#b6d0ff" fill-opacity=".8"/><path d="M265.1 316.4l2-.1 4 7.3-1.9 .7z" fill="#6175ea" stroke="#6175ea"/><path d="M228.7 248.1l1.8-5.6 1.5-7-1.7 6.4z" fill="#dcdddd" stroke="#dcdddd" fill-opacity=".8"/><path d="M283.6 173.1l.5-2 .7 9.6-.5 1.1z" fill="#f4987f" stroke="#f4987f" fill-opacity=".3"/><path d="M192.1 289.1l1.7 .4 2.6-2.7-1.8-.7z" fill="#84a4ff" stroke="#84a4ff" fill-opacity=".8"/><path d="M299.4 107.4l2-2.3 .2 4-2-1z" fill="#b70d29" stroke="#b70d29" fill-opacity=".3"/><path d="M222.3 258.5l1.8-3.6 1.8-7.1-1.8 4z" fill="#ccdbf5" stroke="#ccdbf5" fill-opacity=".8"/><path d="M296.4 110.8l2.2-1.6 .5-1.3-2.2 2.3z" fill="#ba162b" stroke="#ba162b"/><path d="M277 157.5l1.6-.6 .9-10.8-1.6 1z" fill="#e6725d" stroke="#e6725d"/><path d="M260.9 187.6l1.4 1.7 1-9-1.4-.8z" fill="#f59c82" stroke="#f59c82"/><path d="M257.2 292.4l2 1 2 7.6-2-.6z" fill="#809fff" stroke="#809fff" fill-opacity=".3"/><path d="M200.3 285.7l2.8-3.3 2.4-4.6-2.8 3.1z" fill="#91b2ff" stroke="#91b2ff" fill-opacity=".8"/><path d="M276.1 190.8l1.3-2 .8 10.3-1.3 2.7z" fill="#f7aa91" stroke="#f7aa91" fill-opacity=".3"/><path d="M278.4 323.9l2.1-.6 5.3 7-2.1 1z" fill="#5b6ae1" stroke="#5b6ae1"/><path d="M226.8 249.6l1.9-1.5 1.6-6.2-2 .6z" fill="#d8dde4" stroke="#d8dde4" fill-opacity=".8"/><path d="M278.5 179.2l2.4-1.9 .8 9.1-2.5 3.9z" fill="#f59c82" stroke="#f59c82" fill-opacity=".3"/><path d="M251.1 208.6l.7-1.4 1.1-9.1-.7 2.8z" fill="#f7b79f" stroke="#f7b79f"/><path d="M297.4 110l2.2-1.9 .3 3.9-2.2 1.5z" fill="#bb1b2c" stroke="#bb1b2c" fill-opacity=".3"/><path d="M268.1 215.6l2.8 3.9 1.1 8.5-2.8-1.7z" fill="#f1ccbb" stroke="#f1ccbb" fill-opacity=".3"/><path d="M271.1 323.6l2.3-2.2 4.2 6.6-2.3 1.8z" fill="#5d6de4" stroke="#5d6de4"/><path d="M286.5 153.2l1.6-1.6 .7 8.2-1.7 1.6z" fill="#ea7b65" stroke="#ea7b65" fill-opacity=".3"/><path d="M261.9 258l2.4-3 1.8 11.4-2.4 2.5z" fill="#c3d7fd" stroke="#c3d7fd" fill-opacity=".3"/><path d="M260.5 264l1.4-6 1.8 11-1.4 5.9z" fill="#bbd3ff" stroke="#bbd3ff" fill-opacity=".3"/><path d="M267.3 176.6l1.3-.1 1-11-1.4 3z" fill="#ee866e" stroke="#ee866e"/><path d="M236.3 238l2.3-4.6 1.3-6.5-2.3 4.5z" fill="#e9d5cc" stroke="#e9d5cc" fill-opacity=".7"/><path d="M218.2 260.2l.8 3.6 1.8-7.1-.8-2.7z" fill="#c5d8fc" stroke="#c5d8fc" fill-opacity=".8"/><path d="M298.6 326.3l2.1-1.7 13.3 14.8-2.6 .8z" fill="#5764dc" stroke="#5764dc"/><path d="M296.9 110.2l2.2-2.3 .3-.4-2.2 2.9z" fill="#b8122a" stroke="#b8122a"/><path d="M259.5 280l.7-6.8 1.9 9.5-.6 6.5z" fill="#9ebeff" stroke="#9ebeff" fill-opacity=".3"/><path d="M257.2 284.2l2.3-4.2 2 9.2-2.3 4.2z" fill="#93b4ff" stroke="#93b4ff" fill-opacity=".3"/><path d="M294.4 128.7l1.6-5.1 .5 6.8-1.6 5.4z" fill="#d55045" stroke="#d55045" fill-opacity=".3"/><path d="M238.5 233.4l.7-7.4 1.3-6.2-.6 7.1z" fill="#eed0c2" stroke="#eed0c2" fill-opacity=".6"/><path d="M285.1 138.8l1.8-.9 .9-7.8-1.8-1z" fill="#d65246" stroke="#d65246"/><path d="M280.9 177.3l2.7-4.2 .7 8.7-2.7 4.6z" fill="#f4987f" stroke="#f4987f" fill-opacity=".3"/><path d="M203 282.4l1.3-7.6 2.4-5.2-1.3 8.2z" fill="#9ebeff" stroke="#9ebeff" fill-opacity=".8"/><path d="M178.9 303.9l2.8-4.7 3.5-2.3-2.8 5.6z" fill="#738efb" stroke="#738efb" fill-opacity=".8"/><path d="M271.5 203.6l1.4 2.8 .9 7.7-1.4-.4z" fill="#f6bda7" stroke="#f6bda7" fill-opacity=".3"/><path d="M287.1 327.5l2.4-1.5 5.3 6.7-2.4 1.3z" fill="#5a69e0" stroke="#5a69e0"/><path d="M246.5 213l1.3 2.1 1.2-7.9-1.3-.7z" fill="#f6bea8" stroke="#f6bea8"/><path d="M259.9 308.6l2.1 .5 3.1 7.3-2.1 .1z" fill="#6d86f6" stroke="#6d86f6" fill-opacity=".4"/><path d="M297.2 110.4l2.2-3 .2 .7-2.2 1.9z" fill="#b70d29" stroke="#b70d29" fill-opacity=".3"/><path d="M161 316.8l-3.6-9 5.1 1.9 3.7 9.5z" fill="#647aee" stroke="#647aee"/><path d="M290.8 124.8l1.6-3.3 .8-5.1-1.6 1.6z" fill="#cb3e3a" stroke="#cb3e3a"/><path d="M152.5 316.1l2.2-.7 5.4 3.8-2.2 .5z" fill="#5f72e8" stroke="#5f72e8"/><path d="M285.1 158.3l1.5-5 .6 8.2-1.5 6.9z" fill="#ec7f68" stroke="#ec7f68" fill-opacity=".3"/><path d="M174 297l4.9 6.9 3.5-1.3-4.9-7.7z" fill="#7591fd" stroke="#7591fd" fill-opacity=".8"/><path d="M181.7 299.2l1.5-3.6 3.5-2.5-1.5 3.8z" fill="#7997ff" stroke="#7997ff" fill-opacity=".8"/><path d="M257.1 299.5l2.1 .9 2.8 8.7-2.1-.5z" fill="#7794ff" stroke="#7794ff" fill-opacity=".3"/><path d="M168.6 301.6l1.6-2.1 3.5-2.2-1.7 2.4z" fill="#7591fd" stroke="#7591fd" fill-opacity=".8"/><path d="M170.2 299.5l3.8-2.6 3.4-2.1-3.8 2.5z" fill="#7895ff" stroke="#7895ff" fill-opacity=".8"/><path d="M209 264.9l2.8 5.1 2.2-6.3-2.7-4.9z" fill="#bad3ff" stroke="#bad3ff" fill-opacity=".8"/><path d="M296.8 112.1l.9 1.5 .4 2.9-.9 .2z" fill="#c02830" stroke="#c02830" fill-opacity=".3"/><path d="M269.2 324.3l2-.8 4.2 6.3-2 1z" fill="#5d6de4" stroke="#5d6de4"/><path d="M276.7 180.4l1.7-1.2 .7 11.1-1.7-1.5z" fill="#f4987f" stroke="#f4987f" fill-opacity=".3"/><path d="M263 316.5l2.1-0 4.1 7.9-2.1 .5z" fill="#6378ec" stroke="#6378ec"/><path d="M262.8 243.9l1.3 3.1 1.5 11-1.3-3z" fill="#d7dde7" stroke="#d7dde7" fill-opacity=".3"/><path d="M234.2 237l2 1 1.4-6.6-2.1-1.8z" fill="#e9d5cc" stroke="#e9d5cc" fill-opacity=".7"/><path d="M283.5 160.6l1.6-2.3 .6 10.1-1.6 2.7z" fill="#ed836b" stroke="#ed836b" fill-opacity=".3"/><path d="M292.7 128.2l1.8 .5 .5 7.1-1.8 2.1z" fill="#d55045" stroke="#d55045" fill-opacity=".3"/><path d="M262.8 237.3l2-.9 1.3 12-2.1-1.5z" fill="#e1dad7" stroke="#e1dad7" fill-opacity=".3"/><path d="M273.9 192l2.3-1.2 .8 11-2.3-.6z" fill="#f7a990" stroke="#f7a990" fill-opacity=".3"/><path d="M290.1 140.4l1.8-.7 .6 9.3-1.8 .6z" fill="#df6352" stroke="#df6352" fill-opacity=".3"/><path d="M198.5 283l1.8 2.7 2.4-4.7-1.8-2.9z" fill="#94b5ff" stroke="#94b5ff" fill-opacity=".8"/><path d="M295.5 114l.9-3.3 .5-.6-.9-1.9z" fill="#bb1b2c" stroke="#bb1b2c"/><path d="M255.2 282.9l2 1.2 2 9.2-2-1z" fill="#93b4ff" stroke="#93b4ff" fill-opacity=".3"/><path d="M295.5 117.6l1.7-.9 .4 9.8-1.6-2.9z" fill="#ca3b39" stroke="#ca3b39" fill-opacity=".3"/><path d="M258.4 261.8l2.1 2.2 1.9 10.8-2.1-1.6z" fill="#bad3ff" stroke="#bad3ff" fill-opacity=".3"/><path d="M298 329.3l.6-3 12.8 13.9-2.7 .9z" fill="#5764dc" stroke="#5764dc"/><path d="M277.7 328l.7-4.1 5.2 7.4-.6 3.6z" fill="#5b6ae1" stroke="#5b6ae1"/><path d="M264.4 225.5l2.2-6.4 1 10.5-2.1 5.8z" fill="#efcfc1" stroke="#efcfc1" fill-opacity=".3"/><path d="M282.6 140.2l2.5-1.4 .9-9.7-2.6 4.4z" fill="#d75448" stroke="#d75448"/><path d="M276.5 159.4l.6-2 .8-10.4-.5 5.9z" fill="#e6725d" stroke="#e6725d"/><path d="M289 128.5l1.8-3.6 .8-6.8-1.8 2.8z" fill="#cb3e3a" stroke="#cb3e3a"/><path d="M258.1 313.4l1.8-4.8 3.1 7.8-1.8 4.4z" fill="#6a82f4" stroke="#6a82f4" fill-opacity=".4"/><path d="M259.4 190.9l1.5-3.3 1-8.1-1.5 5.3z" fill="#f4987f" stroke="#f4987f"/><path d="M266.6 219.2l1.5-3.6 1.1 10.7-1.5 3.4z" fill="#f2cbba" stroke="#f2cbba" fill-opacity=".3"/><path d="M293.2 116.4l1.7 1 .6-3.4-1.7-3z" fill="#c32e33" stroke="#c32e33"/><path d="M285.7 330.3l1.4-2.8 5.3 6.5-1.4 2.6z" fill="#5967df" stroke="#5967df"/><path d="M265.1 177.3l2.3-.7 .9-8.1-2.3 1.6z" fill="#ee846c" stroke="#ee846c"/><path d="M162.6 309.7l-2.9-8.8 3.8-.5 2.9 9z" fill="#708af9" stroke="#708af9" fill-opacity=".7"/><path d="M255.3 305.2l1.8-5.8 2.8 9.2-1.8 4.8z" fill="#7693fe" stroke="#7693fe" fill-opacity=".4"/><path d="M296.5 112.1l.9-2.1 .3 3.5-.9-1.4z" fill="#bb1b2c" stroke="#bb1b2c" fill-opacity=".3"/><path d="M189.9 288.5l2.2 .6 2.6-3-2.3-1.5z" fill="#8bacff" stroke="#8bacff" fill-opacity=".8"/><path d="M272.1 195.7l1.8-3.7 .8 9.2-1.8 5.3z" fill="#f7aa91" stroke="#f7aa91" fill-opacity=".3"/><path d="M271.3 166.5l2.4-2.5 .9-8.8-2.4 2.1z" fill="#e7745f" stroke="#e7745f"/><path d="M255.1 291.2l2.1 1.1 2.1 8.1-2.2-1z" fill="#87a7ff" stroke="#87a7ff" fill-opacity=".3"/><path d="M273.8 164l2.7-4.6 .9-6.6-2.7 2.3z" fill="#e6725d" stroke="#e6725d"/><path d="M166.2 303.1l2.4-1.5 3.4-1.9-2.4 1.3z" fill="#7693fe" stroke="#7693fe" fill-opacity=".8"/><path d="M287.6 143.5l2.5-3.1 .6 9.2-2.5 2z" fill="#e06553" stroke="#e06553" fill-opacity=".3"/><path d="M261.2 320.8l1.8-4.3 4.1 8.3-1.8 3.4z" fill="#6378ec" stroke="#6378ec"/><path d="M256.2 314.9l1.9-1.5 3.1 7.4-1.9 1.4z" fill="#6880f2" stroke="#6880f2" fill-opacity=".4"/><path d="M263.8 227.9l.7-2.4 1 9.9-.6 1z" fill="#edd1c4" stroke="#edd1c4" fill-opacity=".3"/><path d="M296.3 108.9l.9 1.5 .2-.4-.9 2.1z" fill="#b8122a" stroke="#b8122a" fill-opacity=".3"/><path d="M244.1 216.3l2.4-3.4 1.2-6.5-2.4 2.3z" fill="#f6bda7" stroke="#f6bda7"/><path d="M296 108.2l.9 2 .3 .2-.9-1.5z" fill="#b70d29" stroke="#b70d29"/><path d="M270 207.2l1.5-3.6 .9 10.1-1.5 5.7z" fill="#f7baa3" stroke="#f7baa3" fill-opacity=".3"/><path d="M253.4 306.3l1.9-1.1 2.8 8.2-1.9 1.5z" fill="#728dfa" stroke="#728dfa" fill-opacity=".4"/><path d="M249.1 207.2l2 1.5 1.1-7.8-2-.3z" fill="#f7b39a" stroke="#f7b39a"/><path d="M208.8 275.2l.2-10.4 2.3-6-.2 10z" fill="#b7d1ff" stroke="#b7d1ff" fill-opacity=".8"/><path d="M281 141l1.6-.7 .8-6.7-1.6-.1z" fill="#d85649" stroke="#d85649"/><path d="M287.7 130.1l1.3-1.7 .8-7.6-1.3 4.5z" fill="#cc403c" stroke="#cc403c"/><path d="M242.7 221.4l1.4-5.1 1.2-7.6-1.4 4.8z" fill="#f5c1ad" stroke="#f5c1ad"/><path d="M296 330.7l2-1.4 10.7 11.8-2.7 .9z" fill="#5764dc" stroke="#5764dc"/><path d="M275.4 329.8l2.3-1.8 5.3 6.9-2.3 1.6z" fill="#5a69e0" stroke="#5a69e0"/><path d="M263.3 180.3l1.8-3 .9-7.2-1.8 1.8z" fill="#ee846c" stroke="#ee846c"/><path d="M267.1 324.8l2.1-.5 4.2 6.6-2.1 .7z" fill="#5f70e6" stroke="#5f70e6"/><path d="M255.4 273.2l2.3-4.1 1.9 10.9-2.3 4.1z" fill="#aecbff" stroke="#aecbff" fill-opacity=".3"/><path d="M225.9 247.9l.9 1.7 1.5-7-.9-2.1z" fill="#dcdddd" stroke="#dcdddd" fill-opacity=".8"/><path d="M294 121.5l1.6-3.9 .5 6-1.6 5.1z" fill="#ca3b39" stroke="#ca3b39" fill-opacity=".3"/><path d="M257.7 269.1l.7-7.3 1.8 11.4-.6 6.7z" fill="#b9d2ff" stroke="#b9d2ff" fill-opacity=".3"/><path d="M189 296.2l.9-7.7 2.5-3.9-.9 8.6z" fill="#88a8ff" stroke="#88a8ff" fill-opacity=".8"/><path d="M256.5 189.7l2.9 1.2 1-6.1-2.9-4.3z" fill="#f4987f" stroke="#f4987f"/><path d="M253.3 297.3l1.8-6 2.1 8.2-1.9 5.8z" fill="#84a4ff" stroke="#84a4ff" fill-opacity=".3"/><path d="M291.4 131.2l1.3-3 .5 9.7-1.3 1.8z" fill="#d44e44" stroke="#d44e44" fill-opacity=".3"/><path d="M283.6 331.3l2.1-1 5.3 6.4-2.1 1.2z" fill="#5967df" stroke="#5967df"/><path d="M269.6 165.5l1.7 .9 .9-9.1-1.7 3z" fill="#e5705c" stroke="#e5705c"/><path d="M259.3 322.2l1.9-1.4 4.1 7.4-1.9 1.6z" fill="#6175ea" stroke="#6175ea"/><path d="M282.9 162.9l.5-2.3 .7 10.6-.6 1.9z" fill="#ed836b" stroke="#ed836b" fill-opacity=".3"/><path d="M286 143.9l1.6-.4 .6 8.1-1.6 1.6z" fill="#e16755" stroke="#e16755" fill-opacity=".3"/><path d="M275.4 182.4l1.3-2 .7 8.4-1.3 2z" fill="#f3977d" stroke="#f3977d" fill-opacity=".3"/><path d="M259 253.2l1.4-6.1 1.5 10.9-1.4 5.9z" fill="#d3dcec" stroke="#d3dcec" fill-opacity=".3"/><path d="M196.4 286.8l2-3.9 2.4-4.9-2 3.6z" fill="#98b9ff" stroke="#98b9ff" fill-opacity=".8"/><path d="M260.4 247.1l2.4-3.2 1.5 11.1-2.4 3z" fill="#dadde2" stroke="#dadde2" fill-opacity=".3"/><path d="M251.3 298.2l1.9-.9 2.1 8-1.9 1.1z" fill="#809fff" stroke="#809fff" fill-opacity=".3"/><path d="M279.5 146.1l1.5-5.1 .8-7.5-1.5 6.6z" fill="#d85649" stroke="#d85649"/><path d="M291.6 118.1l1.6-1.7 .6-5.4-1.6 4.9z" fill="#c02830" stroke="#c02830"/><path d="M277.8 169.5l2.4-1.1 .7 8.9-2.4 1.9z" fill="#ee846c" stroke="#ee846c" fill-opacity=".3"/><path d="M295.1 113.2l1.7-1.1 .4 4.6-1.7 .9z" fill="#c02830" stroke="#c02830" fill-opacity=".3"/><path d="M267.2 204.7l2.9 2.5 .9 12.2-2.9-3.8z" fill="#f7baa4" stroke="#f7baa4" fill-opacity=".3"/><path d="M253.4 272.4l2 .9 1.9 10.9-2-1.2z" fill="#aecbff" stroke="#aecbff" fill-opacity=".3"/><path d="M253.1 281.7l2.1 1.3 2 9.4-2.1-1.2z" fill="#9bbcff" stroke="#9bbcff" fill-opacity=".3"/><path d="M294.8 332.6l1.2-2 10 11.3-2.7 .9z" fill="#5764dc" stroke="#5764dc"/><path d="M273.4 330.9l2-1.1 5.2 6.7-1.9 1.3z" fill="#5a69e0" stroke="#5a69e0"/><path d="M280.2 168.4l2.7-5.6 .6 10.3-2.6 4.2z" fill="#ee846c" stroke="#ee846c" fill-opacity=".3"/><path d="M270.7 194.4l1.4 1.3 .8 10.7-1.4-2.8z" fill="#f7aa91" stroke="#f7aa91" fill-opacity=".3"/><path d="M293.8 111l1.6 3.1 .5-5.9-1.6 2.6z" fill="#bb1b2c" stroke="#bb1b2c"/><path d="M265.3 328.2l1.8-3.4 4.3 6.9-1.9 2.9z" fill="#5d6fe5" stroke="#5d6fe5"/><path d="M240.6 219.7l2.2 1.7 1.1-7.9-2.1-.8z" fill="#f5c1ac" stroke="#f5c1ac"/><path d="M252.9 198.2l2.2-4.6 .9-6.2-2.1 3.5z" fill="#f5a086" stroke="#f5a086"/><path d="M232.1 235.5l2.2 1.5 1.3-7.5-2.2-2.6z" fill="#edd1c4" stroke="#edd1c4" fill-opacity=".7"/><path d="M255 193.6l1.5-3.9 1-9.2-1.5 6.9z" fill="#f59c82" stroke="#f59c82"/><path d="M292.2 122.3l1.8-.8 .5 7.2-1.8-.5z" fill="#ca3b39" stroke="#ca3b39" fill-opacity=".3"/><path d="M163.5 300.4l2.7 2.7 3.5-2.1-2.8-3.3z" fill="#7a98ff" stroke="#7a98ff" fill-opacity=".8"/><path d="M215.8 258.5l2.4 1.7 1.9-6.2-2.5-2.9z" fill="#d1dcef" stroke="#d1dcef" fill-opacity=".8"/><path d="M284.5 148.6l1.5-4.7 .5 9.3-1.4 5z" fill="#e16755" stroke="#e16755" fill-opacity=".3"/><path d="M220.8 256.7l3.3-4.8 1.5-6.8-3.3 4.3z" fill="#d7dde5" stroke="#d7dde5" fill-opacity=".8"/><path d="M277.9 147.1l1.6-1 .8-6-1.6 1.7z" fill="#d9584b" stroke="#d9584b"/><path d="M186.6 293.1l2.3 3 2.6-2.9-2.4-4.2z" fill="#87a7ff" stroke="#87a7ff" fill-opacity=".8"/><path d="M160.1 319.1l.9-2.3 5.2 2.4-.9 2.3z" fill="#6378ec" stroke="#6378ec"/><path d="M261.6 234.8l1.3 2.6 1.2 9.6-1.2-3.1z" fill="#e8d6cd" stroke="#e8d6cd" fill-opacity=".3"/><path d="M294.8 111.6l1.7 .4 .3 0-1.7 1.1z" fill="#bb1b2c" stroke="#bb1b2c" fill-opacity=".3"/><path d="M285.9 129.2l1.8 1 .8-4.9-1.8-.8z" fill="#ca3b39" stroke="#ca3b39"/><path d="M261.9 179.5l1.4 .8 1-8.4-1.5 1.9z" fill="#ee846c" stroke="#ee846c"/><path d="M206.8 269.6l2 5.7 2.3-6.4-2-5.5z" fill="#b7d1ff" stroke="#b7d1ff" fill-opacity=".8"/><path d="M289.8 120.8l1.8-2.8 .6-2.1-1.8 2.3z" fill="#c12b31" stroke="#c12b31"/><path d="M256.9 251.6l2.1 1.6 1.5 10.8-2.1-2.2z" fill="#d3dcec" stroke="#d3dcec" fill-opacity=".3"/><path d="M255.4 315.2l.8-.3 3 7.3-.7 1.1z" fill="#6a82f4" stroke="#6a82f4" fill-opacity=".4"/><path d="M294.6 111.6l1.7-2.7 .2 3.1-1.7-.4z" fill="#ba162b" stroke="#ba162b" fill-opacity=".3"/><path d="M289.6 132l1.8-.8 .5 8.5-1.8 .7z" fill="#d24b42" stroke="#d24b42" fill-opacity=".3"/><path d="M261.7 227l2 .9 1.1 8.5-2 .9z" fill="#efcebf" stroke="#efcebf" fill-opacity=".3"/><path d="M251.3 288.2l1.8-6.5 2 9.6-1.8 6z" fill="#99baff" stroke="#99baff" fill-opacity=".3"/><path d="M273.1 182.9l2.3-.4 .7 8.3-2.3 1.2z" fill="#f3947a" stroke="#f3947a" fill-opacity=".3"/><path d="M283 334.9l.7-3.7 5.3 6.6-.7 3.4z" fill="#5967df" stroke="#5967df"/><path d="M276.1 171.1l1.7-1.6 .7 9.7-1.7 1.2z" fill="#ec8169" stroke="#ec8169" fill-opacity=".3"/><path d="M230.3 241.9l1.8-6.4 1.3-8.6-1.8 7.5z" fill="#ecd3c7" stroke="#ecd3c7" fill-opacity=".7"/><path d="M194.7 286.1l1.8 .8 2.4-5.2-1.8-1.1z" fill="#98b8ff" stroke="#98b8ff" fill-opacity=".8"/><path d="M294.3 110.8l1.7-2.6 .3 .7-1.7 2.7z" fill="#b8122a" stroke="#b8122a"/><path d="M252.2 200.9l.7-2.8 1-7.3-.7 3.8z" fill="#f6a389" stroke="#f6a389"/><path d="M263.3 329.8l1.9-1.6 4.3 6.5-2 1.6z" fill="#5d6de4" stroke="#5d6de4"/><path d="M292.4 334l2.4-1.4 8.5 10.2-2.7 .9z" fill="#5866dd" stroke="#5866dd"/><path d="M252.6 306.1l.8 .2 2.8 8.6-.8 .3z" fill="#7693fe" stroke="#7693fe" fill-opacity=".4"/><path d="M293.6 115.7l1.6-2.5 .4 4.4-1.6 3.9z" fill="#c02830" stroke="#c02830" fill-opacity=".3"/><path d="M268.3 168.5l1.3-3 .9-5.2-1.3 .1z" fill="#e46e5a" stroke="#e46e5a"/><path d="M263.5 215.1l2.2-5.1 .9 9.2-2.2 6.4z" fill="#f6bfa9" stroke="#f6bfa9" fill-opacity=".3"/><path d="M249.4 289.7l1.9-1.5 2 9.1-1.9 .9z" fill="#92b3ff" stroke="#92b3ff" fill-opacity=".3"/><path d="M237.6 231.4l2.3-4.5 1.2-6.7-2.3 3.3z" fill="#f2cab8" stroke="#f2cab8" fill-opacity=".6"/><path d="M224.1 251.9l1.8-4 1.5-7.4-1.8 4.7z" fill="#dedcdb" stroke="#dedcdb" fill-opacity=".8"/><path d="M282.9 150.2l1.6-1.6 .6 9.6-1.6 2.4z" fill="#e36b58" stroke="#e36b58" fill-opacity=".3"/><path d="M292.2 115.9l1.6-4.9 .4-.2-1.5 4.3z" fill="#bb1b2c" stroke="#bb1b2c"/><path d="M239.9 226.9l.7-7.2 1.2-6.9-.7 7.4z" fill="#f5c4b0" stroke="#f5c4b0" fill-opacity=".5"/><path d="M228.3 242.5l2-.6 1.3-7.5-2-.3z" fill="#ead5cb" stroke="#ead5cb" fill-opacity=".7"/><path d="M265.7 210l1.5-5.3 1 10.9-1.6 3.6z" fill="#f7baa3" stroke="#f7baa3" fill-opacity=".3"/><path d="M258.5 323.3l.8-1.1 4 7.6-.7 1.7z" fill="#6276eb" stroke="#6276eb"/><path d="M271.3 331.7l2.1-.8 5.3 7-2.1 1.1z" fill="#5b6ae1" stroke="#5b6ae1"/><path d="M214.1 263.7l1.7-5.2 1.8-7.4-1.7 5.4z" fill="#d0dcf1" stroke="#d0dcf1" fill-opacity=".8"/><path d="M247.8 206.5l1.3 .7 1.1-6.6-1.3-2.5z" fill="#f7ac93" stroke="#f7ac93"/><path d="M202.7 281l2.8-3.1 2.2-6.7-2.7 4.3z" fill="#a9c7ff" stroke="#a9c7ff" fill-opacity=".8"/><path d="M287 134.1l2.5-2.2 .6 8.4-2.6 3.2z" fill="#d44e44" stroke="#d44e44" fill-opacity=".3"/><path d="M288.5 125.3l1.3-4.4 .6-2.7-1.3 2.4z" fill="#c12b31" stroke="#c12b31"/><path d="M262.8 218.4l.7-3.3 .9 10.4-.7 2.4z" fill="#f5c4b0" stroke="#f5c4b0" fill-opacity=".3"/><path d="M271.3 185.8l1.8-2.9 .7 9.1-1.8 3.7z" fill="#f3957c" stroke="#f3957c" fill-opacity=".3"/><path d="M283.4 133.6l2.5-4.4 .8-4.7-2.5 .6z" fill="#ca3b39" stroke="#ca3b39"/><path d="M182.4 302.5l2.8-5.6 2.5-3.3-2.8 6.5z" fill="#809fff" stroke="#809fff" fill-opacity=".8"/><path d="M220.1 254l.8 2.6 1.5-7.2-.8-2.2z" fill="#d9dde3" stroke="#d9dde3" fill-opacity=".8"/><path d="M290.9 124.6l1.3-2.3 .5 5.9-1.3 3z" fill="#c83838" stroke="#c83838" fill-opacity=".3"/><path d="M292.7 115.1l1.6-4.3 .3 .9-1.6 1.8z" fill="#ba162b" stroke="#ba162b"/><path d="M290.4 118.2l1.8-2.3 .5-.8-1.8 2.2z" fill="#bd1f2e" stroke="#bd1f2e"/><path d="M253.9 263.2l2.3-5 1.5 10.9-2.3 4.1z" fill="#c9daf8" stroke="#c9daf8" fill-opacity=".3"/><path d="M291 336.6l1.4-2.6 8.2 9.7-2.7 .9z" fill="#5764dc" stroke="#5764dc"/><path d="M277.3 152.9l.6-5.8 .8-5.3-.6 3.2z" fill="#da5a4c" stroke="#da5a4c"/><path d="M269.2 199.3l1.5-4.9 .8 9.2-1.5 3.6z" fill="#f7a68d" stroke="#f7a68d" fill-opacity=".3"/><path d="M291.7 119l1.8-3.3 .4 5.8-1.8 .8z" fill="#c02830" stroke="#c02830" fill-opacity=".3"/><path d="M256.2 258.2l.7-6.6 1.5 10.3-.7 7.3z" fill="#d2dced" stroke="#d2dced" fill-opacity=".3"/><path d="M260.4 184.8l1.5-5.3 .9-5.8-1.5 2.6z" fill="#ee846c" stroke="#ee846c"/><path d="M177.4 294.8l4.9 7.7 2.6-2.4-5-9z" fill="#82a1ff" stroke="#82a1ff" fill-opacity=".8"/><path d="M280.7 336.5l2.3-1.6 5.3 6.3-2.3 1.5z" fill="#5865dd" stroke="#5865dd"/><path d="M250.5 297.6l.8 .6 2 8.2-.7-.3z" fill="#86a5ff" stroke="#86a5ff" fill-opacity=".3"/><path d="M293.3 113.2l1.6-1.6 .3 1.6-1.6 2.5z" fill="#ba162b" stroke="#ba162b" fill-opacity=".3"/><path d="M235.6 229.6l2 1.8 1.2-7.8-2-.5z" fill="#f2c9b7" stroke="#f2c9b7" fill-opacity=".6"/><path d="M293 113.5l1.6-1.8 .2-.1-1.6 1.6z" fill="#b8122a" stroke="#b8122a" fill-opacity=".3"/><path d="M166.2 319.2l-3.7-9.5 3.9-.3 3.7 10.1z" fill="#6d86f6" stroke="#6d86f6" fill-opacity=".6"/><path d="M266 170.1l2.3-1.6 .8-8.1-2.2 2.8z" fill="#e36c59" stroke="#e36c59"/><path d="M172 299.7l1.6-2.4 2.5-3.1-1.6 2.4z" fill="#84a4ff" stroke="#84a4ff" fill-opacity=".8"/><path d="M251.2 270.9l2.1 1.5 1.9 10.6-2.1-1.3z" fill="#b7d1ff" stroke="#b7d1ff" fill-opacity=".3"/><path d="M205.5 277.8l1.3-8.3 2.2-6.2-1.3 7.8z" fill="#b8d1ff" stroke="#b8d1ff" fill-opacity=".8"/><path d="M185.1 296.9l1.5-3.8 2.5-4.1-1.5 4.7z" fill="#8aaaff" stroke="#8aaaff" fill-opacity=".8"/><path d="M157.9 319.6l2.2-.5 5.2 2.4-2.2-.1z" fill="#657bef" stroke="#657bef"/><path d="M173.6 297.3l3.8-2.5 2.5-3.7-3.8 3.1z" fill="#89a9ff" stroke="#89a9ff" fill-opacity=".8"/><path d="M274.7 172.7l1.3-1.6 .7 9.3-1.3 2z" fill="#ec8169" stroke="#ec8169" fill-opacity=".3"/><path d="M269.5 334.6l1.8-3 5.3 7.3-1.8 2.5z" fill="#5b6ae1" stroke="#5b6ae1"/><path d="M272.2 157.3l2.5-2.1 .8-7.5-2.5 4.8z" fill="#da5a4c" stroke="#da5a4c"/><path d="M281.8 133.5l1.6 .1 .8-8.5-1.6 3.6z" fill="#cb3e3a" stroke="#cb3e3a"/><path d="M250.3 321.6l3.4-3.2 3 7.7-3.3 2.3z" fill="#6880f2" stroke="#6880f2" fill-opacity=".4"/><path d="M285.4 134.9l1.6-.8 .6 9.4-1.7 .4z" fill="#d55045" stroke="#d55045" fill-opacity=".3"/><path d="M259.1 236.9l2.4-2.2 1.3 9.1-2.4 3.3z" fill="#ead4c9" stroke="#ead4c9" fill-opacity=".3"/><path d="M257.7 242.8l1.4-5.9 1.3 10.2-1.4 6.1z" fill="#e6d7d0" stroke="#e6d7d0" fill-opacity=".3"/><path d="M253.6 318.4l1.8-3.2 3.1 8.1-1.8 2.9z" fill="#6b84f5" stroke="#6b84f5" fill-opacity=".4"/><path d="M274.7 155.2l2.7-2.3 .8-7.9-2.7 2.7z" fill="#da5a4c" stroke="#da5a4c"/><path d="M247.5 313.3l3.4-3.7 2.8 8.8-3.4 3.2z" fill="#728dfb" stroke="#728dfb" fill-opacity=".4"/><path d="M251.8 262.1l2 1 1.5 10.1-2-.9z" fill="#c8d9f9" stroke="#c8d9f9" fill-opacity=".3"/><path d="M288.9 337.8l2.1-1.2 6.9 8-2.7 .9z" fill="#5764dc" stroke="#5764dc"/><path d="M262.6 331.5l.7-1.7 4.3 6.5-.7 2z" fill="#5e6fe5" stroke="#5e6fe5"/><path d="M211.3 258.8l2.8 4.9 1.8-7.2-2.8-5z" fill="#d2dced" stroke="#d2dced" fill-opacity=".8"/><path d="M250.1 200.6l2 .3 1-6.3-2-1.3z" fill="#f5a086" stroke="#f5a086"/><path d="M282.4 153.4l.6-3.2 .5 10.4-.5 2.2z" fill="#e26956" stroke="#e26956" fill-opacity=".3"/><path d="M286.7 124.5l1.8 .8 .6-4.7-1.8 1.8z" fill="#c02830" stroke="#c02830"/><path d="M290.9 117.3l1.8-2.3 .3-1.6-1.8 .3z" fill="#b8122a" stroke="#b8122a"/><path d="M250.8 309.6l1.8-3.5 2.8 9.1-1.8 3.2z" fill="#7794ff" stroke="#7794ff" fill-opacity=".3"/><path d="M200.9 278.1l1.8 2.9 2.3-5.5-1.9-3.6z" fill="#adcaff" stroke="#adcaff" fill-opacity=".8"/><path d="M289.1 127.4l1.8-2.8 .5 6.6-1.8 .8z" fill="#c73636" stroke="#c73636" fill-opacity=".3"/><path d="M277.2 161.1l2.5-3.3 .6 10.6-2.5 1.1z" fill="#e36c59" stroke="#e36c59" fill-opacity=".3"/><path d="M249.4 277.2l1.8-6.3 1.9 10.8-1.8 6.5z" fill="#b4cfff" stroke="#b4cfff" fill-opacity=".3"/><path d="M256.7 326.1l1.8-2.8 4.1 8.1-1.8 2.6z" fill="#6378ec" stroke="#6378ec"/><path d="M270.5 160.4l1.7-3 .8-4.8-1.7-.7z" fill="#da5a4c" stroke="#da5a4c"/><path d="M278.7 337.8l2-1.3 5.3 6.2-2 1.4z" fill="#5865dd" stroke="#5865dd"/><path d="M245.3 208.7l2.4-2.3 1.1-8.3-2.4 3.3z" fill="#f7aa91" stroke="#f7aa91"/><path d="M264.2 171.9l1.8-1.7 .8-7-1.8 .7z" fill="#e46e5a" stroke="#e46e5a"/><path d="M280.3 140.1l1.5-6.6 .7-4.8-1.4 4.1z" fill="#cc403c" stroke="#cc403c"/><path d="M266.3 196.1l2.9 3.2 .8 7.9-2.9-2.6z" fill="#f7a68d" stroke="#f7a68d" fill-opacity=".3"/><path d="M253.4 328.4l3.4-2.3 4.1 7.9-3.4 1.7z" fill="#6175ea" stroke="#6175ea"/><path d="M257.5 180.5l2.9 4.3 .9-8.5-2.9-.8z" fill="#ee846c" stroke="#ee846c"/><path d="M289.1 120.5l1.3-2.3 .4-.9-1.2-.2z" fill="#bb1b2c" stroke="#bb1b2c"/><path d="M166.4 309.4l-3-9 3.4-2.6 3 9.3z" fill="#7d9bff" stroke="#7d9bff" fill-opacity=".8"/><path d="M247.5 278.3l1.9-1.2 1.9 11-1.9 1.5z" fill="#adcaff" stroke="#adcaff" fill-opacity=".3"/><path d="M291.5 113.4l1.8-.2 .3 2.5-1.8 3.3z" fill="#b8122a" stroke="#b8122a" fill-opacity=".3"/><path d="M169.6 301l2.4-1.3 2.4-3.2-2.3 1.6z" fill="#84a4ff" stroke="#84a4ff" fill-opacity=".8"/><path d="M290.5 120.2l1.3-1.2 .4 3.3-1.3 2.3z" fill="#c02830" stroke="#c02830" fill-opacity=".3"/><path d="M243.9 213.5l1.4-4.8 1.1-7.3-1.4 5z" fill="#f7af96" stroke="#f7af96"/><path d="M192.4 284.6l2.3 1.5 2.3-5.5-2.2-1.3z" fill="#a1c1ff" stroke="#a1c1ff" fill-opacity=".8"/><path d="M269.9 184.7l1.4 1.1 .8 9.9-1.4-1.3z" fill="#f3947a" stroke="#f3947a" fill-opacity=".3"/><path d="M279.6 157.8l2.7-4.4 .6 9.4-2.7 5.6z" fill="#e36b58" stroke="#e36b58" fill-opacity=".3"/><path d="M267.6 336.2l1.9-1.6 5.3 6.8-1.9 1.7z" fill="#5a69e0" stroke="#5a69e0"/><path d="M260.5 224.5l1.3 2.6 1.1 10.3-1.3-2.6z" fill="#f2cab8" stroke="#f2cab8" fill-opacity=".3"/><path d="M245.4 305.8l3.4-4.6 2 8.4-3.3 3.7z" fill="#7f9dff" stroke="#7f9dff" fill-opacity=".3"/><path d="M255.6 241.2l2.1 1.6 1.3 10.4-2.1-1.6z" fill="#e5d8d2" stroke="#e5d8d2" fill-opacity=".3"/><path d="M248.5 288l.8 1.7 2 8.5-.8-.6z" fill="#99baff" stroke="#99baff" fill-opacity=".3"/><path d="M260.8 217.7l2 .7 1 9.5-2-.9z" fill="#f5c0ab" stroke="#f5c0ab" fill-opacity=".3"/><path d="M272.5 175.4l2.3-2.6 .6 9.7-2.2 .4z" fill="#ec7f68" stroke="#ec7f68" fill-opacity=".3"/><path d="M284 138.5l1.5-3.6 .5 9-1.5 4.7z" fill="#d44e44" stroke="#d44e44" fill-opacity=".3"/><path d="M249.6 320.7l.7 .9 3 6.9-.6 0z" fill="#6981f3" stroke="#6981f3" fill-opacity=".4"/><path d="M291.2 113.7l1.8-.3 .2-.3-1.8 .2z" fill="#b50928" stroke="#b50928" fill-opacity=".3"/><path d="M278.7 141.8l1.6-1.7 .8-7.3-1.6 2.3z" fill="#cf453e" stroke="#cf453e"/><path d="M275.4 162.7l1.7-1.5 .6 8.4-1.7 1.5z" fill="#e36b58" stroke="#e36b58" fill-opacity=".3"/><path d="M288.3 341.2l.7-3.4 6.3 7.7-2.7 .9z" fill="#5764dc" stroke="#5764dc"/><path d="M286.5 127.2l2.5 .2 .5 4.6-2.5 2.1z" fill="#c83838" stroke="#c83838" fill-opacity=".3"/><path d="M246.8 311.7l.7 1.6 2.8 8.3-.7-.9z" fill="#738efb" stroke="#738efb" fill-opacity=".4"/><path d="M248.8 301.2l1.8-3.6 2 8.5-1.7 3.5z" fill="#87a7ff" stroke="#87a7ff" fill-opacity=".3"/><path d="M227.4 240.4l.9 2.1 1.3-8.4-.9-1z" fill="#edd2c5" stroke="#edd2c5" fill-opacity=".6"/><path d="M191.5 293.2l.9-8.6 2.4-5.3-.9 8.9z" fill="#9dbdff" stroke="#9dbdff" fill-opacity=".8"/><path d="M211.1 268.8l.2-10 1.8-7.3-.2 11z" fill="#d0dcf1" stroke="#d0dcf1" fill-opacity=".8"/><path d="M262.6 205.5l2.2-5.3 .8 9.8-2.2 5.1z" fill="#f7ad94" stroke="#f7ad94" fill-opacity=".3"/><path d="M276.6 338.9l2.1-1.1 5.3 6.3-2.1 1.3z" fill="#5967df" stroke="#5967df"/><path d="M264.8 200.1l1.5-4 .9 8.5-1.6 5.3z" fill="#f7a88e" stroke="#f7a88e" fill-opacity=".3"/><path d="M284.2 125.1l2.5-.7 .6-2-2.5-1.5z" fill="#be242f" stroke="#be242f"/><path d="M289.6 117.2l1.3 .2 .3-3.6-1.3 4.1z" fill="#b70d29" stroke="#b70d29"/><path d="M256 187.4l1.5-6.9 .9-5-1.5 1.7z" fill="#ee866e" stroke="#ee866e"/><path d="M290.2 118.8l1.3-5.5 .3 5.6-1.3 1.3z" fill="#b8122a" stroke="#b8122a" fill-opacity=".3"/><path d="M253.8 190.8l2.2-3.4 .9-10.2-2.2 5.7z" fill="#f08b72" stroke="#f08b72"/><path d="M252.7 328.5l.6-.1 4.1 7.3-.6 1.1z" fill="#6175ea" stroke="#6175ea"/><path d="M260.8 334.1l1.8-2.6 4.2 6.8-1.7 2.4z" fill="#5d6fe5" stroke="#5d6fe5"/><path d="M288.7 123.2l1.8-3 .4 4.4-1.8 2.8z" fill="#be242f" stroke="#be242f" fill-opacity=".3"/><path d="M269.1 160.4l1.3-0 .8-8.5-1.3 4.7z" fill="#d9584b" stroke="#d9584b"/><path d="M287.3 122.4l1.8-1.8 .5-3.4-1.8 4.3z" fill="#ba162b" stroke="#ba162b"/><path d="M241.8 212.8l2.2 .8 1-7.1-2.2-2.1z" fill="#f7b097" stroke="#f7b097"/><path d="M282.4 140.8l1.6-2.3 .5 10.1-1.6 1.6z" fill="#d55045" stroke="#d55045" fill-opacity=".3"/><path d="M270.7 175.4l1.8-0 .7 7.5-1.8 2.9z" fill="#ec7f68" stroke="#ec7f68" fill-opacity=".3"/><path d="M262.8 173.7l1.4-1.9 .9-7.9-1.5 1.1z" fill="#e46e5a" stroke="#e46e5a"/><path d="M233.4 226.9l2.2 2.6 1.2-6.5-2.2-3.8z" fill="#f5c2ae" stroke="#f5c2ae" fill-opacity=".5"/><path d="M257.4 335.7l3.4-1.7 4.2 6.7-3.4 1.1z" fill="#5d6de4" stroke="#5d6de4"/><path d="M252.6 252.8l2.3-5.3 1.3 10.6-2.3 5z" fill="#dddcdc" stroke="#dddcdc" fill-opacity=".3"/><path d="M244.7 303.6l.7 2.2 2 7.5-.6-1.5z" fill="#81a0ff" stroke="#81a0ff" fill-opacity=".3"/><path d="M286 342.7l2.3-1.5 4.3 5.2-2.7 .9z" fill="#5764dc" stroke="#5764dc"/><path d="M268.5 189.9l1.5-5.3 .7 9.8-1.4 4.9z" fill="#f29279" stroke="#f29279" fill-opacity=".3"/><path d="M198.8 281.6l2-3.6 2.3-6.2-2.1 3.1z" fill="#b1cdff" stroke="#b1cdff" fill-opacity=".8"/><path d="M289.9 117.8l1.3-4.1 .2-.3-1.3 5.4z" fill="#b50928" stroke="#b50928" fill-opacity=".3"/><path d="M249.7 260.6l2.1 1.5 1.6 10.2-2.2-1.5z" fill="#d0dcf1" stroke="#d0dcf1" fill-opacity=".3"/><path d="M243.4 297l3.3-5.1 2 9.3-3.3 4.6z" fill="#92b3ff" stroke="#92b3ff" fill-opacity=".3"/><path d="M254.9 247.5l.7-6.4 1.3 10.5-.7 6.5z" fill="#e4d9d3" stroke="#e4d9d3" fill-opacity=".3"/><path d="M262 206.2l.7-.7 .8 9.6-.6 3.3z" fill="#f7b097" stroke="#f7b097" fill-opacity=".3"/><path d="M222.3 249.4l3.3-4.3 1.3-6.9-3.3 4.5z" fill="#e8d6ce" stroke="#e8d6ce" fill-opacity=".7"/><path d="M166.9 297.7l2.8 3.3 2.4-2.9-2.8-4.3z" fill="#8bacff" stroke="#8bacff" fill-opacity=".8"/><path d="M266.8 338.3l.7-2 5.3 6.8-.7 2.5z" fill="#5b6ae1" stroke="#5b6ae1"/><path d="M253.2 194.6l.7-3.8 .9-7.9-.7 2.9z" fill="#f18f76" stroke="#f18f76"/><path d="M217.6 251.1l2.5 2.9 1.5-6.7-2.5-3.3z" fill="#e2dad6" stroke="#e2dad6" fill-opacity=".7"/><path d="M284.9 127.3l1.6-.1 .5 7-1.6 .8z" fill="#c73636" stroke="#c73636" fill-opacity=".3"/><path d="M189.1 289l2.4 4.2 2.4-5-2.4-3.5z" fill="#9abbff" stroke="#9abbff" fill-opacity=".8"/><path d="M288.3 121.6l1.8-2.7 .3 1.3-1.8 3z" fill="#ba162b" stroke="#ba162b" fill-opacity=".3"/><path d="M274.8 341.4l1.8-2.5 5.3 6.5-1.8 2.2z" fill="#5967df" stroke="#5967df"/><path d="M287.8 121.4l1.8-4.3 .4 .7-1.9 3.1z" fill="#b70d29" stroke="#b70d29"/><path d="M278.2 144.9l.6-3.2 .7-6.7-.5 3.5z" fill="#cf453e" stroke="#cf453e"/><path d="M284.8 120.9l2.5 1.4 .5-.9-2.6 1.7z" fill="#bb1b2c" stroke="#bb1b2c"/><path d="M282.6 128.7l1.6-3.6 .6-4.2-1.6 2.6z" fill="#c02830" stroke="#c02830"/><path d="M286.1 123.3l2.5-.2 .4 4.2-2.5-.2z" fill="#c02830" stroke="#c02830" fill-opacity=".3"/><path d="M258 226.7l2.4-2.3 1.1 10.4-2.4 2.1z" fill="#f3c7b4" stroke="#f3c7b4" fill-opacity=".3"/><path d="M274.1 163.7l1.3-1.1 .6 8.4-1.3 1.7z" fill="#e26956" stroke="#e26956" fill-opacity=".3"/><path d="M165.3 321.5l.9-2.3 3.9 .2-.9 1.8z" fill="#6b84f5" stroke="#6b84f5" fill-opacity=".6"/><path d="M288.1 120.9l1.8-3.1 .3 1.1-1.9 2.7z" fill="#b8122a" stroke="#b8122a" fill-opacity=".3"/><path d="M256.6 232.7l1.4-5.9 1.1 10.2-1.4 5.9z" fill="#f2cbba" stroke="#f2cbba" fill-opacity=".3"/><path d="M231.6 234.4l1.8-7.5 1.1-7.7-1.7 7.9z" fill="#f5c4af" stroke="#f5c4af" fill-opacity=".5"/><path d="M246.8 291.9l1.8-3.9 2 9.6-1.8 3.6z" fill="#9dbdff" stroke="#9dbdff" fill-opacity=".3"/><path d="M284 344.2l2-1.5 3.9 4.6-2.7 .9z" fill="#5764dc" stroke="#5764dc"/><path d="M266.9 163.2l2.3-2.8 .8-3.8-2.3-0z" fill="#d9584b" stroke="#d9584b"/><path d="M250.6 250.4l2 2.4 1.3 10.4-2-1.1z" fill="#dcdddd" stroke="#dcdddd" fill-opacity=".3"/><path d="M248.8 198.1l1.3 2.5 1-7.3-1.3-2.8z" fill="#f3977d" stroke="#f3977d"/><path d="M247.9 267l1.8-6.3 1.5 10.2-1.8 6.3z" fill="#cedbf3" stroke="#cedbf3" fill-opacity=".3"/><path d="M238.8 223.5l2.3-3.4 1.1-8.9-2.4 4.7z" fill="#f7b8a0" stroke="#f7b8a0"/><path d="M241.1 220.2l.7-7.4 1-8.4-.7 6.8z" fill="#f7b199" stroke="#f7b199"/><path d="M209 263.4l2 5.5 1.9-6.3-2.1-5.9z" fill="#cfdbf2" stroke="#cfdbf2" fill-opacity=".8"/><path d="M281.8 147.3l.6-6.5 .5 9.4-.5 3.2z" fill="#d65246" stroke="#d65246" fill-opacity=".3"/><path d="M261.3 176.3l1.5-2.6 .8-8.6-1.5 5.6z" fill="#e46e5a" stroke="#e46e5a"/><path d="M281.1 132.8l1.5-4.1 .6-5.2-1.5 6.5z" fill="#c12b31" stroke="#c12b31"/><path d="M225.7 245.1l1.8-4.7 1.3-7.3-1.8 5.1z" fill="#edd1c4" stroke="#edd1c4" fill-opacity=".6"/><path d="M246.7 276l.8 2.3 1.9 11.4-.8-1.7z" fill="#b3cfff" stroke="#b3cfff" fill-opacity=".3"/><path d="M229.6 234.1l2 .3 1.1-7.3-2-.9z" fill="#f3c7b4" stroke="#f3c7b4" fill-opacity=".5"/><path d="M256.8 336.8l.6-1.1 4.3 6.2-.6 1.8z" fill="#5d6de4" stroke="#5d6de4"/><path d="M245.9 267.8l2-.8 1.5 10.2-2 1.1z" fill="#c8d9f9" stroke="#c8d9f9" fill-opacity=".3"/><path d="M273 152.6l2.5-4.8 .7-6.3-2.4 1.5z" fill="#cd423d" stroke="#cd423d"/><path d="M285.2 123.1l2.5-1.7 .4-.5-2.6-1.4z" fill="#ba162b" stroke="#ba162b"/><path d="M265.6 184.8l2.9 5.1 .7 9.4-2.8-3.2z" fill="#f29279" stroke="#f29279" fill-opacity=".3"/><path d="M275.5 147.7l2.7-2.8 .8-6.3-2.7 2.9z" fill="#cd423d" stroke="#cd423d"/><path d="M242.7 293.8l.7 3.2 2 8.8-.7-2.2z" fill="#93b4ff" stroke="#93b4ff" fill-opacity=".3"/><path d="M197.1 280.6l1.8 1 2.2-6.7-1.8-.8z" fill="#b2ceff" stroke="#b2ceff" fill-opacity=".8"/><path d="M276.6 150.8l2.5-2.2 .5 9.3-2.4 3.3z" fill="#d65247" stroke="#d65247" fill-opacity=".3"/><path d="M184.9 300.2l2.8-6.5 2.3-5.1-2.7 7.5z" fill="#92b3ff" stroke="#92b3ff" fill-opacity=".8"/><path d="M247.2 319.7l2.4 1 3.1 7.8-2.4-.3z" fill="#6f88f8" stroke="#6f88f8" fill-opacity=".4"/><path d="M279.1 148.6l2.7-1.3 .6 6.1-2.7 4.4z" fill="#d75448" stroke="#d75448" fill-opacity=".3"/><path d="M285.8 119.4l2.5 2.1 .3 1.6-2.5 .2z" fill="#ba162b" stroke="#ba162b" fill-opacity=".3"/><path d="M259.5 215.5l1.3 2.2 .9 9.3-1.2-2.6z" fill="#f7b9a2" stroke="#f7b9a2" fill-opacity=".3"/><path d="M215.9 256.5l1.7-5.4 1.5-7.1-1.7 5.5z" fill="#e2dad6" stroke="#e2dad6" fill-opacity=".7"/><path d="M272.9 343.1l1.9-1.7 5.3 6.3-1.9 1.7z" fill="#5865dd" stroke="#5865dd"/><path d="M269.2 177l1.4-1.6 .7 10.4-1.4-1.1z" fill="#eb7d66" stroke="#eb7d66" fill-opacity=".3"/><path d="M221.6 247.3l.8 2.2 1.3-6.7-.8-3.7z" fill="#ead5cb" stroke="#ead5cb" fill-opacity=".7"/><path d="M283.5 131.4l1.5-4.2 .5 7.7-1.5 3.6z" fill="#c53335" stroke="#c53335" fill-opacity=".3"/><path d="M281.9 345.5l2.1-1.3 3.2 4-2.7 .9z" fill="#5764dc" stroke="#5764dc"/><path d="M271.3 151.9l1.7 .7 .8-9.6-1.8 5z" fill="#cd423d" stroke="#cd423d"/><path d="M179.9 291.1l5 9 2.4-4.1-5-9.6z" fill="#94b5ff" stroke="#94b5ff" fill-opacity=".8"/><path d="M236.7 223l2 .5 1.1-7.6-2.1-1.7z" fill="#f7b8a0" stroke="#f7b8a0"/><path d="M204.9 275.4l2.8-4.3 1.8-6.5-2.8 4z" fill="#c4d8fc" stroke="#c4d8fc" fill-opacity=".8"/><path d="M285.6 119.5l2.5 1.4 .2 .7-2.5-2.2z" fill="#b70d29" stroke="#b70d29" fill-opacity=".3"/><path d="M250.3 328.1l2.4 .4 4.1 8.2-2.4 .2z" fill="#657bef" stroke="#657bef"/><path d="M271.8 164.4l2.3-.6 .6 8.9-2.3 2.7z" fill="#e16755" stroke="#e16755" fill-opacity=".3"/><path d="M283.2 123.5l1.6-2.6 .5 2.2-1.6-.5z" fill="#bb1b2c" stroke="#bb1b2c"/><path d="M265.1 340.7l1.8-2.4 5.3 7.3-1.8 2.2z" fill="#5b6ae1" stroke="#5b6ae1"/><path d="M254.5 229.9l2.2 2.8 1.1 10.2-2.2-1.7z" fill="#f2cbba" stroke="#f2cbba" fill-opacity=".3"/><path d="M244.4 310.3l2.4 1.5 2.8 8.9-2.4-1z" fill="#7a98ff" stroke="#7a98ff" fill-opacity=".3"/><path d="M279.5 135.1l1.6-2.3 .6-2.8-1.6-1.7z" fill="#c32e33" stroke="#c32e33"/><path d="M259.9 208.1l2-1.9 .9 12.2-2-.7z" fill="#f7ad94" stroke="#f7ad94" fill-opacity=".3"/><path d="M274.9 153.4l1.7-2.6 .6 10.3-1.7 1.6z" fill="#d65246" stroke="#d65246" fill-opacity=".3"/><path d="M284.5 123.9l1.6-.5 .4 3.8-1.6 .1z" fill="#be242f" stroke="#be242f" fill-opacity=".3"/><path d="M258.4 175.5l2.9 .8 .8-5.6-2.9-3.1z" fill="#e46e5a" stroke="#e46e5a"/><path d="M251.1 193.3l2 1.3 .9-8.8-2 .3z" fill="#f08b72" stroke="#f08b72"/><path d="M174.5 296.6l1.6-2.4 2.4-5-1.7 2.7z" fill="#98b8ff" stroke="#98b8ff" fill-opacity=".8"/><path d="M265.1 163.9l1.8-.7 .8-6.6-1.8-.7z" fill="#d75448" stroke="#d75448"/><path d="M241.5 286.4l3.4-5.4 1.8 10.9-3.3 5.1z" fill="#acc9ff" stroke="#acc9ff" fill-opacity=".3"/><path d="M170.1 319.5l-3.7-10.1 3.4-2.3 3.8 10.5z" fill="#7794ff" stroke="#7794ff" fill-opacity=".8"/><path d="M187.7 293.7l1.5-4.7 2.4-4.3-1.5 3.9z" fill="#9fbfff" stroke="#9fbfff" fill-opacity=".8"/><path d="M176.1 294.2l3.8-3 2.4-4.7-3.9 2.8z" fill="#9cbdff" stroke="#9cbdff" fill-opacity=".8"/><path d="M283.6 122.7l1.6 .4 .4-3.6-1.7 4.8z" fill="#ba162b" stroke="#ba162b"/><path d="M261.7 341.8l3.4-1.1 5.3 7.1-3.4 .7z" fill="#5a69e0" stroke="#5a69e0"/><path d="M281.8 134.9l1.6-3.5 .5 7.1-1.6 2.3z" fill="#c73636" stroke="#c73636" fill-opacity=".3"/><path d="M246.4 201.5l2.4-3.4 1-7.6-2.4 4.4z" fill="#f3957c" stroke="#f3957c"/><path d="M245.5 324.1l1.8-4.4 3 8.5-1.7 3.6z" fill="#6f88f8" stroke="#6f88f8" fill-opacity=".4"/><path d="M261.9 196.1l2.2-6.3 .7 10.4-2.1 5.3z" fill="#f4987f" stroke="#f4987f" fill-opacity=".3"/><path d="M280.1 347.7l1.8-2.2 2.6 3.6-2.7 .9z" fill="#5764dc" stroke="#5764dc"/><path d="M281.7 130l1.5-6.4 .4-.9-1.4 5.2z" fill="#bb1b2c" stroke="#bb1b2c"/><path d="M163.1 321.4l2.3 .1 3.8-.3-2.2-.5z" fill="#6d87f7" stroke="#6d87f7" fill-opacity=".6"/><path d="M245 206.4l1.4-4.9 1-6.6-1.5 2.7z" fill="#f59c82" stroke="#f59c82"/><path d="M207.7 271.2l1.3-7.8 1.8-6.7-1.3 7.9z" fill="#d0dcf0" stroke="#d0dcf0" fill-opacity=".8"/><path d="M264 189.7l1.5-4.9 .8 11.3-1.5 4z" fill="#f29279" stroke="#f29279" fill-opacity=".3"/><path d="M284.2 124.1l1.6-4.7 .4 3.9-1.7 .6z" fill="#ba162b" stroke="#ba162b" fill-opacity=".3"/><path d="M269.9 156.6l1.3-4.7 .8-3.9-1.4 1.5z" fill="#cf453e" stroke="#cf453e"/><path d="M270 168.2l1.8-3.8 .6 11-1.8-0z" fill="#e16755" stroke="#e16755" fill-opacity=".3"/><path d="M283.9 124.3l1.6-4.8 .3-0-1.7 4.6z" fill="#b8122a" stroke="#b8122a" fill-opacity=".3"/><path d="M248.6 331.8l1.8-3.6 4.1 8.8-1.8 3.1z" fill="#657bef" stroke="#657bef"/><path d="M267.8 180.1l1.5-3.1 .7 7.6-1.5 5.3z" fill="#ea7b65" stroke="#ea7b65" fill-opacity=".3"/><path d="M242.6 315.1l1.7-4.8 2.9 9.4-1.8 4.4z" fill="#7a98ff" stroke="#7a98ff" fill-opacity=".3"/><path d="M272.1 345.6l.7-2.5 5.3 6.3-1.8 1.4z" fill="#5967df" stroke="#5967df"/><path d="M213.1 251.5l2.8 5 1.5-7-2.8-5.4z" fill="#e4d9d3" stroke="#e4d9d3" fill-opacity=".7"/><path d="M172.1 298.2l2.4-1.6 2.3-4.7-2.4 1.8z" fill="#98b9ff" stroke="#98b9ff" fill-opacity=".8"/><path d="M242.3 301.5l2.4 2 2.1 8.2-2.4-1.5z" fill="#8bacff" stroke="#8bacff" fill-opacity=".3"/><path d="M248.4 250l2.1 .4 1.3 11.8-2.1-1.6z" fill="#e2dad6" stroke="#e2dad6" fill-opacity=".3"/><path d="M251.5 241.6l2.3-3.9 1.1 9.8-2.3 5.3z" fill="#edd1c4" stroke="#edd1c4" fill-opacity=".3"/><path d="M244.9 281l1.8-5 1.9 12-1.8 3.9z" fill="#b8d2ff" stroke="#b8d2ff" fill-opacity=".3"/><path d="M254.4 336.9l2.4-.1 4.2 6.8-2.3 .5z" fill="#5f72e8" stroke="#5f72e8"/><path d="M203.1 271.8l1.8 3.6 1.8-6.8-1.8-3.6z" fill="#c7d9fa" stroke="#c7d9fa" fill-opacity=".8"/><path d="M283 128.9l1.5-5 .4 3.4-1.5 4.2z" fill="#bd1f2e" stroke="#bd1f2e" fill-opacity=".3"/><path d="M253.8 237.7l.7-7.9 1.1 11.4-.7 6.3z" fill="#f1ccbb" stroke="#f1ccbb" fill-opacity=".3"/><path d="M273.6 157.2l1.3-3.8 .6 9.3-1.3 1.1z" fill="#d65246" stroke="#d65246" fill-opacity=".3"/><path d="M261.2 198.2l.7-2.1 .8 9.4-.7 .7z" fill="#f49a80" stroke="#f49a80" fill-opacity=".3"/><path d="M169.9 307.1l-3-9.4 2.4-3.8 3.1 9.5z" fill="#8fafff" stroke="#8fafff" fill-opacity=".8"/><path d="M278.2 349.4l1.9-1.7 1.7 2.3-2.7 .9z" fill="#5764dc" stroke="#5764dc"/><path d="M282.2 127.9l1.5-5.2 .3 1.6-1.5 .9z" fill="#b8122a" stroke="#b8122a"/><path d="M281.3 138.7l.6-3.8 .5 5.9-.6 6.5z" fill="#ca3b39" stroke="#ca3b39" fill-opacity=".3"/><path d="M257.1 217.5l2.4-2 1 9-2.4 2.2z" fill="#f7b79f" stroke="#f7b79f" fill-opacity=".3"/><path d="M256.9 177.2l1.5-1.7 .9-7.8-1.6 2.8z" fill="#e46e5a" stroke="#e46e5a"/><path d="M261.1 343.6l.6-1.8 5.3 6.6-.6 2.5z" fill="#5a69e0" stroke="#5a69e0"/><path d="M282.7 127.3l1.5-3.2 .3-.2-1.5 4.9z" fill="#ba162b" stroke="#ba162b" fill-opacity=".3"/><path d="M240.8 282.8l.7 3.6 1.9 10.6-.7-3.2z" fill="#aecbff" stroke="#aecbff" fill-opacity=".3"/><path d="M282.5 125.2l1.4-.9 .3-.2-1.5 3.2z" fill="#b8122a" stroke="#b8122a" fill-opacity=".3"/><path d="M263.6 165.1l1.4-1.2 .8-8-1.4 5z" fill="#d85649" stroke="#d85649"/><path d="M254.7 182.9l2.2-5.7 .8-6.7-2.2 6.5z" fill="#e7745f" stroke="#e7745f"/><path d="M246.6 257.3l1.8-7.3 1.3 10.7-1.8 6.3z" fill="#e0dbd8" stroke="#e0dbd8" fill-opacity=".3"/><path d="M280.1 128.3l1.6 1.7 .5-2.1-1.7 .5z" fill="#bb1b2c" stroke="#bb1b2c"/><path d="M255.6 222.3l1.4-4.8 1 9.2-1.4 6z" fill="#f7baa3" stroke="#f7baa3" fill-opacity=".3"/><path d="M242.8 321l2.7 3.1 3.1 7.6-2.7-2z" fill="#708af9" stroke="#708af9" fill-opacity=".4"/><path d="M194.8 279.3l2.3 1.4 2.2-6.5-2.3-1.5z" fill="#bbd3ff" stroke="#bbd3ff" fill-opacity=".8"/><path d="M228.8 233.1l.9 1 1.1-8-.8-.3z" fill="#f5c2ae" stroke="#f5c2ae"/><path d="M245.1 266l.8 1.8 1.6 10.6-.9-2.4z" fill="#cfdcf2" stroke="#cfdcf2" fill-opacity=".3"/><path d="M278.9 138.6l.6-3.5 .6-6.8-.6 3.1z" fill="#c12b31" stroke="#c12b31"/><path d="M281.4 130.2l1.6-1.3 .4 2.6-1.6 3.5z" fill="#be242f" stroke="#be242f" fill-opacity=".3"/><path d="M278.6 141.9l2.7-3.2 .5 8.6-2.7 1.3z" fill="#cb3e3a" stroke="#cb3e3a" fill-opacity=".3"/><path d="M244.6 257.5l2-.2 1.3 9.7-2 .8z" fill="#dcdddd" stroke="#dcdddd" fill-opacity=".3"/><path d="M276.1 145.6l2.5-3.7 .5 6.7-2.5 2.1z" fill="#ca3b39" stroke="#ca3b39" fill-opacity=".3"/><path d="M249.4 240.8l2 .8 1.1 11.3-2-2.5z" fill="#edd1c4" stroke="#edd1c4" fill-opacity=".3"/><path d="M242.8 204.4l2.2 2 .9-8.8-2.2-.5z" fill="#f49a80" stroke="#f49a80"/><path d="M267.6 156.6l2.3 0 .7-7-2.3-.5z" fill="#cd423d" stroke="#cd423d"/><path d="M245.9 329.7l2.7 2.1 4.1 8.3-2.7-1.3z" fill="#667df0" stroke="#667df0"/><path d="M240.6 306.3l1.8-4.7 2 8.7-1.7 4.8z" fill="#8bacff" stroke="#8bacff" fill-opacity=".3"/><path d="M252.7 340.1l1.8-3.2 4.2 7.2-1.7 2.8z" fill="#6072e8" stroke="#6072e8"/><path d="M212.9 262.6l.2-11.1 1.5-7.3-.2 10.7z" fill="#e1dad7" stroke="#e1dad7" fill-opacity=".7"/><path d="M273.8 143l2.5-1.5 .6-4.9-2.5 4z" fill="#c12b31" stroke="#c12b31"/><path d="M270.4 347.8l1.8-2.2 4.2 5.2-2.7 1z" fill="#5967df" stroke="#5967df"/><path d="M234.5 219.2l2.2 3.8 1-8.8-2.2-2.3z" fill="#f7b097" stroke="#f7b097"/><path d="M264.9 178.3l2.9 1.8 .7 9.8-2.9-5.1z" fill="#ea7b65" stroke="#ea7b65" fill-opacity=".3"/><path d="M268.6 168.3l1.4-.1 .7 7.2-1.5 1.6z" fill="#e16755" stroke="#e16755" fill-opacity=".3"/><path d="M239.9 310.7l2.7 4.3 2.8 9.1-2.7-3.1z" fill="#7d9bff" stroke="#7d9bff" fill-opacity=".3"/><path d="M276.3 350.8l1.8-1.4 .9 1.4-2.7 .9z" fill="#5764dc" stroke="#5764dc"/><path d="M254 185.7l.7-2.9 .8-5.8-.7-.1z" fill="#e87660" stroke="#e87660"/><path d="M258.6 205.8l1.3 2.3 .9 9.6-1.3-2.2z" fill="#f7a68d" stroke="#f7a68d" fill-opacity=".3"/><path d="M276.2 141.5l2.7-2.9 .6-7.2-2.7 5.2z" fill="#c12b31" stroke="#c12b31"/><path d="M272 148l1.7-5.1 .6-2.4-1.7 2.4z" fill="#c12b31" stroke="#c12b31"/><path d="M193.9 288.2l.9-8.9 2.2-6.6-.9 8.7z" fill="#b7d1ff" stroke="#b7d1ff" fill-opacity=".8"/><path d="M262.2 170.6l1.5-5.6 .8-4.2-1.5 1.9z" fill="#d9584b" stroke="#d9584b"/><path d="M274.3 147.2l1.7-1.6 .6 5.1-1.8 2.6z" fill="#c83838" stroke="#c83838" fill-opacity=".3"/><path d="M280.5 128.4l1.6-.5 .3-2.7-1.6 2z" fill="#b8122a" stroke="#b8122a"/><path d="M223.6 242.7l3.3-4.5 1.2-6.9-3.4 2.7z" fill="#f2cab8" stroke="#f2cab8" fill-opacity=".6"/><path d="M240.3 292l2.4 1.8 2 9.8-2.4-2z" fill="#a1c1ff" stroke="#a1c1ff" fill-opacity=".3"/><path d="M249.8 190.5l1.3 2.8 .9-7.3-1.3-2z" fill="#ed836b" stroke="#ed836b"/><path d="M271.3 155.8l2.3 1.4 .6 6.6-2.3 .6z" fill="#d44e44" stroke="#d44e44" fill-opacity=".3"/><path d="M281.1 126.8l1.6 .5 .3 1.6-1.6 1.3z" fill="#b8122a" stroke="#b8122a" fill-opacity=".3"/><path d="M267 348.5l3.4-.7 3.3 4-2.8 1.3z" fill="#5865dd" stroke="#5865dd"/><path d="M240 275.8l3.4-5.1 1.5 10.3-3.3 5.4z" fill="#c6d8fa" stroke="#c6d8fa" fill-opacity=".3"/><path d="M253.5 222.2l2.1 .1 1 10.4-2.1-2.8z" fill="#f7bca5" stroke="#f7bca5" fill-opacity=".3"/><path d="M169.3 293.9l2.8 4.3 2.3-4.5-2.8-4.7z" fill="#a0c0ff" stroke="#a0c0ff" fill-opacity=".8"/><path d="M242.5 329.7l.3-8.7 3.1 8.7-.3 7.5z" fill="#6f88f8" stroke="#6f88f8" fill-opacity=".4"/><path d="M219.1 244l2.5 3.2 1.3-8.1-2.5-1.7z" fill="#efcebf" stroke="#efcebf" fill-opacity=".6"/><path d="M280.9 127.2l1.6-2 .2 2.1-1.6-.5z" fill="#b70d29" stroke="#b70d29" fill-opacity=".3"/><path d="M259.2 198.9l2-.8 .8 8.1-2 1.9z" fill="#f4987f" stroke="#f4987f" fill-opacity=".3"/><path d="M201.1 275l2.1-3.1 1.7-6.8-2 3.2z" fill="#cbdaf6" stroke="#cbdaf6" fill-opacity=".8"/><path d="M232.7 227.2l1.8-8 1-7.3-1.8 6.5z" fill="#f7b199" stroke="#f7b199"/><path d="M242.1 211.2l.7-6.8 .9-7.3-.6 7.4z" fill="#f59d83" stroke="#f59d83"/><path d="M280.9 134.5l.6-4.3 .4 4.8-.6 3.7z" fill="#c02830" stroke="#c02830" fill-opacity=".3"/><path d="M258.7 344.1l2.4-.5 5.3 7.3-2.4 .8z" fill="#5c6ce3" stroke="#5c6ce3"/><path d="M250 338.7l2.7 1.3 4.2 6.8-2.6-.5z" fill="#5f72e7" stroke="#5f72e7"/><path d="M239.8 215.9l2.3-4.7 1-6.7-2.4 1.6z" fill="#f6a389" stroke="#f6a389"/><path d="M245.6 337.2l.3-7.6 4.1 9.1-.3 6.4z" fill="#657bef" stroke="#657bef"/><path d="M227 238.2l1.8-5.1 1.1-7.3-1.7 5.5z" fill="#f5c4b0" stroke="#f5c4b0"/><path d="M169.2 321.2l.9-1.8 3.5-1.8-.9 1.5z" fill="#7692fe" stroke="#7692fe" fill-opacity=".8"/><path d="M265.8 155.9l1.8 .7 .7-7.5-1.8 3.3z" fill="#cb3e3a" stroke="#cb3e3a"/><path d="M239.7 320.6l.3-9.9 2.8 10.3-.3 8.7z" fill="#7a98ff" stroke="#7a98ff" fill-opacity=".3"/><path d="M270.7 149.5l1.3-1.5 .6-5.1-1.3 2z" fill="#c43034" stroke="#c43034"/><path d="M237.9 302.4l2.7 3.9 2.1 8.8-2.7-4.4z" fill="#8fafff" stroke="#8fafff" fill-opacity=".3"/><path d="M191.5 284.7l2.4 3.5 2.2-6.8-2.4-3.8z" fill="#b5cfff" stroke="#b5cfff" fill-opacity=".8"/><path d="M275.7 140.6l2.5-2.9 .4 4.2-2.5 3.7z" fill="#c02830" stroke="#c02830" fill-opacity=".3"/><path d="M230.7 226.2l2 1 1-8.9-2 .5z" fill="#f7b59d" stroke="#f7b59d"/><path d="M261.2 185.5l2.2-4.5 .7 8.8-2.2 6.3z" fill="#ec8169" stroke="#ec8169" fill-opacity=".3"/><path d="M263.3 181l1.5-2.6 .7 6.5-1.5 4.9z" fill="#ea7b65" stroke="#ea7b65" fill-opacity=".3"/><path d="M266.4 350.9l.6-2.4 3.9 4.6-2.7 .1z" fill="#5865dd" stroke="#5865dd"/><path d="M274.3 140.6l2.5-4 .4-2.5-2.5 6.1z" fill="#bb1b2c" stroke="#bb1b2c"/><path d="M279.5 131.4l.6-3.1 .4 .1-.6 3.1z" fill="#b8122a" stroke="#b8122a"/><path d="M238.5 296.7l1.8-4.8 2 9.6-1.8 4.7z" fill="#a1c1ff" stroke="#a1c1ff" fill-opacity=".3"/><path d="M273 148.3l1.3-1.1 .6 6.2-1.4 3.8z" fill="#ca3b39" stroke="#ca3b39" fill-opacity=".3"/><path d="M269.5 158.4l1.8-2.7 .6 8.7-1.8 3.8z" fill="#d44e44" stroke="#d44e44" fill-opacity=".3"/><path d="M243.3 270.7l1.8-4.7 1.5 10-1.8 5z" fill="#d0dcef" stroke="#d0dcef" fill-opacity=".3"/><path d="M278.2 137.7l2.7-3.2 .4 4.2-2.7 3.2z" fill="#c02830" stroke="#c02830" fill-opacity=".3"/><path d="M272.6 142.9l1.7-2.4 .5-.4-1.8 1.9z" fill="#bd1f2e" stroke="#bd1f2e"/><path d="M259.3 167.6l2.9 3 .8-7.9-2.9-3.4z" fill="#d85649" stroke="#d85649"/><path d="M267.1 169.6l1.5-1.4 .6 8.8-1.5 3.1z" fill="#e06553" stroke="#e06553" fill-opacity=".3"/><path d="M210.8 256.7l2 5.9 1.5-7.7-2-7z" fill="#e1dad7" stroke="#e1dad7" fill-opacity=".7"/><path d="M217.4 249.6l1.7-5.5 1.3-6.6-1.7 4.6z" fill="#efcfc1" stroke="#efcfc1" fill-opacity=".6"/><path d="M273.9 143l1.7-2.4 .5 5-1.8 1.7z" fill="#c02830" stroke="#c02830" fill-opacity=".3"/><path d="M252.8 227.9l.7-5.8 1 7.7-.7 7.9z" fill="#f7bca5" stroke="#f7bca5" fill-opacity=".3"/><path d="M250.5 232.1l2.3-4.1 1 9.8-2.3 3.8z" fill="#f5c2ae" stroke="#f5c2ae" fill-opacity=".3"/><path d="M239.3 272.2l.7 3.6 1.6 10.5-.7-3.5z" fill="#c9daf8" stroke="#c9daf8" fill-opacity=".3"/><path d="M247.3 239.2l2.2 1.6 1.1 9.6-2.2-.4z" fill="#f1cdbd" stroke="#f1cdbd" fill-opacity=".3"/><path d="M222.9 239.1l.8 3.7 1.1-8.8-.8-2.2z" fill="#f3c7b4" stroke="#f3c7b4" fill-opacity=".5"/><path d="M256.9 346.9l1.8-2.8 5.2 7.6-1.7 2.4z" fill="#5c6ce3" stroke="#5c6ce3"/><path d="M252 186l2-.3 .9-8.8-2.1 1.7z" fill="#e6725d" stroke="#e6725d"/><path d="M280 131.4l.6-3 .3-1.3-.6 3.7z" fill="#b70d29" stroke="#b70d29"/><path d="M256.2 207.9l2.4-2.1 .9 9.7-2.4 2z" fill="#f6a389" stroke="#f6a389" fill-opacity=".3"/><path d="M274.8 140.1l2.5-6.1 .3 2.9-2.5 .8z" fill="#ba162b" stroke="#ba162b"/><path d="M237.8 214.2l2 1.7 1-9.8-2.1 .5z" fill="#f6a389" stroke="#f6a389"/><path d="M276.8 136.6l2.7-5.2 .5 .1-2.7 2.6z" fill="#b8122a" stroke="#b8122a"/><path d="M280.6 130.9l.6-4.1 .3 3.3-.6 4.3z" fill="#b8122a" stroke="#b8122a" fill-opacity=".3"/><path d="M247.4 194.9l2.4-4.4 .9-6.4-2.4 1.8z" fill="#ec7f68" stroke="#ec7f68"/><path d="M260.5 187l.7-1.6 .7 10.7-.7 2.1z" fill="#ed836b" stroke="#ed836b" fill-opacity=".3"/><path d="M249.7 345.2l.3-6.4 4.2 7.6-.2 5.5z" fill="#5f72e8" stroke="#5f72e8"/><path d="M237.6 312.6l.2-10.2 2.1 8.4-.2 9.9z" fill="#8bacff" stroke="#8bacff" fill-opacity=".3"/><path d="M240.6 326.1l1.9 3.7 3.1 7.5-1.9-2.2z" fill="#6d87f7" stroke="#6d87f7" fill-opacity=".4"/><path d="M187.3 296l2.8-7.5 2.1-7.1-2.7 7.7z" fill="#acc9ff" stroke="#acc9ff" fill-opacity=".8"/><path d="M254.8 213l1.4-5.1 .9 9.6-1.4 4.7z" fill="#f7a88e" stroke="#f7a88e" fill-opacity=".3"/><path d="M243.8 255.2l.8 2.2 1.3 10.4-.8-1.9z" fill="#e1dad7" stroke="#e1dad7" fill-opacity=".3"/><path d="M264.4 160.8l1.4-5 .8-3.5-1.5 .9z" fill="#cc403c" stroke="#cc403c"/><path d="M245.4 246.2l1.8-6.9 1.2 10.7-1.9 7.3z" fill="#efcfc1" stroke="#efcfc1" fill-opacity=".3"/><path d="M199.3 274.1l1.8 .8 1.7-6.7-1.8-2.1z" fill="#cddbf4" stroke="#cddbf4" fill-opacity=".8"/><path d="M280.3 130.9l.6-3.7 .2-.4-.6 4.1z" fill="#b50928" stroke="#b50928" fill-opacity=".3"/><path d="M268.4 149.1l2.3 .5 .6-4.7-2.3 2.8z" fill="#c32e33" stroke="#c32e33"/><path d="M277.3 134l2.7-2.6 .3-.5-2.7 6z" fill="#b8122a" stroke="#b8122a"/><path d="M275.4 138.1l2.5-4.8 .3 4.3-2.5 3z" fill="#b8122a" stroke="#b8122a" fill-opacity=".3"/><path d="M206.7 268.6l2.8-4.1 1.5-7.4-2.9 3z" fill="#d9dde3" stroke="#d9dde3" fill-opacity=".8"/><path d="M245.9 197.6l1.4-2.7 .9-9.1-1.4 5z" fill="#ee846c" stroke="#ee846c"/><path d="M182.3 286.5l5 9.6 2.2-6.9-5.1-9.8z" fill="#afccff" stroke="#afccff" fill-opacity=".8"/><path d="M273 142l1.7-1.9 .4-2.4-1.8 1.5z" fill="#b8122a" stroke="#b8122a"/><path d="M275.1 137.7l2.5-.8 .2-3.6-2.5 4.8z" fill="#b70d29" stroke="#b70d29" fill-opacity=".3"/><path d="M173.6 317.6l-3.7-10.5 2.4-3.7 3.8 11.2z" fill="#87a7ff" stroke="#87a7ff" fill-opacity=".8"/><path d="M268 161l1.4-2.6 .6 9.8-1.4 0z" fill="#d55045" stroke="#d55045" fill-opacity=".3"/><path d="M243.5 247.4l2-1.2 1.1 11.1-2 .2z" fill="#ecd3c7" stroke="#ecd3c7" fill-opacity=".3"/><path d="M264 351.7l2.4-.8 1.8 2.3-2.7 .4z" fill="#5a69e0" stroke="#5a69e0"/><path d="M243.7 335.1l1.9 2.2 4.1 7.9-1.9-1z" fill="#657bef" stroke="#657bef"/><path d="M277.8 133.3l2.7-2.4 .3 3.5-2.7 3.2z" fill="#b8122a" stroke="#b8122a" fill-opacity=".3"/><path d="M238.4 279.7l2.5 3.1 1.9 11-2.5-1.9z" fill="#bed5ff" stroke="#bed5ff" fill-opacity=".3"/><path d="M270.7 150.4l2.3-2 .5 8.8-2.3-1.4z" fill="#c83838" stroke="#c83838" fill-opacity=".3"/><path d="M248.4 230.7l2 1.4 1 9.5-2-.8z" fill="#f5c2ae" stroke="#f5c2ae" fill-opacity=".3"/><path d="M273.6 140.1l1.7-1.9 .4 2.4-1.8 2.4z" fill="#b8122a" stroke="#b8122a" fill-opacity=".3"/><path d="M255.5 177l2.2-6.6 .7-6.5-2.1 4.9z" fill="#dc5d4e" stroke="#dc5d4e"/><path d="M237.7 315.9l1.9 4.7 2.9 9.1-1.9-3.7z" fill="#7a98ff" stroke="#7a98ff" fill-opacity=".3"/><path d="M277.6 136.9l2.7-6 .3 0-2.8 2.4z" fill="#b70d29" stroke="#b70d29" fill-opacity=".3"/><path d="M235.8 292.2l2.7 4.5 2 9.5-2.7-3.8z" fill="#a5c4ff" stroke="#a5c4ff" fill-opacity=".3"/><path d="M257.7 170.5l1.5-2.8 .8-8.4-1.5 4.7z" fill="#d85649" stroke="#d85649"/><path d="M264.2 168.7l2.9 .9 .6 10.5-2.9-1.7z" fill="#df6352" stroke="#df6352" fill-opacity=".3"/><path d="M176.8 291.9l1.6-2.7 2.2-6.9-1.7 3.2z" fill="#b2ceff" stroke="#b2ceff" fill-opacity=".8"/><path d="M254.3 346.4l2.6 .5 5.3 7.3-2.6 0z" fill="#5c6ce2" stroke="#5c6ce2"/><path d="M271.3 144.9l1.3-2 .5-.9-1.4-0z" fill="#bb1b2c" stroke="#bb1b2c"/><path d="M257.9 196.9l1.3 2 .8 9.2-1.3-2.3z" fill="#f29279" stroke="#f29279" fill-opacity=".3"/><path d="M190 288.6l1.5-3.9 2.2-7.1-1.5 3.8z" fill="#b9d2ff" stroke="#b9d2ff" fill-opacity=".8"/><path d="M178.4 289.2l3.8-2.7 2.2-7.1-3.9 2.8z" fill="#b8d1ff" stroke="#b8d1ff" fill-opacity=".8"/><path d="M273.4 139.2l1.7-1.5 .3 .4-1.8 1.9z" fill="#b50928" stroke="#b50928" fill-opacity=".3"/><path d="M166.9 320.7l2.3 .5 3.4-2.1-2.2-.8z" fill="#7a98ff" stroke="#7a98ff" fill-opacity=".8"/><path d="M272.6 144.5l1.3-1.5 .4 4.3-1.3 1.1z" fill="#be242f" stroke="#be242f" fill-opacity=".3"/><path d="M209.5 264.6l1.3-7.9 1.5-8.8-1.3 9.2z" fill="#e2dad6" stroke="#e2dad6" fill-opacity=".7"/><path d="M214.6 244.2l2.8 5.4 1.3-7.5-2.8-5.5z" fill="#f1cdbd" stroke="#f1cdbd" fill-opacity=".6"/><path d="M252.6 211.7l2.2 1.3 .8 9.2-2.1-.1z" fill="#f7a990" stroke="#f7a990" fill-opacity=".3"/><path d="M238.6 265.2l3.4-5.6 1.3 11.1-3.4 5.1z" fill="#dcdddf" stroke="#dcdddf" fill-opacity=".3"/><path d="M262.2 354.1l1.8-2.4 1.5 1.9-2.8 1.2z" fill="#5a69e0" stroke="#5a69e0"/><path d="M262.9 162.8l1.5-1.9 .7-7.6-1.5 2.9z" fill="#cc403c" stroke="#cc403c"/><path d="M266.6 152.4l1.8-3.3 .6-1.4-1.8-.6z" fill="#c12b31" stroke="#c12b31"/><path d="M236.4 335.4l2.8-2.4 3.2 7.8-2.9 2.2z" fill="#6981f3" stroke="#6981f3" fill-opacity=".4"/><path d="M243.8 197.1l2.2 .5 .8-6.8-2.1-.3z" fill="#ee846c" stroke="#ee846c"/><path d="M172.3 303.4l-3-9.6 2.3-4.9 3.1 10.1z" fill="#a5c4ff" stroke="#a5c4ff" fill-opacity=".8"/><path d="M174.4 293.7l2.4-1.8 2.1-6.4-2.4 2.2z" fill="#b1cdff" stroke="#b1cdff" fill-opacity=".8"/><path d="M229.9 225.8l.8 .4 1.1-7.5-.9 .1z" fill="#f7b199" stroke="#f7b199"/><path d="M239.3 332.9l1.3-6.9 3.2 9-1.4 5.8z" fill="#6f88f8" stroke="#6f88f8" fill-opacity=".4"/><path d="M258.4 190.1l2-3.1 .7 11.1-2 .8z" fill="#ec8169" stroke="#ec8169" fill-opacity=".3"/><path d="M236.6 285.5l1.7-5.7 2 12.2-1.8 4.8z" fill="#bcd4ff" stroke="#bcd4ff" fill-opacity=".3"/><path d="M268.9 152.1l1.8-1.7 .6 5.4-1.9 2.7z" fill="#c73636" stroke="#c73636" fill-opacity=".3"/><path d="M271.7 142l1.3 0 .4-2.8-1.4 4.4z" fill="#b8122a" stroke="#b8122a"/><path d="M235.6 302.9l.2-10.7 2.1 10.2-.3 10.1z" fill="#a1c1ff" stroke="#a1c1ff" fill-opacity=".3"/><path d="M247.8 344.1l1.9 1.1 4.2 6.6-1.8-.1z" fill="#5f72e8" stroke="#5f72e8"/><path d="M204.9 265l1.8 3.6 1.5-8.5-1.9-3.2z" fill="#dbdde0" stroke="#dbdde0" fill-opacity=".8"/><path d="M262.7 173l1.5-4.3 .7 9.7-1.6 2.6z" fill="#e16755" stroke="#e16755" fill-opacity=".3"/><path d="M233.6 326.5l2.8-2.8 2.9 9.2-2.9 2.4z" fill="#738efb" stroke="#738efb" fill-opacity=".4"/><path d="M235.6 307.1l2 5.4 2 8.1-1.9-4.7z" fill="#8bacff" stroke="#8bacff" fill-opacity=".3"/><path d="M235.6 211.9l2.2 2.4 .9-7.6-2.1-.2z" fill="#f59d83" stroke="#f59d83"/><path d="M266.5 165l1.5-4 .6 7.2-1.5 1.4z" fill="#d44e44" stroke="#d44e44" fill-opacity=".3"/><path d="M254 351.9l.3-5.5 5.3 7.8-2.3 2.2z" fill="#5c6ce2" stroke="#5c6ce2"/><path d="M254.8 176.9l.7 .1 .8-8.1-.7-1z" fill="#dc5d4e" stroke="#dc5d4e"/><path d="M242.4 340.8l1.4-5.8 4.1 9.1-1.4 4.9z" fill="#657bef" stroke="#657bef"/><path d="M269 147.7l2.3-2.7 .4-3-2.3 3.1z" fill="#bb1b2c" stroke="#bb1b2c"/><path d="M272.3 142.5l1.3-2.5 .4 2.9-1.4 1.5z" fill="#b8122a" stroke="#b8122a" fill-opacity=".3"/><path d="M250.7 184l1.3 2 .8-7.4-1.3-2.1z" fill="#e36c59" stroke="#e36c59"/><path d="M239.5 343l2.9-2.2 4.1 8.2-2.9 1.7z" fill="#6175ea" stroke="#6175ea"/><path d="M260.5 177l2.2-4.1 .6 8-2.1 4.5z" fill="#e26956" stroke="#e26956" fill-opacity=".3"/><path d="M272 143.6l1.3-4.4 .3 .8-1.4 2.5z" fill="#b70d29" stroke="#b70d29" fill-opacity=".3"/><path d="M242 259.5l1.8-4.3 1.3 10.7-1.8 4.7z" fill="#e3d9d4" stroke="#e3d9d4" fill-opacity=".3"/><path d="M236.4 323.8l1.3-7.9 2.9 10.2-1.4 6.9z" fill="#7b99ff" stroke="#7b99ff" fill-opacity=".3"/><path d="M259.6 354.2l2.6-.1 .6 .7-2.8 0z" fill="#5a69e0" stroke="#5a69e0"/><path d="M270.3 146.5l2.3-2 .4 3.9-2.3 2z" fill="#bd1f2e" stroke="#bd1f2e" fill-opacity=".3"/><path d="M214.4 254.9l.2-10.7 1.3-7.6-.2 9.9z" fill="#efcec0" stroke="#efcec0" fill-opacity=".6"/><path d="M251.9 217.9l.7-6.2 .9 10.5-.7 5.7z" fill="#f7aa91" stroke="#f7aa91" fill-opacity=".3"/><path d="M224.8 234l3.4-2.7 1-8.8-3.4 4.5z" fill="#f7b9a2" stroke="#f7b9a2"/><path d="M237.9 262l.7 3.2 1.3 10.7-.7-3.6z" fill="#dcdddd" stroke="#dcdddd" fill-opacity=".3"/><path d="M243.1 204.5l.7-7.4 .9-6.6-.7 5.4z" fill="#ef886f" stroke="#ef886f"/><path d="M255.4 199.7l2.4-2.7 .8 8.8-2.4 2.1z" fill="#f18f76" stroke="#f18f76" fill-opacity=".3"/><path d="M197 272.6l2.3 1.5 1.7-8-2.3-1z" fill="#d3dcec" stroke="#d3dcec" fill-opacity=".8"/><path d="M234.7 334.3l1.7 1.1 3.1 7.6-1.7-.4z" fill="#6a82f4" stroke="#6a82f4" fill-opacity=".4"/><path d="M233.7 218.3l1.8-6.4 1-5.5-1.9 4.8z" fill="#f59f85" stroke="#f59f85"/><path d="M249.6 221.7l2.3-3.8 .9 10-2.3 4.2z" fill="#f7b097" stroke="#f7b097" fill-opacity=".3"/><path d="M246.3 229.6l2.2 1.1 1 10.1-2.2-1.6z" fill="#f6bda6" stroke="#f6bda6" fill-opacity=".3"/><path d="M231.5 318.7l2.8-3.6 2.1 8.7-2.8 2.7z" fill="#81a0ff" stroke="#81a0ff" fill-opacity=".3"/><path d="M269.4 145l2.3-3 .3 1.6-2.3-.2z" fill="#b70d29" stroke="#b70d29"/><path d="M267.5 153.9l1.4-1.9 .6 6.4-1.5 2.6z" fill="#c83838" stroke="#c83838" fill-opacity=".3"/><path d="M270 145.7l2.3-3.2 .3 2-2.3 2z" fill="#b8122a" stroke="#b8122a" fill-opacity=".3"/><path d="M267.2 147l1.8 .6 .5-2.6-1.9 1z" fill="#bb1b2c" stroke="#bb1b2c"/><path d="M257.3 356.4l2.3-2.2 .4 .6-2.7 1.6z" fill="#5a69e0" stroke="#5a69e0"/><path d="M268.5 149.9l1.8-3.4 .4 3.9-1.8 1.7z" fill="#be242f" stroke="#be242f" fill-opacity=".3"/><path d="M220.4 237.4l2.5 1.6 1.1-7.2-2.5-2.6z" fill="#f6bfa9" stroke="#f6bfa9"/><path d="M265.1 153.2l1.4-.9 .6-5.3-1.4 1.1z" fill="#c12b31" stroke="#c12b31"/><path d="M269.7 143.4l2.3 .2 .2-1.1-2.3 3.2z" fill="#b70d29" stroke="#b70d29" fill-opacity=".3"/><path d="M260 159.3l2.9 3.5 .7-6.6-2.9-3.4z" fill="#ca3b39" stroke="#ca3b39"/><path d="M231.8 324.5l1.7 2 2.9 8.9-1.7-1.1z" fill="#7591fd" stroke="#7591fd" fill-opacity=".3"/><path d="M240.7 206.1l2.4-1.6 .8-8.6-2.3 2.8z" fill="#f18d74" stroke="#f18d74"/><path d="M233.9 280.2l2.7 5.2 2 11.3-2.8-4.5z" fill="#c0d6ff" stroke="#c0d6ff" fill-opacity=".3"/><path d="M246.5 349l1.4-4.9 4.2 7.6-1.3 4.1z" fill="#5f72e8" stroke="#5f72e8"/><path d="M228.1 231.3l1.8-5.5 1-7-1.8 3.6z" fill="#f7b199" stroke="#f7b199"/><path d="M196.1 281.4l.9-8.8 1.8-7.5-.9 10.3z" fill="#cfdbf2" stroke="#cfdbf2" fill-opacity=".8"/><path d="M237.8 342.5l1.7 .5 4.1 7.7-1.7 .3z" fill="#6276eb" stroke="#6276eb"/><path d="M242.7 244.9l.8 2.5 1.2 10.1-.9-2.2z" fill="#efcebf" stroke="#efcebf" fill-opacity=".3"/><path d="M252.1 351.7l1.9 .1 3.3 4.6-2.8-1z" fill="#5c6ce2" stroke="#5c6ce2"/><path d="M254 201.7l1.4-2 .8 8.2-1.4 5.1z" fill="#f29279" stroke="#f29279" fill-opacity=".3"/><path d="M259.8 177.9l.7-.9 .6 8.5-.6 1.5z" fill="#e36b58" stroke="#e36b58" fill-opacity=".3"/><path d="M231.8 218.7l2-.4 .9-7.1-2 .7z" fill="#f6a288" stroke="#f6a288"/><path d="M236.8 269.6l2.5 2.6 1.5 10.6-2.4-3.1z" fill="#d5dde9" stroke="#d5dde9" fill-opacity=".3"/><path d="M171.6 289l2.8 4.7 2.2-6-2.8-4.1z" fill="#b9d2ff" stroke="#b9d2ff" fill-opacity=".8"/><path d="M263.6 160.8l2.9 4.2 .6 4.6-2.9-1z" fill="#d24b42" stroke="#d24b42" fill-opacity=".3"/><path d="M244.4 236.1l1.8-6.5 1 9.6-1.8 7z" fill="#f6bfaa" stroke="#f6bfaa" fill-opacity=".3"/><path d="M234.3 315.1l1.3-7.9 2.1 8.8-1.3 7.8z" fill="#8cadff" stroke="#8cadff" fill-opacity=".3"/><path d="M233.6 297.1l2 5.8 2 9.6-2-5.4z" fill="#a1c1ff" stroke="#a1c1ff" fill-opacity=".3"/><path d="M172.7 319.1l.9-1.5 2.5-3-.9 1.6z" fill="#84a4ff" stroke="#84a4ff" fill-opacity=".8"/><path d="M243.6 350.7l2.9-1.7 4.2 6.8-2.8 1.4z" fill="#5d6de4" stroke="#5d6de4"/><path d="M268.2 147.2l1.8-1.5 .3 .8-1.8 3.4z" fill="#ba162b" stroke="#ba162b" fill-opacity=".3"/><path d="M242.5 237.5l2-1.4 1 10-2 1.3z" fill="#f5c4af" stroke="#f5c4af" fill-opacity=".3"/><path d="M247.5 221.2l2 .5 .9 10.4-2-1.4z" fill="#f7b097" stroke="#f7b097" fill-opacity=".3"/><path d="M202.8 268.2l2.1-3.2 1.4-8.1-2.1 3.2z" fill="#dedcdb" stroke="#dedcdb" fill-opacity=".7"/><path d="M248.2 185.9l2.4-1.8 .9-7.5-2.5 3.1z" fill="#e26956" stroke="#e26956"/><path d="M252.8 178.6l2-1.8 .8-9-2 4.3z" fill="#d9584b" stroke="#d9584b"/><path d="M257.1 187.2l1.3 2.9 .7 8.8-1.3-2z" fill="#ea7b65" stroke="#ea7b65" fill-opacity=".3"/><path d="M266 159l1.5-5 .5 7.1-1.5 3.9z" fill="#ca3b39" stroke="#ca3b39" fill-opacity=".3"/><path d="M267.6 146.1l1.8-1 .3-1.6-1.8 2.8z" fill="#b70d29" stroke="#b70d29"/><path d="M224 231.8l.8 2.2 1-7-.8-.4z" fill="#f7b79f" stroke="#f7b79f"/><path d="M267.9 146.3l1.8-2.9 .2 2.3-1.8 1.5z" fill="#b70d29" stroke="#b70d29" fill-opacity=".3"/><path d="M218.6 242.1l1.8-4.6 1.1-8.3-1.8 4.9z" fill="#f5c0ab" stroke="#f5c0ab"/><path d="M229.7 316.1l1.7 2.6 2.1 7.8-1.7-2z" fill="#83a3ff" stroke="#83a3ff" fill-opacity=".3"/><path d="M233.6 291.4l.2-11.1 2 12-.3 10.7z" fill="#bcd4ff" stroke="#bcd4ff" fill-opacity=".3"/><path d="M246.8 190.8l1.4-4.9 .8-6.2-1.4 3.4z" fill="#e36c59" stroke="#e36c59"/><path d="M232.6 337.1l2.1-2.8 3.1 8.2-2.1 2.5z" fill="#6b84f5" stroke="#6b84f5" fill-opacity=".4"/><path d="M263.7 156.2l1.5-3 .6-5.1-1.5 5.2z" fill="#c02830" stroke="#c02830"/><path d="M212.3 247.9l2.1 7 1.2-8.4-2-4.7z" fill="#efcebf" stroke="#efcebf" fill-opacity=".6"/><path d="M250.7 355.8l1.4-4.1 2.4 3.7-2.7 2z" fill="#5d6de4" stroke="#5d6de4"/><path d="M238.7 206.6l2-.5 .9-7.5-2.1-1.8z" fill="#f08b72" stroke="#f08b72"/><path d="M235 275.6l1.7-5.9 1.6 10-1.7 5.8z" fill="#d4dcea" stroke="#d4dcea" fill-opacity=".3"/><path d="M193.7 277.6l2.4 3.8 1.8-6-2.5-5.7z" fill="#cedbf3" stroke="#cedbf3" fill-opacity=".8"/><path d="M267 149.5l1.4 .4 .5 2.2-1.5 1.9z" fill="#c02830" stroke="#c02830" fill-opacity=".3"/><path d="M237.5 254.5l3.4-4.9 1.1 9.9-3.3 5.6z" fill="#ecd3c7" stroke="#ecd3c7" fill-opacity=".3"/><path d="M229.4 308.7l2.8-4 2.1 10.4-2.8 3.6z" fill="#96b6ff" stroke="#96b6ff" fill-opacity=".3"/><path d="M251.8 202.2l2.2-.5 .8 11.4-2.2-1.3z" fill="#f29279" stroke="#f29279" fill-opacity=".3"/><path d="M256.3 168.9l2.2-4.9 .7-9.8-2.2 7.5z" fill="#cd423d" stroke="#cd423d"/><path d="M258.5 163.9l1.5-4.6 .8-6.6-1.6 1.4z" fill="#ca3b39" stroke="#ca3b39"/><path d="M241.9 351.1l1.7-.4 4.2 6.5-1.6 1z" fill="#5e6fe5" stroke="#5e6fe5"/><path d="M235.7 345.1l2.1-2.5 4.1 8.5-2.1 2.3z" fill="#6378ec" stroke="#6378ec"/><path d="M262.1 163.2l1.5-2.3 .6 7.8-1.5 4.3z" fill="#d44e44" stroke="#d44e44" fill-opacity=".3"/><path d="M247.9 357.2l2.9-1.4 1 1.6-2.7 1.5z" fill="#5b6ae1" stroke="#5b6ae1"/><path d="M229.8 327.8l2.1-3.3 2.8 9.8-2 2.8z" fill="#7794ff" stroke="#7794ff" fill-opacity=".3"/><path d="M265.7 148.1l1.4-1.1 .5-1-1.5 .9z" fill="#ba162b" stroke="#ba162b"/><path d="M257.8 179.4l2-1.5 .7 9.1-2 3.2z" fill="#e16755" stroke="#e16755" fill-opacity=".3"/><path d="M259.9 167l2.2-3.9 .6 9.8-2.2 4.1z" fill="#d55045" stroke="#d55045" fill-opacity=".3"/><path d="M176.1 314.6l-3.8-11.2 2.4-4.4 3.8 10.5z" fill="#9cbcff" stroke="#9cbcff" fill-opacity=".8"/><path d="M266.2 146.9l1.4-.8 .4 .2-1.5 3.2z" fill="#b8122a" stroke="#b8122a"/><path d="M266.7 147.3l1.4-.2 .4 2.8-1.5-.5z" fill="#ba162b" stroke="#ba162b" fill-opacity=".3"/><path d="M263.1 155.5l2.9 3.5 .6 6-2.9-4.1z" fill="#c83838" stroke="#c83838" fill-opacity=".3"/><path d="M266.5 149.5l1.4-3.3 .3 .9-1.5 .2z" fill="#b8122a" stroke="#b8122a" fill-opacity=".3"/><path d="M208.2 260.2l2.8-3.1 1.3-8-2.9 3.4z" fill="#ead5cb" stroke="#ead5cb" fill-opacity=".6"/><path d="M232.3 304.7l1.3-7.5 2.1 10-1.3 7.9z" fill="#a2c2ff" stroke="#a2c2ff" fill-opacity=".3"/><path d="M240.9 249.6l1.8-4.8 1.1 10.4-1.8 4.3z" fill="#f1cdbd" stroke="#f1cdbd" fill-opacity=".3"/><path d="M201 266.1l1.8 2.1 1.4-8.1-1.7-1.3z" fill="#dfdbd9" stroke="#dfdbd9" fill-opacity=".7"/><path d="M244.6 190.5l2.2 .3 .8-7.8-2.2 .1z" fill="#e46e5a" stroke="#e46e5a"/><path d="M260.8 152.7l2.9 3.4 .6-2.9-2.9-1.5z" fill="#c02830" stroke="#c02830"/><path d="M255.6 167.9l.7 1 .7-7.2-.7 2.9z" fill="#cf453e" stroke="#cf453e"/><path d="M251.5 176.6l1.3 2.1 .8-6.5-1.3-.6z" fill="#d85649" stroke="#d85649"/><path d="M254.7 190.4l2.4-3.2 .8 9.7-2.5 2.8z" fill="#e97862" stroke="#e97862" fill-opacity=".3"/><path d="M230.9 218.8l.8-.1 1-6.8-.9 .2z" fill="#f59f85" stroke="#f59f85"/><path d="M215.9 236.6l2.8 5.5 1.1-8-2.8-3.3z" fill="#f6bea8" stroke="#f6bea8"/><path d="M265.6 153.7l1.5-4.2 .4 4.5-1.5 5z" fill="#c02830" stroke="#c02830" fill-opacity=".3"/><path d="M189.5 289.1l2.8-7.7 1.7-7.8-2.8 8.6z" fill="#c7d9fa" stroke="#c7d9fa" fill-opacity=".8"/><path d="M230.9 337.1l1.7 .1 3.1 7.9-1.7 .6z" fill="#6c85f6" stroke="#6c85f6" fill-opacity=".4"/><path d="M184.4 279.4l5 9.7 1.8-6.8-5.1-9.6z" fill="#c9daf8" stroke="#c9daf8" fill-opacity=".8"/><path d="M246.2 358.2l1.7-1 1.2 1.7-2.8-.6z" fill="#5c6ce3" stroke="#5c6ce3"/><path d="M245.4 220.3l2.2 .9 .9 9.5-2.2-1.1z" fill="#f7aa91" stroke="#f7aa91" fill-opacity=".3"/><path d="M227.7 306.3l1.8 2.4 2 10-1.7-2.5z" fill="#97b7ff" stroke="#97b7ff" fill-opacity=".3"/><path d="M236.8 251l.7 3.6 1.2 10.6-.7-3.2z" fill="#edd2c5" stroke="#edd2c5" fill-opacity=".3"/><path d="M170.4 318.3l2.3 .8 2.5-2.9-2.3-1z" fill="#8aaaff" stroke="#8aaaff" fill-opacity=".8"/><path d="M251.1 207.5l.7-5.3 .8 9.6-.7 6.1z" fill="#f3947a" stroke="#f3947a" fill-opacity=".3"/><path d="M264.2 153.3l1.5-5.1 .4-1.2-1.5 4.3z" fill="#ba162b" stroke="#ba162b"/><path d="M227.7 319.5l2.1-3.4 2.1 8.4-2.1 3.2z" fill="#87a7ff" stroke="#87a7ff" fill-opacity=".3"/><path d="M232.3 269.5l2.8 6 1.5 9.9-2.7-5.2z" fill="#d7dde7" stroke="#d7dde7" fill-opacity=".3"/><path d="M239.9 353.4l2.1-2.4 4.2 7.1-2.6 1.3z" fill="#5f70e6" stroke="#5f70e6"/><path d="M231.6 285.4l2 5.9 1.9 11.6-2-5.8z" fill="#bbd3ff" stroke="#bbd3ff" fill-opacity=".3"/><path d="M211 257.1l1.3-9.2 1.3-6.2-1.4 7.3z" fill="#efcec0" stroke="#efcec0" fill-opacity=".6"/><path d="M234.1 345.6l1.7-.5 4.1 8.3-1.7 .9z" fill="#647aed" stroke="#647aed"/><path d="M248.8 212l2.3-4.6 .9 10.5-2.4 3.7z" fill="#f49a80" stroke="#f49a80" fill-opacity=".3"/><path d="M236.5 206.5l2.2 .2 .8-9.8-2.2 1z" fill="#ee866e" stroke="#ee866e"/><path d="M179 285.5l1.6-3.3 1.7-6.9-1.6 2.4z" fill="#cddbf4" stroke="#cddbf4" fill-opacity=".8"/><path d="M235.5 259.4l2.5 2.5 1.3 10.3-2.5-2.6z" fill="#e6d7d0" stroke="#e6d7d0" fill-opacity=".3"/><path d="M228.1 327.2l1.7 .6 2.9 9.3-1.7-.1z" fill="#7895ff" stroke="#7895ff" fill-opacity=".3"/><path d="M259.2 170.4l.7-3.3 .6 10-.7 .8z" fill="#d65246" stroke="#d65246" fill-opacity=".3"/><path d="M264.7 151.3l1.5-4.4 .3 2.6-1.5 3.4z" fill="#b8122a" stroke="#b8122a"/><path d="M265 152.9l1.5-3.3 .2-2.2-1.5 5.3z" fill="#ba162b" stroke="#ba162b" fill-opacity=".3"/><path d="M180.6 282.3l3.9-2.8 1.7-6.8-3.9 2.7z" fill="#d1dcef" stroke="#d1dcef" fill-opacity=".8"/><path d="M241.6 234.6l.8 2.9 1.1 9.8-.9-2.5z" fill="#f6bfaa" stroke="#f6bfaa" fill-opacity=".3"/><path d="M253.2 192.4l1.5-2 .7 9.3-1.5 2z" fill="#ea7b65" stroke="#ea7b65" fill-opacity=".3"/><path d="M243.5 226.9l1.8-6.7 .9 9.4-1.8 6.5z" fill="#f7ad94" stroke="#f7ad94" fill-opacity=".3"/><path d="M265.2 152.6l1.5-5.3 .3 2.1-1.5 4.2z" fill="#ba162b" stroke="#ba162b" fill-opacity=".3"/><path d="M192.2 281.4l1.5-3.8 1.7-8-1.5 4z" fill="#d2dced" stroke="#d2dced" fill-opacity=".8"/><path d="M174.7 299.1l-3.1-10.1 2.2-5.4 3 8.8z" fill="#bdd4ff" stroke="#bdd4ff" fill-opacity=".8"/><path d="M234.7 211.2l1.8-4.8 .9-8.6-1.9 6z" fill="#f08a71" stroke="#f08a71"/><path d="M246.7 212.8l2-.8 .8 9.7-2-.6z" fill="#f59c82" stroke="#f59c82" fill-opacity=".3"/><path d="M241.6 227l2-0 .9 9.1-2 1.5z" fill="#f7b199" stroke="#f7b199" fill-opacity=".3"/><path d="M243.6 359.4l2.6-1.2 .1 0-2.7 1.2z" fill="#5d6de4" stroke="#5d6de4"/><path d="M206.3 256.9l1.8 3.3 1.3-7.8-1.9-3.5z" fill="#ecd3c7" stroke="#ecd3c7" fill-opacity=".6"/><path d="M243.9 195.9l.7-5.4 .8-7.4-.7 3.8z" fill="#e46e5b" stroke="#e46e5b"/><path d="M262.7 150.7l2.9 2.9 .4 5.3-2.9-3.5z" fill="#be242f" stroke="#be242f" fill-opacity=".3"/><path d="M256.5 179.4l1.3-0 .7 10.7-1.3-2.9z" fill="#df6352" stroke="#df6352" fill-opacity=".3"/><path d="M176.6 287.7l2.4-2.2 1.6-7.7-2.3 2.4z" fill="#ccdbf5" stroke="#ccdbf5" fill-opacity=".8"/><path d="M215.6 246.5l.2-9.9 1.2-5.8-.3 8z" fill="#f5c0ab" stroke="#f5c0ab"/><path d="M227.5 297.1l2.8-3.3 2 10.9-2.8 4z" fill="#b0ccff" stroke="#b0ccff" fill-opacity=".3"/><path d="M261.3 151.7l2.9 1.5 .4-1.9-2.9-3.9z" fill="#ba162b" stroke="#ba162b"/><path d="M238.2 354.3l1.7-.9 3.7 6-2.8-.5z" fill="#5e70e6" stroke="#5e70e6"/><path d="M253.6 172.1l2-4.2 .8-3.3-2.1 1z" fill="#cd423d" stroke="#cd423d"/><path d="M261.5 156.2l1.6-.8 .5 5.4-1.5 2.3z" fill="#c73636" stroke="#c73636" fill-opacity=".3"/><path d="M249 179.6l2.4-3.1 .8-5-2.4 1.9z" fill="#d75448" stroke="#d75448"/><path d="M232 280.4l.2-10.8 1.6 10.7-.2 11.1z" fill="#d5dde9" stroke="#d5dde9" fill-opacity=".3"/><path d="M225.8 227l3.4-4.5 .8-9-3.3 4.8z" fill="#f6a389" stroke="#f6a389"/><path d="M259.2 154.1l1.6-1.4 .5-1-1.5 1.1z" fill="#c02830" stroke="#c02830"/><path d="M233.7 264.1l1.8-4.7 1.3 10.2-1.7 6z" fill="#e6d7d0" stroke="#e6d7d0" fill-opacity=".3"/><path d="M221.5 229.2l2.5 2.6 1-5.3-2.5-5.5z" fill="#f7ad94" stroke="#f7ad94"/><path d="M225.9 318.4l1.7 1.1 2.1 8.2-1.7-.5z" fill="#88a8ff" stroke="#88a8ff" fill-opacity=".3"/><path d="M232.7 212l2-.7 .8-7.5-2-.9z" fill="#f18d74" stroke="#f18d74"/><path d="M228.7 336.8l2.2 .2 3.1 8.6-2.2 0z" fill="#708af9" stroke="#708af9" fill-opacity=".4"/><path d="M229.1 222.5l1.8-3.6 .9-6.7-1.8 1.4z" fill="#f59d83" stroke="#f59d83"/><path d="M259.3 163.5l2.2-7.2 .6 6.9-2.2 3.9z" fill="#c83838" stroke="#c83838" fill-opacity=".3"/><path d="M257 161.7l2.2-7.6 .6-1.2-2.2 4.1z" fill="#c12b31" stroke="#c12b31"/><path d="M225.6 309.2l2.1-3 2 9.9-2 3.4z" fill="#9bbcff" stroke="#9bbcff" fill-opacity=".3"/><path d="M261.8 147.4l2.9 3.9 .3 1.6-2.9-3.6z" fill="#b70d29" stroke="#b70d29"/><path d="M241.6 198.7l2.4-2.8 .7-9-2.3 1.2z" fill="#e6725d" stroke="#e6725d"/><path d="M251.1 194.1l2.2-1.8 .7 9.4-2.2 .4z" fill="#ea7b65" stroke="#ea7b65" fill-opacity=".3"/><path d="M198.8 265.1l2.3 1.1 1.4-7.4-2.2 0z" fill="#e5d8d2" stroke="#e5d8d2" fill-opacity=".7"/><path d="M230.3 293.7l1.3-8.3 2 11.7-1.4 7.5z" fill="#bdd5ff" stroke="#bdd5ff" fill-opacity=".3"/><path d="M231.9 345.6l2.2-0 4.1 8.7-2.2 .4z" fill="#667cf0" stroke="#667cf0" fill-opacity=".4"/><path d="M236.4 242.9l3.4-3.9 1 10.7-3.4 4.8z" fill="#f5c4af" stroke="#f5c4af" fill-opacity=".3"/><path d="M262.1 149.3l2.9 3.6 .2-.2-2.9-5.1z" fill="#b8122a" stroke="#b8122a" fill-opacity=".3"/><path d="M257.2 172.1l2.1-1.7 .6 7.5-2.1 1.5z" fill="#d55045" stroke="#d55045" fill-opacity=".3"/><path d="M262.3 147.6l2.9 5 .3 1-2.9-2.9z" fill="#b8122a" stroke="#b8122a" fill-opacity=".3"/><path d="M247.6 183l1.4-3.4 .8-6.2-1.5 1.6z" fill="#d85649" stroke="#d85649"/><path d="M225 226.6l.7 .5 .9-8.7-.7-.9z" fill="#f6a58b" stroke="#f6a58b"/><path d="M256.3 164.6l.7-2.9 .6-4.6-.7 1.9z" fill="#c43034" stroke="#c43034"/><path d="M175.2 316.2l.9-1.6 2.4-5.2-.9 1.8z" fill="#99baff" stroke="#99baff" fill-opacity=".8"/><path d="M197.9 275.4l.9-10.3 1.5-6.3-1 7z" fill="#e1dad7" stroke="#e1dad7" fill-opacity=".7"/><path d="M254 183.8l2.4-4.4 .7 7.9-2.4 3.1z" fill="#df6352" stroke="#df6352" fill-opacity=".3"/><path d="M225.8 326.5l2.2 .7 2.9 9.8-2.2-.2z" fill="#7e9cff" stroke="#7e9cff" fill-opacity=".3"/><path d="M225.7 293.4l1.8 3.6 1.9 11.6-1.7-2.4z" fill="#b4cfff" stroke="#b4cfff" fill-opacity=".3"/><path d="M259.8 152.9l1.6-1.2 .4-4.3-1.6 5.2z" fill="#bb1b2c" stroke="#bb1b2c"/><path d="M227.7 343.9l1-7.1 3.1 8.8-1 6.3z" fill="#6d87f7" stroke="#6d87f7" fill-opacity=".4"/><path d="M258.6 163.3l.7 .2 .5 3.6-.6 3.3z" fill="#ca3b39" stroke="#ca3b39" fill-opacity=".3"/><path d="M173.8 283.6l2.8 4.1 1.7-7.5-2.8-2.8z" fill="#d0dcef" stroke="#d0dcef" fill-opacity=".8"/><path d="M236 354.8l2.2-.4 2.6 4.6-2.8-.4z" fill="#6175ea" stroke="#6175ea"/><path d="M239.8 238.9l1.8-4.3 1 10.2-1.8 4.8z" fill="#f6bda7" stroke="#f6bda7" fill-opacity=".3"/><path d="M261.1 153.7l1.6-3 .4 4.8-1.6 .7z" fill="#be242f" stroke="#be242f" fill-opacity=".3"/><path d="M219.8 234.1l1.8-4.9 .9-8.2-1.7 6z" fill="#f7ad94" stroke="#f7ad94"/><path d="M230.9 352l1-6.3 4.1 9.1-1 5.3z" fill="#657bef" stroke="#657bef"/><path d="M244.5 209.9l2.2 2.9 .8 8.4-2.2-.9z" fill="#f3957c" stroke="#f3957c" fill-opacity=".3"/><path d="M252.3 171.6l1.3 .5 .7-6.5-1.3-.4z" fill="#cc403c" stroke="#cc403c"/><path d="M230.9 259.8l2.7 4.4 1.4 11.4-2.8-6z" fill="#e8d6cd" stroke="#e8d6cd" fill-opacity=".3"/><path d="M239.5 196.9l2.1 1.8 .7-10.6-2 2.1z" fill="#e5705c" stroke="#e5705c"/><path d="M204.3 260.1l2.1-3.2 1.2-8-2.1 2.6z" fill="#edd1c4" stroke="#edd1c4" fill-opacity=".6"/><path d="M213.6 241.7l2 4.7 1.1-7.7-2-4.5z" fill="#f5c0ab" stroke="#f5c0ab"/><path d="M257.6 157.1l2.2-4.2 .4-.2-2.2 3.1z" fill="#bd1f2e" stroke="#bd1f2e"/><path d="M250.4 197.9l.7-3.7 .7 8-.7 5.3z" fill="#eb7d66" stroke="#eb7d66" fill-opacity=".3"/><path d="M230 273.6l2 6.8 1.6 11-2-5.9z" fill="#d4dcea" stroke="#d4dcea" fill-opacity=".3"/><path d="M258.9 157.3l2.2-3.6 .4 2.5-2.2 7.2z" fill="#c02830" stroke="#c02830" fill-opacity=".3"/><path d="M252.6 184.4l1.5-.6 .6 6.6-1.4 2z" fill="#e06553" stroke="#e06553" fill-opacity=".3"/><path d="M224.9 334.5l1-8 2.8 10.3-.9 7.1z" fill="#7a98ff" stroke="#7a98ff" fill-opacity=".3"/><path d="M245.4 183.1l2.2-.1 .7-7.9-2.2 2.5z" fill="#d85649" stroke="#d85649"/><path d="M235.7 241.5l.7 1.4 1.1 11.6-.8-3.6z" fill="#f5c1ac" stroke="#f5c1ac" fill-opacity=".3"/><path d="M260.2 152.6l1.5-5.2 .4 1.9-1.6 2.3z" fill="#b8122a" stroke="#b8122a"/><path d="M223.8 307.8l1.7 1.5 2.1 10.3-1.7-1.1z" fill="#9ebeff" stroke="#9ebeff" fill-opacity=".3"/><path d="M234.3 248.6l2.5 2.3 1.1 11-2.4-2.5z" fill="#f2cbba" stroke="#f2cbba" fill-opacity=".3"/><path d="M235 360l1-5.3 2 3.9-2.7 1.9z" fill="#6073e9" stroke="#6073e9"/><path d="M248 201.3l2.4-3.4 .7 9.6-2.3 4.6z" fill="#ed836b" stroke="#ed836b" fill-opacity=".3"/><path d="M255.9 173.5l1.3-1.4 .6 7.3-1.3 0z" fill="#d24b42" stroke="#d24b42" fill-opacity=".3"/><path d="M260.8 151.1l1.6-3.5 .3 3.1-1.6 3z" fill="#b8122a" stroke="#b8122a" fill-opacity=".3"/><path d="M240.7 224.9l.8 2.1 1 10.5-.9-2.8z" fill="#f7ac93" stroke="#f7ac93" fill-opacity=".3"/><path d="M242.7 216.5l1.8-6.6 .9 10.4-1.9 6.6z" fill="#f4987f" stroke="#f4987f" fill-opacity=".3"/><path d="M260.5 151.6l1.6-2.4 .2-1.6-1.6 3.5z" fill="#b70d29" stroke="#b70d29" fill-opacity=".3"/><path d="M223.7 317.6l2.2 .9 2.1 8.7-2.2-.6z" fill="#90b1ff" stroke="#90b1ff" fill-opacity=".3"/><path d="M195.4 269.6l2.4 5.8 1.4-9.6-2.4-4.1z" fill="#e1dad7" stroke="#e1dad7" fill-opacity=".7"/><path d="M258 155.8l2.2-3.2 .3-1-2.2 2.4z" fill="#b8122a" stroke="#b8122a"/><path d="M225.5 341.4l2.3 2.5 3.1 8-2.3-1.5z" fill="#6e87f7" stroke="#6e87f7" fill-opacity=".4"/><path d="M254.3 165.6l2.1-1 .5-5.6-2 1.9z" fill="#c32e33" stroke="#c32e33"/><path d="M231.9 212.1l.8-.2 .9-9-.9-.2z" fill="#f08a71" stroke="#f08a71"/><path d="M225.9 286.3l2.8-4 1.7 11.4-2.9 3.4z" fill="#cbdaf6" stroke="#cbdaf6" fill-opacity=".3"/><path d="M256.6 167.3l2-4 .6 7.1-2 1.7z" fill="#ca3b39" stroke="#ca3b39" fill-opacity=".3"/><path d="M240.7 217.9l2-1.4 .8 10.4-2 .1z" fill="#f59d83" stroke="#f59d83" fill-opacity=".3"/><path d="M217 230.7l2.8 3.3 .9-7-2.7-5.2z" fill="#f7ac93" stroke="#f7ac93"/><path d="M258.6 154.9l2.2-3.7 .3 2.6-2.2 3.6z" fill="#ba162b" stroke="#ba162b" fill-opacity=".3"/><path d="M228.6 350.4l2.3 1.6 4.1 8-2.5-1z" fill="#6479ed" stroke="#6479ed"/><path d="M209.4 252.5l2.8-3.4 1.1-8.2-2.8 3.6z" fill="#f3c7b4" stroke="#f3c7b4"/><path d="M230.7 269.6l.3-9.8 1.3 9.8-.2 10.8z" fill="#e6d7d0" stroke="#e6d7d0" fill-opacity=".3"/><path d="M246 200.5l2 .7 .8 10.8-2 .8z" fill="#ed836b" stroke="#ed836b" fill-opacity=".3"/><path d="M223.6 298l2.1-4.6 1.9 12.8-2 3z" fill="#b7d1ff" stroke="#b7d1ff" fill-opacity=".3"/><path d="M258.2 157.6l.7-.2 .4 6.1-.7-.2z" fill="#c02830" stroke="#c02830" fill-opacity=".3"/><path d="M258.3 154l2.2-2.4 .2-.5-2.2 3.8z" fill="#b70d29" stroke="#b70d29" fill-opacity=".3"/><path d="M249.8 173.4l2.5-1.9 .7-6.4-2.5 2.9z" fill="#cb3e3a" stroke="#cb3e3a"/><path d="M222.8 326.5l1-8.9 2.1 8.9-1 8z" fill="#8aaaff" stroke="#8aaaff" fill-opacity=".3"/><path d="M202.5 258.8l1.8 1.3 1.2-8.6-1.8-.1z" fill="#eed0c2" stroke="#eed0c2" fill-opacity=".6"/><path d="M222.6 331.6l2.3 3 2.9 9.3-2.3-2.5z" fill="#7997ff" stroke="#7997ff" fill-opacity=".3"/><path d="M256.9 159l.7-1.9 .4-1.3-.7-1.5z" fill="#bb1b2c" stroke="#bb1b2c"/><path d="M237.4 197.8l2.2-.9 .8-6.8-2.2-.3z" fill="#e36c59" stroke="#e36c59"/><path d="M178.5 309.5l-3.8-10.4 2.2-6.7 3.8 10.2z" fill="#b6d0ff" stroke="#b6d0ff" fill-opacity=".8"/><path d="M232.5 253.7l1.8-5.1 1.1 10.8-1.7 4.7z" fill="#f2cbba" stroke="#f2cbba" fill-opacity=".3"/><path d="M232.5 359l2.5 1 .3 .5-2.8-1.6z" fill="#6175ea" stroke="#6175ea"/><path d="M244.7 186.9l.7-3.8 .8-5.4-.8 2.9z" fill="#d9584b" stroke="#d9584b"/><path d="M212.2 249.1l1.3-7.3 1.1-7.6-1.3 6.7z" fill="#f5c0ab" stroke="#f5c0ab"/><path d="M172.9 315.2l2.3 1 2.4-5-2.4-1.5z" fill="#9fbfff" stroke="#9fbfff" fill-opacity=".8"/><path d="M253.4 174.8l2.5-1.3 .6 5.9-2.5 4.4z" fill="#d44e44" stroke="#d44e44" fill-opacity=".3"/><path d="M250.4 183.6l2.2 .8 .7 8-2.2 1.7z" fill="#df6352" stroke="#df6352" fill-opacity=".3"/><path d="M228.7 282.3l1.3-8.7 1.6 11.9-1.3 8.3z" fill="#d6dde8" stroke="#d6dde8" fill-opacity=".3"/><path d="M235.5 203.8l1.8-6 .8-8-1.8 6.5z" fill="#e6725d" stroke="#e6725d"/><path d="M186.1 272.7l5 9.6 1.4-8.6-5-8.9z" fill="#dcdddd" stroke="#dcdddd" fill-opacity=".7"/><path d="M191.2 282.3l2.8-8.7 1.4-7.8-2.8 7.9z" fill="#dbdde0" stroke="#dbdde0" fill-opacity=".7"/><path d="M180.6 277.7l1.6-2.4 1.5-6.4-1.7 1.6z" fill="#dfdbd9" stroke="#dfdbd9" fill-opacity=".7"/><path d="M235.5 232l3.4-2.4 .9 9.3-3.4 4z" fill="#f7b097" stroke="#f7b097" fill-opacity=".3"/><path d="M182.3 275.4l3.9-2.7 1.4-7.9-3.9 4.2z" fill="#e1dad7" stroke="#e1dad7" fill-opacity=".7"/><path d="M221.1 350.1l2.9-4.8 3.1 8.5-2.9 4z" fill="#6a83f4" stroke="#6a83f4" fill-opacity=".4"/><path d="M216.7 238.8l.3-8 .9-8.9-.2 9.8z" fill="#f7af96" stroke="#f7af96"/><path d="M224.1 283.2l1.8 3.2 1.6 10.7-1.8-3.6z" fill="#cedbf3" stroke="#cedbf3" fill-opacity=".3"/><path d="M248.3 175.1l1.5-1.7 .7-5.4-1.5 .9z" fill="#cc403c" stroke="#cc403c"/><path d="M257.9 156.4l.7-1.5 .3 2.5-.7 .2z" fill="#b8122a" stroke="#b8122a" fill-opacity=".3"/><path d="M224 345.3l1.5-3.8 3.1 8.9-1.5 3.4z" fill="#708af9" stroke="#708af9" fill-opacity=".4"/><path d="M257.3 154.3l.7 1.5 .3-1.8-.7 1.5z" fill="#b70d29" stroke="#b70d29"/><path d="M222.5 221l2.5 5.6 .9-9.2-2.5-3.5z" fill="#f49a80" stroke="#f49a80"/><path d="M255.3 165.4l1.3 1.9 .6 4.8-1.3 1.4z" fill="#c83838" stroke="#c83838" fill-opacity=".3"/><path d="M216.1 343.2l4.9 6.9 3.2 7.7-5-5.9z" fill="#6b84f5" stroke="#6b84f5" fill-opacity=".4"/><path d="M227.1 353.8l1.5-3.4 3.9 8.6-2.8 .5z" fill="#667cf0" stroke="#667cf0" fill-opacity=".4"/><path d="M251.9 177.5l1.5-2.7 .6 9-1.5 .6z" fill="#d55045" stroke="#d55045" fill-opacity=".3"/><path d="M207.6 249l1.8 3.5 1.1-8-1.8-3.2z" fill="#f4c5b1" stroke="#f4c5b1"/><path d="M220.4 322.4l2.3 4.1 2.1 8-2.3-2.9z" fill="#89a9ff" stroke="#89a9ff" fill-opacity=".3"/><path d="M221.6 307.1l2.2 .7 2.1 10.6-2.2-.8z" fill="#a6c5ff" stroke="#a6c5ff" fill-opacity=".3"/><path d="M224.2 357.7l2.9-3.9 2.6 5.7-2.7 3.7z" fill="#6378ec" stroke="#6378ec"/><path d="M253 165.1l1.3 .5 .6-4.7-1.3 .4z" fill="#c02830" stroke="#c02830"/><path d="M257.6 155.5l.7-1.5 .2 .9-.7 1.5z" fill="#b70d29" stroke="#b70d29" fill-opacity=".3"/><path d="M242.3 188.1l2.4-1.2 .7-6.3-2.3 3.2z" fill="#da5a4c" stroke="#da5a4c"/><path d="M212.2 345.3l3.9-2.1 3.2 8.6-4 1.8z" fill="#6f88f8" stroke="#6f88f8" fill-opacity=".4"/><path d="M233.5 202.9l2 .9 .8-7.5-2.1-1.8z" fill="#e7745f" stroke="#e7745f"/><path d="M238.9 229.6l1.8-4.7 .9 9.8-1.8 4.3z" fill="#f7a990" stroke="#f7a990" fill-opacity=".3"/><path d="M218.2 341.6l2.9-5.8 2.9 9.4-2.9 4.9z" fill="#7591fd" stroke="#7591fd" fill-opacity=".3"/><path d="M221.9 296.3l1.8 1.8 1.9 11.2-1.7-1.5z" fill="#b8d1ff" stroke="#b8d1ff" fill-opacity=".3"/><path d="M210.6 347.7l1.6-2.3 3.2 8.2-1.7 2.3z" fill="#6d85f6" stroke="#6d85f6" fill-opacity=".4"/><path d="M176.8 292.3l-3-8.8 1.7-6.2 3 8z" fill="#d4ddeb" stroke="#d4ddeb" fill-opacity=".8"/><path d="M256.2 161.5l2-3.9 .5 5.7-2.1 4z" fill="#be242f" stroke="#be242f" fill-opacity=".3"/><path d="M219.3 351.9l4.9 5.9 2.8 5.5-3.6-2.2z" fill="#6378ec" stroke="#6378ec"/><path d="M226.6 218.3l3.4-4.7 .8-8.2-3.4 3.6z" fill="#f08b72" stroke="#f08b72"/><path d="M249.7 190.2l.7-6.6 .7 10.6-.7 3.7z" fill="#e06553" stroke="#e06553" fill-opacity=".3"/><path d="M193.9 273.6l1.5-4 1.4-7.9-1.5 4.1z" fill="#e5d8d2" stroke="#e5d8d2" fill-opacity=".7"/><path d="M215.3 353.6l3.9-1.7 4.2 9.2-4 1z" fill="#657bef" stroke="#657bef"/><path d="M213.2 333.1l5 8.5 2.8 8.5-4.9-6.9z" fill="#7692fe" stroke="#7692fe" fill-opacity=".3"/><path d="M230 213.6l1.8-1.4 .8-9.4-1.8 2.6z" fill="#ee866e" stroke="#ee866e"/><path d="M229.7 248.7l2.8 5 1.1 10.4-2.7-4.3z" fill="#f2c9b7" stroke="#f2c9b7" fill-opacity=".3"/><path d="M243.8 201.9l2.2-1.3 .7 12.3-2.2-2.9z" fill="#ec7f68" stroke="#ec7f68" fill-opacity=".3"/><path d="M254.8 160.9l2.1-1.9 .4-4.7-2.1 5z" fill="#b8122a" stroke="#b8122a"/><path d="M228.7 263.6l2 6 1.4 10.7-2-6.7z" fill="#e6d7d0" stroke="#e6d7d0" fill-opacity=".3"/><path d="M221.1 335.8l1.5-4.2 2.9 9.8-1.5 3.8z" fill="#7b99ff" stroke="#7b99ff" fill-opacity=".3"/><path d="M178.3 280.2l2.4-2.4 1.4-7.2-2.4 2z" fill="#dfdbd9" stroke="#dfdbd9" fill-opacity=".7"/><path d="M220.7 316.1l.9-9 2.1 10.4-.9 9z" fill="#a0c0ff" stroke="#a0c0ff" fill-opacity=".3"/><path d="M213.7 355.9l1.6-2.3 4.1 8.5-1.6 2.3z" fill="#6378ec" stroke="#6378ec"/><path d="M223.4 361.1l3.6 2.2-0-.1-2.8-.6z" fill="#6073e9" stroke="#6073e9"/><path d="M207.7 338.5l1.6-2.5 2.9 9.4-1.6 2.3z" fill="#7794ff" stroke="#7794ff" fill-opacity=".3"/><path d="M209.3 335.9l3.9-2.8 2.9 10.1-3.9 2.1z" fill="#7a98ff" stroke="#7a98ff" fill-opacity=".3"/><path d="M247.3 192.9l2.4-2.8 .6 7.7-2.3 3.4z" fill="#e36b58" stroke="#e36b58" fill-opacity=".3"/><path d="M200.2 258.8l2.2-0 1.3-7.4-2.3-.8z" fill="#f1cdbd" stroke="#f1cdbd" fill-opacity=".5"/><path d="M246.2 177.6l2.2-2.6 .7-6.1-2.2 3z" fill="#cc403c" stroke="#cc403c"/><path d="M240.3 190.2l2-2.1 .8-4.3-2.1 .3z" fill="#da5a4c" stroke="#da5a4c"/><path d="M219.5 362.1l4-1 .7 1.5-2.7 3z" fill="#6073e9" stroke="#6073e9"/><path d="M233.2 237.5l2.5 4 1 9.4-2.4-2.3z" fill="#f7b9a2" stroke="#f7b9a2" fill-opacity=".3"/><path d="M234.8 230.6l.7 1.5 1 10.8-.7-1.4z" fill="#f7af96" stroke="#f7af96" fill-opacity=".3"/><path d="M241.9 206.8l1.9-5 .7 8.1-1.8 6.6z" fill="#ec8169" stroke="#ec8169" fill-opacity=".3"/><path d="M216.1 333.2l2.9-6.4 2.1 9.1-2.9 5.8z" fill="#82a1ff" stroke="#82a1ff" fill-opacity=".3"/><path d="M252.8 170.5l2.4-5.1 .6 8.1-2.4 1.3z" fill="#c83838" stroke="#c83838" fill-opacity=".3"/><path d="M208.2 349.3l2.4-1.6 3.1 8.2-2.4 1.6z" fill="#6d86f6" stroke="#6d86f6" fill-opacity=".4"/><path d="M225.9 217.4l.7 .9 .8-9.3-.7-.1z" fill="#f08b72" stroke="#f08b72"/><path d="M239.9 214.2l.9 3.7 .8 9-.8-2.1z" fill="#f3977d" stroke="#f3977d" fill-opacity=".3"/><path d="M220.7 227l1.7-6 .9-7.1-1.7 5.8z" fill="#f49a80" stroke="#f49a80"/><path d="M217.8 364.3l1.6-2.3 2 3.5-2.8 .3z" fill="#5f72e8" stroke="#5f72e8"/><path d="M255.8 159.1l2.1-2.7 .3 1.2-2.1 3.9z" fill="#b70d29" stroke="#b70d29" fill-opacity=".3"/><path d="M250.5 168l2.5-2.8 .5-3.8-2.4 2.6z" fill="#c02830" stroke="#c02830"/><path d="M224.5 275l2.9-3.3 1.3 10.5-2.8 4.1z" fill="#dedcdb" stroke="#dedcdb" fill-opacity=".3"/><path d="M255.3 159.3l2-5 .4 1.1-2.1 2.8z" fill="#b50928" stroke="#b50928"/><path d="M249.8 178.6l2.2-1.1 .6 6.9-2.2-.8z" fill="#d44e44" stroke="#d44e44" fill-opacity=".3"/><path d="M211.1 324.2l5 8.9 2.1 8.5-4.9-8.5z" fill="#85a5ff" stroke="#85a5ff" fill-opacity=".3"/><path d="M254.9 163.1l1.3-1.6 .5 5.8-1.4-1.9z" fill="#be242f" stroke="#be242f" fill-opacity=".3"/><path d="M222 287.1l2.1-4 1.6 10.3-2.1 4.6z" fill="#d0dcf0" stroke="#d0dcf0" fill-opacity=".3"/><path d="M199.3 265.8l1-7 1.2-8.2-1 8.4z" fill="#efcfc1" stroke="#efcfc1" fill-opacity=".6"/><path d="M255.6 158.2l2.1-2.8 .2 .9-2.1 2.7z" fill="#b50928" stroke="#b50928" fill-opacity=".3"/><path d="M229.5 259.3l.2-10.7 1.2 11.1-.2 9.8z" fill="#f2cbba" stroke="#f2cbba" fill-opacity=".3"/><path d="M205.3 340.2l2.4-1.8 2.9 9.2-2.4 1.6z" fill="#7794ff" stroke="#7794ff" fill-opacity=".3"/><path d="M211.3 357.5l2.4-1.6 4.1 8.5-2.4 1.4z" fill="#6378ec" stroke="#6378ec"/><path d="M239.9 207.1l2-.2 .8 9.6-2 1.4z" fill="#ee846c" stroke="#ee846c" fill-opacity=".3"/><path d="M205.5 330.2l1.6-2.7 2.2 8.4-1.7 2.6z" fill="#87a7ff" stroke="#87a7ff" fill-opacity=".3"/><path d="M253.5 161.4l1.3-.5 .4-1.6-1.3 .8z" fill="#b8122a" stroke="#b8122a"/><path d="M245.3 193.8l2-.8 .7 8.3-2-.7z" fill="#e36b58" stroke="#e36b58" fill-opacity=".3"/><path d="M218.9 326.8l1.5-4.4 2.1 9.2-1.5 4.2z" fill="#8eaeff" stroke="#8eaeff" fill-opacity=".3"/><path d="M214.7 234.2l2 4.6 1-7.1-2.1-6.5z" fill="#f7af96" stroke="#f7af96"/><path d="M218.3 311.6l2.3 4.6 2.1 10.3-2.3-4.1z" fill="#9fbfff" stroke="#9fbfff" fill-opacity=".3"/><path d="M207.2 327.4l3.9-3.2 2.2 8.9-4 2.8z" fill="#8cadff" stroke="#8cadff" fill-opacity=".3"/><path d="M175.5 277.3l2.8 2.9 1.3-7.6-2.8-3.4z" fill="#e3d9d4" stroke="#e3d9d4" fill-opacity=".7"/><path d="M205.5 251.5l2.1-2.6 1.1-7.7-2.1 2.7z" fill="#f5c2ae" stroke="#f5c2ae"/><path d="M177.5 311.2l.9-1.8 2.2-6.8-.9 1.9z" fill="#b4cfff" stroke="#b4cfff" fill-opacity=".8"/><path d="M231.5 244.5l1.7-7 1.1 11.1-1.8 5.1z" fill="#f7baa4" stroke="#f7baa4" fill-opacity=".3"/><path d="M245.4 180.6l.7-2.9 .7-5.8-.7 2.6z" fill="#cd423d" stroke="#cd423d"/><path d="M251.4 169.4l1.5 1 .5 4.4-1.4 2.7z" fill="#ca3b39" stroke="#ca3b39" fill-opacity=".3"/><path d="M215.5 365.8l2.4-1.4 .8 1.4-2.8 .8z" fill="#5f72e8" stroke="#5f72e8"/><path d="M227.3 271.7l1.3-8.1 1.4 10-1.3 8.6z" fill="#e7d7cf" stroke="#e7d7cf" fill-opacity=".3"/><path d="M249 168.9l1.5-.9 .5-4-1.4 1.6z" fill="#c12b31" stroke="#c12b31"/><path d="M238.1 189.8l2.2 .4 .7-6.1-2.2-.5z" fill="#d85649" stroke="#d85649"/><path d="M254.5 160.2l1.3-1.2 .3 2.4-1.3 1.7z" fill="#b8122a" stroke="#b8122a" fill-opacity=".3"/><path d="M252.4 167.1l2.5-4 .4 2.2-2.5 5.1z" fill="#c12b31" stroke="#c12b31" fill-opacity=".3"/><path d="M219.6 295.4l2.2 .9 2 11.4-2.2-.6z" fill="#c1d6ff" stroke="#c1d6ff" fill-opacity=".3"/><path d="M217.9 221.9l2.8 5.1 .9-7.2-2.8-4.4z" fill="#f4987f" stroke="#f4987f"/><path d="M232.7 202.8l.8 .1 .8-8.3-.8 .9z" fill="#e5705c" stroke="#e5705c"/><path d="M205.5 346.5l2.7 2.8 3.2 8.2-2.7-2.2z" fill="#708af9" stroke="#708af9" fill-opacity=".4"/><path d="M203.1 331.3l2.4-1.1 2.1 8.3-2.3 1.7z" fill="#87a7ff" stroke="#87a7ff" fill-opacity=".3"/><path d="M254 160.1l1.3-.8 .3-1.1-1.3-1.2z" fill="#b50928" stroke="#b50928"/><path d="M234.6 221.5l3.5-.6 .8 8.7-3.4 2.4z" fill="#f59c82" stroke="#f59c82" fill-opacity=".3"/><path d="M222.7 271.6l1.8 3.4 1.4 11.3-1.8-3.2z" fill="#e0dbd8" stroke="#e0dbd8" fill-opacity=".3"/><path d="M249 181.4l.7-2.7 .6 5-.7 6.5z" fill="#d55045" stroke="#d55045" fill-opacity=".3"/><path d="M251.1 164l2.5-2.6 .4-1.3-2.5 1.8z" fill="#ba162b" stroke="#ba162b"/><path d="M208.6 355.3l2.7 2.2 4.1 8.3-2.6-1.2z" fill="#667df0" stroke="#667df0"/><path d="M218.7 304.7l.9-9.3 2 11.7-.9 9z" fill="#bbd3ff" stroke="#bbd3ff" fill-opacity=".3"/><path d="M220.2 284.5l1.8 2.7 1.6 10.9-1.8-1.8z" fill="#d0dcef" stroke="#d0dcef" fill-opacity=".3"/><path d="M214 322.8l2.9-6.8 2.1 10.8-2.9 6.4z" fill="#97b7ff" stroke="#97b7ff" fill-opacity=".3"/><path d="M196.9 261.7l2.4 4.1 1.2-6.8-2.4-4.3z" fill="#efcfc1" stroke="#efcfc1" fill-opacity=".6"/><path d="M254.3 157l1.3 1.2 .3 .8-1.3 1.2z" fill="#b40426" stroke="#b40426" fill-opacity=".3"/><path d="M238.1 220.9l1.8-6.7 .8 10.7-1.8 4.7z" fill="#f3957c" stroke="#f3957c" fill-opacity=".3"/><path d="M243.1 183.7l2.4-3.2 .7-6-2.4 2.4z" fill="#cf453e" stroke="#cf453e"/><path d="M236.3 196.3l1.8-6.6 .8-6.2-1.9 3.6z" fill="#d9584b" stroke="#d9584b"/><path d="M210.5 244.5l2.8-3.6 1-9.1-2.9 3.9z" fill="#f7b59d" stroke="#f7b59d"/><path d="M209 314.3l5 8.4 2.1 10.4-5-8.9z" fill="#9abbff" stroke="#9abbff" fill-opacity=".3"/><path d="M202.5 336.4l2.8 3.8 2.8 9.1-2.7-2.8z" fill="#7d9bff" stroke="#7d9bff" fill-opacity=".3"/><path d="M228.7 240l2.8 4.5 1 9.2-2.8-5z" fill="#f7b9a2" stroke="#f7b9a2" fill-opacity=".3"/><path d="M243.1 192.3l2.2 1.4 .7 6.8-2.2 1.3z" fill="#e16755" stroke="#e16755" fill-opacity=".3"/><path d="M203.4 319.8l1.6-2.6 2.1 10.3-1.6 2.7z" fill="#9bbcff" stroke="#9bbcff" fill-opacity=".3"/><path d="M212.8 364.6l2.7 1.2 .4 .9-2.8-1.4z" fill="#6277eb" stroke="#6277eb"/><path d="M203.7 251.5l1.8 .1 1-7.6-1.7-.8z" fill="#f5c1ac" stroke="#f5c1ac"/><path d="M227.5 253.6l2 5.8 1.2 10.2-2-6z" fill="#f2cbba" stroke="#f2cbba" fill-opacity=".3"/><path d="M252 161.2l2.5-.9 .3 2.8-2.4 4z" fill="#ba162b" stroke="#ba162b" fill-opacity=".3"/><path d="M250.9 166l1.5 1.1 .4 3.3-1.5-1z" fill="#c12b31" stroke="#c12b31" fill-opacity=".3"/><path d="M249.2 171.5l2.2-2 .6 8.1-2.2 1.1z" fill="#c83838" stroke="#c83838" fill-opacity=".3"/><path d="M205 317.2l3.9-2.8 2.1 9.9-3.9 3.2z" fill="#a1c1ff" stroke="#a1c1ff" fill-opacity=".3"/><path d="M246.7 183.4l2.4-2 .6 8.8-2.3 2.7z" fill="#d75448" stroke="#d75448" fill-opacity=".3"/><path d="M246.9 171.9l2.2-3 .5-3.3-2.2 .2z" fill="#c12b31" stroke="#c12b31"/><path d="M213.3 240.9l1.4-6.7 .9-9-1.4 6.7z" fill="#f7ad94" stroke="#f7ad94"/><path d="M216.8 316l1.5-4.4 2.1 10.8-1.5 4.4z" fill="#a3c3ff" stroke="#a3c3ff" fill-opacity=".3"/><path d="M251.5 162l2.5-1.8 .3-3.1-2.5 5.4z" fill="#b50928" stroke="#b50928"/><path d="M249.6 165.6l1.5-1.6 .4-2-1.5 1.6z" fill="#ba162b" stroke="#ba162b"/><path d="M217.7 231.7l.2-9.8 .9-6.6-.3 7.4z" fill="#f49a80" stroke="#f49a80"/><path d="M232.3 229.6l2.5 1 .9 10.9-2.5-4z" fill="#f7a68d" stroke="#f7a68d" fill-opacity=".3"/><path d="M180.6 302.6l-3.8-10.3 1.7-6.9 3.8 11z" fill="#cfdcf2" stroke="#cfdcf2" fill-opacity=".8"/><path d="M241 184.1l2-.3 .7-6.8-2 .3z" fill="#cf453e" stroke="#cf453e"/><path d="M241.2 197.7l1.9-5.4 .7 9.5-1.9 5z" fill="#e26956" stroke="#e26956" fill-opacity=".3"/><path d="M234.3 194.5l2 1.8 .7-9.2-2 .5z" fill="#da5a4c" stroke="#da5a4c"/><path d="M223.4 213.9l2.5 3.5 .8-8.5-2.5-2.6z" fill="#ed836b" stroke="#ed836b"/><path d="M230.8 205.4l1.8-2.6 .8-7.3-1.8 5.9z" fill="#e5705c" stroke="#e5705c"/><path d="M239.1 207.1l.8-0 .8 10.8-.8-3.6z" fill="#ec8169" stroke="#ec8169" fill-opacity=".3"/><path d="M233.9 222.4l.7-1 .9 10.6-.8-1.5z" fill="#f4987f" stroke="#f4987f" fill-opacity=".3"/><path d="M251.8 162.5l2.4-5.4 .3 3.2-2.5 .9z" fill="#b50928" stroke="#b50928" fill-opacity=".3"/><path d="M227.4 209l3.4-3.6 .8-4-3.5-1.9z" fill="#e7745f" stroke="#e7745f"/><path d="M192.6 273.7l2.8-7.9 1.2-7.2-2.8 6.5z" fill="#ebd3c8" stroke="#ebd3c8" fill-opacity=".6"/><path d="M175.2 309.7l2.3 1.5 2.2-6.6-2.3-1.5z" fill="#bad3ff" stroke="#bad3ff" fill-opacity=".8"/><path d="M187.5 264.8l5 8.9 1.2-8.6-5-7.8z" fill="#ecd3c7" stroke="#ecd3c7" fill-opacity=".6"/><path d="M182 270.6l1.7-1.6 1.1-8.6-1.7 2.3z" fill="#edd1c4" stroke="#edd1c4" fill-opacity=".6"/><path d="M208.7 241.3l1.8 3.2 1-8.7-1.8-1.4z" fill="#f7b49c" stroke="#f7b49c"/><path d="M201 321.8l2.4-2 2.1 10.4-2.4 1.1z" fill="#9bbcff" stroke="#9bbcff" fill-opacity=".3"/><path d="M216.3 299.1l2.4 5.6 2 11.5-2.4-4.6z" fill="#bad3ff" stroke="#bad3ff" fill-opacity=".3"/><path d="M244.6 185.1l2-1.7 .7 9.5-2.1 .8z" fill="#d75448" stroke="#d75448" fill-opacity=".3"/><path d="M200.4 327.6l2.8 3.7 2.1 8.9-2.7-3.8z" fill="#8daeff" stroke="#8daeff" fill-opacity=".3"/><path d="M183.7 268.9l3.8-4.2 1.2-7.5-3.9 3.1z" fill="#efcfc1" stroke="#efcfc1" fill-opacity=".6"/><path d="M250.6 164.8l1.5-3.7 .3 6-1.5-1.1z" fill="#ba162b" stroke="#ba162b" fill-opacity=".3"/><path d="M223.3 264.4l2.9-3.7 1.2 11-2.9 3.3z" fill="#edd1c4" stroke="#edd1c4" fill-opacity=".3"/><path d="M250 163.6l1.5-1.7 .3 .6-1.5 1.9z" fill="#b8122a" stroke="#b8122a"/><path d="M220.6 274.9l2.1-3.2 1.4 11.5-2.1 4z" fill="#e3d9d4" stroke="#e3d9d4" fill-opacity=".3"/><path d="M228.4 248l.3-8 1 8.7-.2 10.6z" fill="#f7baa3" stroke="#f7baa3" fill-opacity=".3"/><path d="M239.2 199l2-1.3 .7 9.1-2 .3z" fill="#e36c59" stroke="#e36c59" fill-opacity=".3"/><path d="M250.3 164.4l1.5-1.9 .2-1.3-1.5 3.6z" fill="#b8122a" stroke="#b8122a" fill-opacity=".3"/><path d="M248.5 175.8l.7-4.4 .6 7.2-.7 2.7z" fill="#ca3b39" stroke="#ca3b39" fill-opacity=".3"/><path d="M246.1 174.5l.7-2.6 .6-6.1-.7 5.2z" fill="#c32e33" stroke="#c32e33"/><path d="M195.4 265.8l1.5-4 1.2-7.1-1.5 3.9z" fill="#f1cdbd" stroke="#f1cdbd" fill-opacity=".5"/><path d="M230.5 234l1.8-4.4 .9 7.9-1.7 7z" fill="#f7a88e" stroke="#f7a88e" fill-opacity=".3"/><path d="M179.6 272.6l2.4-2 1.1-7.9-2.3 3.6z" fill="#edd1c4" stroke="#edd1c4" fill-opacity=".6"/><path d="M178.5 285.4l-3-8 1.3-8.1 3.1 8.3z" fill="#e5d8d2" stroke="#e5d8d2" fill-opacity=".7"/><path d="M226.1 260.7l1.4-7.1 1.1 10-1.3 8.1z" fill="#f2cbba" stroke="#f2cbba" fill-opacity=".3"/><path d="M221.6 219.7l1.8-5.8 .8-7.6-1.8 5.4z" fill="#ee846c" stroke="#ee846c"/><path d="M248.7 167.9l2.2-1.9 .4 3.4-2.2 2.1z" fill="#be242f" stroke="#be242f" fill-opacity=".3"/><path d="M218 284.5l2.2-0 1.7 11.8-2.3-.9z" fill="#d7dde6" stroke="#d7dde6" fill-opacity=".3"/><path d="M201.5 250.6l2.3 .8 1-8.3-2.2-.1z" fill="#f6bea8" stroke="#f6bea8"/><path d="M238.8 183.5l2.2 .5 .7-6.7-2.2 1.9z" fill="#cd423d" stroke="#cd423d"/><path d="M247.4 165.8l2.2-.2 .4-2-2.2 .2z" fill="#b8122a" stroke="#b8122a"/><path d="M212 311.5l2.9-7.3 2 11.8-2.9 6.7z" fill="#b3ceff" stroke="#b3ceff" fill-opacity=".3"/><path d="M210.1 360.4l-1.5-5.1 4.1 9.3-2.6-4.2z" fill="#6b84f5" stroke="#6b84f5" fill-opacity=".4"/><path d="M208.6 355.9l-3.2-9.4 3.2 8.8 1.5 5.1z" fill="#738efb" stroke="#738efb" fill-opacity=".4"/><path d="M226.7 208.9l.7 .1 .7-9.5-.7 1.9z" fill="#e6725d" stroke="#e6725d"/><path d="M206.9 302l5 9.5 2 11.2-5-8.4z" fill="#b5cfff" stroke="#b5cfff" fill-opacity=".3"/><path d="M210.1 360.4l2.6 4.2 .3 .6-2.9-4.8z" fill="#6981f3" stroke="#6981f3" fill-opacity=".4"/><path d="M242.5 186.5l2.2-1.3 .6 8.6-2.2-1.4z" fill="#d65246" stroke="#d65246" fill-opacity=".3"/><path d="M201.4 308.5l1.6-2.8 2.1 11.5-1.7 2.6z" fill="#b7d1ff" stroke="#b7d1ff" fill-opacity=".3"/><path d="M248.4 165.2l2.2-.4 .3 1.2-2.2 1.9z" fill="#ba162b" stroke="#ba162b" fill-opacity=".3"/><path d="M217 292.5l1-8 1.6 10.9-.9 9.3z" fill="#d3dcec" stroke="#d3dcec" fill-opacity=".3"/><path d="M221.5 261.5l1.8 2.9 1.2 10.6-1.8-3.4z" fill="#efcfc1" stroke="#efcfc1" fill-opacity=".3"/><path d="M243.8 177l2.4-2.4 .5-3.5-2.4-.2z" fill="#c32e33" stroke="#c32e33"/><path d="M203 305.7l3.9-3.7 2 12.3-3.9 2.8z" fill="#bcd4ff" stroke="#bcd4ff" fill-opacity=".3"/><path d="M233.8 211.3l3.4-2 .8 11.6-3.4 .5z" fill="#ed836b" stroke="#ed836b" fill-opacity=".3"/><path d="M246.1 175.9l2.4-.1 .6 5.5-2.4 2.1z" fill="#ca3b39" stroke="#ca3b39" fill-opacity=".3"/><path d="M247.8 163.7l2.2-.1 .3 .8-2.2 .1z" fill="#b70d29" stroke="#b70d29"/><path d="M215.6 225.2l2.1 6.5 .8-8.9-2-4.9z" fill="#f49a80" stroke="#f49a80"/><path d="M218.8 274.6l1.7 .2 1.5 12.3-1.8-2.7z" fill="#e3d9d4" stroke="#e3d9d4" fill-opacity=".3"/><path d="M248.2 164.6l2.2-.2 .2 .5-2.2 .3z" fill="#b8122a" stroke="#b8122a" fill-opacity=".3"/><path d="M237.3 209.4l1.8-2.3 .8 7.1-1.8 6.7z" fill="#eb7d66" stroke="#eb7d66" fill-opacity=".3"/><path d="M200.5 259l1-8.4 1-7.6-1 7z" fill="#f5c0ab" stroke="#f5c0ab"/><path d="M198.2 316.9l2.8 4.9 2.1 9.5-2.8-3.6z" fill="#a5c4ff" stroke="#a5c4ff" fill-opacity=".3"/><path d="M205.7 346.4l-3.2-10 2.9 10.1 3.2 9.4z" fill="#7f9dff" stroke="#7f9dff" fill-opacity=".3"/><path d="M227.7 229.7l2.8 4.3 .9 10.5-2.7-4.5z" fill="#f7a68d" stroke="#f7a68d" fill-opacity=".3"/><path d="M206.6 244l2.1-2.7 1-6.9-2.2 .5z" fill="#f7b199" stroke="#f7b199"/><path d="M218.8 215.3l2.8 4.4 .8-8-2.8-3.1z" fill="#ee846c" stroke="#ee846c"/><path d="M214.8 304.2l1.5-5.2 2 12.5-1.5 4.4z" fill="#c0d6ff" stroke="#c0d6ff" fill-opacity=".3"/><path d="M233.4 195.5l.8-1 .7-6.9-.8 .6z" fill="#d85649" stroke="#d85649"/><path d="M248 170.2l.7-2.3 .5 3.6-.7 4.3z" fill="#c02830" stroke="#c02830" fill-opacity=".3"/><path d="M237 187.2l1.9-3.7 .7-4.3-1.9 1z" fill="#cc403c" stroke="#cc403c"/><path d="M226.4 242.6l2 5.4 1.1 11.3-2-5.7z" fill="#f7baa3" stroke="#f7baa3" fill-opacity=".3"/><path d="M176.8 269.2l2.8 3.4 1.2-6.3-2.9-5.6z" fill="#f0cdbe" stroke="#f0cdbe" fill-opacity=".6"/><path d="M199 310l2.4-1.6 2 11.4-2.4 1.9z" fill="#b7d1ff" stroke="#b7d1ff" fill-opacity=".3"/><path d="M246.7 171.1l.7-5.3 .4-2-.7 4.6z" fill="#ba162b" stroke="#ba162b"/><path d="M240.6 188l1.9-1.5 .6 5.8-1.8 5.4z" fill="#d65246" stroke="#d65246" fill-opacity=".3"/><path d="M231.4 219.7l2.5 2.7 .8 8.1-2.4-1z" fill="#f29279" stroke="#f29279" fill-opacity=".3"/><path d="M238.4 198.8l.8 .2 .7 8-.8 0z" fill="#e36b58" stroke="#e36b58" fill-opacity=".3"/><path d="M244 178.4l2-2.5 .6 7.5-2 1.7z" fill="#ca3b39" stroke="#ca3b39" fill-opacity=".3"/><path d="M179.7 304.6l.9-2 1.8-6.1-1 1.1z" fill="#cddbf4" stroke="#cddbf4" fill-opacity=".8"/><path d="M241.7 177.3l2.1-.4 .5-6.1-2.1 .6z" fill="#c12b31" stroke="#c12b31"/><path d="M233.2 213.7l.7-2.3 .8 10.1-.7 1z" fill="#ed836b" stroke="#ed836b" fill-opacity=".3"/><path d="M247.7 170.2l.7-5 .4 2.6-.8 2.3z" fill="#ba162b" stroke="#ba162b" fill-opacity=".3"/><path d="M214.7 288.2l2.4 4.3 1.6 12.2-2.4-5.6z" fill="#d3dcec" stroke="#d3dcec" fill-opacity=".3"/><path d="M247.4 168.1l.7-3.5 .3 .6-.8 5.1z" fill="#b8122a" stroke="#b8122a" fill-opacity=".3"/><path d="M203.5 337.1l-3.2-9.4 2.2 8.7 3.2 10z" fill="#91b2ff" stroke="#91b2ff" fill-opacity=".3"/><path d="M247.1 168.4l.7-4.7 .3 .9-.7 3.5z" fill="#b70d29" stroke="#b70d29"/><path d="M211.4 235.7l2.9-3.9 .8-6.9-2.9 2.6z" fill="#f6a288" stroke="#f6a288"/><path d="M198.1 254.7l2.4 4.3 1-9-2.4-3.8z" fill="#f5c0ab" stroke="#f5c0ab"/><path d="M231.6 201.4l1.8-5.8 .7-7.3-1.8 4.2z" fill="#da5a4c" stroke="#da5a4c"/><path d="M227.5 238.6l.3-8.9 .9 10.3-.2 8z" fill="#f7a88e" stroke="#f7a88e" fill-opacity=".3"/><path d="M238.5 188.5l2-.5 .7 9.7-2 1.3z" fill="#d65247" stroke="#d65247" fill-opacity=".3"/><path d="M235 187.7l2-.5 .7-7-2 .8z" fill="#cc403c" stroke="#cc403c"/><path d="M244.3 170.8l2.4 .2 .4-2.6-2.4 .5z" fill="#bb1b2c" stroke="#bb1b2c"/><path d="M241.9 180l2.2-1.5 .6 6.6-2.2 1.4z" fill="#cb3e3a" stroke="#cb3e3a" fill-opacity=".3"/><path d="M228.1 199.5l3.5 1.8 .7-8.9-3.5 .7z" fill="#dd5f4f" stroke="#dd5f4f"/><path d="M245.6 170.5l2.4-.3 .5 5.6-2.4 .1z" fill="#be242f" stroke="#be242f" fill-opacity=".3"/><path d="M224.2 206.3l2.5 2.6 .8-7.5-2.5-1z" fill="#e36c59" stroke="#e36c59"/><path d="M214.3 231.8l1.4-6.6 .8-7.3-1.3 7z" fill="#f4987f" stroke="#f4987f"/><path d="M222.2 253.9l2.8-5.4 1.2 12.2-2.9 3.8z" fill="#f5c1ad" stroke="#f5c1ad" fill-opacity=".3"/><path d="M219.4 263.3l2.1-1.8 1.2 10.2-2.1 3.2z" fill="#f1cdbd" stroke="#f1cdbd" fill-opacity=".3"/><path d="M229.6 223.6l1.8-3.8 .9 9.8-1.8 4.4z" fill="#f29279" stroke="#f29279" fill-opacity=".3"/><path d="M204.8 243.1l1.8 .9 .9-9.2-1.8-.8z" fill="#f7b097" stroke="#f7b097"/><path d="M218.5 222.7l.3-7.4 .8-6.7-.3 4.8z" fill="#ee846c" stroke="#ee846c"/><path d="M239.5 179.2l2.2-1.9 .5-5.9-2.2 2.7z" fill="#c12b31" stroke="#c12b31"/><path d="M216.6 273.1l2.3 1.5 1.4 9.9-2.3 0z" fill="#e9d5cc" stroke="#e9d5cc" fill-opacity=".3"/><path d="M245.3 172.2l2.4-2 .3-0-2.4 .3z" fill="#bb1b2c" stroke="#bb1b2c" fill-opacity=".3"/><path d="M245 169.7l2.4-1.6 .2 2.2-2.3 1.9z" fill="#ba162b" stroke="#ba162b" fill-opacity=".3"/><path d="M210.3 299.6l2.9-7.3 1.6 12-2.8 7.3z" fill="#cddbf4" stroke="#cddbf4" fill-opacity=".3"/><path d="M196.2 306l2.8 4 2 11.7-2.8-4.9z" fill="#bed5ff" stroke="#bed5ff" fill-opacity=".3"/><path d="M225 248.4l1.4-5.8 1.1 11-1.4 7.1z" fill="#f7b9a2" stroke="#f7b9a2" fill-opacity=".3"/><path d="M205.3 290.9l5 8.6 1.7 12-5-9.5z" fill="#cfdbf2" stroke="#cfdbf2" fill-opacity=".3"/><path d="M243.6 175.5l2-5 .5 5.4-2.1 2.6z" fill="#c02830" stroke="#c02830" fill-opacity=".3"/><path d="M244.7 169l2.4-.6 .3-.3-2.4 1.6z" fill="#b8122a" stroke="#b8122a"/><path d="M199.7 296.4l1.7-1.6 1.6 11-1.6 2.7z" fill="#d0dcef" stroke="#d0dcef" fill-opacity=".3"/><path d="M209.6 234.4l1.8 1.3 .8-8.2-1.8-1.9z" fill="#f5a086" stroke="#f5a086"/><path d="M236.6 202l1.8-3.2 .7 8.3-1.8 2.3z" fill="#e26956" stroke="#e26956" fill-opacity=".3"/><path d="M182.3 296.5l-3.8-11.1 1.3-7.8 3.9 11.4z" fill="#e0dbd8" stroke="#e0dbd8" fill-opacity=".7"/><path d="M183.2 262.7l1.7-2.3 .9-8.4-1.6 3.5z" fill="#f5c2ae" stroke="#f5c2ae"/><path d="M201.3 294.8l3.9-3.9 1.7 11.2-3.9 3.6z" fill="#d4dceb" stroke="#d4dceb" fill-opacity=".3"/><path d="M240 182.1l1.9-2.2 .6 6.5-1.9 1.6z" fill="#ca3b39" stroke="#ca3b39" fill-opacity=".3"/><path d="M188.7 257.3l5 7.8 1-8.4-5-7.6z" fill="#f5c4af" stroke="#f5c4af"/><path d="M193.7 265.1l2.8-6.5 1.1-8.7-2.9 6.8z" fill="#f4c6b2" stroke="#f4c6b2"/><path d="M237.6 180.2l1.9-1 .5-5.1-1.8 4.3z" fill="#c32e33" stroke="#c32e33"/><path d="M220.4 251.5l1.8 2.4 1.1 10.5-1.8-2.9z" fill="#f5c0ab" stroke="#f5c0ab" fill-opacity=".3"/><path d="M233.1 203.2l3.5-1.2 .7 7.4-3.5 1.9z" fill="#e36c59" stroke="#e36c59" fill-opacity=".3"/><path d="M215.6 281.4l1-8.3 1.4 11.4-1 8z" fill="#e6d7d0" stroke="#e6d7d0" fill-opacity=".3"/><path d="M184.8 260.4l3.9-3.1 1-8.2-3.9 2.9z" fill="#f6bfa9" stroke="#f6bfa9"/><path d="M222.4 211.7l1.8-5.4 .7-5.9-1.8 2z" fill="#e36c59" stroke="#e36c59"/><path d="M242.2 171.4l2.1-.6 .4-1.9-2.1 .8z" fill="#b8122a" stroke="#b8122a"/><path d="M201.4 327.6l-3.2-10.7 2.2 10.8 3.1 9.4z" fill="#a8c6ff" stroke="#a8c6ff" fill-opacity=".3"/><path d="M243.2 172.1l2.1 .1 .3-1.7-2 5z" fill="#bb1b2c" stroke="#bb1b2c" fill-opacity=".3"/><path d="M227.4 201.4l.7-1.9 .7-6.3-.7 2.4z" fill="#da5a4c" stroke="#da5a4c"/><path d="M213.1 292.3l1.5-4.1 1.7 10.9-1.5 5.2z" fill="#d7dde7" stroke="#d7dde7" fill-opacity=".3"/><path d="M217.6 262.8l1.8 .5 1.2 11.6-1.7-.3z" fill="#f1cdbd" stroke="#f1cdbd" fill-opacity=".3"/><path d="M177.4 303.1l2.3 1.4 1.7-7-2.3-1.8z" fill="#d2dced" stroke="#d2dced" fill-opacity=".8"/><path d="M243 171.1l2-1.5 .3 2.6-2.1-.1z" fill="#b8122a" stroke="#b8122a" fill-opacity=".3"/><path d="M230.7 212l2.5 1.7 .8 8.8-2.5-2.7z" fill="#eb7d66" stroke="#eb7d66" fill-opacity=".3"/><path d="M196.6 258.6l1.5-3.9 1.1-8.5-1.6 3.7z" fill="#f6bea8" stroke="#f6bea8"/><path d="M226.9 219.3l2.8 4.3 .9 10.4-2.8-4.3z" fill="#f18f76" stroke="#f18f76" fill-opacity=".3"/><path d="M241.4 173.7l2.2 1.8 .5 2.9-2.2 1.6z" fill="#c02830" stroke="#c02830" fill-opacity=".3"/><path d="M180.8 266.3l2.4-3.6 1-7.2-2.5 1.2z" fill="#f5c2ae" stroke="#f5c2ae"/><path d="M225.5 234.6l2 4.1 1 9.4-2.1-5.4z" fill="#f7a88e" stroke="#f7a88e" fill-opacity=".3"/><path d="M197.3 298.4l2.4-2 1.7 12.1-2.4 1.5z" fill="#d1dcee" stroke="#d1dcee" fill-opacity=".3"/><path d="M242.7 169.8l2.1-.8 .3 .7-2.1 1.5z" fill="#b70d29" stroke="#b70d29"/><path d="M237.7 189.5l.8-1 .7 10.5-.8-.2z" fill="#d65246" stroke="#d65246" fill-opacity=".3"/><path d="M179.9 277.5l-3.1-8.3 1.2-8.5 3.1 10.2z" fill="#f1ccbb" stroke="#f1ccbb" fill-opacity=".5"/><path d="M234.1 188.2l.8-.6 .7-6.7-.8-.1z" fill="#cb3e3a" stroke="#cb3e3a"/><path d="M202.5 243l2.3 .1 .9-9-2.3 .8z" fill="#f7aa91" stroke="#f7aa91"/><path d="M240.1 174.1l2.2-2.7 .4-1.6-2.2 4.2z" fill="#ba162b" stroke="#ba162b"/><path d="M232.4 203l.7 .2 .7 8.1-.6 2.3z" fill="#e36b58" stroke="#e36b58" fill-opacity=".3"/><path d="M216.5 217.9l2 4.8 .8-9.3-2-1.5z" fill="#ed836b" stroke="#ed836b"/><path d="M237.9 182.2l2-0 .6 5.8-2 .5z" fill="#ca3b39" stroke="#ca3b39" fill-opacity=".3"/><path d="M235.6 180.9l2-.7 .6-1.8-2.1-1.6z" fill="#c12b31" stroke="#c12b31"/><path d="M213.3 277.8l2.4 3.6 1.4 11.1-2.4-4.3z" fill="#e5d8d2" stroke="#e5d8d2" fill-opacity=".3"/><path d="M219.7 208.7l2.8 3.1 .7-9.4-2.8-1.8z" fill="#e36b58" stroke="#e36b58"/><path d="M238.2 178.4l1.9-4.3 .4-.2-1.9 1.8z" fill="#bd1f2e" stroke="#bd1f2e"/><path d="M240.5 174l2.2-4.2 .3 1.4-2.2 2.1z" fill="#b8122a" stroke="#b8122a"/><path d="M239.5 178.8l1.9-5.1 .5 6.3-1.9 2.1z" fill="#c02830" stroke="#c02830" fill-opacity=".3"/><path d="M201.5 250l1-7 .9-8.1-1 8z" fill="#f7af96" stroke="#f7af96"/><path d="M207 346.8l1.6 9.1 1.5 4.5-3.1-14.1z" fill="#81a0ff" stroke="#81a0ff" fill-opacity=".3"/><path d="M207.5 234.9l2.2-.5 .8-8.8-2.2 .8z" fill="#f59d83" stroke="#f59d83"/><path d="M241 170.2l2.2 1.9 .4 3.4-2.2-1.8z" fill="#b8122a" stroke="#b8122a" fill-opacity=".3"/><path d="M207 346.4l-1.3 0 2.9 9.5-1.6-9.1z" fill="#87a7ff" stroke="#87a7ff" fill-opacity=".3"/><path d="M240.8 173.3l2.2-2.2 .2 1-2.2-1.9z" fill="#b70d29" stroke="#b70d29" fill-opacity=".3"/><path d="M228.8 214.3l1.8-2.4 .8 7.8-1.8 3.9z" fill="#ea7b65" stroke="#ea7b65" fill-opacity=".3"/><path d="M226.6 227.2l.3-7.9 .9 10.4-.3 8.9z" fill="#f29279" stroke="#f29279" fill-opacity=".3"/><path d="M218.3 254.1l2.1-2.6 1.1 10-2.1 1.7z" fill="#f6bea8" stroke="#f6bea8" fill-opacity=".3"/><path d="M221.2 243.3l2.9-2.8 .9 7.9-2.8 5.4z" fill="#f7af96" stroke="#f7af96" fill-opacity=".3"/><path d="M177.9 260.8l2.9 5.5 .9-9.6-2.8-2.3z" fill="#f6bea8" stroke="#f6bea8"/><path d="M238.6 175.7l1.9-1.7 .3-.7-1.9 .7z" fill="#ba162b" stroke="#ba162b"/><path d="M225 200.4l2.5 1 .7-5.8-2.5-2.2z" fill="#d85649" stroke="#d85649"/><path d="M235.9 193.9l1.8-4.4 .7 9.3-1.8 3.2z" fill="#d65246" stroke="#d65246" fill-opacity=".3"/><path d="M194.5 294l2.8 4.4 1.7 11.7-2.8-4z" fill="#d7dde7" stroke="#d7dde7" fill-opacity=".3"/><path d="M232.3 192.5l1.8-4.2 .7-7.4-1.8 4.7z" fill="#cc403c" stroke="#cc403c"/><path d="M224.1 240.6l1.4-6 .9 8.1-1.4 5.8z" fill="#f7a68d" stroke="#f7a68d" fill-opacity=".3"/><path d="M215.3 262.5l2.3 .3 1.2 11.8-2.3-1.5z" fill="#f2c9b7" stroke="#f2c9b7" fill-opacity=".3"/><path d="M207 346.2l-3.5-9.2 2.2 9.3 1.3 0z" fill="#91b2ff" stroke="#91b2ff" fill-opacity=".3"/><path d="M237.5 179l2-.2 .5 3.3-2 .1z" fill="#c12b31" stroke="#c12b31" fill-opacity=".3"/><path d="M208.9 288.7l2.9-7.1 1.4 10.7-2.9 7.3z" fill="#e0dbd8" stroke="#e0dbd8" fill-opacity=".3"/><path d="M199.3 315.1l-3.1-9.1 2 10.9 3.2 10.7z" fill="#c3d7fd" stroke="#c3d7fd" fill-opacity=".3"/><path d="M228.8 193.1l3.5-.7 .6-6.8-3.5-.9z" fill="#cf453e" stroke="#cf453e"/><path d="M203.8 280.3l5 8.4 1.5 10.9-5.1-8.6z" fill="#e1dad7" stroke="#e1dad7" fill-opacity=".3"/><path d="M236.2 176.8l2 1.7 .4-2.8-2 .8z" fill="#bb1b2c" stroke="#bb1b2c"/><path d="M232.4 192.7l3.5 1.2 .7 8.1-3.5 1.2z" fill="#d75448" stroke="#d75448" fill-opacity=".3"/><path d="M198.2 285.5l1.6-2.9 1.5 12.2-1.6 1.5z" fill="#e4d9d3" stroke="#e4d9d3" fill-opacity=".3"/><path d="M181.4 297.5l1-1.1 1.3-7.5-.9 1.7z" fill="#dfdbd9" stroke="#dfdbd9" fill-opacity=".7"/><path d="M239.1 174.2l1.9-4 .3 3.5-1.8 5.1z" fill="#b8122a" stroke="#b8122a" fill-opacity=".3"/><path d="M215.1 224.9l1.4-7 .8-6-1.5 3z" fill="#ed836b" stroke="#ed836b"/><path d="M212.3 227.5l2.9-2.6 .7-10-2.9 3.2z" fill="#f08b72" stroke="#f08b72"/><path d="M199.9 282.6l4-2.4 1.4 10.7-3.9 3.9z" fill="#e6d7d0" stroke="#e6d7d0" fill-opacity=".3"/><path d="M219.3 213.4l.3-4.8 .8-8.1-.4 6.1z" fill="#e36c59" stroke="#e36c59"/><path d="M199.1 246.2l2.4 3.8 .9-7.1-2.4-4.7z" fill="#f7af96" stroke="#f7af96"/><path d="M238.9 174l1.9-.7 .2-3.1-1.9 4z" fill="#b50928" stroke="#b50928" fill-opacity=".3"/><path d="M214.4 271.4l1-8.9 1.2 10.6-1 8.3z" fill="#f1ccbb" stroke="#f1ccbb" fill-opacity=".3"/><path d="M229.9 203.7l2.5-.6 .7 10.6-2.5-1.7z" fill="#e16755" stroke="#e16755" fill-opacity=".3"/><path d="M237.1 184l.8-1.8 .6 6.3-.8 1z" fill="#c83838" stroke="#c83838" fill-opacity=".3"/><path d="M219.4 240.2l1.8 3.1 1 10.6-1.8-2.4z" fill="#f7af96" stroke="#f7af96" fill-opacity=".3"/><path d="M211.7 281.5l1.5-3.7 1.4 10.4-1.5 4z" fill="#e8d6cd" stroke="#e8d6cd" fill-opacity=".3"/><path d="M226.1 211.7l2.8 2.6 .8 9.3-2.8-4.3z" fill="#e97862" stroke="#e97862" fill-opacity=".3"/><path d="M205.7 234.1l1.8 .8 .8-8.5-1.8-.3z" fill="#f49a80" stroke="#f49a80"/><path d="M234.8 180.8l.8 .1 .6-4.2-.8 1.9z" fill="#c02830" stroke="#c02830"/><path d="M224.6 225l2 2.2 .9 11.4-2-4.1z" fill="#f3947a" stroke="#f3947a" fill-opacity=".3"/><path d="M216.5 252l1.8 2.2 1.1 9.1-1.8-.4z" fill="#f6bda7" stroke="#f6bda7" fill-opacity=".3"/><path d="M236.6 176.5l2-.8 .3-1.7-2 1z" fill="#b8122a" stroke="#b8122a"/><path d="M195.8 288.3l2.4-2.8 1.4 10.9-2.4 2z" fill="#e4d9d3" stroke="#e4d9d3" fill-opacity=".3"/><path d="M223.1 202.4l1.8-2 .7-7-1.8 3.3z" fill="#d85649" stroke="#d85649"/><path d="M237.1 174.1l2 .1 .4 4.6-2 .2z" fill="#ba162b" stroke="#ba162b" fill-opacity=".3"/><path d="M228.2 195.6l.7-2.5 .6-8.4-.7 2.6z" fill="#cd423d" stroke="#cd423d"/><path d="M205.3 338.1l-3.9-10.5 2.1 9.5 3.5 9.1z" fill="#a0c0ff" stroke="#a0c0ff" fill-opacity=".3"/><path d="M210.5 225.6l1.8 1.9 .7-9.4-1.7 .3z" fill="#f08b72" stroke="#f08b72"/><path d="M231.7 196.5l.7-3.8 .7 10.6-.7-.2z" fill="#d65246" stroke="#d65246" fill-opacity=".3"/><path d="M184.2 255.5l1.6-3.6 .9-8.1-1.6 4z" fill="#f7b199" stroke="#f7b199"/><path d="M236.9 175l2-1 .2 .2-2-.1z" fill="#b50928" stroke="#b50928" fill-opacity=".3"/><path d="M183.7 288.9l-3.9-11.4 1.2-6.6 3.9 11.5z" fill="#eed0c2" stroke="#eed0c2" fill-opacity=".6"/><path d="M194.7 256.7l2.9-6.8 .9-7-2.9 5.3z" fill="#f7b49c" stroke="#f7b49c"/><path d="M212 266.1l2.4 5.4 1.2 9.9-2.3-3.5z" fill="#f1ccbb" stroke="#f1ccbb" fill-opacity=".3"/><path d="M228.1 205.7l1.8-2 .8 8.3-1.9 2.3z" fill="#e16755" stroke="#e16755" fill-opacity=".3"/><path d="M189.7 249.1l5 7.6 .9-8.5-5-8z" fill="#f7b199" stroke="#f7b199"/><path d="M235.3 187.7l1.8-3.7 .6 5.5-1.8 4.4z" fill="#ca3b39" stroke="#ca3b39" fill-opacity=".3"/><path d="M185.8 252l3.9-2.9 .9-8.9-3.9 3.6z" fill="#f7ad94" stroke="#f7ad94"/><path d="M236.7 179.2l.8-.2 .5 3.2-.8 1.8z" fill="#c02830" stroke="#c02830" fill-opacity=".3"/><path d="M235.3 178.7l.8-1.9 .5-.3-.9 .6z" fill="#bb1b2c" stroke="#bb1b2c"/><path d="M197.6 249.9l1.5-3.7 .9-8-1.5 4.6z" fill="#f7ac93" stroke="#f7ac93"/><path d="M217.3 211.9l2 1.5 .7-6.8-2-1.8z" fill="#e46e5a" stroke="#e46e5a"/><path d="M233 185.6l1.8-4.7 .6-2.2-1.9 3.6z" fill="#c12b31" stroke="#c12b31"/><path d="M225.8 217.9l.3-6.2 .8 7.5-.3 8z" fill="#ea7b65" stroke="#ea7b65" fill-opacity=".3"/><path d="M220.4 200.5l2.8 1.9 .7-5.7-2.8-2z" fill="#d75448" stroke="#d75448"/><path d="M217.3 243.8l2.1-3.5 1 11.3-2.1 2.6z" fill="#f7ac93" stroke="#f7ac93" fill-opacity=".3"/><path d="M181.7 256.7l2.4-1.1 .9-7.7-2.5 .4z" fill="#f7b097" stroke="#f7b097"/><path d="M181 271l-3.1-10.2 1-6.4 3.1 8.6z" fill="#f6bda7" stroke="#f6bda7"/><path d="M179.1 295.8l2.3 1.8 1.4-6.9-2.3-1.6z" fill="#e3d9d4" stroke="#e3d9d4" fill-opacity=".7"/><path d="M231.8 185.4l3.5 2.4 .6 6.2-3.5-1.3z" fill="#cb3e3a" stroke="#cb3e3a" fill-opacity=".3"/><path d="M220.3 233l2.9-4.4 .9 12-2.9 2.7z" fill="#f59c82" stroke="#f59c82" fill-opacity=".3"/><path d="M193 284.4l2.8 3.9 1.5 10.1-2.9-4.4z" fill="#e8d6ce" stroke="#e8d6ce" fill-opacity=".3"/><path d="M203.4 234.9l2.2-.8 .9-8-2.3 .6z" fill="#f3957c" stroke="#f3957c"/><path d="M223.2 228.5l1.4-3.5 .9 9.5-1.4 6z" fill="#f3947a" stroke="#f3947a" fill-opacity=".3"/><path d="M235.8 177l.8-.5 .3-1.5-.8 4.2z" fill="#ba162b" stroke="#ba162b"/><path d="M229.5 184.7l3.5 .9 .5-3.3-3.5-1.8z" fill="#c32e33" stroke="#c32e33"/><path d="M197.6 304l-3.2-10 1.8 12 3.1 9.1z" fill="#d9dde3" stroke="#d9dde3" fill-opacity=".3"/><path d="M225.6 193.4l2.5 2.2 .6-8.3-2.4 .6z" fill="#cc403c" stroke="#cc403c"/><path d="M214.2 252.8l2.2-.8 1.2 10.8-2.3-.2z" fill="#f7b8a0" stroke="#f7b8a0" fill-opacity=".3"/><path d="M207.6 276.3l2.9-4.3 1.3 9.5-2.9 7.2z" fill="#eed0c2" stroke="#eed0c2" fill-opacity=".3"/><path d="M236.3 176.6l.8-2.5 .4 4.9-.9 .2z" fill="#b8122a" stroke="#b8122a" fill-opacity=".3"/><path d="M196.9 275.7l1.6-2.9 1.3 9.8-1.6 2.9z" fill="#f1cdbd" stroke="#f1cdbd" fill-opacity=".3"/><path d="M202.5 242.8l1-8 .8-8.1-1 6.7z" fill="#f49a80" stroke="#f49a80"/><path d="M208.3 226.4l2.2-.8 .7-7.1-2.1-.1z" fill="#ef886f" stroke="#ef886f"/><path d="M202.5 269.2l5 7.1 1.3 12.4-5-8.4z" fill="#efcec0" stroke="#efcec0" fill-opacity=".3"/><path d="M236.1 179.2l.8-4.2 .2-.9-.8 2.5z" fill="#b70d29" stroke="#b70d29" fill-opacity=".3"/><path d="M229.2 194.3l2.5 2.1 .7 6.6-2.5 .6z" fill="#d44e44" stroke="#d44e44" fill-opacity=".3"/><path d="M198.6 272.8l3.9-3.7 1.3 11.1-3.9 2.4z" fill="#f2cbba" stroke="#f2cbba" fill-opacity=".3"/><path d="M203.3 326.5l-3.9-11.4 2 12.5 3.9 10.5z" fill="#bad3ff" stroke="#bad3ff" fill-opacity=".3"/><path d="M225.3 202.1l2.8 3.6 .7 8.6-2.7-2.6z" fill="#df6352" stroke="#df6352" fill-opacity=".3"/><path d="M213.2 260l1-7.2 1.1 9.8-1 8.9z" fill="#f7bca5" stroke="#f7bca5" fill-opacity=".3"/><path d="M234.8 181.9l1.8-2.7 .5 4.8-1.8 3.7z" fill="#c02830" stroke="#c02830" fill-opacity=".3"/><path d="M210.5 272l1.5-6 1.3 11.8-1.6 3.7z" fill="#f2cab8" stroke="#f2cab8" fill-opacity=".3"/><path d="M233.5 182.3l1.8-3.6 .5-1.7-1.9 2.2z" fill="#bb1b2c" stroke="#bb1b2c"/><path d="M178.9 254.4l2.8 2.3 .8-8.5-2.7-1.3z" fill="#f7ac93" stroke="#f7ac93"/><path d="M231.1 188.7l.7-3.3 .6 7.3-.7 3.8z" fill="#c83838" stroke="#c83838" fill-opacity=".3"/><path d="M215.5 243.4l1.8 .4 1 10.3-1.8-2.2z" fill="#f7aa91" stroke="#f7aa91" fill-opacity=".3"/><path d="M215.9 214.9l1.4-3 .8-7.1-1.5 4.3z" fill="#e46e5a" stroke="#e46e5a"/><path d="M228.8 187.3l.7-2.6 .5-4.1-.6 5.3z" fill="#c12b31" stroke="#c12b31"/><path d="M218.5 229.8l1.8 3.2 .9 10.4-1.8-3.2z" fill="#f4987f" stroke="#f4987f" fill-opacity=".3"/><path d="M220 206.6l.3-6.1 .7-5.8-.3 3.7z" fill="#d85649" stroke="#d85649"/><path d="M194.5 276.6l2.4-.9 1.3 9.8-2.4 2.8z" fill="#f1cdbd" stroke="#f1cdbd" fill-opacity=".3"/><path d="M223.7 214.3l2 3.7 .8 9.3-2-2.2z" fill="#ea7b65" stroke="#ea7b65" fill-opacity=".3"/><path d="M223.8 196.7l1.8-3.3 .7-5.5-1.9 2.2z" fill="#cc403c" stroke="#cc403c"/><path d="M231.3 181.3l3.5 .5 .5 5.9-3.5-2.4z" fill="#c02830" stroke="#c02830" fill-opacity=".3"/><path d="M230 180.5l3.5 1.8 .4-3.1-3.5 .8z" fill="#bb1b2c" stroke="#bb1b2c"/><path d="M213 218.1l2.9-3.1 .7-5.8-2.9 1z" fill="#e7745f" stroke="#e7745f"/><path d="M233.9 179.2l1.9-2.2 .3 2.2-1.9-0z" fill="#b8122a" stroke="#b8122a"/><path d="M227.4 198.9l1.8-4.5 .7 9.3-1.8 2z" fill="#d55045" stroke="#d55045" fill-opacity=".3"/><path d="M234.2 179.2l1.9 0 .2-2.6-1.9 3.8z" fill="#b8122a" stroke="#b8122a" fill-opacity=".3"/><path d="M234.5 180.4l1.8-3.8 .4 2.6-1.9 2.7z" fill="#ba162b" stroke="#ba162b" fill-opacity=".3"/><path d="M200 238.2l2.4 4.7 .8-9.4-2.4-3.5z" fill="#f49a80" stroke="#f49a80"/><path d="M182.8 290.7l.9-1.7 1.2-6.5-.9 .3z" fill="#edd1c4" stroke="#edd1c4" fill-opacity=".6"/><path d="M206.5 226.1l1.8 .3 .7-8-1.7 .3z" fill="#ee846c" stroke="#ee846c"/><path d="M204 337.3l1.4 .8 1.6 8.2-3-8.8z" fill="#a8c7ff" stroke="#a8c7ff" fill-opacity=".3"/><path d="M210.9 256l2.4 4 1.1 11.4-2.4-5.4z" fill="#f7bca5" stroke="#f7bca5" fill-opacity=".3"/><path d="M225 209.4l.3-7.3 .8 9.6-.3 6.2z" fill="#e06553" stroke="#e06553" fill-opacity=".3"/><path d="M230.4 180l3.5-.8 .3-0-3.5-.7z" fill="#b8122a" stroke="#b8122a"/><path d="M229.3 185.9l.6-5.3 .5-.6-.7 3.6z" fill="#bb1b2c" stroke="#bb1b2c"/><path d="M230.9 177.4l3.5 3 .4 1.5-3.5-.5z" fill="#ba162b" stroke="#ba162b" fill-opacity=".3"/><path d="M221.1 194.7l2.8 2 .6-6.6-2.8-1.1z" fill="#cb3e3a" stroke="#cb3e3a"/><path d="M211.2 218.4l1.8-.4 .7-7.8-1.8-1.2z" fill="#e6725d" stroke="#e6725d"/><path d="M191.7 274.2l2.8 2.4 1.3 11.7-2.8-3.9z" fill="#f2cab8" stroke="#f2cab8" fill-opacity=".3"/><path d="M226.3 187.9l2.5-.6 .5-1.4-2.5-3.1z" fill="#c12b31" stroke="#c12b31"/><path d="M230.6 184.8l.7-3.5 .4 4-.6 3.4z" fill="#be242f" stroke="#be242f" fill-opacity=".3"/><path d="M185 247.9l1.6-4.1 .8-7.1-1.6 3.9z" fill="#f59f85" stroke="#f59f85"/><path d="M230.7 178.5l3.5 .7 .3 1.2-3.6-3z" fill="#b70d29" stroke="#b70d29" fill-opacity=".3"/><path d="M228.6 187.1l2.5 1.6 .6 7.8-2.5-2.2z" fill="#c73636" stroke="#c73636" fill-opacity=".3"/><path d="M196.2 293l-3.1-8.6 1.4 9.6 3.2 10z" fill="#ead4c9" stroke="#ead4c9" fill-opacity=".3"/><path d="M216.3 231.5l2.1-1.7 1 10.4-2.1 3.6z" fill="#f3957c" stroke="#f3957c" fill-opacity=".3"/><path d="M218 204.8l2 1.8 .6-8.2-1.9-.8z" fill="#d85649" stroke="#d85649"/><path d="M219.4 223.1l2.9-4 .8 9.5-2.9 4.4z" fill="#ee846c" stroke="#ee846c" fill-opacity=".3"/><path d="M224.6 195.4l2.8 3.4 .7 6.9-2.8-3.6z" fill="#d24b42" stroke="#d24b42" fill-opacity=".3"/><path d="M222.3 219l1.4-4.8 .8 10.8-1.4 3.5z" fill="#ea7b65" stroke="#ea7b65" fill-opacity=".3"/><path d="M213.2 241.7l2.3 1.7 1 8.5-2.3 .9z" fill="#f6a58b" stroke="#f6a58b" fill-opacity=".3"/><path d="M184.9 282.4l-3.9-11.5 1-8 3.9 10z" fill="#f5c2ae" stroke="#f5c2ae"/><path d="M229.7 183.6l.7-3.6 .3-1.5-.7 4.5z" fill="#b8122a" stroke="#b8122a"/><path d="M186.6 243.8l3.9-3.7 .8-6.8-3.9 3.4z" fill="#f49a80" stroke="#f49a80"/><path d="M195.6 248.2l2.9-5.3 .8-9.2-2.9 5.1z" fill="#f5a086" stroke="#f5a086"/><path d="M195.8 264.9l1.6-3.5 1.2 11.5-1.6 2.8z" fill="#f6bea8" stroke="#f6bea8" fill-opacity=".3"/><path d="M190.6 240.2l5.1 8 .7-9.4-5-5.4z" fill="#f59d83" stroke="#f59d83"/><path d="M206.4 265.3l2.9-4.5 1.2 11.2-3 4.3z" fill="#f5c0ab" stroke="#f5c0ab" fill-opacity=".3"/><path d="M201.6 314.8l-3.9-10.8 1.7 11.1 3.9 11.4z" fill="#d3dcec" stroke="#d3dcec" fill-opacity=".3"/><path d="M230.3 183.8l.6-6.4 .4 3.9-.7 3.6z" fill="#b8122a" stroke="#b8122a" fill-opacity=".3"/><path d="M204.3 226.7l2.3-.7 .7-7.4-2.2 2.7z" fill="#ed836b" stroke="#ed836b"/><path d="M182.6 248.2l2.5-.4 .7-7.2-2.4 .5z" fill="#f59d83" stroke="#f59d83"/><path d="M198.5 242.8l1.5-4.6 .8-8.2-1.5 3.6z" fill="#f4987f" stroke="#f4987f"/><path d="M202.4 328.4l.9-1.9 2 11.6-1.3-.8z" fill="#b9d2ff" stroke="#b9d2ff" fill-opacity=".3"/><path d="M230.1 183.1l.7-4.5 .2-1.2-.7 6.4z" fill="#b70d29" stroke="#b70d29" fill-opacity=".3"/><path d="M197.4 261.4l3.9-4.2 1.2 12-3.9 3.6z" fill="#f7b9a2" stroke="#f7b9a2" fill-opacity=".3"/><path d="M182 263l-3.1-8.6 .9-7.5 3 7.8z" fill="#f7aa91" stroke="#f7aa91"/><path d="M201.3 257.3l5.1 8 1.1 11.1-5-7.2z" fill="#f6bda6" stroke="#f6bda6" fill-opacity=".3"/><path d="M226.8 192.1l1.8-5 .6 7.3-1.8 4.5z" fill="#c83838" stroke="#c83838" fill-opacity=".3"/><path d="M209.4 260.8l1.5-4.8 1.1 10-1.5 6z" fill="#f7b9a2" stroke="#f7b9a2" fill-opacity=".3"/><path d="M223 208.4l2 1 .7 8.6-2-3.7z" fill="#e16755" stroke="#e16755" fill-opacity=".3"/><path d="M212.2 249.6l1-7.9 1 11.1-1 7.2z" fill="#f7a88e" stroke="#f7a88e" fill-opacity=".3"/><path d="M224.5 190l1.8-2.2 .5-5.1-1.8 3.8z" fill="#c12b31" stroke="#c12b31"/><path d="M217.6 220.3l1.8 2.8 .9 9.9-1.9-3.2z" fill="#ed836b" stroke="#ed836b" fill-opacity=".3"/><path d="M214.6 233l1.7-1.5 1 12.3-1.8-.4z" fill="#f3957c" stroke="#f3957c" fill-opacity=".3"/><path d="M193.3 266.6l2.4-1.7 1.2 10.8-2.4 .9z" fill="#f6bda7" stroke="#f6bda7" fill-opacity=".3"/><path d="M180.5 289.1l2.3 1.5 1.2-7.8-2.4-2.7z" fill="#f0cdbe" stroke="#f0cdbe" fill-opacity=".6"/><path d="M226.8 182.8l2.5 3.1 .4-2.3-2.5-3.6z" fill="#ba162b" stroke="#ba162b"/><path d="M228.1 184.9l2.5-0 .5 3.8-2.5-1.6z" fill="#be242f" stroke="#be242f" fill-opacity=".3"/><path d="M203.3 233.5l1-6.7 .8-5.4-1.1 3.6z" fill="#ee866e" stroke="#ee866e"/><path d="M209 218.4l2.2 .1 .6-9.4-2.1 1z" fill="#e5705c" stroke="#e5705c"/><path d="M216.6 209.1l1.4-4.3 .7-7.2-1.5 3z" fill="#d9584b" stroke="#d9584b"/><path d="M220.7 198.3l.4-3.7 .6-5.7-.4 .1z" fill="#cb3e3a" stroke="#cb3e3a"/><path d="M224.3 201.1l.3-5.6 .7 6.6-.3 7.3z" fill="#d44e44" stroke="#d44e44" fill-opacity=".3"/><path d="M224 190.2l2.8 1.9 .6 6.8-2.8-3.4z" fill="#c83838" stroke="#c83838" fill-opacity=".3"/><path d="M227.8 181.8l2.5 2 .4 1.1-2.5 0z" fill="#ba162b" stroke="#ba162b" fill-opacity=".3"/><path d="M221.7 188.9l2.8 1.1 .5-3.5-2.8-.7z" fill="#c12b31" stroke="#c12b31"/><path d="M179.8 246.9l2.8 1.4 .7-7.2-2.8-2.2z" fill="#f3977d" stroke="#f3977d"/><path d="M227.2 180l2.5 3.6 .4-.5-2.6-2.4z" fill="#b70d29" stroke="#b70d29"/><path d="M209.9 246.8l2.4 2.7 1 10.4-2.4-3.9z" fill="#f7a990" stroke="#f7a990" fill-opacity=".3"/><path d="M227.5 180.7l2.5 2.4 .3 .7-2.6-2z" fill="#b70d29" stroke="#b70d29" fill-opacity=".3"/><path d="M213.7 210.2l2.9-1.1 .7-8.5-3 .2z" fill="#dc5d4d" stroke="#dc5d4d"/><path d="M226.3 187.3l1.8-2.4 .5 2.2-1.8 5z" fill="#c02830" stroke="#c02830" fill-opacity=".3"/><path d="M194.9 282.7l-3.1-8.5 1.3 10.2 3.1 8.6z" fill="#f3c8b5" stroke="#f3c8b5" fill-opacity=".3"/><path d="M225 186.5l1.8-3.7 .4-2.8-1.8 4.4z" fill="#ba162b" stroke="#ba162b"/><path d="M221.6 210.3l1.5-1.9 .7 5.9-1.4 4.7z" fill="#e06553" stroke="#e06553" fill-opacity=".3"/><path d="M190.5 263l2.8 3.5 1.2 10.1-2.8-2.4z" fill="#f7b8a0" stroke="#f7b8a0" fill-opacity=".3"/><path d="M200.9 230l2.4 3.5 .7-8.6-2.3-2z" fill="#ee846c" stroke="#ee846c"/><path d="M207.3 218.6l1.8-.3 .6-8.3-1.7 .7z" fill="#e46e5a" stroke="#e46e5a"/><path d="M218.6 212.2l2.9-1.9 .8 8.7-2.9 4z" fill="#e36c59" stroke="#e36c59" fill-opacity=".3"/><path d="M226 185.2l1.8-3.4 .4 3.1-1.9 2.4z" fill="#ba162b" stroke="#ba162b" fill-opacity=".3"/><path d="M212.3 231.3l2.3 1.6 .9 10.5-2.3-1.7z" fill="#f29077" stroke="#f29077" fill-opacity=".3"/><path d="M200.1 327.1l2.3 1.2 1.6 9-3-5.1z" fill="#c3d7fd" stroke="#c3d7fd" fill-opacity=".3"/><path d="M223.5 186.9l2.8 .4 .4 4.8-2.7-1.9z" fill="#c02830" stroke="#c02830" fill-opacity=".3"/><path d="M215.5 221.2l2.2-.9 .8 9.5-2.1 1.7z" fill="#eb7d66" stroke="#eb7d66" fill-opacity=".3"/><path d="M200.7 317.3l.9-2.4 1.7 11.6-.9 1.9z" fill="#d1dcee" stroke="#d1dcee" fill-opacity=".3"/><path d="M184 282.8l1-.3 .9-9.5-.9 1.2z" fill="#f5c2ae" stroke="#f5c2ae"/><path d="M222.3 197.4l2 3.7 .7 8.3-2-1.1z" fill="#d55045" stroke="#d55045" fill-opacity=".3"/><path d="M200.1 303.5l-3.9-10.5 1.4 11.1 4 10.8z" fill="#e6d7d0" stroke="#e6d7d0" fill-opacity=".3"/><path d="M225.4 184.4l1.8-4.4 .3 .7-1.8 3.3z" fill="#b70d29" stroke="#b70d29"/><path d="M211.9 209.1l1.8 1.1 .6-9.4-1.7 2.1z" fill="#da5a4c" stroke="#da5a4c"/><path d="M222.2 185.8l2.8 .7 .4-2.1-2.8-1.2z" fill="#ba162b" stroke="#ba162b"/><path d="M225.7 184.1l1.8-3.4 .3 1.1-1.9 3.4z" fill="#b70d29" stroke="#b70d29" fill-opacity=".3"/><path d="M218.7 197.6l2 .7 .6-9.3-1.9 3.7z" fill="#cb3e3a" stroke="#cb3e3a"/><path d="M185.8 240.6l1.6-3.9 .7-7.8-1.6 2.8z" fill="#f08a71" stroke="#f08a71"/><path d="M205.4 255.6l2.9-6.6 1.1 11.9-3 4.4z" fill="#f7af96" stroke="#f7af96" fill-opacity=".3"/><path d="M194.7 252.9l1.7-2.1 1 10.6-1.6 3.5z" fill="#f7a990" stroke="#f7a990" fill-opacity=".3"/><path d="M223.6 192.8l.4-2.6 .6 5.3-.3 5.6z" fill="#c83838" stroke="#c83838" fill-opacity=".3"/><path d="M200.3 248.8l5 6.7 1.1 9.8-5.1-8.1z" fill="#f7ac93" stroke="#f7ac93" fill-opacity=".3"/><path d="M196.3 250.8l4-2 1 8.4-3.9 4.2z" fill="#f7a68d" stroke="#f7a68d" fill-opacity=".3"/><path d="M208.3 248.9l1.6-2.1 1 9.2-1.5 4.8z" fill="#f7a68d" stroke="#f7a68d" fill-opacity=".3"/><path d="M187.4 236.7l3.9-3.4 .7-8.1-3.9 3.7z" fill="#ee846c" stroke="#ee846c"/><path d="M221.3 189.1l.4-.2 .5-3.1-.3 1.8z" fill="#c02830" stroke="#c02830"/><path d="M223.2 184.2l2.8 1 .3 2.1-2.7-.4z" fill="#ba162b" stroke="#ba162b" fill-opacity=".3"/><path d="M211.2 237.3l1-6 1 10.4-1 7.8z" fill="#f29279" stroke="#f29279" fill-opacity=".3"/><path d="M222.6 183.3l2.8 1.2 .3-.4-2.8-.7z" fill="#b70d29" stroke="#b70d29"/><path d="M192.3 257.2l2.4-4.3 1.1 11.9-2.5 1.7z" fill="#f7a990" stroke="#f7a990" fill-opacity=".3"/><path d="M216.8 209.9l1.8 2.3 .8 10.9-1.8-2.8z" fill="#e26956" stroke="#e26956" fill-opacity=".3"/><path d="M222.9 183.3l2.8 .7 .2 1.1-2.8-1z" fill="#b70d29" stroke="#b70d29" fill-opacity=".3"/><path d="M205.1 221.3l2.2-2.7 .7-8-2.3-1.7z" fill="#e36b58" stroke="#e36b58"/><path d="M199.3 233.7l1.5-3.7 .8-7-1.5 3.7z" fill="#ed836b" stroke="#ed836b"/><path d="M183.3 241.1l2.5-.5 .6-8.9-2.4 1.2z" fill="#ef886f" stroke="#ef886f"/><path d="M191.4 233.3l5 5.4 .7-10.2-5-3.3z" fill="#ef886f" stroke="#ef886f"/><path d="M185.9 273l-3.9-10 .9-8.3 3.9 10.3z" fill="#f7b097" stroke="#f7b097"/><path d="M196.4 238.7l2.9-5 .8-7-3 1.8z" fill="#f08a71" stroke="#f08a71"/><path d="M213.7 221.3l1.8-.2 .8 10.4-1.7 1.4z" fill="#eb7d66" stroke="#eb7d66" fill-opacity=".3"/><path d="M182.9 254.7l-3.1-7.8 .8-8 3 7.5z" fill="#f3957c" stroke="#f3957c"/><path d="M217.3 200.6l1.4-3 .7-4.9-1.5 .2z" fill="#cc403c" stroke="#cc403c"/><path d="M209.7 210l2.2-1 .6-6.2-2.2 .1z" fill="#d9584b" stroke="#d9584b"/><path d="M220.9 202.1l1.4-4.6 .8 10.9-1.5 1.9z" fill="#d55045" stroke="#d55045" fill-opacity=".3"/><path d="M208.9 236l2.3 1.3 1 12.2-2.3-2.7z" fill="#f3947a" stroke="#f3947a" fill-opacity=".3"/><path d="M223.1 186.5l.4 .3 .5 3.3-.4 2.7z" fill="#be242f" stroke="#be242f" fill-opacity=".3"/><path d="M221.8 187.6l.4-1.8 .4-2.5-.4 2.5z" fill="#ba162b" stroke="#ba162b"/><path d="M198.4 315.5l2.3 1.8 1.7 11.1-2.3-1.3z" fill="#d6dde8" stroke="#d6dde8" fill-opacity=".3"/><path d="M204 224.9l1.1-3.6 .6-12.4-1 7.6z" fill="#e36c59" stroke="#e36c59"/><path d="M189.4 253.4l2.8 3.9 1.1 9.3-2.8-3.5z" fill="#f6a58b" stroke="#f6a58b" fill-opacity=".3"/><path d="M181.6 280.1l2.4 2.6 1-8.6-2.4-.9z" fill="#f6bea8" stroke="#f6bea8"/><path d="M193.6 271l-3.1-7.9 1.2 11.2 3.1 8.5z" fill="#f7b59d" stroke="#f7b59d" fill-opacity=".3"/><path d="M180.5 238.9l2.8 2.2 .7-8.2-2.8 0z" fill="#ed836b" stroke="#ed836b"/><path d="M214.3 200.8l3-.2 .6-7.7-3 2.7z" fill="#cd423d" stroke="#cd423d"/><path d="M217.9 202.4l3-.4 .7 8.3-3 1.9z" fill="#d75448" stroke="#d75448" fill-opacity=".3"/><path d="M221.6 190.6l2 2.2 .7 8.3-2.1-3.7z" fill="#c73636" stroke="#c73636" fill-opacity=".3"/><path d="M211.5 225.4l2.2-4 .9 11.6-2.3-1.6z" fill="#e97a63" stroke="#e97a63" fill-opacity=".3"/><path d="M222.2 185.8l.4-2.5 .3 .1-.4 3.2z" fill="#b8122a" stroke="#b8122a"/><path d="M219.4 192.7l1.9-3.6 .6-1.5-2-.2z" fill="#c02830" stroke="#c02830"/><path d="M222.8 186.8l.4-2.7 .3 2.7-.4-.3z" fill="#ba162b" stroke="#ba162b" fill-opacity=".3"/><path d="M222.6 186.6l.4-3.3 .2 .9-.4 2.6z" fill="#b8122a" stroke="#b8122a" fill-opacity=".3"/><path d="M199.2 306.1l.9-2.7 1.5 11.4-.9 2.4z" fill="#e4d9d3" stroke="#e4d9d3" fill-opacity=".3"/><path d="M214.7 212.3l2.1-2.4 .9 10.4-2.2 .9z" fill="#e06553" stroke="#e06553" fill-opacity=".3"/><path d="M198.8 293.3l-3.9-10.5 1.3 10.2 3.9 10.5z" fill="#f1ccbb" stroke="#f1ccbb" fill-opacity=".3"/><path d="M208 210.7l1.8-.7 .6-7.1-1.8 1.1z" fill="#d9584b" stroke="#d9584b"/><path d="M195.4 241.9l4-2.2 1 9.2-4 2z" fill="#f3947a" stroke="#f3947a" fill-opacity=".3"/><path d="M193.7 243.8l1.7-2 .9 9-1.6 2.1z" fill="#f3947a" stroke="#f3947a" fill-opacity=".3"/><path d="M199.4 239.7l5 3.8 1 12.1-5.1-6.8z" fill="#f3977d" stroke="#f3977d" fill-opacity=".3"/><path d="M212.6 202.8l1.7-2 .7-5.2-1.8-.3z" fill="#cd423d" stroke="#cd423d"/><path d="M201.6 222.9l2.4 2 .6-8.4-2.4-2.9z" fill="#e36c59" stroke="#e36c59"/><path d="M210.4 229.6l1.1-4.3 .8 6-1.1 6z" fill="#eb7d66" stroke="#eb7d66" fill-opacity=".3"/><path d="M204.4 243.5l2.9-5.6 1 11.1-2.9 6.6z" fill="#f4987f" stroke="#f4987f" fill-opacity=".3"/><path d="M207.3 237.9l1.6-1.9 .9 10.9-1.5 2z" fill="#f29077" stroke="#f29077" fill-opacity=".3"/><path d="M191.3 246.8l2.4-2.9 1 9-2.4 4.3z" fill="#f3947a" stroke="#f3947a" fill-opacity=".3"/><path d="M216.1 201.5l1.8 .9 .7 9.9-1.8-2.4z" fill="#d55045" stroke="#d55045" fill-opacity=".3"/><path d="M219.8 187.4l2 .2 .4-1.8-2 .5z" fill="#ba162b" stroke="#ba162b"/><path d="M186.5 231.7l1.7-2.8 .5-10.1-1.5 6.7z" fill="#e6725d" stroke="#e6725d"/><path d="M220.2 194.9l1.4-4.3 .7 6.9-1.4 4.6z" fill="#c73636" stroke="#c73636" fill-opacity=".3"/><path d="M212.9 211.9l1.8 .4 .8 8.8-1.8 .2z" fill="#e06553" stroke="#e06553" fill-opacity=".3"/><path d="M217.9 192.9l1.5-.2 .5-5.3-1.5-.2z" fill="#c02830" stroke="#c02830"/><path d="M221.2 188l2-1.4 .5 6.2-2-2.2z" fill="#bd1f2e" stroke="#bd1f2e" fill-opacity=".3"/><path d="M184.9 274.1l1-1.2 .8-8-.9 .9z" fill="#f7b097" stroke="#f7b097"/><path d="M188.1 228.9l3.9-3.7 .7-6.9-4 .5z" fill="#e46e5a" stroke="#e46e5a"/><path d="M220.3 186.3l2-.5 .3 .8-2-.4z" fill="#b8122a" stroke="#b8122a"/><path d="M205.6 208.9l2.3 1.8 .7-6.7-2.3 1.9z" fill="#d65247" stroke="#d65247"/><path d="M220.6 186.2l2 .4 .2 .3-2-.8z" fill="#b8122a" stroke="#b8122a" fill-opacity=".3"/><path d="M217.2 195.6l3-.7 .6 7.2-2.9 .4z" fill="#cb3e3a" stroke="#cb3e3a" fill-opacity=".3"/><path d="M196.9 304.2l2.3 1.9 1.5 11.1-2.3-1.7z" fill="#e7d7cf" stroke="#e7d7cf" fill-opacity=".3"/><path d="M220.8 186.1l2 .8 .3-.3-1.9 1.4z" fill="#b8122a" stroke="#b8122a" fill-opacity=".3"/><path d="M188.5 244.6l2.8 2.2 1 10.5-2.8-3.9z" fill="#f29077" stroke="#f29077" fill-opacity=".3"/><path d="M200.1 226.7l1.5-3.7 .7-9.3-1.6 3.4z" fill="#e36b58" stroke="#e36b58"/><path d="M192.1 225.2l5 3.3 .6-7.4-4.9-2.8z" fill="#e5705c" stroke="#e5705c"/><path d="M184 232.9l2.5-1.2 .6-6.2-2.6-2.4z" fill="#e5705c" stroke="#e5705c"/><path d="M210.4 202.9l2.2-.1 .6-7.5-2.2-1.2z" fill="#cc403c" stroke="#cc403c"/><path d="M208 225l2.4 4.6 .8 7.7-2.3-1.3z" fill="#ea7b65" stroke="#ea7b65" fill-opacity=".3"/><path d="M183.6 246.3l-3.1-7.5 .7-5.9 3.1 6.1z" fill="#ec8169" stroke="#ec8169"/><path d="M197.1 228.5l3-1.8 .6-9.7-2.9 4.1z" fill="#e6725d" stroke="#e6725d"/><path d="M214.9 195.6l2.9-2.6 .5-5.8-2.9 3.4z" fill="#c32e33" stroke="#c32e33"/><path d="M186.8 264.9l-3.9-10.2 .8-8.4 3.9 11.2z" fill="#f59c82" stroke="#f59c82"/><path d="M210.7 215.4l2.2-3.5 .8 9.4-2.2 4z" fill="#df6352" stroke="#df6352" fill-opacity=".3"/><path d="M192.6 261.1l-3.1-7.8 1 9.7 3.2 7.9z" fill="#f6a288" stroke="#f6a288" fill-opacity=".3"/><path d="M213.9 203.5l2.2-2.1 .7 8.5-2.2 2.3z" fill="#d44e44" stroke="#d44e44" fill-opacity=".3"/><path d="M204.6 216.6l1-7.7 .7-3-1.1 1.9z" fill="#d75448" stroke="#d75448"/><path d="M197.9 294.7l.9-1.5 1.3 10.2-.9 2.7z" fill="#f1cdbd" stroke="#f1cdbd" fill-opacity=".3"/><path d="M219.7 189.3l1.5-1.3 .4 2.6-1.4 4.3z" fill="#be242f" stroke="#be242f" fill-opacity=".3"/><path d="M218.3 187.2l1.5 .2 .4-1.1-1.5 1.1z" fill="#ba162b" stroke="#ba162b"/><path d="M209.6 219.8l1.1-4.3 .8 9.9-1.1 4.3z" fill="#e26956" stroke="#e26956" fill-opacity=".3"/><path d="M197.6 282.2l-4-11.2 1.2 11.7 4 10.6z" fill="#f7baa3" stroke="#f7baa3" fill-opacity=".3"/><path d="M213.1 195.3l1.8 .3 .5-5-1.8 0z" fill="#c32e33" stroke="#c32e33"/><path d="M194.4 229.6l4.1 1 .9 9.1-4 2.2z" fill="#eb7d66" stroke="#eb7d66" fill-opacity=".3"/><path d="M181.3 232.9l2.7-.1 .6-9.7-2.7 1.8z" fill="#e36b58" stroke="#e36b58"/><path d="M218.8 187.4l1.5-1.1 .3-.1-1.5 2.8z" fill="#b8122a" stroke="#b8122a"/><path d="M215.4 194.9l1.8 .7 .7 6.8-1.8-.9z" fill="#c83838" stroke="#c83838" fill-opacity=".3"/><path d="M198.5 230.6l5 2.9 .9 10-5-3.8z" fill="#ec8169" stroke="#ec8169" fill-opacity=".3"/><path d="M182.6 273.2l2.3 .9 .9-8.3-2.3 0z" fill="#f7ac93" stroke="#f7ac93"/><path d="M192.7 232.6l1.7-3 .9 12.3-1.6 2z" fill="#ea7b65" stroke="#ea7b65" fill-opacity=".3"/><path d="M208.6 204l1.8-1.1 .5-8.8-1.7 3.2z" fill="#cc403c" stroke="#cc403c"/><path d="M219.1 189l1.5-2.8 .2-.1-1.5 .5z" fill="#b8122a" stroke="#b8122a" fill-opacity=".3"/><path d="M219.3 186.6l1.5-.6 .3 1.9-1.4 1.3z" fill="#b8122a" stroke="#b8122a" fill-opacity=".3"/><path d="M216.7 190.3l3-1.1 .5 5.6-3 .7z" fill="#c02830" stroke="#c02830" fill-opacity=".3"/><path d="M212.2 205.4l1.7-1.9 .8 8.7-1.8-.3z" fill="#d44e44" stroke="#d44e44" fill-opacity=".3"/><path d="M203.5 233.5l3-4 .8 8.4-2.9 5.6z" fill="#ec8169" stroke="#ec8169" fill-opacity=".3"/><path d="M206.5 229.5l1.5-4.5 .9 11-1.6 1.9z" fill="#e97a63" stroke="#e97a63" fill-opacity=".3"/><path d="M215.4 190.6l2.9-3.4 .5 .2-3 .1z" fill="#ba162b" stroke="#ba162b"/><path d="M190.3 236l2.4-3.5 1 11.3-2.4 3z" fill="#ea7b65" stroke="#ea7b65" fill-opacity=".3"/><path d="M202.2 213.7l2.4 2.9 .6-8.9-2.3 .2z" fill="#d75448" stroke="#d75448"/><path d="M215.8 187.5l3-.1 .3 1.6-3-1.1z" fill="#ba162b" stroke="#ba162b"/><path d="M215 194.2l1.7-3.9 .5 5.2-1.8-.6z" fill="#c02830" stroke="#c02830" fill-opacity=".3"/><path d="M206.4 205.9l2.2-1.9 .6-6.7-2.2 1.1z" fill="#cb3e3a" stroke="#cb3e3a"/><path d="M207.2 218.7l2.4 1.1 .8 9.8-2.4-4.6z" fill="#e16755" stroke="#e16755" fill-opacity=".3"/><path d="M216.1 188l3 1 .2-2.3-3 .6z" fill="#b8122a" stroke="#b8122a" fill-opacity=".3"/><path d="M187.6 236.4l2.7-.3 1 10.7-2.8-2.2z" fill="#e97a63" stroke="#e97a63" fill-opacity=".3"/><path d="M216.4 187.3l3-.6 .3 2.6-2.9 1.1z" fill="#b8122a" stroke="#b8122a" fill-opacity=".3"/><path d="M210.9 194.1l2.2 1.2 .5-4.7-2.2 1z" fill="#c12b31" stroke="#c12b31"/><path d="M209.9 207.4l2.3-2 .6 6.5-2.2 3.5z" fill="#d44e44" stroke="#d44e44" fill-opacity=".3"/><path d="M213.6 190.6l1.8-0 .4-3.1-1.8 1.5z" fill="#ba162b" stroke="#ba162b"/><path d="M187.1 225.5l1.6-6.7 .5-7.5-1.6 5.3z" fill="#d9584b" stroke="#d9584b"/><path d="M213.2 195l2.2-.1 .7 6.5-2.2 2.1z" fill="#c73636" stroke="#c73636" fill-opacity=".3"/><path d="M191.6 253.2l-3.2-8.6 1 8.8 3.1 7.8z" fill="#f18d74" stroke="#f18d74" fill-opacity=".3"/><path d="M195.5 292.9l2.3 1.9 1.4 11.4-2.4-1.9z" fill="#f2c9b7" stroke="#f2c9b7" fill-opacity=".3"/><path d="M188.7 218.8l4-.5 .6-6.9-4-.1z" fill="#d85649" stroke="#d85649"/><path d="M185.8 265.9l1-1 .8-7.4-1 1.2z" fill="#f59d83" stroke="#f59d83"/><path d="M214.6 191l1.7-3.7 .4 3.1-1.7 3.9z" fill="#bb1b2c" stroke="#bb1b2c" fill-opacity=".3"/><path d="M200.7 217l1.6-3.4 .6-5.7-1.5 3.5z" fill="#d75448" stroke="#d75448"/><path d="M184.3 239l-3.1-6.1 .6-8 3.1 6.9z" fill="#e36b58" stroke="#e36b58"/><path d="M184.5 223.1l2.6 2.4 .5-8.9-2.5 0z" fill="#d85649" stroke="#d85649"/><path d="M192.7 218.3l5 2.8 .5-10.4-4.9 .7z" fill="#d9584b" stroke="#d9584b"/><path d="M208.8 209.9l1.1-2.5 .7 8-1 4.4z" fill="#d55045" stroke="#d55045" fill-opacity=".3"/><path d="M196.7 285.5l.9-3.3 1.2 11.1-1 1.5z" fill="#f6bda7" stroke="#f6bda7" fill-opacity=".3"/><path d="M214 189.1l1.8-1.6 .3 .5-1.8-.5z" fill="#b70d29" stroke="#b70d29"/><path d="M214.3 187.4l1.8 .5 .2-.7-1.7 3.7z" fill="#b70d29" stroke="#b70d29" fill-opacity=".3"/><path d="M211.5 199.9l1.7-4.9 .7 8.5-1.8 1.9z" fill="#ca3b39" stroke="#ca3b39" fill-opacity=".3"/><path d="M193.6 222.6l4-1.4 .9 9.4-4.1-1z" fill="#e16755" stroke="#e16755" fill-opacity=".3"/><path d="M205.2 207.7l1.1-1.8 .6-7.5-1.1 2.4z" fill="#cb3e3a" stroke="#cb3e3a"/><path d="M196.6 272.3l-4-11.2 1.1 9.8 4 11.3z" fill="#f7a88e" stroke="#f7a88e" fill-opacity=".3"/><path d="M197.7 221.1l3-4.1 .6-5.6-3.1-.7z" fill="#da5a4c" stroke="#da5a4c"/><path d="M209.2 197.3l1.7-3.2 .6-2.4-1.8 .7z" fill="#c02830" stroke="#c02830"/><path d="M212.7 191.3l2.3 3 .4 .6-2.2 .2z" fill="#be242f" stroke="#be242f" fill-opacity=".3"/><path d="M187.6 257.5l-3.9-11.2 .7-7.3 3.8 8.7z" fill="#ee866e" stroke="#ee866e"/><path d="M211.4 191.7l2.2-1 .4-1.6-2.2 1z" fill="#bb1b2c" stroke="#bb1b2c"/><path d="M191.9 224.8l1.7-2.2 .8 7-1.7 2.9z" fill="#e06553" stroke="#e06553" fill-opacity=".3"/><path d="M197.7 221.2l4.9 .5 .9 11.8-5-2.9z" fill="#e36b58" stroke="#e36b58" fill-opacity=".3"/><path d="M205.6 219.8l1.6-1.1 .8 6.3-1.6 4.5z" fill="#df6352" stroke="#df6352" fill-opacity=".3"/><path d="M212.4 190.5l2.2 .5 .4 3.2-2.3-2.9z" fill="#bb1b2c" stroke="#bb1b2c" fill-opacity=".3"/><path d="M202.6 221.7l3-1.9 .9 9.7-3 4z" fill="#e36b58" stroke="#e36b58" fill-opacity=".3"/><path d="M181.8 224.9l2.7-1.8 .6-6.5-2.7 1.1z" fill="#d65246" stroke="#d65246"/><path d="M209.2 198.9l2.3 1 .7 5.5-2.3 2z" fill="#c83838" stroke="#c83838" fill-opacity=".3"/><path d="M189.5 227.7l2.4-2.9 .8 7.7-2.4 3.5z" fill="#e06553" stroke="#e06553" fill-opacity=".3"/><path d="M211.9 190l2.2-.9 .3-1.7-2.2 .7z" fill="#b70d29" stroke="#b70d29"/><path d="M186.8 229.8l2.7-2.1 .8 8.4-2.7 .3z" fill="#e06553" stroke="#e06553" fill-opacity=".3"/><path d="M183.5 265.9l2.3 0 .8-7.2-2.3-.2z" fill="#f4987f" stroke="#f4987f"/><path d="M212.1 188.1l2.2-.7 .3 3.5-2.2-.4z" fill="#b70d29" stroke="#b70d29" fill-opacity=".3"/><path d="M206.5 209l2.4 .9 .7 9.9-2.3-1.1z" fill="#d55045" stroke="#d55045" fill-opacity=".3"/><path d="M206.9 198.5l2.3-1.2 .4-4.9-2.2 1.7z" fill="#c02830" stroke="#c02830"/><path d="M211 195.7l1.7-4.4 .5 3.7-1.7 4.9z" fill="#c02830" stroke="#c02830" fill-opacity=".3"/><path d="M190.7 242.7l-3.1-6.3 .9 8.2 3.1 8.6z" fill="#e97a63" stroke="#e97a63" fill-opacity=".3"/><path d="M202.9 207.9l2.3-.2 .6-6.9-2.3-.8z" fill="#cb3e3a" stroke="#cb3e3a"/><path d="M209.7 192.4l1.8-.7 .4-1.6-1.8 1.4z" fill="#ba162b" stroke="#ba162b"/><path d="M194.4 284.1l2.3 1.4 1.2 9.3-2.4-1.9z" fill="#f7b9a2" stroke="#f7b9a2" fill-opacity=".3"/><path d="M210.7 193.1l1.7-2.6 .4 .8-1.7 4.4z" fill="#bb1b2c" stroke="#bb1b2c" fill-opacity=".3"/><path d="M208.8 197l2.3-1.3 .5 4.2-2.3-1z" fill="#c02830" stroke="#c02830" fill-opacity=".3"/><path d="M208.1 202.5l1.1-3.6 .7 8.5-1.1 2.5z" fill="#c83838" stroke="#c83838" fill-opacity=".3"/><path d="M189.3 211.3l4.1 .1 .6-5.5-4.2-1z" fill="#cc403c" stroke="#cc403c"/><path d="M192.8 212.7l4.1 .4 .8 8.2-4.1 1.4z" fill="#d55045" stroke="#d55045" fill-opacity=".3"/><path d="M210.1 191.4l1.8-1.4 .2-1.9-1.7 2.6z" fill="#b70d29" stroke="#b70d29"/><path d="M187.6 216.6l1.6-5.3 .6-6.4-1.7 3.6z" fill="#cc403c" stroke="#cc403c"/><path d="M205.8 200.8l1.1-2.3 .5-4.4-1.1 4.1z" fill="#c02830" stroke="#c02830"/><path d="M210.4 190.7l1.7-2.6 .3 2.3-1.7 2.6z" fill="#b8122a" stroke="#b8122a" fill-opacity=".3"/><path d="M195.7 275.5l.9-3.1 1.1 9.8-.9 3.3z" fill="#f7aa91" stroke="#f7aa91" fill-opacity=".3"/><path d="M191.2 217.4l1.6-4.8 .9 10-1.7 2.2z" fill="#d55045" stroke="#d55045" fill-opacity=".3"/><path d="M208.5 197.3l2.2-4.2 .4 2.6-2.3 1.4z" fill="#bd1f2e" stroke="#bd1f2e" fill-opacity=".3"/><path d="M201.3 211.5l1.6-3.6 .5-7.9-1.5 4.6z" fill="#cb3e3a" stroke="#cb3e3a"/><path d="M195.6 262l-3.9-8.8 .9 7.9 4 11.2z" fill="#f3947a" stroke="#f3947a" fill-opacity=".3"/><path d="M204.9 212.3l1.6-3.4 .7 9.7-1.6 1.2z" fill="#d44e44" stroke="#d44e44" fill-opacity=".3"/><path d="M207.4 194l2.3-1.7 .4-.9-2.3 .9z" fill="#b8122a" stroke="#b8122a"/><path d="M185.1 216.6l2.5-0 .5-8.1-2.4 3.7z" fill="#cc403c" stroke="#cc403c"/><path d="M196.9 213.1l5 .7 .7 7.9-4.9-.4z" fill="#d65246" stroke="#d65246" fill-opacity=".3"/><path d="M184.9 231.8l-3.1-6.9 .6-7.3 3.1 7.4z" fill="#d75448" stroke="#d75448"/><path d="M208.1 192.9l2.3-2.2 .2 2.3-2.2 4.2z" fill="#ba162b" stroke="#ba162b" fill-opacity=".3"/><path d="M186.6 258.7l1-1.2 .6-9.8-.9 3z" fill="#ee866e" stroke="#ee866e"/><path d="M188.7 219l2.5-1.6 .7 7.4-2.4 2.9z" fill="#d55045" stroke="#d55045" fill-opacity=".3"/><path d="M193.3 211.5l4.9-.8 .6-7.6-4.9 2.8z" fill="#cc403c" stroke="#cc403c"/><path d="M207.8 192.4l2.3-.9 .3-.7-2.3 2.2z" fill="#b70d29" stroke="#b70d29"/><path d="M201.8 213.7l3.1-1.4 .7 7.5-3 1.9z" fill="#d65247" stroke="#d65247" fill-opacity=".3"/><path d="M198.2 210.7l3.1 .8 .6-6.9-3.2-1.5z" fill="#cd423d" stroke="#cd423d"/><path d="M186 220.8l2.7-1.8 .8 8.7-2.7 2z" fill="#d55045" stroke="#d55045" fill-opacity=".3"/><path d="M205.8 203.6l2.3-1.1 .7 7.4-2.4-.9z" fill="#c83838" stroke="#c83838" fill-opacity=".3"/><path d="M182.4 217.7l2.7-1 .6-4.4-2.7-.1z" fill="#cb3e3a" stroke="#cb3e3a"/><path d="M207.6 198l1.1-1 .5 1.9-1.1 3.6z" fill="#c02830" stroke="#c02830" fill-opacity=".3"/><path d="M203.4 200l2.4 .7 .5-2.6-2.3 1z" fill="#c12b31" stroke="#c12b31"/><path d="M188.2 247.7l-3.9-8.7 .6-7.2 4 10z" fill="#e5705c" stroke="#e5705c"/><path d="M189.8 233.4l-3-3.6 .8 6.6 3.1 6.3z" fill="#e06553" stroke="#e06553" fill-opacity=".3"/><path d="M206.3 198.2l1.1-4.1 .4-1.7-1.1 2.8z" fill="#ba162b" stroke="#ba162b"/><path d="M207.2 194.7l1.2 2.6 .3-.2-1.1 1z" fill="#bb1b2c" stroke="#bb1b2c" fill-opacity=".3"/><path d="M189.8 204.9l4.1 1 .5-2.8-4.1-.5z" fill="#c32e33" stroke="#c32e33"/><path d="M193.3 273.6l2.4 1.8 1 10-2.3-1.4z" fill="#f7a88e" stroke="#f7a88e" fill-opacity=".3"/><path d="M207 194l1.1-1 .4 4.3-1.3-2.6z" fill="#b8122a" stroke="#b8122a" fill-opacity=".3"/><path d="M206.7 195.2l1.1-2.8 .3 .6-1.1 1z" fill="#b70d29" stroke="#b70d29"/><path d="M192.1 205.9l4-1.9 .8 9.1-4.1-.4z" fill="#c73636" stroke="#c73636" fill-opacity=".3"/><path d="M190.4 209.3l1.7-3.4 .7 6.7-1.7 4.8z" fill="#c83838" stroke="#c83838" fill-opacity=".3"/><path d="M184.3 258.5l2.3 .2 .7-8-2.3-.1z" fill="#ed836b" stroke="#ed836b"/><path d="M188.1 208.6l1.7-3.6 .5-2.3-1.8 .8z" fill="#c12b31" stroke="#c12b31"/><path d="M204.2 204l1.6-.4 .7 5.3-1.6 3.4z" fill="#c83838" stroke="#c83838" fill-opacity=".3"/><path d="M201.9 204.6l1.5-4.5 .6-.9-1.6 .1z" fill="#c12b31" stroke="#c12b31"/><path d="M205.3 197.9l2.4 .1 .5 4.5-2.4 1.1z" fill="#c02830" stroke="#c02830" fill-opacity=".3"/><path d="M204 199.1l2.3-.9 .4-3-2.4-.2z" fill="#bb1b2c" stroke="#bb1b2c"/><path d="M188 212.8l2.4-3.5 .8 8.1-2.5 1.6z" fill="#c83838" stroke="#c83838" fill-opacity=".3"/><path d="M194.6 252.2l-3.9-9.6 .9 10.5 3.9 8.9z" fill="#eb7d66" stroke="#eb7d66" fill-opacity=".3"/><path d="M196.1 204l5 1.3 .7 8.4-4.9-.7z" fill="#ca3b39" stroke="#ca3b39" fill-opacity=".3"/><path d="M185.7 212.2l2.4-3.7 .4-5.1-2.4 3.7z" fill="#c02830" stroke="#c02830"/><path d="M194.6 263.7l.9-1.7 1 10.3-.9 3.2z" fill="#f3957c" stroke="#f3957c" fill-opacity=".3"/><path d="M193.9 205.9l4.9-2.8 .4-4.4-4.8 4.5z" fill="#c32e33" stroke="#c32e33"/><path d="M201.1 205.4l3.1-1.3 .7 8.3-3.1 1.4z" fill="#cb3e3a" stroke="#cb3e3a" fill-opacity=".3"/><path d="M183 212.2l2.8 0 .4-5.1-2.7 1.6z" fill="#c12b31" stroke="#c12b31"/><path d="M205 198.4l2.3-3.7 .4 3.4-2.4-.1z" fill="#ba162b" stroke="#ba162b" fill-opacity=".3"/><path d="M185.2 210.9l2.8 1.9 .7 6.2-2.7 1.8z" fill="#c73636" stroke="#c73636" fill-opacity=".3"/><path d="M204.4 195l2.4 .2 .2-1.3-2.2 3.6z" fill="#b70d29" stroke="#b70d29"/><path d="M204.7 197.5l2.3-3.5 .2 .7-2.2 3.7z" fill="#b8122a" stroke="#b8122a" fill-opacity=".3"/><path d="M190.3 202.7l4.1 .5 .3-3.8-4.1-2.6z" fill="#bb1b2c" stroke="#bb1b2c"/><path d="M185.5 225l-3.1-7.3 .5-5.5 3.1 5z" fill="#cb3e3a" stroke="#cb3e3a"/><path d="M189.1 225.8l-3.1-5 .8 9 3.1 3.6z" fill="#d44e44" stroke="#d44e44" fill-opacity=".3"/><path d="M198.8 203.1l3.1 1.5 .5-5.3-3.1-.6z" fill="#c12b31" stroke="#c12b31"/><path d="M189.9 206.9l1.5-7.9 .6 6.9-1.6 3.5z" fill="#be242f" stroke="#be242f" fill-opacity=".3"/><path d="M191.5 198.9l4.2 3.5 .4 1.6-4 1.9z" fill="#bd1f2e" stroke="#bd1f2e" fill-opacity=".3"/><path d="M203.7 199.8l1.6-1.9 .5 5.7-1.6 .4z" fill="#be242f" stroke="#be242f" fill-opacity=".3"/><path d="M202.4 199.3l1.6-.2 .4-4.1-1.6 1.8z" fill="#ba162b" stroke="#ba162b"/><path d="M188.6 203.4l1.7-.7 .3-6-1.6 5.6z" fill="#b8122a" stroke="#b8122a"/><path d="M187.3 250.7l.9-3 .7-5.9-1 .9z" fill="#e5705c" stroke="#e5705c"/><path d="M187.4 207l2.5-.1 .5 2.5-2.4 3.5z" fill="#be242f" stroke="#be242f" fill-opacity=".3"/><path d="M189.3 204.3l1.7-2.2 .2-2.4-1.7 3.7z" fill="#ba162b" stroke="#ba162b" fill-opacity=".3"/><path d="M203.1 199l1.6-1.5 .3 .9-1.7 .1z" fill="#ba162b" stroke="#ba162b" fill-opacity=".3"/><path d="M189 202.4l1.6-5.6 .5 5.3-1.7 2.2z" fill="#b8122a" stroke="#b8122a"/><path d="M190.6 196.7l4.2 2.6 .2-2-3.9 4.7z" fill="#b70d29" stroke="#b70d29"/><path d="M191 202.1l4-4.7 .3 1.9-4.1 .4z" fill="#b8122a" stroke="#b8122a" fill-opacity=".3"/><path d="M195.7 202.4l4.9-1.8 .5 4.7-4.9-1.3z" fill="#c02830" stroke="#c02830" fill-opacity=".3"/><path d="M186.1 207.1l2.4-3.7 .4-1.1-2.4 3.2z" fill="#b8122a" stroke="#b8122a"/><path d="M191.2 199.7l4.1-.4 .4 3.1-4.2-3.5z" fill="#b8122a" stroke="#b8122a" fill-opacity=".3"/><path d="M188.9 241.8l-3.9-10 .5-6.8 3.9 7.8z" fill="#d9584b" stroke="#d9584b"/><path d="M203.3 198.6l1.6-.2 .3-.4-1.6 1.8z" fill="#ba162b" stroke="#ba162b" fill-opacity=".3"/><path d="M202.7 196.8l1.6-1.8 .4 2.5-1.6 1.5z" fill="#b8122a" stroke="#b8122a"/><path d="M189.5 203.3l1.7-3.6 .3-.8-1.6 7.9z" fill="#b8122a" stroke="#b8122a" fill-opacity=".3"/><path d="M183.4 208.7l2.7-1.5 .4-1.7-2.7 2.8z" fill="#ba162b" stroke="#ba162b"/><path d="M194.4 203.2l4.8-4.5 .4-3.6-4.9 4.3z" fill="#ba162b" stroke="#ba162b"/><path d="M192.3 264l2.3-.3 1 11.8-2.3-1.9z" fill="#f29279" stroke="#f29279" fill-opacity=".3"/><path d="M187.2 208.5l2.4-5.1 .4 3.5-2.5 .1z" fill="#ba162b" stroke="#ba162b" fill-opacity=".3"/><path d="M186.8 205.3l2.5-1 .2-1-2.4 5.2z" fill="#b8122a" stroke="#b8122a" fill-opacity=".3"/><path d="M200.6 200.7l3.1-.9 .5 4.3-3.1 1.3z" fill="#c02830" stroke="#c02830" fill-opacity=".3"/><path d="M186.5 205.5l2.4-3.2 .4 2-2.5 1z" fill="#b8122a" stroke="#b8122a"/><path d="M184.7 208.4l2.7-1.5 .6 5.9-2.8-1.9z" fill="#bd1f2e" stroke="#bd1f2e" fill-opacity=".3"/><path d="M184.4 208.6l2.8-.1 .2-1.5-2.7 1.5z" fill="#ba162b" stroke="#ba162b" fill-opacity=".3"/><path d="M184.1 206.9l2.7-1.6 .3 3.2-2.7 .1z" fill="#b8122a" stroke="#b8122a" fill-opacity=".3"/><path d="M183.8 208.3l2.7-2.8 .3-.2-2.7 1.6z" fill="#b8122a" stroke="#b8122a"/><path d="M195.3 199.3l4.9-3.2 .4 4.5-4.9 1.8z" fill="#ba162b" stroke="#ba162b" fill-opacity=".3"/><path d="M199.3 198.7l3.1 .6 .4-2.5-3.1-1.7z" fill="#b8122a" stroke="#b8122a"/><path d="M193.8 243.7l-4-10.3 .9 9.3 3.9 9.5z" fill="#e16755" stroke="#e16755" fill-opacity=".3"/><path d="M194.8 199.3l4.9-4.3 .3 2.4-4.9-.1z" fill="#b70d29" stroke="#b70d29"/><path d="M193.8 256.1l.9-3.9 .9 9.8-.9 1.7z" fill="#ec7f68" stroke="#ec7f68" fill-opacity=".3"/><path d="M195 197.3l5 .1 .2-1.4-4.9 3.3z" fill="#b50928" stroke="#b50928" fill-opacity=".3"/><path d="M200.2 196.1l3.2 2.5 .3 1.2-3.1 .9z" fill="#ba162b" stroke="#ba162b" fill-opacity=".3"/><path d="M199.6 195l3.1 1.8 .4 2.2-3.1-1.6z" fill="#b8122a" stroke="#b8122a"/><path d="M200 197.4l3.1 1.6 .3-.4-3.2-2.5z" fill="#b8122a" stroke="#b8122a" fill-opacity=".3"/><path d="M188.3 219.1l-3.2-8.1 .8 9.9 3.1 5z" fill="#c73636" stroke="#c73636" fill-opacity=".3"/><path d="M185 250.6l2.3 .1 .6-8-2.3-.6z" fill="#e36c59" stroke="#e36c59"/><path d="M186 217.2l-3.1-5 .5-3.5 3 3.5z" fill="#be242f" stroke="#be242f"/><path d="M186.4 212.2l-3-3.5 .4-.4 3 3.5z" fill="#ba162b" stroke="#ba162b"/><path d="M187.8 215.6l-3.1-7.2 .4 2.5 3.2 8.1z" fill="#bd1f2e" stroke="#bd1f2e" fill-opacity=".3"/><path d="M191.4 253.7l2.4 2.4 .9 7.6-2.4 .3z" fill="#ea7b65" stroke="#ea7b65" fill-opacity=".3"/><path d="M187.9 242.8l1-1 .5-9-.9 1.7z" fill="#d9584b" stroke="#d9584b"/><path d="M189.4 232.8l-3.9-7.8 .5-7.8 3.9 8.4z" fill="#cc403c" stroke="#cc403c"/><path d="M187.4 212.1l-3-3.5 .3-.1 3.1 7.2z" fill="#b8122a" stroke="#b8122a" fill-opacity=".3"/><path d="M186.9 211.7l-3-3.5 .2-1.4 3.1 4.9z" fill="#b70d29" stroke="#b70d29"/><path d="M193 233.9l-3.9-8.1 .7 7.6 4 10.3z" fill="#d55045" stroke="#d55045" fill-opacity=".3"/><path d="M187.2 211.7l-3.1-4.8 .3 1.6 3 3.5z" fill="#b70d29" stroke="#b70d29" fill-opacity=".3"/><path d="M192.8 244.5l1-.8 .8 8.6-.9 3.8z" fill="#e26956" stroke="#e26956" fill-opacity=".3"/><path d="M185.6 242.1l2.3 .7 .6-8.4-2.3 1.8z" fill="#d75448" stroke="#d75448"/><path d="M190.5 245.3l2.3-.8 .9 11.7-2.4-2.4z" fill="#e06553" stroke="#e06553" fill-opacity=".3"/><path d="M192.2 225.9l-3.9-6.9 .7 6.8 3.9 8.1z" fill="#c83838" stroke="#c83838" fill-opacity=".3"/><path d="M189.9 225.6l-3.9-8.4 .4-5.1 4 10.8z" fill="#c02830" stroke="#c02830"/><path d="M188.5 234.5l.9-1.7 .6-7.1-.9 4.5z" fill="#cc403c" stroke="#cc403c"/><path d="M192.1 238.1l.9-4.2 .8 9.8-1 .8z" fill="#d55045" stroke="#d55045" fill-opacity=".3"/><path d="M191.8 223.8l-3.9-8.2 .5 3.4 3.9 6.9z" fill="#c02830" stroke="#c02830" fill-opacity=".3"/><path d="M190.4 222.9l-4-10.8 .4-.4 3.9 6.9z" fill="#ba162b" stroke="#ba162b"/><path d="M191.4 221.7l-4-9.7 .4 3.6 4 8.2z" fill="#bb1b2c" stroke="#bb1b2c" fill-opacity=".3"/><path d="M186.2 236.2l2.3-1.8 .6-4.2-2.4-1.7z" fill="#cb3e3a" stroke="#cb3e3a"/><path d="M189.7 236.6l2.4 1.5 .7 6.4-2.3 .8z" fill="#d44e44" stroke="#d44e44" fill-opacity=".3"/><path d="M191.1 218.2l-3.9-6.5 .3 .3 3.9 9.7z" fill="#b70d29" stroke="#b70d29" fill-opacity=".3"/><path d="M190.8 218.7l-3.9-6.9 .3-0 3.9 6.5z" fill="#b70d29" stroke="#b70d29"/><path d="M189.1 230.2l.9-4.6 .5-2.6-.9 3.5z" fill="#c32e33" stroke="#c32e33"/><path d="M191.3 229.4l.9-3.4 .7 7.9-.8 4.2z" fill="#c83838" stroke="#c83838" fill-opacity=".3"/><path d="M186.7 228.6l2.4 1.6 .5-3.7-2.4-1.2z" fill="#c12b31" stroke="#c12b31"/><path d="M189 230.4l2.3-1.1 .8 8.7-2.4-1.4z" fill="#c73636" stroke="#c73636" fill-opacity=".3"/><path d="M189.5 226.4l.9-3.5 .3-4.3-.9 4.4z" fill="#bb1b2c" stroke="#bb1b2c"/><path d="M190.8 225.6l.9-1.7 .5 2.1-.9 3.4z" fill="#be242f" stroke="#be242f" fill-opacity=".3"/><path d="M190.5 224.3l.9-2.6 .4 2.1-.9 1.7z" fill="#bb1b2c" stroke="#bb1b2c" fill-opacity=".3"/><path d="M190.2 224.3l.8-6.1 .4 3.5-1 2.6z" fill="#b8122a" stroke="#b8122a" fill-opacity=".3"/><path d="M189.9 223l.9-4.4 .3-.4-.8 6.1z" fill="#b70d29" stroke="#b70d29"/><path d="M188.6 228.9l2.3-3.4 .5 3.9-2.3 1z" fill="#c02830" stroke="#c02830" fill-opacity=".3"/><path d="M187.2 225.3l2.4 1.2 .3-3.4-2.3-.3z" fill="#ba162b" stroke="#ba162b"/><path d="M188.1 224.9l2.3-.5 .4 1.2-2.3 3.4z" fill="#bb1b2c" stroke="#bb1b2c" fill-opacity=".3"/><path d="M187.9 223.2l2.4 1.1 .2 0-2.3 .5z" fill="#b8122a" stroke="#b8122a" fill-opacity=".3"/><path d="M187.5 222.7l2.4 .3 .3 1.3-2.4-1.1z" fill="#b70d29" stroke="#b70d29"/></g><polyline points="188.1,365 343.7,205.5" fill="none" stroke="#e8482a" stroke-width="3.7" stroke-linejoin="round" stroke-linecap="round"/><polyline points="186.5,362.6 197,355.3 191.4,344.7 197.9,335 204.4,334.1 209.3,336.6 212.5,330.9 217.4,326.8 222.3,324.4 228.8,322.8 233.7,317.9 238.5,313 243,308.5 251.1,302 257.6,297.2 262.5,292.3 269,287.4 273.9,279.3 278.8,272.8 280.4,263 285.3,259.8 290.5,255.2 291.3,247.4 295.7,245.6 301,242.1 306.2,236 308.8,229 314.9,226.4 321.9,221.2 327.1,216 334.1,212.5 338.5,208.1 339.3,203.7 342.8,202.9 348.9,206.3" fill="none" stroke="#2e70e2" stroke-width="3.4" stroke-linejoin="round" stroke-linecap="round"/><g fill="#303030" font-family="&quot;Liberation Serif&quot;, serif"><text x="21.6" y="274.1" font-size="22" text-anchor="middle">0. 1</text><text x="63.7" y="312.6" font-size="22" text-anchor="middle">0. 3</text><text x="102" y="362.8" font-size="22" text-anchor="middle">0. 5</text><text x="143.3" y="410" font-size="22" text-anchor="middle">0. 7</text><text x="232.4" y="423.2" font-size="22" text-anchor="middle">800</text><text x="287.1" y="406.9" font-size="22" text-anchor="middle">1000</text><text x="347.6" y="386.7" font-size="22" text-anchor="middle">1200</text><text x="403.9" y="368.4" font-size="22" text-anchor="middle">1400</text><text x="463.7" y="351" font-size="22" text-anchor="middle">1600</text><text x="488.6" y="321.2" font-size="22" text-anchor="middle">0</text><text x="492.9" y="280.5" font-size="22" text-anchor="middle">2</text><text x="497.1" y="243.7" font-size="22" text-anchor="middle">4</text><text x="500.6" y="209" font-size="22" text-anchor="middle">6</text></g><g fill="#141414" stroke="#141414" stroke-width="0.3" font-family="&quot;Liberation Serif&quot;, serif"><text x="49.7" y="372.8" font-size="25.5" text-anchor="middle">RUL</text><text x="376.5" y="410.5" font-size="24.5" text-anchor="middle" transform="rotate(-19.6 376.5 410.5)">Sample</text><text x="538.5" y="242.5" font-size="24" text-anchor="middle" transform="rotate(-87.2 538.5 242.5)">Kernel Distributions</text></g><g fill="#141414" stroke="#141414" stroke-width="0.45" font-family="&quot;Liberation Serif&quot;, serif"><text x="491.5" y="38.5" font-size="16.2" text-anchor="end">Real RUL</text><text x="491.5" y="57.8" font-size="16.2" text-anchor="end">Point estimation of the RUL</text></g><path d="M510 32H545" stroke="#b8202c" stroke-width="2.6"/><path d="M510 51.6H545" stroke="#5553cc" stroke-width="2.6"/></svg></body></html>
